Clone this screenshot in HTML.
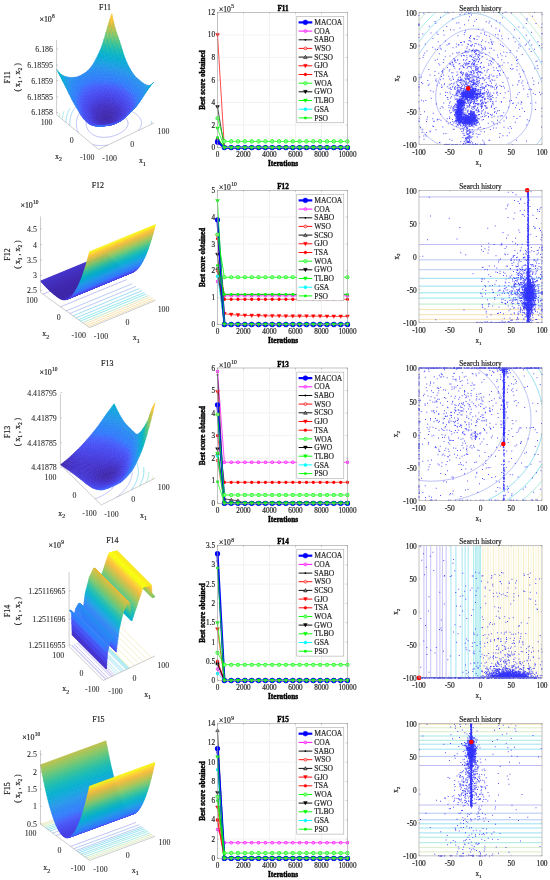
<!DOCTYPE html>
<html><head><meta charset="utf-8"><style>
html,body{margin:0;padding:0;background:#fff;width:550px;height:880px;overflow:hidden}
svg{display:block}
text{font-family:'Liberation Serif','Times New Roman',serif;fill:#1e1e1e;stroke:#1e1e1e;stroke-width:0.18px}
text[font-weight=bold]{stroke-width:0.4px;fill:#000;stroke:#000}
.t3{stroke-width:0.05px}
</style></head><body>
<svg width="550" height="880" viewBox="0 0 550 880" style="font-family:'Liberation Serif','Times New Roman',serif">
<rect width="550" height="880" fill="#fff"/>
<g id="s3d0">
<path d="M116.1,135L115.8,135.1L115.7,135.1L115.4,135.3L115,135.4L114.6,135.6L114.2,135.7L113.8,135.8L113.4,135.9L113.4,135.9L113,136L112.6,136.2L112.2,136.3L111.8,136.4L111.7,136.4L111.3,136.5L110.9,136.6L110.5,136.7L110.4,136.7L110,136.8L109.6,136.8L109.2,136.9L109.1,136.9L108.7,137L108.2,137.1L108.1,137.1L107.8,137.1L107.3,137.2L107.2,137.2L106.8,137.2L106.3,137.3L106.3,137.3L105.8,137.3L105.4,137.3L105.3,137.3L104.8,137.4L104.7,137.4L104.2,137.4L103.9,137.4L103.7,137.4L103.2,137.4L103.1,137.4L102.6,137.3L102.6,137.3L102,137.3L101.9,137.3L101.4,137.3L101.3,137.3L100.7,137.2L100.7,137.2L100.2,137.1L100.1,137.1L99.6,137L99.4,137L99.1,136.9L98.7,136.9L98.6,136.8L98.1,136.7L97.9,136.7L97.6,136.6L97.2,136.5L97.1,136.5L96.7,136.4L96.3,136.2L96.2,136.2L95.9,136.1L95.5,135.9L95.3,135.8L95.1,135.8L94.7,135.6L94.4,135.4L94.1,135.3L94,135.3L93.7,135.1L93.3,134.9L93,134.7L92.7,134.5L92.4,134.3L92.3,134.3L92.1,134.1L91.8,133.9L91.5,133.7L91.2,133.5L91,133.3L90.7,133.1L90.4,132.8L90.2,132.6L90,132.4L89.8,132.2L89.7,132.1L89.5,131.9L89.3,131.7L89.1,131.4L88.9,131.2L88.7,130.9L88.6,130.8L88.5,130.7L88.3,130.4L88.2,130.2L88,129.9L87.9,129.8L87.8,129.6L87.7,129.3L87.5,129.1L87.5,128.9L87.4,128.8L87.3,128.5L87.2,128.2L87.1,128.2L87,127.9L86.9,127.7L86.9,127.5L86.8,127.4L86.7,127.1L86.7,126.9L86.6,126.8L86.5,126.5L86.5,126.3L86.5,126.2L86.4,125.8L86.4,125.8L86.3,125.5L86.3,125.3L86.3,125.2L86.2,124.9L86.2,124.8L86.2,124.6L86.2,124.3L86.2,124.2L86.2,123.9L86.2,123.8L86.2,123.6L86.2,123.3L86.2,123.2L86.2,122.9L86.2,122.9L86.2,122.5L86.2,122.5L86.2,122.1L86.3,122.1L86.3,121.8L86.3,121.7L86.4,121.4L86.4,121.3L86.4,121L86.5,120.9L86.5,120.6L86.6,120.5L86.7,120.2L86.7,120.2L86.8,119.8L86.8,119.8L86.9,119.5L86.9,119.4L87.1,119.1L87.1,119L87.2,118.8L87.3,118.5L87.4,118.5L87.5,118.2L87.6,118.1L87.7,117.9L87.9,117.6L87.9,117.6L88.1,117.3L88.2,117.1L88.3,117L88.5,116.7L88.7,116.5L88.7,116.4L89,116.2L89.2,115.9L89.2,115.9L89.4,115.7L89.7,115.4L89.9,115.2L90,115.2L90.2,115L90.5,114.7L90.8,114.5L91.1,114.3L91.1,114.3L91.4,114.1L91.7,113.9L92,113.7L92.3,113.5L92.7,113.4L93,113.2L93.4,113L93.7,112.9L94.1,112.7L94.4,112.6L94.8,112.4L95.2,112.3L95.5,112.2L95.6,112.2L96,112.1L96.4,111.9L96.8,111.8L97.2,111.7L97.2,111.7L97.7,111.6L98.1,111.6L98.4,111.5L98.6,111.5L99,111.4L99.5,111.3L99.5,111.3L99.9,111.3L100.4,111.2L100.5,111.2L100.9,111.2L101.3,111.1L101.4,111.1L101.9,111.1L102.2,111.1L102.4,111.1L102.9,111L103,111L103.5,111L103.7,111L104,111L104.4,111L104.6,111L105.1,111.1L105.2,111.1L105.7,111.1L105.7,111.1L106.3,111.1L106.4,111.1L106.9,111.2L107,111.2L107.5,111.2L107.6,111.2L108.1,111.3L108.2,111.3L108.8,111.3L108.8,111.3L109.3,111.4L109.4,111.4L109.9,111.5L110.1,111.5L110.4,111.6L110.8,111.6L111,111.7L111.5,111.8L111.5,111.8L112,111.9L112.2,111.9L112.5,112L112.9,112.1L113,112.1L113.5,112.2L113.7,112.2L113.9,112.3L114.4,112.4L114.5,112.4L114.9,112.6L115.3,112.7L115.3,112.7L115.8,112.8L116.2,112.9L116.2,112.9L116.6,113.1L117,113.2L117.1,113.2L117.5,113.4L117.9,113.5L118,113.6L118.3,113.7L118.7,113.8L119,114L119.1,114L119.4,114.1L119.8,114.3L120.2,114.5L120.3,114.5L120.5,114.6L120.9,114.8L121.2,115L121.6,115.2L121.7,115.2L121.9,115.4L122.2,115.5L122.6,115.7L122.9,115.9L123.2,116.1L123.5,116.3L123.8,116.5L124,116.7L124.1,116.7L124.3,117L124.6,117.2L124.8,117.4L125.1,117.6L125.1,117.6L125.3,117.8L125.6,118.1L125.8,118.3L126,118.5L126.2,118.8L126.4,119L126.6,119.3L126.7,119.4L126.8,119.5L127,119.8L127.1,120.1L127.2,120.3L127.3,120.3L127.4,120.6L127.5,120.9L127.6,121L127.6,121.2L127.7,121.5L127.8,121.6L127.8,121.8L127.9,122.1L127.9,122.2L128,122.4L128,122.7L128,122.7L128,123.1L128,123.2L128,123.4L128,123.6L128,123.8L128,124.1L128,124.1L127.9,124.5L127.9,124.5L127.8,124.8L127.8,124.9L127.7,125.2L127.7,125.3L127.6,125.6L127.6,125.7L127.5,125.9L127.4,126.1L127.3,126.2L127.2,126.6L127.2,126.6L127,126.9L126.9,127L126.8,127.2L126.7,127.5L126.6,127.5L126.5,127.8L126.3,128L126.3,128.1L126,128.3L125.8,128.6L125.8,128.6L125.6,128.9L125.4,129.1L125.3,129.2L125.1,129.4L124.9,129.6L124.7,129.8L124.6,129.9L124.4,130.1L124.1,130.3L123.8,130.6L123.8,130.6L123.6,130.8L123.3,131L123,131.2L122.7,131.5L122.7,131.5L122.4,131.7L122.1,131.9L121.8,132.1L121.5,132.3L121.2,132.5L120.9,132.7L120.8,132.7L120.6,132.8L120.3,133L119.9,133.2L119.6,133.4L119.3,133.6L118.9,133.7L118.6,133.9L118.3,134.1L117.9,134.2L117.6,134.4L117.2,134.6L116.8,134.7L116.5,134.9L116.1,135" stroke="#8f8ff0" fill="none" stroke-width="0.6"/>
<path d="M108,145L107.6,145.1L107.1,145.2L107,145.2L106.6,145.2L106.1,145.3L106.1,145.3L105.7,145.3L105.2,145.4L105.2,145.4L104.7,145.4L104.3,145.4L104.2,145.4L103.7,145.5L103.5,145.5L103.1,145.5L102.7,145.5L102.6,145.5L102.1,145.5L102,145.5L101.6,145.5L101.2,145.5L101,145.5L100.5,145.5L100.5,145.5L99.9,145.5L99.8,145.5L99.3,145.5L99.2,145.5L98.7,145.5L98.6,145.4L98.1,145.4L97.9,145.4L97.5,145.4L97.3,145.3L96.9,145.3L96.8,145.3L96.2,145.2L96.2,145.2L95.7,145.1L95.6,145.1L95.1,145L94.9,145L94.6,144.9L94.1,144.8L94.1,144.8L93.6,144.7L93.4,144.7L93.1,144.6L92.7,144.5L92.6,144.5M78.4,132.7L78.3,132.5L78.2,132.2L78.1,132L78,131.9L77.9,131.6L77.8,131.3L77.8,131.3L77.7,131L77.6,130.7L77.6,130.7L77.5,130.4L77.4,130.1L77.4,130.1L77.3,129.8L77.2,129.5L77.2,129.5L77.2,129.2L77.1,128.9L77.1,128.9L77,128.6L77,128.4L76.9,128.3L76.9,128L76.8,127.8L76.8,127.7L76.8,127.4L76.7,127.3L76.7,127.1L76.7,126.8L76.7,126.7L76.6,126.4L76.6,126.3L76.6,126.1L76.5,125.8L76.5,125.8L76.5,125.4L76.5,125.3L76.5,125.1L76.5,124.8L76.5,124.8L76.4,124.4L76.4,124.3L76.4,124.1L76.4,123.9L76.4,123.8L76.4,123.4L76.4,123.4L76.4,123.1L76.4,123L76.4,122.7L76.4,122.5L76.5,122.4L76.5,122.1L76.5,122L76.5,121.7L76.5,121.7L76.5,121.3L76.5,121.3L76.6,120.9L76.6,120.8L76.6,120.6L76.6,120.4L76.7,120.2L76.7,120L76.8,119.8L76.8,119.6L76.8,119.4L76.9,119.3L76.9,119.1L76.9,118.9L77,118.7L77,118.5L77.1,118.3L77.1,118.1L77.2,117.9L77.2,117.8L77.3,117.5L77.4,117.4L77.5,117.1L77.5,117.1L77.6,116.7L77.6,116.7L77.7,116.4L77.8,116.2L77.9,116L78,115.8L78,115.7L78.2,115.4L78.2,115.4L78.3,115L78.4,114.9L78.5,114.7L78.6,114.5L78.6,114.4L78.8,114.1L78.9,114L79,113.8L79.2,113.5L79.2,113.5L79.4,113.2L79.5,113L79.6,112.9L79.8,112.6L79.9,112.5L80,112.4L80.2,112.1L80.4,111.9L80.4,111.8L80.7,111.6L80.9,111.3L80.9,111.3L81.1,111.1L81.4,110.8L81.5,110.7L81.6,110.6L81.9,110.3L82.1,110.1L82.4,109.9L82.4,109.9L82.7,109.6L83,109.4L83.3,109.2L83.6,109L83.6,109L83.9,108.8L84.2,108.6L84.5,108.4L84.8,108.2L85.1,108L85.4,107.8L85.8,107.7L86.1,107.5L86.5,107.3L86.8,107.2L87.2,107L87.5,106.9L87.9,106.7L88.3,106.6L88.7,106.4L89,106.3L89.4,106.2L89.4,106.2L89.8,106.1L90.2,106L90.7,105.8L91.1,105.7L91.1,105.7L91.5,105.6L91.9,105.5L92.4,105.4L92.4,105.4L92.8,105.4L93.2,105.3L93.6,105.2L93.7,105.2L94.2,105.1L94.6,105.1L94.6,105.1L95.1,105L95.6,104.9L95.6,104.9L96.1,104.9L96.5,104.8L96.5,104.8L97,104.8L97.4,104.8L97.5,104.8L98,104.7L98.2,104.7L98.6,104.7L99,104.7L99.1,104.7L99.6,104.7L99.8,104.7L100.1,104.6L100.5,104.6L100.7,104.6L101.2,104.6L101.3,104.6L101.8,104.6L102,104.6L102.3,104.6L102.7,104.7L102.9,104.7L103.3,104.7L103.4,104.7L104,104.7L104,104.7L104.6,104.7L104.7,104.7L105.2,104.8L105.3,104.8L105.8,104.8L105.9,104.8L106.4,104.8L106.5,104.9L107,104.9L107.1,104.9L107.6,105L107.7,105L108.2,105L108.3,105L108.8,105.1L108.9,105.1L109.5,105.2L109.5,105.2L110.1,105.2L110.1,105.2L110.6,105.3L110.8,105.3L111.2,105.4L111.4,105.4L111.7,105.5L112.1,105.5L112.3,105.5L112.8,105.6L112.8,105.6L113.3,105.7L113.5,105.7L113.9,105.8L114.2,105.9L114.4,105.9L114.9,106L114.9,106L115.4,106.1L115.6,106.1L115.9,106.2L116.3,106.3L116.4,106.3L116.9,106.4L117.1,106.5L117.4,106.5L117.8,106.6L117.9,106.6L118.4,106.7L118.6,106.8L118.8,106.9L119.3,107L119.3,107L119.8,107.1L120.1,107.2L120.2,107.2L120.7,107.3L120.9,107.4L121.2,107.5L121.6,107.6L121.8,107.6L122.1,107.7L122.5,107.9L122.6,107.9L122.9,108L123.4,108.1L123.5,108.1L123.8,108.3L124.2,108.4L124.4,108.4L124.7,108.5L125.1,108.7L125.3,108.7L125.5,108.8L125.9,109L126.2,109.1L126.3,109.1L126.7,109.3L127.1,109.4L127.2,109.5L127.5,109.6L127.9,109.7L128.3,109.9L128.3,109.9L128.7,110L129.1,110.2L129.4,110.4L129.5,110.4L129.8,110.5L130.2,110.7L130.6,110.9L130.6,110.9L130.9,111L131.3,111.2L131.6,111.4L132,111.6L132,111.6L132.3,111.7L132.6,111.9L133,112.1L133.3,112.3L133.6,112.5L133.7,112.5L134,112.7L134.3,112.9L134.6,113.1L134.9,113.3L135.2,113.5L135.5,113.7L135.8,113.9L136,114.1L136.3,114.3L136.6,114.5L136.9,114.7L137.1,114.9L137.4,115.2L137.6,115.4L137.9,115.6L138.1,115.8L138.3,116.1L138.6,116.3L138.8,116.5L139,116.8L139.2,117L139.3,117.2L139.4,117.3L139.6,117.5L139.8,117.8L139.9,118.1L140.1,118.3L140.1,118.3L140.3,118.6L140.4,118.9L140.5,119.1L140.6,119.1L140.7,119.4L140.8,119.7L140.9,119.8L140.9,120L141,120.3L141.1,120.5L141.1,120.6L141.2,120.9L141.2,121L141.3,121.2L141.3,121.5L141.4,121.6L141.4,121.8L141.4,122.1L141.4,122.2L141.5,122.5L141.5,122.6L141.5,122.8L141.5,123L141.5,123.2L141.4,123.4L141.4,123.5L141.4,123.9L141.4,123.9L141.3,124.3L141.3,124.3L141.3,124.6L141.3,124.7L141.2,125L141.2,125L141.1,125.4L141.1,125.4L141,125.8L141,125.8L140.8,126.1L140.8,126.2L140.7,126.5L140.6,126.7L140.6,126.8L140.4,127.1L140.4,127.1L140.3,127.4L140.2,127.6L140.1,127.7L139.9,128L139.9,128.1L139.7,128.4L139.6,128.5L139.5,128.7L139.4,128.9L139.3,129L139.2,129.2L138.9,129.5L138.9,129.5L138.7,129.8L138.5,130.1L138.5,130.1L138.3,130.3L138.1,130.6L138,130.6" stroke="#8f9cf0" fill="none" stroke-width="0.6"/>
<path d="M151.6,121L151.6,121L151.7,121.4L151.7,121.5L151.7,121.7L151.7,122L151.7,122L151.7,122.4L151.7,122.5L151.7,122.7L151.7,122.9L151.7,123.1L151.7,123.3L151.7,123.4L151.6,123.7L151.6,123.8L151.6,124.1L151.5,124.2M69.9,125.7L69.9,125.5L69.8,125.2L69.8,125.2L69.8,124.9L69.8,124.7L69.8,124.5L69.8,124.3L69.8,124.2L69.8,123.8L69.8,123.8L69.8,123.5L69.8,123.4L69.8,123.1L69.8,122.9L69.8,122.8L69.8,122.5L69.8,122.4L69.9,122.1L69.9,122L69.9,121.7L69.9,121.6L69.9,121.4L69.9,121.2L69.9,121L69.9,120.8L70,120.7L70,120.4L70,120.3L70,119.9L70,119.9L70.1,119.6L70.1,119.5L70.1,119.2L70.1,119.1L70.2,118.8L70.2,118.7L70.3,118.5L70.3,118.3L70.3,118.1L70.4,117.9L70.4,117.7L70.4,117.6L70.5,117.3L70.5,117.2L70.6,116.9L70.6,116.8L70.7,116.5L70.7,116.4L70.8,116.2L70.8,116.1L70.9,115.8L70.9,115.7L71,115.4L71,115.3L71.1,115L71.1,114.9L71.3,114.6L71.3,114.5L71.4,114.3L71.4,114.1L71.5,113.9L71.6,113.7L71.6,113.6L71.8,113.3L71.8,113.3L71.9,112.9L72,112.8L72.1,112.6L72.2,112.4L72.2,112.3L72.4,112L72.4,111.9L72.5,111.6L72.6,111.5L72.7,111.3L72.9,111L72.9,111L73.1,110.7L73.2,110.5L73.3,110.4L73.4,110.1L73.5,110L73.6,109.8L73.8,109.5L73.8,109.5L74,109.3L74.2,109L74.2,109L74.5,108.7L74.7,108.4L74.7,108.4L74.9,108.2L75.1,107.9L75.2,107.9L75.4,107.7L75.6,107.4L75.8,107.2L75.9,107.1L76.1,106.9L76.4,106.7L76.5,106.5L76.6,106.4L76.9,106.2L77.2,106L77.4,105.7L77.5,105.7L77.7,105.5L78,105.3L78.3,105.1L78.6,104.9L78.9,104.7L78.9,104.7L79.2,104.5L79.5,104.3L79.8,104.1L80.2,103.9L80.5,103.8L80.8,103.6L81.2,103.4L81.5,103.3L81.9,103.1L82.2,102.9L82.6,102.8L83,102.6L83.3,102.5L83.7,102.4L84,102.3L84.1,102.2L84.5,102.1L84.9,102L85.3,101.8L85.7,101.7L86,101.6L86.1,101.6L86.5,101.5L86.9,101.4L87.4,101.3L87.5,101.3L87.8,101.2L88.2,101.1L88.7,101L88.7,101L89.1,101L89.6,100.9L89.8,100.8L90,100.8L90.5,100.7L90.9,100.7L91,100.7L91.4,100.6L91.8,100.6L91.9,100.6L92.4,100.5L92.8,100.5L92.9,100.5L93.4,100.4L93.6,100.4L93.9,100.4L94.4,100.3L94.5,100.3L94.9,100.3L95.3,100.3L95.4,100.3L95.9,100.3L96.1,100.2L96.4,100.2L96.8,100.2L97,100.2L97.5,100.2L97.6,100.2L98,100.2L98.3,100.2L98.6,100.2L99,100.2L99.1,100.2L99.7,100.2L99.7,100.2L100.2,100.2L100.4,100.2L100.8,100.2L101.1,100.2L101.4,100.3L101.8,100.3L101.9,100.3L102.4,100.3L102.5,100.3L103.1,100.3L103.1,100.3L103.7,100.4L103.7,100.4L104.3,100.4L104.3,100.4L104.9,100.4L105,100.5L105.5,100.5L105.6,100.5L106.1,100.5L106.2,100.6L106.7,100.6L106.8,100.6L107.3,100.7L107.4,100.7L107.9,100.7L108,100.7L108.6,100.8L108.6,100.8L109.1,100.9L109.2,100.9L109.7,100.9L109.8,100.9L110.3,101L110.5,101L110.9,101.1L111.1,101.1L111.4,101.1L111.8,101.2L112,101.2L112.5,101.3L112.5,101.3L113.1,101.4L113.1,101.4L113.6,101.5L113.8,101.5L114.1,101.6L114.5,101.6L114.7,101.6L115.2,101.7L115.2,101.7L115.7,101.8L115.8,101.8L116.3,101.9L116.5,102L116.8,102L117.2,102.1L117.3,102.1L117.8,102.2L118,102.2L118.3,102.3L118.7,102.4L118.8,102.4L119.3,102.5L119.4,102.5L119.8,102.6L120.1,102.7L120.3,102.7L120.8,102.8L120.9,102.8L121.3,102.9L121.6,103L121.8,103L122.3,103.2L122.4,103.2L122.8,103.3L123.1,103.4L123.2,103.4L123.7,103.5L123.9,103.6L124.2,103.6L124.7,103.7L124.7,103.7L125.1,103.9L125.5,104L125.6,104L126,104.1L126.3,104.2L126.5,104.2L127,104.3L127.1,104.4L127.4,104.5L127.9,104.6L128,104.6L128.3,104.7L128.7,104.9L128.8,104.9L129.2,105L129.6,105.1L129.7,105.1L130.1,105.3L130.5,105.4L130.6,105.4L130.9,105.5L131.3,105.7L131.5,105.7L131.8,105.8L132.2,106L132.4,106L132.6,106.1L133,106.3L133.3,106.4L133.4,106.4L133.8,106.5L134.2,106.7L134.3,106.7" stroke="#6fb5ee" fill="none" stroke-width="0.6"/>
<path d="M66,122.4L66,122.2L66,122L66,121.9L66,121.6L66,121.5L66,121.2L66,121.2L66.1,120.8L66.1,120.7L66.1,120.5L66.1,120.3L66.1,120.1L66.2,119.9L66.2,119.7L66.2,119.5L66.2,119.4L66.3,119.1L66.3,119L66.3,118.7L66.3,118.6L66.4,118.3L66.4,118.3L66.4,117.9L66.4,117.9L66.5,117.5L66.5,117.5L66.6,117.1L66.6,117.1L66.6,116.8L66.6,116.7L66.7,116.4L66.7,116.3L66.8,116L66.8,115.9L66.9,115.6L66.9,115.5L67,115.2L67,115.2L67.1,114.8L67.1,114.8L67.2,114.4L67.2,114.4L67.3,114.1L67.3,114L67.4,113.7L67.4,113.6L67.5,113.4L67.6,113.2L67.6,113L67.7,112.8L67.8,112.7L67.9,112.4L67.9,112.3L68,112L68,112L68.2,111.6L68.2,111.5L68.3,111.3L68.4,111.1L68.5,111L68.6,110.7L68.6,110.6L68.8,110.3L68.8,110.2L68.9,110L69,109.8L69.1,109.7L69.3,109.4L69.3,109.3L69.4,109.1L69.6,108.8L69.6,108.8L69.8,108.4L69.8,108.4M92,97.7L92.3,97.7L92.8,97.7L92.8,97.7L93.3,97.7L93.6,97.6L93.8,97.6L94.4,97.6L94.4,97.6L94.9,97.6L95.2,97.6L95.4,97.6L95.9,97.6L96,97.6L96.5,97.6L96.6,97.6L97,97.6L97.3,97.6L97.6,97.6L98,97.6L98.1,97.6L98.7,97.6L98.7,97.6L99.3,97.6L99.4,97.6L99.8,97.6L100.1,97.6L100.4,97.7L100.7,97.7L101,97.7L101.4,97.7L101.6,97.7L102,97.7L102.2,97.7L102.7,97.8L102.7,97.8L103.3,97.8L103.3,97.8L103.9,97.9L103.9,97.9L104.5,97.9L104.5,97.9L105.1,98L105.2,98L105.8,98L105.8,98L106.4,98.1L106.4,98.1L107,98.1L107,98.1L107.5,98.2L107.6,98.2L108.1,98.3L108.2,98.3L108.7,98.3L108.9,98.3L109.3,98.4L109.5,98.4L109.9,98.5L110.2,98.5L110.4,98.5L110.8,98.6L111,98.6L111.5,98.7L111.6,98.7L112.1,98.7L112.1,98.8L112.7,98.8L112.8,98.8L113.2,98.9L113.4,98.9L113.8,99L114.1,99L114.3,99.1L114.8,99.1L114.8,99.2L115.4,99.2L115.4,99.3L115.9,99.3L116.1,99.4L116.4,99.4L116.8,99.5L117,99.5L117.5,99.6L117.5,99.6L118,99.7L118.2,99.7L118.5,99.8L118.9,99.9L119.1,99.9L119.6,100L119.6,100L120.1,100.1L120.3,100.1L120.6,100.2L121.1,100.3L121.1,100.3L121.6,100.4L121.8,100.4L122.1,100.5L122.5,100.6L122.6,100.6L123.1,100.7L123.3,100.7L123.6,100.8L124,100.9L124.1,100.9L124.6,101L124.7,101.1L125,101.1L125.5,101.3L125.5,101.3L126,101.4L126.3,101.4L126.5,101.5L127,101.6L127,101.6L127.4,101.7L127.8,101.8L127.9,101.8L128.4,102L128.6,102" stroke="#5fd0e8" fill="none" stroke-width="0.6"/>
<path d="M62.3,119.4L62.4,119.2L62.4,119L62.4,118.8L62.4,118.6L62.4,118.4L62.5,118.2L62.5,118.1L62.5,117.8L62.5,117.7L62.6,117.4L62.6,117.3L62.7,117L62.7,117L62.7,116.6L62.7,116.6L62.8,116.2L62.8,116.2L62.9,115.8L62.9,115.8L62.9,115.4L62.9,115.4L63,115.1L63,115L63.1,114.7L63.1,114.7L63.2,114.3L63.2,114.3L63.3,113.9L63.3,113.9L63.4,113.5L63.4,113.5L63.5,113.2L63.5,113.1L63.6,112.8L63.6,112.7L63.7,112.4L63.7,112.3L63.8,112.1L63.8,111.9L63.9,111.7L64,111.5L64,111.4L64.1,111.1M97.7,95L98.3,95L98.4,95L98.9,95L99.1,95L99.4,95.1L99.7,95.1L100,95.1L100.4,95.1L100.6,95.1L101,95.1L101.2,95.1L101.6,95.2L101.8,95.2L102.3,95.2L102.4,95.2L102.9,95.3L103,95.3L103.5,95.3L103.6,95.3L104.1,95.4L104.2,95.4L104.7,95.4L104.8,95.4L105.3,95.5L105.4,95.5L105.9,95.5L106,95.5L106.5,95.6L106.7,95.6L107.1,95.7L107.3,95.7L107.7,95.7L107.9,95.7L108.3,95.8L108.6,95.8L108.8,95.8L109.2,95.9L109.4,95.9L109.8,96L110,96L110.5,96L110.6,96.1L111.1,96.1L111.1,96.1L111.7,96.2L111.8,96.2L112.2,96.3L112.4,96.3L112.8,96.4L113.1,96.4L113.3,96.4L113.8,96.5L113.9,96.5L114.4,96.6L114.4,96.6L115,96.7L115.1,96.7L115.5,96.8L115.8,96.8L116.1,96.9L116.4,96.9L116.6,96.9L117.1,97L117.1,97L117.7,97.1L117.8,97.1L118.2,97.2L118.5,97.3L118.7,97.3L119.2,97.4L119.2,97.4L119.8,97.5L119.9,97.5L120.3,97.6L120.6,97.6L120.8,97.7L121.3,97.8L121.3,97.8L121.8,97.9L122,97.9L122.3,98L122.7,98L122.9,98.1L123.4,98.2L123.4,98.2L123.9,98.3L124.2,98.3" stroke="#6fdfe0" fill="none" stroke-width="0.6"/>
<path d="M59.2,116.9L59.3,116.5L59.3,116.5L59.3,116.1L59.3,116.1L59.4,115.8L59.4,115.7L59.4,115.4L59.5,115.3L59.5,115L59.5,114.9L59.6,114.6L59.6,114.5L59.6,114.3L59.7,114.1L59.7,113.9L59.8,113.7L59.8,113.5L59.8,113.3L59.9,113.1M102,93L102.4,93L102.6,93L103,93L103.2,93.1L103.6,93.1L103.8,93.1L104.2,93.2L104.4,93.2L104.9,93.2L105,93.2L105.5,93.3L105.6,93.3L106.1,93.3L106.2,93.3L106.7,93.4L106.8,93.4L107.3,93.5L107.4,93.5L107.9,93.5L108,93.5L108.5,93.6L108.6,93.6L109.1,93.7L109.3,93.7L109.6,93.7L109.9,93.8L110.2,93.8L110.6,93.9L110.8,93.9L111.2,93.9L111.3,94L111.9,94L111.9,94L112.5,94.1L112.5,94.1L113,94.2L113.2,94.2L113.6,94.3L113.8,94.3L114.1,94.4L114.5,94.4L114.7,94.4L115.2,94.5L115.2,94.5L115.8,94.6L115.8,94.6L116.3,94.7L116.5,94.7L116.8,94.8L117.2,94.8L117.4,94.9L117.9,94.9L117.9,94.9L118.4,95L118.5,95L119,95.1L119.2,95.2L119.5,95.2L119.9,95.3L120,95.3L120.6,95.4L120.6,95.4" stroke="#a0e0b0" fill="none" stroke-width="0.6"/>
<path d="M105.5,91.3L105.8,91.3L106.1,91.3L106.5,91.4L106.6,91.4L107.1,91.5L107.2,91.5L107.7,91.5L107.8,91.5L108.4,91.6L108.4,91.6L108.9,91.7L109,91.7L109.5,91.7L109.7,91.8L110.1,91.8L110.3,91.8L110.7,91.9L111,91.9L111.2,92L111.6,92L111.8,92L112.3,92.1L112.3,92.1L112.9,92.2L112.9,92.2L113.4,92.3L113.6,92.3L114,92.3L114.2,92.4L114.6,92.4L114.9,92.5L115.1,92.5L115.6,92.6L115.6,92.6L116.2,92.7L116.2,92.7L116.7,92.8L116.9,92.8L117.3,92.8L117.6,92.9" stroke="#e8d890" fill="none" stroke-width="0.6"/>
<g stroke-width="0.6" stroke-linejoin="round">
<path d="M111.4 26.3L113.4 21.1L111.9 13.7L109.9 19.2z" fill="#fac437" stroke="#fac437"/>
<path d="M109.5 32.4L111.4 26.3L109.9 19.2L108 25.6z" fill="#d3be44" stroke="#d3be44"/>
<path d="M112.9 32.2L114.9 27.2L113.4 21.1L111.4 26.3z" fill="#cebf46" stroke="#cebf46"/>
<path d="M107.5 38.9L109.5 32.4L108 25.6L106 32.4z" fill="#9cc55d" stroke="#9cc55d"/>
<path d="M111 38L112.9 32.2L111.4 26.3L109.5 32.4z" fill="#a0c45b" stroke="#a0c45b"/>
<path d="M114.4 36.9L116.4 32.1L114.9 27.2L112.9 32.2z" fill="#a4c459" stroke="#a4c459"/>
<path d="M105.5 45.5L107.5 38.9L106 32.4L104 39.3z" fill="#5dc680" stroke="#5dc680"/>
<path d="M109 44.3L111 38L109.5 32.4L107.5 38.9z" fill="#67c67a" stroke="#67c67a"/>
<path d="M112.5 42.5L114.4 36.9L112.9 32.2L111 38z" fill="#75c672" stroke="#75c672"/>
<path d="M115.9 41L117.9 36.4L116.4 32.1L114.4 36.9z" fill="#82c76b" stroke="#82c76b"/>
<path d="M103.5 51.5L105.5 45.5L104 39.3L102 45.6z" fill="#29bfa4" stroke="#29bfa4"/>
<path d="M107 50.7L109 44.3L107.5 38.9L105.5 45.5z" fill="#30c09f" stroke="#30c09f"/>
<path d="M110.5 48.6L112.5 42.5L111 38L109 44.3z" fill="#40c393" stroke="#40c393"/>
<path d="M114 46.5L115.9 41L114.4 36.9L112.5 42.5z" fill="#53c586" stroke="#53c586"/>
<path d="M101.6 56.2L103.5 51.5L102 45.6L100.1 50.5z" fill="#0fb6bf" stroke="#0fb6bf"/>
<path d="M117.4 45.1L119.4 40.7L117.9 36.4L115.9 41z" fill="#60c67e" stroke="#60c67e"/>
<path d="M105 56.5L107 50.7L105.5 45.5L103.5 51.5z" fill="#10b7be" stroke="#10b7be"/>
<path d="M108.5 54.8L110.5 48.6L109 44.3L107 50.7z" fill="#19bab4" stroke="#19bab4"/>
<path d="M112 52.4L114 46.5L112.5 42.5L110.5 48.6z" fill="#27bea6" stroke="#27bea6"/>
<path d="M99.6 60.2L101.6 56.2L100.1 50.5L98.1 54.7z" fill="#06afcf" stroke="#06afcf"/>
<path d="M115.5 50.4L117.4 45.1L115.9 41L114 46.5z" fill="#38c199" stroke="#38c199"/>
<path d="M103.1 61L105 56.5L103.5 51.5L101.6 56.2z" fill="#08aed1" stroke="#08aed1"/>
<path d="M118.9 49.7L120.9 45.4L119.4 40.7L117.4 45.1z" fill="#41c393" stroke="#41c393"/>
<path d="M106.5 60.4L108.5 54.8L107 50.7L105 56.5z" fill="#07b0cd" stroke="#07b0cd"/>
<path d="M110 58.4L112 52.4L110.5 48.6L108.5 54.8z" fill="#0db5c2" stroke="#0db5c2"/>
<path d="M97.6 64.1L99.6 60.2L98.1 54.7L96.1 58.7z" fill="#0fa8d9" stroke="#0fa8d9"/>
<path d="M113.5 56.2L115.5 50.4L114 46.5L112 52.4z" fill="#17b9b6" stroke="#17b9b6"/>
<path d="M101.1 64.9L103.1 61L101.6 56.2L99.6 60.2z" fill="#12a6dc" stroke="#12a6dc"/>
<path d="M117 54.8L118.9 49.7L117.4 45.1L115.5 50.4z" fill="#22bdac" stroke="#22bdac"/>
<path d="M104.6 64.8L106.5 60.4L105 56.5L103.1 61z" fill="#11a7dc" stroke="#11a7dc"/>
<path d="M120.4 54.5L122.4 50.3L120.9 45.4L118.9 49.7z" fill="#24bda9" stroke="#24bda9"/>
<path d="M108 63.9L110 58.4L108.5 54.8L106.5 60.4z" fill="#0caad6" stroke="#0caad6"/>
<path d="M95.6 67.6L97.6 64.1L96.1 58.7L94.1 62.5z" fill="#1aa0e3" stroke="#1aa0e3"/>
<path d="M111.5 61.9L113.5 56.2L112 52.4L110 58.4z" fill="#07b0cd" stroke="#07b0cd"/>
<path d="M99.1 68.6L101.1 64.9L99.6 60.2L97.6 64.1z" fill="#1e9de5" stroke="#1e9de5"/>
<path d="M115 60.3L117 54.8L115.5 50.4L113.5 56.2z" fill="#0cb4c4" stroke="#0cb4c4"/>
<path d="M102.6 68.6L104.6 64.8L103.1 61L101.1 64.9z" fill="#1f9de5" stroke="#1f9de5"/>
<path d="M118.5 59.4L120.4 54.5L118.9 49.7L117 54.8z" fill="#0fb6bf" stroke="#0fb6bf"/>
<path d="M106.1 68.2L108 63.9L106.5 60.4L104.6 64.8z" fill="#1b9fe3" stroke="#1b9fe3"/>
<path d="M93.7 70.6L95.6 67.6L94.1 62.5L92.2 65.6z" fill="#2598ea" stroke="#2598ea"/>
<path d="M122 59.1L123.9 55.1L122.4 50.3L120.4 54.5z" fill="#10b6be" stroke="#10b6be"/>
<path d="M109.5 67.3L111.5 61.9L110 58.4L108 63.9z" fill="#13a5de" stroke="#13a5de"/>
<path d="M97.1 72L99.1 68.6L97.6 64.1L95.6 67.6z" fill="#2894ed" stroke="#2894ed"/>
<path d="M113 65.9L115 60.3L113.5 56.2L111.5 61.9z" fill="#0daad7" stroke="#0daad7"/>
<path d="M100.6 72.2L102.6 68.6L101.1 64.9L99.1 68.6z" fill="#2893ed" stroke="#2893ed"/>
<path d="M116.5 64.7L118.5 59.4L117 54.8L115 60.3z" fill="#08aed1" stroke="#08aed1"/>
<path d="M104.1 71.9L106.1 68.2L104.6 64.8L102.6 68.6z" fill="#2895ec" stroke="#2895ec"/>
<path d="M91.7 72.8L93.7 70.6L92.2 65.6L90.2 68z" fill="#2992ee" stroke="#2992ee"/>
<path d="M120 63.8L122 59.1L120.4 54.5L118.5 59.4z" fill="#07b0ce" stroke="#07b0ce"/>
<path d="M107.6 71.5L109.5 67.3L108 63.9L106.1 68.2z" fill="#2598e9" stroke="#2598e9"/>
<path d="M95.2 74.8L97.1 72L95.6 67.6L93.7 70.6z" fill="#2a8cf1" stroke="#2a8cf1"/>
<path d="M123.5 63.1L125.4 59.3L123.9 55.1L122 59.1z" fill="#07b0cc" stroke="#07b0cc"/>
<path d="M111 71.1L113 65.9L111.5 61.9L109.5 67.3z" fill="#1e9de5" stroke="#1e9de5"/>
<path d="M98.6 75.5L100.6 72.2L99.1 68.6L97.1 72z" fill="#2b8af3" stroke="#2b8af3"/>
<path d="M114.5 70.1L116.5 64.7L115 60.3L113 65.9z" fill="#17a2e0" stroke="#17a2e0"/>
<path d="M102.1 75.4L104.1 71.9L102.6 68.6L100.6 72.2z" fill="#2a8bf2" stroke="#2a8bf2"/>
<path d="M89.7 74.8L91.7 72.8L90.2 68L88.2 70.2z" fill="#2a8df1" stroke="#2a8df1"/>
<path d="M118 69L120 63.8L118.5 59.4L116.5 64.7z" fill="#12a6dc" stroke="#12a6dc"/>
<path d="M105.6 75.1L107.6 71.5L106.1 68.2L104.1 71.9z" fill="#2a8df0" stroke="#2a8df0"/>
<path d="M93.2 76.9L95.2 74.8L93.7 70.6L91.7 72.8z" fill="#2c86f5" stroke="#2c86f5"/>
<path d="M121.5 67.7L123.5 63.1L122 59.1L120 63.8z" fill="#0ea9d9" stroke="#0ea9d9"/>
<path d="M109.1 75.2L111 71.1L109.5 67.3L107.6 71.5z" fill="#2990ef" stroke="#2990ef"/>
<path d="M96.7 78.2L98.6 75.5L97.1 72L95.2 74.8z" fill="#2e83f7" stroke="#2e83f7"/>
<path d="M125 66.4L126.9 62.7L125.4 59.3L123.5 63.1z" fill="#0cabd6" stroke="#0cabd6"/>
<path d="M112.5 75.1L114.5 70.1L113 65.9L111 71.1z" fill="#2894ed" stroke="#2894ed"/>
<path d="M100.1 78.6L102.1 75.4L100.6 72.2L98.6 75.5z" fill="#2e83f7" stroke="#2e83f7"/>
<path d="M87.7 76.5L89.7 74.8L88.2 70.2L86.2 72z" fill="#2b8af3" stroke="#2b8af3"/>
<path d="M116 74.2L118 69L116.5 64.7L114.5 70.1z" fill="#2499e9" stroke="#2499e9"/>
<path d="M103.6 78.6L105.6 75.1L104.1 71.9L102.1 75.4z" fill="#2d84f6" stroke="#2d84f6"/>
<path d="M91.2 78.8L93.2 76.9L91.7 72.8L89.7 74.8z" fill="#2e83f7" stroke="#2e83f7"/>
<path d="M119.5 72.6L121.5 67.7L120 63.8L118 69z" fill="#1e9de5" stroke="#1e9de5"/>
<path d="M107.1 78.7L109.1 75.2L107.6 71.5L105.6 75.1z" fill="#2c85f5" stroke="#2c85f5"/>
<path d="M94.7 80.2L96.7 78.2L95.2 74.8L93.2 76.9z" fill="#307ff9" stroke="#307ff9"/>
<path d="M123 70.8L125 66.4L123.5 63.1L121.5 67.7z" fill="#17a3e0" stroke="#17a3e0"/>
<path d="M110.6 79.1L112.5 75.1L111 71.1L109.1 75.2z" fill="#2c86f5" stroke="#2c86f5"/>
<path d="M98.2 81.2L100.1 78.6L98.6 75.5L96.7 78.2z" fill="#317efa" stroke="#317efa"/>
<path d="M85.8 77.7L87.7 76.5L86.2 72L84.2 73.3z" fill="#2b88f4" stroke="#2b88f4"/>
<path d="M126.5 69.4L128.4 65.8L126.9 62.7L125 66.4z" fill="#12a6dc" stroke="#12a6dc"/>
<path d="M114.1 79L116 74.2L114.5 70.1L112.5 75.1z" fill="#2b89f3" stroke="#2b89f3"/>
<path d="M101.6 81.7L103.6 78.6L102.1 75.4L100.1 78.6z" fill="#317efa" stroke="#317efa"/>
<path d="M89.2 80.3L91.2 78.8L89.7 74.8L87.7 76.5z" fill="#2f81f8" stroke="#2f81f8"/>
<path d="M117.5 77.7L119.5 72.6L118 69L116 74.2z" fill="#298fef" stroke="#298fef"/>
<path d="M105.1 82.1L107.1 78.7L105.6 75.1L103.6 78.6z" fill="#317ffa" stroke="#317ffa"/>
<path d="M92.7 82.1L94.7 80.2L93.2 76.9L91.2 78.8z" fill="#327cfb" stroke="#327cfb"/>
<path d="M121 75.6L123 70.8L121.5 67.7L119.5 72.6z" fill="#2796eb" stroke="#2796eb"/>
<path d="M108.6 82.5L110.6 79.1L109.1 75.2L107.1 78.7z" fill="#307ffa" stroke="#307ffa"/>
<path d="M96.2 83.2L98.2 81.2L96.7 78.2L94.7 80.2z" fill="#3479fd" stroke="#3479fd"/>
<path d="M83.8 78.8L85.8 77.7L84.2 73.3L82.3 74.5z" fill="#2c87f4" stroke="#2c87f4"/>
<path d="M124.5 73.6L126.5 69.4L125 66.4L123 70.8z" fill="#1f9de6" stroke="#1f9de6"/>
<path d="M112.1 82.8L114.1 79L112.5 75.1L110.6 79.1z" fill="#307ff9" stroke="#307ff9"/>
<path d="M99.7 84.3L101.6 81.7L100.1 78.6L98.2 81.2z" fill="#3775fc" stroke="#3775fc"/>
<path d="M87.3 81.5L89.2 80.3L87.7 76.5L85.8 77.7z" fill="#3080f9" stroke="#3080f9"/>
<path d="M128 72L129.9 68.5L128.4 65.8L126.5 69.4z" fill="#18a1e1" stroke="#18a1e1"/>
<path d="M115.6 82.4L117.5 77.7L116 74.2L114.1 79z" fill="#2f82f8" stroke="#2f82f8"/>
<path d="M103.1 85.1L105.1 82.1L103.6 78.6L101.6 81.7z" fill="#3775fc" stroke="#3775fc"/>
<path d="M90.7 83.6L92.7 82.1L91.2 78.8L89.2 80.3z" fill="#337afd" stroke="#337afd"/>
<path d="M119 80.5L121 75.6L119.5 72.6L117.5 77.7z" fill="#2b88f4" stroke="#2b88f4"/>
<path d="M106.6 85.8L108.6 82.5L107.1 78.7L105.1 82.1z" fill="#3874fc" stroke="#3874fc"/>
<path d="M94.2 85L96.2 83.2L94.7 80.2L92.7 82.1z" fill="#3a71fc" stroke="#3a71fc"/>
<path d="M81.8 79.7L83.8 78.8L82.3 74.5L80.3 75.6z" fill="#2c86f5" stroke="#2c86f5"/>
<path d="M122.5 78.3L124.5 73.6L123 70.8L121 75.6z" fill="#2990ef" stroke="#2990ef"/>
<path d="M110.1 86.2L112.1 82.8L110.6 79.1L108.6 82.5z" fill="#3873fc" stroke="#3873fc"/>
<path d="M97.7 86.2L99.7 84.3L98.2 81.2L96.2 83.2z" fill="#3e6bfc" stroke="#3e6bfc"/>
<path d="M85.3 82.5L87.3 81.5L85.8 77.7L83.8 78.8z" fill="#307ff9" stroke="#307ff9"/>
<path d="M126 76.1L128 72L126.5 69.4L124.5 73.6z" fill="#2598ea" stroke="#2598ea"/>
<path d="M113.6 86.1L115.6 82.4L114.1 79L112.1 82.8z" fill="#3676fc" stroke="#3676fc"/>
<path d="M101.2 87.6L103.1 85.1L101.6 81.7L99.7 84.3z" fill="#4166fc" stroke="#4166fc"/>
<path d="M88.8 84.7L90.7 83.6L89.2 80.3L87.3 81.5z" fill="#3577fc" stroke="#3577fc"/>
<path d="M129.5 74.3L131.4 71L129.9 68.5L128 72z" fill="#1e9de5" stroke="#1e9de5"/>
<path d="M117.1 85.1L119 80.5L117.5 77.7L115.6 82.4z" fill="#327dfb" stroke="#327dfb"/>
<path d="M104.6 88.7L106.6 85.8L105.1 82.1L103.1 85.1z" fill="#4463fc" stroke="#4463fc"/>
<path d="M92.2 86.5L94.2 85L92.7 82.1L90.7 83.6z" fill="#3d6cfc" stroke="#3d6cfc"/>
<path d="M79.8 80.5L81.8 79.7L80.3 75.6L78.3 76.5z" fill="#2c86f5" stroke="#2c86f5"/>
<path d="M120.5 83.1L122.5 78.3L121 75.6L119 80.5z" fill="#2e83f7" stroke="#2e83f7"/>
<path d="M108.1 89.4L110.1 86.2L108.6 82.5L106.6 85.8z" fill="#4561fb" stroke="#4561fb"/>
<path d="M95.7 88L97.7 86.2L96.2 83.2L94.2 85z" fill="#4364fc" stroke="#4364fc"/>
<path d="M83.3 83.3L85.3 82.5L83.8 78.8L81.8 79.7z" fill="#307ffa" stroke="#307ffa"/>
<path d="M124 80.7L126 76.1L124.5 73.6L122.5 78.3z" fill="#2a8bf2" stroke="#2a8bf2"/>
<path d="M111.6 89.4L113.6 86.1L112.1 82.8L110.1 86.2z" fill="#4462fc" stroke="#4462fc"/>
<path d="M99.2 89.5L101.2 87.6L99.7 84.3L97.7 86.2z" fill="#465efa" stroke="#465efa"/>
<path d="M86.8 85.6L88.8 84.7L87.3 81.5L85.3 82.5z" fill="#3677fc" stroke="#3677fc"/>
<path d="M127.5 78.3L129.5 74.3L128 72L126 76.1z" fill="#2894ed" stroke="#2894ed"/>
<path d="M115.1 88.8L117.1 85.1L115.6 82.4L113.6 86.1z" fill="#4068fc" stroke="#4068fc"/>
<path d="M102.7 91.1L104.6 88.7L103.1 85.1L101.2 87.6z" fill="#4759f7" stroke="#4759f7"/>
<path d="M90.3 87.6L92.2 86.5L90.7 83.6L88.8 84.7z" fill="#3f69fc" stroke="#3f69fc"/>
<path d="M131 76.6L132.9 73.4L131.4 71L129.5 74.3z" fill="#239ae8" stroke="#239ae8"/>
<path d="M77.9 80.9L79.8 80.5L78.3 76.5L76.3 77.1z" fill="#2c87f4" stroke="#2c87f4"/>
<path d="M118.6 87.5L120.5 83.1L119 80.5L117.1 85.1z" fill="#3676fc" stroke="#3676fc"/>
<path d="M106.2 92.2L108.1 89.4L106.6 85.8L104.6 88.7z" fill="#4756f6" stroke="#4756f6"/>
<path d="M93.7 89.4L95.7 88L94.2 85L92.2 86.5z" fill="#465ffb" stroke="#465ffb"/>
<path d="M81.3 84L83.3 83.3L81.8 79.7L79.8 80.5z" fill="#307ff9" stroke="#307ff9"/>
<path d="M122 85.3L124 80.7L122.5 78.3L120.5 83.1z" fill="#3080f9" stroke="#3080f9"/>
<path d="M109.6 92.5L111.6 89.4L110.1 86.2L108.1 89.4z" fill="#4755f5" stroke="#4755f5"/>
<path d="M97.2 91.2L99.2 89.5L97.7 86.2L95.7 88z" fill="#4759f8" stroke="#4759f8"/>
<path d="M84.8 86.4L86.8 85.6L85.3 82.5L83.3 83.3z" fill="#3677fc" stroke="#3677fc"/>
<path d="M125.5 82.8L127.5 78.3L126 76.1L124 80.7z" fill="#2c87f4" stroke="#2c87f4"/>
<path d="M113.1 92L115.1 88.8L113.6 86.1L111.6 89.4z" fill="#4758f7" stroke="#4758f7"/>
<path d="M100.7 92.9L102.7 91.1L101.2 87.6L99.2 89.5z" fill="#4753f4" stroke="#4753f4"/>
<path d="M88.3 88.5L90.3 87.6L88.8 84.7L86.8 85.6z" fill="#3f69fc" stroke="#3f69fc"/>
<path d="M129 80.5L131 76.6L129.5 74.3L127.5 78.3z" fill="#2990ef" stroke="#2990ef"/>
<path d="M75.9 81.1L77.9 80.9L76.3 77.1L74.4 77.3z" fill="#2b8af3" stroke="#2b8af3"/>
<path d="M116.6 91.2L118.6 87.5L117.1 85.1L115.1 88.8z" fill="#465ffb" stroke="#465ffb"/>
<path d="M104.2 94.5L106.2 92.2L104.6 88.7L102.7 91.1z" fill="#484df0" stroke="#484df0"/>
<path d="M91.8 90.5L93.7 89.4L92.2 86.5L90.3 87.6z" fill="#465dfa" stroke="#465dfa"/>
<path d="M132.5 78.7L134.5 75.5L132.9 73.4L131 76.6z" fill="#2796eb" stroke="#2796eb"/>
<path d="M79.4 84.4L81.3 84L79.8 80.5L77.9 80.9z" fill="#2f80f9" stroke="#2f80f9"/>
<path d="M120.1 89.7L122 85.3L120.5 83.1L118.6 87.5z" fill="#3c6efc" stroke="#3c6efc"/>
<path d="M107.7 95.3L109.6 92.5L108.1 89.4L106.2 92.2z" fill="#484cef" stroke="#484cef"/>
<path d="M95.2 92.6L97.2 91.2L95.7 88L93.7 89.4z" fill="#4756f6" stroke="#4756f6"/>
<path d="M82.8 87.1L84.8 86.4L83.3 83.3L81.3 84z" fill="#3578fd" stroke="#3578fd"/>
<path d="M123.5 87.2L125.5 82.8L124 80.7L122 85.3z" fill="#317dfb" stroke="#317dfb"/>
<path d="M111.1 95.1L113.1 92L111.6 89.4L109.6 92.5z" fill="#484df0" stroke="#484df0"/>
<path d="M98.7 94.6L100.7 92.9L99.2 89.5L97.2 91.2z" fill="#484ef1" stroke="#484ef1"/>
<path d="M86.3 89.3L88.3 88.5L86.8 85.6L84.8 86.4z" fill="#3f69fc" stroke="#3f69fc"/>
<path d="M127 84.8L129 80.5L127.5 78.3L125.5 82.8z" fill="#2d85f6" stroke="#2d85f6"/>
<path d="M73.9 81.1L75.9 81.1L74.4 77.3L72.4 77.5z" fill="#2a8cf1" stroke="#2a8cf1"/>
<path d="M114.6 94.3L116.6 91.2L115.1 88.8L113.1 92z" fill="#4752f3" stroke="#4752f3"/>
<path d="M102.2 96.3L104.2 94.5L102.7 91.1L100.7 92.9z" fill="#4749ed" stroke="#4749ed"/>
<path d="M89.8 91.4L91.8 90.5L90.3 87.6L88.3 88.5z" fill="#465dfa" stroke="#465dfa"/>
<path d="M130.5 82.5L132.5 78.7L131 76.6L129 80.5z" fill="#2a8df1" stroke="#2a8df1"/>
<path d="M77.4 84.4L79.4 84.4L77.9 80.9L75.9 81.1z" fill="#2e82f7" stroke="#2e82f7"/>
<path d="M118.1 93.2L120.1 89.7L118.6 87.5L116.6 91.2z" fill="#465af8" stroke="#465af8"/>
<path d="M105.7 97.5L107.7 95.3L106.2 92.2L104.2 94.5z" fill="#4746e9" stroke="#4746e9"/>
<path d="M93.3 93.7L95.2 92.6L93.7 89.4L91.8 90.5z" fill="#4754f5" stroke="#4754f5"/>
<path d="M134 80.3L136 77.3L134.5 75.5L132.5 78.7z" fill="#2894ed" stroke="#2894ed"/>
<path d="M80.9 87.4L82.8 87.1L81.3 84L79.4 84.4z" fill="#337bfc" stroke="#337bfc"/>
<path d="M121.6 91.5L123.5 87.2L122 85.3L120.1 89.7z" fill="#4068fc" stroke="#4068fc"/>
<path d="M109.2 97.8L111.1 95.1L109.6 92.5L107.7 95.3z" fill="#4746ea" stroke="#4746ea"/>
<path d="M96.7 95.9L98.7 94.6L97.2 91.2L95.2 92.6z" fill="#484cef" stroke="#484cef"/>
<path d="M84.3 90L86.3 89.3L84.8 86.4L82.8 87.1z" fill="#3e6bfc" stroke="#3e6bfc"/>
<path d="M125 89.2L127 84.8L125.5 82.8L123.5 87.2z" fill="#337bfc" stroke="#337bfc"/>
<path d="M71.9 81L73.9 81.1L72.4 77.5L70.4 77.5z" fill="#2990ef" stroke="#2990ef"/>
<path d="M112.6 97.4L114.6 94.3L113.1 92L111.1 95.1z" fill="#4749ec" stroke="#4749ec"/>
<path d="M100.2 97.9L102.2 96.3L100.7 92.9L98.7 94.6z" fill="#4746ea" stroke="#4746ea"/>
<path d="M87.8 92.2L89.8 91.4L88.3 88.5L86.3 89.3z" fill="#465efa" stroke="#465efa"/>
<path d="M128.5 86.7L130.5 82.5L129 80.5L127 84.8z" fill="#2e83f7" stroke="#2e83f7"/>
<path d="M75.4 84.4L77.4 84.4L75.9 81.1L73.9 81.1z" fill="#2d85f6" stroke="#2d85f6"/>
<path d="M116.1 96.4L118.1 93.2L116.6 91.2L114.6 94.3z" fill="#484df0" stroke="#484df0"/>
<path d="M103.7 99.2L105.7 97.5L104.2 94.5L102.2 96.3z" fill="#4742e6" stroke="#4742e6"/>
<path d="M91.3 94.6L93.3 93.7L91.8 90.5L89.8 91.4z" fill="#4754f4" stroke="#4754f4"/>
<path d="M132 84L134 80.3L132.5 78.7L130.5 82.5z" fill="#2b8bf2" stroke="#2b8bf2"/>
<path d="M78.9 87.4L80.9 87.4L79.4 84.4L77.4 84.4z" fill="#327dfb" stroke="#327dfb"/>
<path d="M119.6 95.1L121.6 91.5L120.1 89.7L118.1 93.2z" fill="#4756f6" stroke="#4756f6"/>
<path d="M107.2 100L109.2 97.8L107.7 95.3L105.7 97.5z" fill="#4740e4" stroke="#4740e4"/>
<path d="M94.8 97L96.7 95.9L95.2 92.6L93.3 93.7z" fill="#474bee" stroke="#474bee"/>
<path d="M135.5 81.5L137.5 78.6L136 77.3L134 80.3z" fill="#2893ed" stroke="#2893ed"/>
<path d="M82.4 90.2L84.3 90L82.8 87.1L80.9 87.4z" fill="#3b6ffc" stroke="#3b6ffc"/>
<path d="M123.1 93.4L125 89.2L123.5 87.2L121.6 91.5z" fill="#4463fc" stroke="#4463fc"/>
<path d="M70 80.6L71.9 81L70.4 77.5L68.4 77.2z" fill="#2894ec" stroke="#2894ec"/>
<path d="M110.7 100.1L112.6 97.4L111.1 95.1L109.2 97.8z" fill="#4742e6" stroke="#4742e6"/>
<path d="M98.3 99.2L100.2 97.9L98.7 94.6L96.7 95.9z" fill="#4744e8" stroke="#4744e8"/>
<path d="M85.8 92.8L87.8 92.2L86.3 89.3L84.3 90z" fill="#465ffb" stroke="#465ffb"/>
<path d="M126.6 90.9L128.5 86.7L127 84.8L125 89.2z" fill="#3578fc" stroke="#3578fc"/>
<path d="M73.4 84.2L75.4 84.4L73.9 81.1L71.9 81z" fill="#2b88f4" stroke="#2b88f4"/>
<path d="M114.1 99.4L116.1 96.4L114.6 94.3L112.6 97.4z" fill="#4745e9" stroke="#4745e9"/>
<path d="M101.7 100.8L103.7 99.2L102.2 96.3L100.2 97.9z" fill="#473fe2" stroke="#473fe2"/>
<path d="M89.3 95.3L91.3 94.6L89.8 91.4L87.8 92.2z" fill="#4755f5" stroke="#4755f5"/>
<path d="M130 88.1L132 84L130.5 82.5L128.5 86.7z" fill="#2f81f8" stroke="#2f81f8"/>
<path d="M76.9 87.3L78.9 87.4L77.4 84.4L75.4 84.4z" fill="#3080f9" stroke="#3080f9"/>
<path d="M117.6 98.2L119.6 95.1L118.1 93.2L116.1 96.4z" fill="#474bee" stroke="#474bee"/>
<path d="M105.2 101.7L107.2 100L105.7 97.5L103.7 99.2z" fill="#463cdc" stroke="#463cdc"/>
<path d="M92.8 97.8L94.8 97L93.3 93.7L91.3 94.6z" fill="#474bee" stroke="#474bee"/>
<path d="M133.5 85.1L135.5 81.5L134 80.3L132 84z" fill="#2b8af2" stroke="#2b8af2"/>
<path d="M80.4 90.2L82.4 90.2L80.9 87.4L78.9 87.4z" fill="#3775fc" stroke="#3775fc"/>
<path d="M121.1 96.8L123.1 93.4L121.6 91.5L119.6 95.1z" fill="#4753f4" stroke="#4753f4"/>
<path d="M68 80L70 80.6L68.4 77.2L66.5 76.8z" fill="#2499e9" stroke="#2499e9"/>
<path d="M108.7 102.2L110.7 100.1L109.2 97.8L107.2 100z" fill="#463bdb" stroke="#463bdb"/>
<path d="M96.3 100.2L98.3 99.2L96.7 95.9L94.8 97z" fill="#4743e7" stroke="#4743e7"/>
<path d="M137 82.7L139 79.8L137.5 78.6L135.5 81.5z" fill="#2893ed" stroke="#2893ed"/>
<path d="M83.9 93.1L85.8 92.8L84.3 90L82.4 90.2z" fill="#4462fc" stroke="#4462fc"/>
<path d="M124.6 95L126.6 90.9L125 89.2L123.1 93.4z" fill="#465ffb" stroke="#465ffb"/>
<path d="M71.5 83.7L73.4 84.2L71.9 81L70 80.6z" fill="#2a8df1" stroke="#2a8df1"/>
<path d="M112.2 102.1L114.1 99.4L112.6 97.4L110.7 100.1z" fill="#463ee0" stroke="#463ee0"/>
<path d="M99.8 102.1L101.7 100.8L100.2 97.9L98.3 99.2z" fill="#463dde" stroke="#463dde"/>
<path d="M87.3 95.9L89.3 95.3L87.8 92.2L85.8 92.8z" fill="#4756f6" stroke="#4756f6"/>
<path d="M128.1 92.3L130 88.1L128.5 86.7L126.6 90.9z" fill="#3775fc" stroke="#3775fc"/>
<path d="M74.9 87.1L76.9 87.3L75.4 84.4L73.4 84.2z" fill="#2e83f7" stroke="#2e83f7"/>
<path d="M115.6 101.2L117.6 98.2L116.1 96.4L114.1 99.4z" fill="#4743e7" stroke="#4743e7"/>
<path d="M103.2 103.2L105.2 101.7L103.7 99.2L101.7 100.8z" fill="#4539d6" stroke="#4539d6"/>
<path d="M90.8 98.5L92.8 97.8L91.3 94.6L89.3 95.3z" fill="#484bef" stroke="#484bef"/>
<path d="M131.5 89.1L133.5 85.1L132 84L130 88.1z" fill="#2f81f8" stroke="#2f81f8"/>
<path d="M78.4 90.1L80.4 90.2L78.9 87.4L76.9 87.3z" fill="#337bfc" stroke="#337bfc"/>
<path d="M119.1 99.9L121.1 96.8L119.6 95.1L117.6 98.2z" fill="#4749ec" stroke="#4749ec"/>
<path d="M66 79.3L68 80L66.5 76.8L64.5 76.2z" fill="#1d9ee4" stroke="#1d9ee4"/>
<path d="M106.7 103.9L108.7 102.2L107.2 100L105.2 101.7z" fill="#4537d3" stroke="#4537d3"/>
<path d="M94.3 101L96.3 100.2L94.8 97L92.8 97.8z" fill="#4744e7" stroke="#4744e7"/>
<path d="M135 86.2L137 82.7L135.5 81.5L133.5 85.1z" fill="#2b8bf2" stroke="#2b8bf2"/>
<path d="M81.9 93.1L83.9 93.1L82.4 90.2L80.4 90.2z" fill="#4069fc" stroke="#4069fc"/>
<path d="M122.6 98.5L124.6 95L123.1 93.4L121.1 96.8z" fill="#4750f2" stroke="#4750f2"/>
<path d="M69.5 83.1L71.5 83.7L70 80.6L68 80z" fill="#2992ee" stroke="#2992ee"/>
<path d="M110.2 104.2L112.2 102.1L110.7 100.1L108.7 102.2z" fill="#4538d4" stroke="#4538d4"/>
<path d="M97.8 103.1L99.8 102.1L98.3 99.2L96.3 100.2z" fill="#463cdc" stroke="#463cdc"/>
<path d="M138.5 83.8L140.5 81L139 79.8L137 82.7z" fill="#2893ed" stroke="#2893ed"/>
<path d="M85.4 96.1L87.3 95.9L85.8 92.8L83.9 93.1z" fill="#4759f7" stroke="#4759f7"/>
<path d="M126.1 96.3L128.1 92.3L126.6 90.9L124.6 95z" fill="#465efa" stroke="#465efa"/>
<path d="M73 86.6L74.9 87.1L73.4 84.2L71.5 83.7z" fill="#2c86f5" stroke="#2c86f5"/>
<path d="M113.7 103.8L115.6 101.2L114.1 99.4L112.2 102.1z" fill="#463bdb" stroke="#463bdb"/>
<path d="M101.3 104.6L103.2 103.2L101.7 100.8L99.8 102.1z" fill="#4537d3" stroke="#4537d3"/>
<path d="M88.8 99L90.8 98.5L89.3 95.3L87.3 95.9z" fill="#484df0" stroke="#484df0"/>
<path d="M129.6 93.2L131.5 89.1L130 88.1L128.1 92.3z" fill="#3776fc" stroke="#3776fc"/>
<path d="M76.4 89.9L78.4 90.1L76.9 87.3L74.9 87.1z" fill="#317efa" stroke="#317efa"/>
<path d="M117.1 102.9L119.1 99.9L117.6 98.2L115.6 101.2z" fill="#4741e5" stroke="#4741e5"/>
<path d="M64 78.3L66 79.3L64.5 76.2L62.5 75.3z" fill="#15a4df" stroke="#15a4df"/>
<path d="M104.7 105.4L106.7 103.9L105.2 101.7L103.2 103.2z" fill="#4434ce" stroke="#4434ce"/>
<path d="M92.3 101.7L94.3 101L92.8 97.8L90.8 98.5z" fill="#4744e8" stroke="#4744e8"/>
<path d="M133 90L135 86.2L133.5 85.1L131.5 89.1z" fill="#2f82f8" stroke="#2f82f8"/>
<path d="M79.9 93L81.9 93.1L80.4 90.2L78.4 90.1z" fill="#3a70fc" stroke="#3a70fc"/>
<path d="M120.6 101.5L122.6 98.5L121.1 96.8L119.1 99.9z" fill="#4747eb" stroke="#4747eb"/>
<path d="M67.5 82.3L69.5 83.1L68 80L66 79.3z" fill="#2598ea" stroke="#2598ea"/>
<path d="M108.2 105.9L110.2 104.2L108.7 102.2L106.7 103.9z" fill="#4434cd" stroke="#4434cd"/>
<path d="M95.8 103.9L97.8 103.1L96.3 100.2L94.3 101z" fill="#463cdc" stroke="#463cdc"/>
<path d="M136.5 87.2L138.5 83.8L137 82.7L135 86.2z" fill="#2a8bf2" stroke="#2a8bf2"/>
<path d="M83.4 96.1L85.4 96.1L83.9 93.1L81.9 93.1z" fill="#465dfa" stroke="#465dfa"/>
<path d="M124.1 99.7L126.1 96.3L124.6 95L122.6 98.5z" fill="#474ff2" stroke="#474ff2"/>
<path d="M71 85.9L73 86.6L71.5 83.7L69.5 83.1z" fill="#2a8cf2" stroke="#2a8cf2"/>
<path d="M111.7 105.9L113.7 103.8L112.2 102.1L110.2 104.2z" fill="#4435cf" stroke="#4435cf"/>
<path d="M99.3 105.6L101.3 104.6L99.8 102.1L97.8 103.1z" fill="#4436d1" stroke="#4436d1"/>
<path d="M140 84.9L142 82.3L140.5 81L138.5 83.8z" fill="#2893ed" stroke="#2893ed"/>
<path d="M86.9 99.2L88.8 99L87.3 95.9L85.4 96.1z" fill="#474ff2" stroke="#474ff2"/>
<path d="M127.6 97.2L129.6 93.2L128.1 92.3L126.1 96.3z" fill="#465efb" stroke="#465efb"/>
<path d="M74.5 89.4L76.4 89.9L74.9 87.1L73 86.6z" fill="#2f82f8" stroke="#2f82f8"/>
<path d="M115.2 105.5L117.1 102.9L115.6 101.2L113.7 103.8z" fill="#4539d7" stroke="#4539d7"/>
<path d="M62.1 77L64 78.3L62.5 75.3L60.6 74z" fill="#0ea9d8" stroke="#0ea9d8"/>
<path d="M102.8 106.8L104.7 105.4L103.2 103.2L101.3 104.6z" fill="#4332ca" stroke="#4332ca"/>
<path d="M90.4 102.2L92.3 101.7L90.8 98.5L88.8 99z" fill="#4746e9" stroke="#4746e9"/>
<path d="M131.1 94L133 90L131.5 89.1L129.6 93.2z" fill="#3578fd" stroke="#3578fd"/>
<path d="M77.9 92.7L79.9 93L78.4 90.1L76.4 89.9z" fill="#3479fd" stroke="#3479fd"/>
<path d="M118.7 104.5L120.6 101.5L119.1 99.9L117.1 102.9z" fill="#473fe2" stroke="#473fe2"/>
<path d="M65.5 81.2L67.5 82.3L66 79.3L64 78.3z" fill="#1d9ee5" stroke="#1d9ee5"/>
<path d="M106.2 107.4L108.2 105.9L106.7 103.9L104.7 105.4z" fill="#4331c7" stroke="#4331c7"/>
<path d="M93.8 104.6L95.8 103.9L94.3 101L92.3 101.7z" fill="#463dde" stroke="#463dde"/>
<path d="M134.5 91L136.5 87.2L135 86.2L133 90z" fill="#2e83f7" stroke="#2e83f7"/>
<path d="M81.4 95.9L83.4 96.1L81.9 93.1L79.9 93z" fill="#4364fc" stroke="#4364fc"/>
<path d="M122.1 102.8L124.1 99.7L122.6 98.5L120.6 101.5z" fill="#4746ea" stroke="#4746ea"/>
<path d="M69 85.1L71 85.9L69.5 83.1L67.5 82.3z" fill="#2992ee" stroke="#2992ee"/>
<path d="M109.7 107.6L111.7 105.9L110.2 104.2L108.2 105.9z" fill="#4331c8" stroke="#4331c8"/>
<path d="M97.3 106.4L99.3 105.6L97.8 103.1L95.8 103.9z" fill="#4436d1" stroke="#4436d1"/>
<path d="M138 88.2L140 84.9L138.5 83.8L136.5 87.2z" fill="#2a8cf1" stroke="#2a8cf1"/>
<path d="M84.9 99.2L86.9 99.2L85.4 96.1L83.4 96.1z" fill="#4754f4" stroke="#4754f4"/>
<path d="M125.6 100.5L127.6 97.2L126.1 96.3L124.1 99.7z" fill="#4750f2" stroke="#4750f2"/>
<path d="M72.5 88.7L74.5 89.4L73 86.6L71 85.9z" fill="#2c86f5" stroke="#2c86f5"/>
<path d="M113.2 107.6L115.2 105.5L113.7 103.8L111.7 105.9z" fill="#4433cc" stroke="#4433cc"/>
<path d="M60.1 75L62.1 77L60.6 74L58.6 72.1z" fill="#06afd0" stroke="#06afd0"/>
<path d="M100.8 107.9L102.8 106.8L101.3 104.6L99.3 105.6z" fill="#4331c8" stroke="#4331c8"/>
<path d="M141.5 86L143.5 83.4L142 82.3L140 84.9z" fill="#2894ed" stroke="#2894ed"/>
<path d="M88.4 102.3L90.4 102.2L88.8 99L86.9 99.2z" fill="#4748eb" stroke="#4748eb"/>
<path d="M129.1 97.9L131.1 94L129.6 93.2L127.6 97.2z" fill="#4561fb" stroke="#4561fb"/>
<path d="M76 92.2L77.9 92.7L76.4 89.9L74.5 89.4z" fill="#317efb" stroke="#317efb"/>
<path d="M116.7 107.1L118.7 104.5L117.1 102.9L115.2 105.5z" fill="#4537d4" stroke="#4537d4"/>
<path d="M63.6 79.9L65.5 81.2L64 78.3L62.1 77z" fill="#14a5de" stroke="#14a5de"/>
<path d="M104.3 108.8L106.2 107.4L104.7 105.4L102.8 106.8z" fill="#4230c2" stroke="#4230c2"/>
<path d="M91.9 105L93.8 104.6L92.3 101.7L90.4 102.2z" fill="#463fe1" stroke="#463fe1"/>
<path d="M132.6 94.8L134.5 91L133 90L131.1 94z" fill="#337bfc" stroke="#337bfc"/>
<path d="M79.4 95.6L81.4 95.9L79.9 93L77.9 92.7z" fill="#3d6cfc" stroke="#3d6cfc"/>
<path d="M120.2 105.8L122.1 102.8L120.6 101.5L118.7 104.5z" fill="#463ee0" stroke="#463ee0"/>
<path d="M67 84.1L69 85.1L67.5 82.3L65.5 81.2z" fill="#2598e9" stroke="#2598e9"/>
<path d="M107.7 109.1L109.7 107.6L108.2 105.9L106.2 107.4z" fill="#422fc1" stroke="#422fc1"/>
<path d="M95.3 107.1L97.3 106.4L95.8 103.9L93.8 104.6z" fill="#4537d3" stroke="#4537d3"/>
<path d="M136 91.9L138 88.2L136.5 87.2L134.5 91z" fill="#2e83f7" stroke="#2e83f7"/>
<path d="M82.9 99L84.9 99.2L83.4 96.1L81.4 95.9z" fill="#4759f8" stroke="#4759f8"/>
<path d="M123.6 103.6L125.6 100.5L124.1 99.7L122.1 102.8z" fill="#4747eb" stroke="#4747eb"/>
<path d="M70.5 87.9L72.5 88.7L71 85.9L69 85.1z" fill="#2a8cf1" stroke="#2a8cf1"/>
<path d="M111.2 109.3L113.2 107.6L111.7 105.9L109.7 107.6z" fill="#4230c3" stroke="#4230c3"/>
<path d="M58.1 72.1L60.1 75L58.6 72.1L56.6 69.3z" fill="#0eb5c0" stroke="#0eb5c0"/>
<path d="M98.8 108.7L100.8 107.9L99.3 105.6L97.3 106.4z" fill="#4331c8" stroke="#4331c8"/>
<path d="M139.5 89.1L141.5 86L140 84.9L138 88.2z" fill="#2a8cf1" stroke="#2a8cf1"/>
<path d="M86.4 102.2L88.4 102.3L86.9 99.2L84.9 99.2z" fill="#484bee" stroke="#484bee"/>
<path d="M127.1 101.2L129.1 97.9L127.6 97.2L125.6 100.5z" fill="#4753f4" stroke="#4753f4"/>
<path d="M74 91.5L76 92.2L74.5 89.4L72.5 88.7z" fill="#2f82f8" stroke="#2f82f8"/>
<path d="M114.7 109.2L116.7 107.1L115.2 105.5L113.2 107.6z" fill="#4332c8" stroke="#4332c8"/>
<path d="M61.6 77.8L63.6 79.9L62.1 77L60.1 75z" fill="#0babd5" stroke="#0babd5"/>
<path d="M102.3 109.9L104.3 108.8L102.8 106.8L100.8 107.9z" fill="#422fc0" stroke="#422fc0"/>
<path d="M143 86.7L145 84.3L143.5 83.4L141.5 86z" fill="#2895ec" stroke="#2895ec"/>
<path d="M89.9 105.2L91.9 105L90.4 102.2L88.4 102.3z" fill="#4741e5" stroke="#4741e5"/>
<path d="M130.6 98.6L132.6 94.8L131.1 94L129.1 97.9z" fill="#4265fc" stroke="#4265fc"/>
<path d="M77.5 95.1L79.4 95.6L77.9 92.7L76 92.2z" fill="#3677fc" stroke="#3677fc"/>
<path d="M118.2 108.4L120.2 105.8L118.7 104.5L116.7 107.1z" fill="#4437d2" stroke="#4437d2"/>
<path d="M65.1 82.7L67 84.1L65.5 81.2L63.6 79.9z" fill="#1ba0e3" stroke="#1ba0e3"/>
<path d="M105.8 110.6L107.7 109.1L106.2 107.4L104.3 108.8z" fill="#412dbd" stroke="#412dbd"/>
<path d="M93.4 107.6L95.3 107.1L93.8 104.6L91.9 105z" fill="#4539d6" stroke="#4539d6"/>
<path d="M134.1 95.6L136 91.9L134.5 91L132.6 94.8z" fill="#327cfc" stroke="#327cfc"/>
<path d="M81 98.6L82.9 99L81.4 95.9L79.4 95.6z" fill="#465ffb" stroke="#465ffb"/>
<path d="M121.7 106.6L123.6 103.6L122.1 102.8L120.2 105.8z" fill="#473fe2" stroke="#473fe2"/>
<path d="M68.5 86.9L70.5 87.9L69 85.1L67 84.1z" fill="#2893ed" stroke="#2893ed"/>
<path d="M109.3 110.8L111.2 109.3L109.7 107.6L107.7 109.1z" fill="#412ebd" stroke="#412ebd"/>
<path d="M96.8 109.3L98.8 108.7L97.3 106.4L95.3 107.1z" fill="#4332ca" stroke="#4332ca"/>
<path d="M137.5 92.6L139.5 89.1L138 88.2L136 91.9z" fill="#2d84f6" stroke="#2d84f6"/>
<path d="M84.4 102L86.4 102.2L84.9 99.2L82.9 99z" fill="#4750f2" stroke="#4750f2"/>
<path d="M125.1 104.3L127.1 101.2L125.6 100.5L123.6 103.6z" fill="#4749ec" stroke="#4749ec"/>
<path d="M72 90.7L74 91.5L72.5 88.7L70.5 87.9z" fill="#2c86f5" stroke="#2c86f5"/>
<path d="M112.7 110.9L114.7 109.2L113.2 107.6L111.2 109.3z" fill="#422ebf" stroke="#422ebf"/>
<path d="M59.6 74.9L61.6 77.8L60.1 75L58.1 72.1z" fill="#0ab2c8" stroke="#0ab2c8"/>
<path d="M100.3 110.7L102.3 109.9L100.8 107.9L98.8 108.7z" fill="#422ebf" stroke="#422ebf"/>
<path d="M141 89.7L143 86.7L141.5 86L139.5 89.1z" fill="#2a8ef0" stroke="#2a8ef0"/>
<path d="M87.9 105.1L89.9 105.2L88.4 102.3L86.4 102.2z" fill="#4745e8" stroke="#4745e8"/>
<path d="M128.6 101.9L130.6 98.6L129.1 97.9L127.1 101.2z" fill="#4755f5" stroke="#4755f5"/>
<path d="M75.5 94.4L77.5 95.1L76 92.2L74 91.5z" fill="#317dfb" stroke="#317dfb"/>
<path d="M116.2 110.5L118.2 108.4L116.7 107.1L114.7 109.2z" fill="#4331c7" stroke="#4331c7"/>
<path d="M63.1 80.7L65.1 82.7L63.6 79.9L61.6 77.8z" fill="#10a7db" stroke="#10a7db"/>
<path d="M103.8 111.7L105.8 110.6L104.3 108.8L102.3 109.9z" fill="#412cb9" stroke="#412cb9"/>
<path d="M144.5 87.2L146.5 84.9L145 84.3L143 86.7z" fill="#2797eb" stroke="#2797eb"/>
<path d="M91.4 107.7L93.4 107.6L91.9 105L89.9 105.2z" fill="#463bdb" stroke="#463bdb"/>
<path d="M132.1 99.3L134.1 95.6L132.6 94.8L130.6 98.6z" fill="#4069fc" stroke="#4069fc"/>
<path d="M79 98.1L81 98.6L79.4 95.6L77.5 95.1z" fill="#3f69fc" stroke="#3f69fc"/>
<path d="M119.7 109.2L121.7 106.6L120.2 105.8L118.2 108.4z" fill="#4537d4" stroke="#4537d4"/>
<path d="M66.6 85.5L68.5 86.9L67 84.1L65.1 82.7z" fill="#229ae8" stroke="#229ae8"/>
<path d="M107.3 112.3L109.3 110.8L107.7 109.1L105.8 110.6z" fill="#402cb8" stroke="#402cb8"/>
<path d="M94.9 109.8L96.8 109.3L95.3 107.1L93.4 107.6z" fill="#4434cd" stroke="#4434cd"/>
<path d="M135.6 96.2L137.5 92.6L136 91.9L134.1 95.6z" fill="#327dfb" stroke="#327dfb"/>
<path d="M82.5 101.7L84.4 102L82.9 99L81 98.6z" fill="#4756f6" stroke="#4756f6"/>
<path d="M123.2 107.2L125.1 104.3L123.6 103.6L121.7 106.6z" fill="#4741e5" stroke="#4741e5"/>
<path d="M70 89.7L72 90.7L70.5 87.9L68.5 86.9z" fill="#2a8df1" stroke="#2a8df1"/>
<path d="M110.8 112.5L112.7 110.9L111.2 109.3L109.3 110.8z" fill="#412cb9" stroke="#412cb9"/>
<path d="M98.3 111.4L100.3 110.7L98.8 108.7L96.8 109.3z" fill="#422fc1" stroke="#422fc1"/>
<path d="M139.1 93.1L141 89.7L139.5 89.1L137.5 92.6z" fill="#2c86f5" stroke="#2c86f5"/>
<path d="M85.9 104.9L87.9 105.1L86.4 102.2L84.4 102z" fill="#4749ec" stroke="#4749ec"/>
<path d="M126.6 104.9L128.6 101.9L127.1 101.2L125.1 104.3z" fill="#474bee" stroke="#474bee"/>
<path d="M73.5 93.6L75.5 94.4L74 91.5L72 90.7z" fill="#2f82f8" stroke="#2f82f8"/>
<path d="M114.2 112.2L116.2 110.5L114.7 109.2L112.7 110.9z" fill="#412ebe" stroke="#412ebe"/>
<path d="M61.1 77.8L63.1 80.7L61.6 77.8L59.6 74.9z" fill="#06afcf" stroke="#06afcf"/>
<path d="M101.8 112.6L103.8 111.7L102.3 109.9L100.3 110.7z" fill="#412cb9" stroke="#412cb9"/>
<path d="M142.5 90.1L144.5 87.2L143 86.7L141 89.7z" fill="#2991ef" stroke="#2991ef"/>
<path d="M89.4 107.6L91.4 107.7L89.9 105.2L87.9 105.1z" fill="#473fe2" stroke="#473fe2"/>
<path d="M130.1 102.5L132.1 99.3L130.6 98.6L128.6 101.9z" fill="#4758f7" stroke="#4758f7"/>
<path d="M77 97.4L79 98.1L77.5 95.1L75.5 94.4z" fill="#3775fc" stroke="#3775fc"/>
<path d="M117.7 111.3L119.7 109.2L118.2 108.4L116.2 110.5z" fill="#4332c8" stroke="#4332c8"/>
<path d="M64.6 83.6L66.6 85.5L65.1 82.7L63.1 80.7z" fill="#16a3e0" stroke="#16a3e0"/>
<path d="M105.3 113.5L107.3 112.3L105.8 110.6L103.8 111.7z" fill="#402bb4" stroke="#402bb4"/>
<path d="M146 87.6L148 85.4L146.5 84.9L144.5 87.2z" fill="#2399e8" stroke="#2399e8"/>
<path d="M92.9 110L94.9 109.8L93.4 107.6L91.4 107.7z" fill="#4436d2" stroke="#4436d2"/>
<path d="M133.6 99.8L135.6 96.2L134.1 95.6L132.1 99.3z" fill="#3d6dfc" stroke="#3d6dfc"/>
<path d="M80.5 101.1L82.5 101.7L81 98.6L79 98.1z" fill="#465dfa" stroke="#465dfa"/>
<path d="M121.2 109.8L123.2 107.2L121.7 106.6L119.7 109.2z" fill="#453ad8" stroke="#453ad8"/>
<path d="M68.1 88.4L70 89.7L68.5 86.9L66.6 85.5z" fill="#2895ec" stroke="#2895ec"/>
<path d="M108.8 114L110.8 112.5L109.3 110.8L107.3 112.3z" fill="#402ab4" stroke="#402ab4"/>
<path d="M96.4 111.9L98.3 111.4L96.8 109.3L94.9 109.8z" fill="#4330c5" stroke="#4330c5"/>
<path d="M137.1 96.6L139.1 93.1L137.5 92.6L135.6 96.2z" fill="#307ffa" stroke="#307ffa"/>
<path d="M84 104.5L85.9 104.9L84.4 102L82.5 101.7z" fill="#484df0" stroke="#484df0"/>
<path d="M124.7 107.9L126.6 104.9L125.1 104.3L123.2 107.2z" fill="#4743e7" stroke="#4743e7"/>
<path d="M71.5 92.6L73.5 93.6L72 90.7L70 89.7z" fill="#2c87f4" stroke="#2c87f4"/>
<path d="M112.3 113.8L114.2 112.2L112.7 110.9L110.8 112.5z" fill="#402bb7" stroke="#402bb7"/>
<path d="M99.8 113.3L101.8 112.6L100.3 110.7L98.3 111.4z" fill="#412dba" stroke="#412dba"/>
<path d="M140.6 93.4L142.5 90.1L141 89.7L139.1 93.1z" fill="#2b88f3" stroke="#2b88f3"/>
<path d="M87.4 107.4L89.4 107.6L87.9 105.1L85.9 104.9z" fill="#4743e7" stroke="#4743e7"/>
<path d="M128.1 105.6L130.1 102.5L128.6 101.9L126.6 104.9z" fill="#484df0" stroke="#484df0"/>
<path d="M75 96.6L77 97.4L75.5 94.4L73.5 93.6z" fill="#317dfb" stroke="#317dfb"/>
<path d="M115.7 113.1L117.7 111.3L116.2 110.5L114.2 112.2z" fill="#422ebf" stroke="#422ebf"/>
<path d="M62.6 80.8L64.6 83.6L63.1 80.7L61.1 77.8z" fill="#0babd5" stroke="#0babd5"/>
<path d="M103.3 114.4L105.3 113.5L103.8 111.7L101.8 112.6z" fill="#402ab3" stroke="#402ab3"/>
<path d="M144 90.3L146 87.6L144.5 87.2L142.5 90.1z" fill="#2894ed" stroke="#2894ed"/>
<path d="M90.9 110L92.9 110L91.4 107.7L89.4 107.6z" fill="#453ad9" stroke="#453ad9"/>
<path d="M131.6 103.1L133.6 99.8L132.1 99.3L130.1 102.5z" fill="#465cf9" stroke="#465cf9"/>
<path d="M78.5 100.4L80.5 101.1L79 98.1L77 97.4z" fill="#4068fc" stroke="#4068fc"/>
<path d="M119.2 112L121.2 109.8L119.7 109.2L117.7 111.3z" fill="#4434cd" stroke="#4434cd"/>
<path d="M66.1 86.5L68.1 88.4L66.6 85.5L64.6 83.6z" fill="#1e9ee5" stroke="#1e9ee5"/>
<path d="M106.8 115.2L108.8 114L107.3 112.3L105.3 113.5z" fill="#3f29b0" stroke="#3f29b0"/>
<path d="M147.5 87.5L149.5 85.5L148 85.4L146 87.6z" fill="#1f9de5" stroke="#1f9de5"/>
<path d="M94.4 112.2L96.4 111.9L94.9 109.8L92.9 110z" fill="#4332ca" stroke="#4332ca"/>
<path d="M135.1 100.1L137.1 96.6L135.6 96.2L133.6 99.8z" fill="#3873fc" stroke="#3873fc"/>
<path d="M82 103.9L84 104.5L82.5 101.7L80.5 101.1z" fill="#4754f5" stroke="#4754f5"/>
<path d="M122.7 110.5L124.7 107.9L123.2 107.2L121.2 109.8z" fill="#463cdc" stroke="#463cdc"/>
<path d="M69.6 91.3L71.5 92.6L70 89.7L68.1 88.4z" fill="#298ff0" stroke="#298ff0"/>
<path d="M110.3 115.3L112.3 113.8L110.8 112.5L108.8 114z" fill="#3f29b1" stroke="#3f29b1"/>
<path d="M97.9 113.9L99.8 113.3L98.3 111.4L96.4 111.9z" fill="#412ebe" stroke="#412ebe"/>
<path d="M138.6 96.7L140.6 93.4L139.1 93.1L137.1 96.6z" fill="#2f81f8" stroke="#2f81f8"/>
<path d="M85.5 107.1L87.4 107.4L85.9 104.9L84 104.5z" fill="#4748eb" stroke="#4748eb"/>
<path d="M126.2 108.5L128.1 105.6L126.6 104.9L124.7 107.9z" fill="#4746e9" stroke="#4746e9"/>
<path d="M73 95.6L75 96.6L73.5 93.6L71.5 92.6z" fill="#2e82f7" stroke="#2e82f7"/>
<path d="M113.8 114.7L115.7 113.1L114.2 112.2L112.3 113.8z" fill="#402cb8" stroke="#402cb8"/>
<path d="M101.4 115.2L103.3 114.4L101.8 112.6L99.8 113.3z" fill="#402bb5" stroke="#402bb5"/>
<path d="M142.1 93.5L144 90.3L142.5 90.1L140.6 93.4z" fill="#2a8cf1" stroke="#2a8cf1"/>
<path d="M88.9 109.8L90.9 110L89.4 107.6L87.4 107.4z" fill="#463fe1" stroke="#463fe1"/>
<path d="M129.7 106.1L131.6 103.1L130.1 102.5L128.1 105.6z" fill="#4750f2" stroke="#4750f2"/>
<path d="M76.5 99.6L78.5 100.4L77 97.4L75 96.6z" fill="#3775fc" stroke="#3775fc"/>
<path d="M117.2 113.7L119.2 112L117.7 111.3L115.7 113.1z" fill="#4230c4" stroke="#4230c4"/>
<path d="M64.1 83.8L66.1 86.5L64.6 83.6L62.6 80.8z" fill="#10a7db" stroke="#10a7db"/>
<path d="M104.8 116.2L106.8 115.2L105.3 113.5L103.3 114.4z" fill="#3f28ae" stroke="#3f28ae"/>
<path d="M145.5 90.2L147.5 87.5L146 87.6L144 90.3z" fill="#2598ea" stroke="#2598ea"/>
<path d="M92.4 112.1L94.4 112.2L92.9 110L90.9 110z" fill="#4436d1" stroke="#4436d1"/>
<path d="M133.1 103.3L135.1 100.1L133.6 99.8L131.6 103.1z" fill="#4560fb" stroke="#4560fb"/>
<path d="M80 103.3L82 103.9L80.5 101.1L78.5 100.4z" fill="#465dfa" stroke="#465dfa"/>
<path d="M120.7 112.6L122.7 110.5L121.2 109.8L119.2 112z" fill="#4436d1" stroke="#4436d1"/>
<path d="M67.6 89.4L69.6 91.3L68.1 88.4L66.1 86.5z" fill="#2598ea" stroke="#2598ea"/>
<path d="M108.3 116.7L110.3 115.3L108.8 114L106.8 115.2z" fill="#3e28ad" stroke="#3e28ad"/>
<path d="M149 86.8L151 84.8L149.5 85.5L147.5 87.5z" fill="#18a2e1" stroke="#18a2e1"/>
<path d="M95.9 114.1L97.9 113.9L96.4 111.9L94.4 112.2z" fill="#4230c3" stroke="#4230c3"/>
<path d="M136.6 100.1L138.6 96.7L137.1 96.6L135.1 100.1z" fill="#337bfc" stroke="#337bfc"/>
<path d="M83.5 106.5L85.5 107.1L84 104.5L82 103.9z" fill="#484df0" stroke="#484df0"/>
<path d="M124.2 111L126.2 108.5L124.7 107.9L122.7 110.5z" fill="#463fe1" stroke="#463fe1"/>
<path d="M71.1 94.2L73 95.6L71.5 92.6L69.6 91.3z" fill="#2b89f3" stroke="#2b89f3"/>
<path d="M111.8 116.3L113.8 114.7L112.3 113.8L110.3 115.3z" fill="#3f2ab2" stroke="#3f2ab2"/>
<path d="M99.4 115.7L101.4 115.2L99.8 113.3L97.9 113.9z" fill="#402cb8" stroke="#402cb8"/>
<path d="M140.1 96.6L142.1 93.5L140.6 93.4L138.6 96.7z" fill="#2d84f6" stroke="#2d84f6"/>
<path d="M87 109.5L88.9 109.8L87.4 107.4L85.5 107.1z" fill="#4743e7" stroke="#4743e7"/>
<path d="M127.7 109L129.7 106.1L128.1 105.6L126.2 108.5z" fill="#4748ec" stroke="#4748ec"/>
<path d="M74.6 98.5L76.5 99.6L75 96.6L73 95.6z" fill="#317efa" stroke="#317efa"/>
<path d="M115.3 115.4L117.2 113.7L115.7 113.1L113.8 114.7z" fill="#412ebd" stroke="#412ebd"/>
<path d="M102.9 117L104.8 116.2L103.3 114.4L101.4 115.2z" fill="#3f29af" stroke="#3f29af"/>
<path d="M143.6 93.2L145.5 90.2L144 90.3L142.1 93.5z" fill="#2991ee" stroke="#2991ee"/>
<path d="M90.4 112L92.4 112.1L90.9 110L88.9 109.8z" fill="#453ad9" stroke="#453ad9"/>
<path d="M131.2 106.3L133.1 103.3L131.6 103.1L129.7 106.1z" fill="#4755f5" stroke="#4755f5"/>
<path d="M78 102.4L80 103.3L78.5 100.4L76.5 99.6z" fill="#4068fc" stroke="#4068fc"/>
<path d="M118.7 114.3L120.7 112.6L119.2 112L117.2 113.7z" fill="#4332ca" stroke="#4332ca"/>
<path d="M65.6 86.8L67.6 89.4L66.1 86.5L64.1 83.8z" fill="#17a3e0" stroke="#17a3e0"/>
<path d="M106.3 117.7L108.3 116.7L106.8 115.2L104.8 116.2z" fill="#3e27ab" stroke="#3e27ab"/>
<path d="M147 89.4L149 86.8L147.5 87.5L145.5 90.2z" fill="#1e9de5" stroke="#1e9de5"/>
<path d="M93.9 114.1L95.9 114.1L94.4 112.2L92.4 112.1z" fill="#4333cb" stroke="#4333cb"/>
<path d="M134.6 103.2L136.6 100.1L135.1 100.1L133.1 103.3z" fill="#3f69fc" stroke="#3f69fc"/>
<path d="M81.5 105.9L83.5 106.5L82 103.9L80 103.3z" fill="#4755f5" stroke="#4755f5"/>
<path d="M122.2 113.1L124.2 111L122.7 110.5L120.7 112.6z" fill="#4539d6" stroke="#4539d6"/>
<path d="M69.1 92.4L71.1 94.2L69.6 91.3L67.6 89.4z" fill="#2992ee" stroke="#2992ee"/>
<path d="M109.8 117.7L111.8 116.3L110.3 115.3L108.3 116.7z" fill="#3f28ad" stroke="#3f28ad"/>
<path d="M150.5 85.5L152.5 83.6L151 84.8L149 86.8z" fill="#10a8da" stroke="#10a8da"/>
<path d="M97.4 116L99.4 115.7L97.9 113.9L95.9 114.1z" fill="#412dbc" stroke="#412dbc"/>
<path d="M138.1 100L140.1 96.6L138.6 96.7L136.6 100.1z" fill="#317efa" stroke="#317efa"/>
<path d="M85 109L87 109.5L85.5 107.1L83.5 106.5z" fill="#4748ec" stroke="#4748ec"/>
<path d="M125.7 111.5L127.7 109L126.2 108.5L124.2 111z" fill="#4742e6" stroke="#4742e6"/>
<path d="M72.6 97.2L74.6 98.5L73 95.6L71.1 94.2z" fill="#2e83f7" stroke="#2e83f7"/>
<path d="M113.3 117L115.3 115.4L113.8 114.7L111.8 116.3z" fill="#402bb6" stroke="#402bb6"/>
<path d="M100.9 117.6L102.9 117L101.4 115.2L99.4 115.7z" fill="#3f2ab2" stroke="#3f2ab2"/>
<path d="M141.6 96.3L143.6 93.2L142.1 93.5L140.1 96.6z" fill="#2b89f3" stroke="#2b89f3"/>
<path d="M88.5 111.7L90.4 112L88.9 109.8L87 109.5z" fill="#473fe2" stroke="#473fe2"/>
<path d="M129.2 109.1L131.2 106.3L129.7 106.1L127.7 109z" fill="#484cef" stroke="#484cef"/>
<path d="M76.1 101.4L78 102.4L76.5 99.6L74.6 98.5z" fill="#3676fc" stroke="#3676fc"/>
<path d="M116.8 116L118.7 114.3L117.2 113.7L115.3 115.4z" fill="#4230c2" stroke="#4230c2"/>
<path d="M104.4 118.5L106.3 117.7L104.8 116.2L102.9 117z" fill="#3e27ab" stroke="#3e27ab"/>
<path d="M145.1 92.3L147 89.4L145.5 90.2L143.6 93.2z" fill="#2697ea" stroke="#2697ea"/>
<path d="M91.9 114L93.9 114.1L92.4 112.1L90.4 112z" fill="#4437d2" stroke="#4437d2"/>
<path d="M132.7 106.2L134.6 103.2L133.1 103.3L131.2 106.3z" fill="#465bf9" stroke="#465bf9"/>
<path d="M79.5 105.1L81.5 105.9L80 103.3L78 102.4z" fill="#465efa" stroke="#465efa"/>
<path d="M120.2 114.9L122.2 113.1L120.7 112.6L118.7 114.3z" fill="#4435cf" stroke="#4435cf"/>
<path d="M67.1 89.8L69.1 92.4L67.6 89.4L65.6 86.8z" fill="#1e9de5" stroke="#1e9de5"/>
<path d="M107.8 118.8L109.8 117.7L108.3 116.7L106.3 117.7z" fill="#3e27aa" stroke="#3e27aa"/>
<path d="M148.5 88.1L150.5 85.5L149 86.8L147 89.4z" fill="#14a5de" stroke="#14a5de"/>
<path d="M95.4 116.1L97.4 116L95.9 114.1L93.9 114.1z" fill="#4230c4" stroke="#4230c4"/>
<path d="M136.1 103L138.1 100L136.6 100.1L134.6 103.2z" fill="#3873fc" stroke="#3873fc"/>
<path d="M83 108.3L85 109L83.5 106.5L81.5 105.9z" fill="#484ef1" stroke="#484ef1"/>
<path d="M123.7 113.6L125.7 111.5L124.2 111L122.2 113.1z" fill="#463cdc" stroke="#463cdc"/>
<path d="M70.6 95.4L72.6 97.2L71.1 94.2L69.1 92.4z" fill="#2a8cf2" stroke="#2a8cf2"/>
<path d="M111.3 118.5L113.3 117L111.8 116.3L109.8 117.7z" fill="#3f29b0" stroke="#3f29b0"/>
<path d="M152 83.9L154 82L152.5 83.6L150.5 85.5z" fill="#07aed1" stroke="#07aed1"/>
<path d="M98.9 117.9L100.9 117.6L99.4 115.7L97.4 116z" fill="#402bb6" stroke="#402bb6"/>
<path d="M139.6 99.5L141.6 96.3L140.1 96.6L138.1 100z" fill="#2e82f7" stroke="#2e82f7"/>
<path d="M86.5 111.2L88.5 111.7L87 109.5L85 109z" fill="#4745e8" stroke="#4745e8"/>
<path d="M127.2 111.6L129.2 109.1L127.7 109L125.7 111.5z" fill="#4745e9" stroke="#4745e9"/>
<path d="M74.1 100.2L76.1 101.4L74.6 98.5L72.6 97.2z" fill="#307ffa" stroke="#307ffa"/>
<path d="M114.8 117.7L116.8 116L115.3 115.4L113.3 117z" fill="#412dbb" stroke="#412dbb"/>
<path d="M102.4 119.2L104.4 118.5L102.9 117L100.9 117.6z" fill="#3f28ad" stroke="#3f28ad"/>
<path d="M143.1 95.3L145.1 92.3L143.6 93.2L141.6 96.3z" fill="#2990ef" stroke="#2990ef"/>
<path d="M90 113.8L91.9 114L90.4 112L88.5 111.7z" fill="#463cdb" stroke="#463cdb"/>
<path d="M130.7 109L132.7 106.2L131.2 106.3L129.2 109.1z" fill="#4751f3" stroke="#4751f3"/>
<path d="M77.6 104.1L79.5 105.1L78 102.4L76.1 101.4z" fill="#3e6bfc" stroke="#3e6bfc"/>
<path d="M118.3 116.6L120.2 114.9L118.7 114.3L116.8 116z" fill="#4332c9" stroke="#4332c9"/>
<path d="M105.9 119.7L107.8 118.8L106.3 117.7L104.4 118.5z" fill="#3e27aa" stroke="#3e27aa"/>
<path d="M146.6 90.9L148.5 88.1L147 89.4L145.1 92.3z" fill="#1c9fe3" stroke="#1c9fe3"/>
<path d="M93.5 116L95.4 116.1L93.9 114.1L91.9 114z" fill="#4434cc" stroke="#4434cc"/>
<path d="M134.2 105.9L136.1 103L134.6 103.2L132.7 106.2z" fill="#4363fc" stroke="#4363fc"/>
<path d="M81 107.6L83 108.3L81.5 105.9L79.5 105.1z" fill="#4757f6" stroke="#4757f6"/>
<path d="M121.8 115.3L123.7 113.6L122.2 113.1L120.2 114.9z" fill="#4538d5" stroke="#4538d5"/>
<path d="M68.6 92.9L70.6 95.4L69.1 92.4L67.1 89.8z" fill="#2697eb" stroke="#2697eb"/>
<path d="M109.3 119.7L111.3 118.5L109.8 117.7L107.8 118.8z" fill="#3f28ad" stroke="#3f28ad"/>
<path d="M150.1 86.4L152 83.9L150.5 85.5L148.5 88.1z" fill="#0babd5" stroke="#0babd5"/>
<path d="M96.9 118L98.9 117.9L97.4 116L95.4 116.1z" fill="#412ebd" stroke="#412ebd"/>
<path d="M137.6 102.5L139.6 99.5L138.1 100L136.1 103z" fill="#327cfb" stroke="#327cfb"/>
<path d="M84.5 110.6L86.5 111.2L85 109L83 108.3z" fill="#474aed" stroke="#474aed"/>
<path d="M125.2 113.7L127.2 111.6L125.7 111.5L123.7 113.6z" fill="#4740e4" stroke="#4740e4"/>
<path d="M72.1 98.4L74.1 100.2L72.6 97.2L70.6 95.4z" fill="#2c85f5" stroke="#2c85f5"/>
<path d="M112.8 119.2L114.8 117.7L113.3 117L111.3 118.5z" fill="#402bb5" stroke="#402bb5"/>
<path d="M100.4 119.6L102.4 119.2L100.9 117.6L98.9 117.9z" fill="#3f2ab1" stroke="#3f2ab1"/>
<path d="M141.1 98.4L143.1 95.3L141.6 96.3L139.6 99.5z" fill="#2b88f4" stroke="#2b88f4"/>
<path d="M88 113.4L90 113.8L88.5 111.7L86.5 111.2z" fill="#4741e5" stroke="#4741e5"/>
<path d="M128.7 111.5L130.7 109L129.2 109.1L127.2 111.6z" fill="#474aed" stroke="#474aed"/>
<path d="M75.6 102.9L77.6 104.1L76.1 101.4L74.1 100.2z" fill="#337afd" stroke="#337afd"/>
<path d="M116.3 118.3L118.3 116.6L116.8 116L114.8 117.7z" fill="#422fc1" stroke="#422fc1"/>
<path d="M103.9 120.4L105.9 119.7L104.4 118.5L102.4 119.2z" fill="#3e28ac" stroke="#3e28ac"/>
<path d="M144.6 93.8L146.6 90.9L145.1 92.3L143.1 95.3z" fill="#2499e9" stroke="#2499e9"/>
<path d="M91.5 115.8L93.5 116L91.9 114L90 113.8z" fill="#4538d5" stroke="#4538d5"/>
<path d="M132.2 108.7L134.2 105.9L132.7 106.2L130.7 109z" fill="#4758f7" stroke="#4758f7"/>
<path d="M79.1 106.7L81 107.6L79.5 105.1L77.6 104.1z" fill="#4560fb" stroke="#4560fb"/>
<path d="M119.8 117L121.8 115.3L120.2 114.9L118.3 116.6z" fill="#4435ce" stroke="#4435ce"/>
<path d="M107.4 120.6L109.3 119.7L107.8 118.8L105.9 119.7z" fill="#3e28ad" stroke="#3e28ad"/>
<path d="M148.1 89.1L150.1 86.4L148.5 88.1L146.6 90.9z" fill="#10a7db" stroke="#10a7db"/>
<path d="M95 118L96.9 118L95.4 116.1L93.5 116z" fill="#4331c6" stroke="#4331c6"/>
<path d="M135.7 105.4L137.6 102.5L136.1 103L134.2 105.9z" fill="#3b70fc" stroke="#3b70fc"/>
<path d="M82.5 110L84.5 110.6L83 108.3L81 107.6z" fill="#4751f3" stroke="#4751f3"/>
<path d="M123.3 115.4L125.2 113.7L123.7 113.6L121.8 115.3z" fill="#463cdc" stroke="#463cdc"/>
<path d="M70.1 96L72.1 98.4L70.6 95.4L68.6 92.9z" fill="#2990ef" stroke="#2990ef"/>
<path d="M110.8 120.4L112.8 119.2L111.3 118.5L109.3 119.7z" fill="#3f2ab2" stroke="#3f2ab2"/>
<path d="M98.4 119.8L100.4 119.6L98.9 117.9L96.9 118z" fill="#402cb8" stroke="#402cb8"/>
<path d="M139.1 101.4L141.1 98.4L139.6 99.5L137.6 102.5z" fill="#2f82f8" stroke="#2f82f8"/>
<path d="M86 112.8L88 113.4L86.5 111.2L84.5 110.6z" fill="#4746ea" stroke="#4746ea"/>
<path d="M126.7 113.5L128.7 111.5L127.2 111.6L125.2 113.7z" fill="#4745e9" stroke="#4745e9"/>
<path d="M73.6 101.2L75.6 102.9L74.1 100.2L72.1 98.4z" fill="#2f81f8" stroke="#2f81f8"/>
<path d="M114.3 119.9L116.3 118.3L114.8 117.7L112.8 119.2z" fill="#412dbb" stroke="#412dbb"/>
<path d="M101.9 120.9L103.9 120.4L102.4 119.2L100.4 119.6z" fill="#3f29af" stroke="#3f29af"/>
<path d="M142.6 96.9L144.6 93.8L143.1 95.3L141.1 98.4z" fill="#2991ee" stroke="#2991ee"/>
<path d="M89.5 115.5L91.5 115.8L90 113.8L88 113.4z" fill="#463edf" stroke="#463edf"/>
<path d="M130.2 111.2L132.2 108.7L130.7 109L128.7 111.5z" fill="#474ff2" stroke="#474ff2"/>
<path d="M77.1 105.5L79.1 106.7L77.6 104.1L75.6 102.9z" fill="#3b70fc" stroke="#3b70fc"/>
<path d="M117.8 118.8L119.8 117L118.3 116.6L116.3 118.3z" fill="#4331c8" stroke="#4331c8"/>
<path d="M105.4 121.3L107.4 120.6L105.9 119.7L103.9 120.4z" fill="#3f28ae" stroke="#3f28ae"/>
<path d="M146.1 92L148.1 89.1L146.6 90.9L144.6 93.8z" fill="#17a2e1" stroke="#17a2e1"/>
<path d="M93 117.9L95 118L93.5 116L91.5 115.8z" fill="#4435cf" stroke="#4435cf"/>
<path d="M133.7 108.2L135.7 105.4L134.2 105.9L132.2 108.7z" fill="#4561fb" stroke="#4561fb"/>
<path d="M80.6 109.1L82.5 110L81 107.6L79.1 106.7z" fill="#465af8" stroke="#465af8"/>
<path d="M121.3 117.2L123.3 115.4L121.8 115.3L119.8 117z" fill="#4539d6" stroke="#4539d6"/>
<path d="M108.9 121.4L110.8 120.4L109.3 119.7L107.4 120.6z" fill="#3f29b1" stroke="#3f29b1"/>
<path d="M96.5 119.9L98.4 119.8L96.9 118L95 118z" fill="#422fc0" stroke="#422fc0"/>
<path d="M137.2 104.3L139.1 101.4L137.6 102.5L135.7 105.4z" fill="#327cfb" stroke="#327cfb"/>
<path d="M84 112.2L86 112.8L84.5 110.6L82.5 110z" fill="#484cef" stroke="#484cef"/>
<path d="M124.8 115.3L126.7 113.5L125.2 113.7L123.3 115.4z" fill="#4741e5" stroke="#4741e5"/>
<path d="M71.6 98.9L73.6 101.2L72.1 98.4L70.1 96z" fill="#2b8af2" stroke="#2b8af2"/>
<path d="M112.3 121.1L114.3 119.9L112.8 119.2L110.8 120.4z" fill="#402bb7" stroke="#402bb7"/>
<path d="M99.9 121.2L101.9 120.9L100.4 119.6L98.4 119.8z" fill="#402bb5" stroke="#402bb5"/>
<path d="M140.6 99.9L142.6 96.9L141.1 98.4L139.1 101.4z" fill="#2b89f3" stroke="#2b89f3"/>
<path d="M87.5 115L89.5 115.5L88 113.4L86 112.8z" fill="#4743e7" stroke="#4743e7"/>
<path d="M128.2 113.2L130.2 111.2L128.7 111.5L126.7 113.5z" fill="#474aee" stroke="#474aee"/>
<path d="M75.1 103.9L77.1 105.5L75.6 102.9L73.6 101.2z" fill="#327dfb" stroke="#327dfb"/>
<path d="M115.8 120.4L117.8 118.8L116.3 118.3L114.3 119.9z" fill="#422fc1" stroke="#422fc1"/>
<path d="M103.4 121.9L105.4 121.3L103.9 120.4L101.9 120.9z" fill="#3f29b1" stroke="#3f29b1"/>
<path d="M144.1 95L146.1 92L144.6 93.8L142.6 96.9z" fill="#219be7" stroke="#219be7"/>
<path d="M91 117.6L93 117.9L91.5 115.8L89.5 115.5z" fill="#453ad8" stroke="#453ad8"/>
<path d="M131.7 110.6L133.7 108.2L132.2 108.7L130.2 111.2z" fill="#4758f7" stroke="#4758f7"/>
<path d="M78.6 108L80.6 109.1L79.1 106.7L77.1 105.5z" fill="#4266fc" stroke="#4266fc"/>
<path d="M119.3 119L121.3 117.2L119.8 117L117.8 118.8z" fill="#4435d0" stroke="#4435d0"/>
<path d="M106.9 122.2L108.9 121.4L107.4 120.6L105.4 121.3z" fill="#3f2ab2" stroke="#3f2ab2"/>
<path d="M94.5 119.8L96.5 119.9L95 118L93 117.9z" fill="#4332ca" stroke="#4332ca"/>
<path d="M135.2 107.1L137.2 104.3L135.7 105.4L133.7 108.2z" fill="#3a71fc" stroke="#3a71fc"/>
<path d="M82.1 111.4L84 112.2L82.5 110L80.6 109.1z" fill="#4754f5" stroke="#4754f5"/>
<path d="M122.8 117L124.8 115.3L123.3 115.4L121.3 117.2z" fill="#463ee0" stroke="#463ee0"/>
<path d="M110.4 122.1L112.3 121.1L110.8 120.4L108.9 121.4z" fill="#402bb5" stroke="#402bb5"/>
<path d="M98 121.3L99.9 121.2L98.4 119.8L96.5 119.9z" fill="#412ebd" stroke="#412ebd"/>
<path d="M138.7 102.8L140.6 99.9L139.1 101.4L137.2 104.3z" fill="#2e83f7" stroke="#2e83f7"/>
<path d="M85.6 114.4L87.5 115L86 112.8L84 112.2z" fill="#4749ec" stroke="#4749ec"/>
<path d="M126.3 114.9L128.2 113.2L126.7 113.5L124.8 115.3z" fill="#4747ea" stroke="#4747ea"/>
<path d="M73.1 101.7L75.1 103.9L73.6 101.2L71.6 98.9z" fill="#2d85f6" stroke="#2d85f6"/>
<path d="M113.8 121.7L115.8 120.4L114.3 119.9L112.3 121.1z" fill="#412dbd" stroke="#412dbd"/>
<path d="M101.4 122.2L103.4 121.9L101.9 120.9L99.9 121.2z" fill="#402bb6" stroke="#402bb6"/>
<path d="M142.2 98L144.1 95L142.6 96.9L140.6 99.9z" fill="#2894ec" stroke="#2894ec"/>
<path d="M89 117.1L91 117.6L89.5 115.5L87.5 115z" fill="#4740e3" stroke="#4740e3"/>
<path d="M129.7 112.6L131.7 110.6L130.2 111.2L128.2 113.2z" fill="#4751f3" stroke="#4751f3"/>
<path d="M76.6 106.5L78.6 108L77.1 105.5L75.1 103.9z" fill="#3577fc" stroke="#3577fc"/>
<path d="M117.3 120.6L119.3 119L117.8 118.8L115.8 120.4z" fill="#4332ca" stroke="#4332ca"/>
<path d="M104.9 122.7L106.9 122.2L105.4 121.3L103.4 121.9z" fill="#402bb4" stroke="#402bb4"/>
<path d="M92.5 119.5L94.5 119.8L93 117.9L91 117.6z" fill="#4537d3" stroke="#4537d3"/>
<path d="M133.2 109.6L135.2 107.1L133.7 108.2L131.7 110.6z" fill="#4364fc" stroke="#4364fc"/>
<path d="M80.1 110.4L82.1 111.4L80.6 109.1L78.6 108z" fill="#465efa" stroke="#465efa"/>
<path d="M120.8 118.8L122.8 117L121.3 117.2L119.3 119z" fill="#453bd9" stroke="#453bd9"/>
<path d="M108.4 122.9L110.4 122.1L108.9 121.4L106.9 122.2z" fill="#402bb6" stroke="#402bb6"/>
<path d="M96 121.2L98 121.3L96.5 119.9L94.5 119.8z" fill="#4331c6" stroke="#4331c6"/>
<path d="M136.7 105.6L138.7 102.8L137.2 104.3L135.2 107.1z" fill="#317efa" stroke="#317efa"/>
<path d="M83.6 113.7L85.6 114.4L84 112.2L82.1 111.4z" fill="#484ff1" stroke="#484ff1"/>
<path d="M124.3 116.7L126.3 114.9L124.8 115.3L122.8 117z" fill="#4744e8" stroke="#4744e8"/>
<path d="M111.9 122.7L113.8 121.7L112.3 121.1L110.4 122.1z" fill="#412dbb" stroke="#412dbb"/>
<path d="M99.5 122.3L101.4 122.2L99.9 121.2L98 121.3z" fill="#412ebd" stroke="#412ebd"/>
<path d="M140.2 101L142.2 98L140.6 99.9L138.7 102.8z" fill="#2a8df1" stroke="#2a8df1"/>
<path d="M87.1 116.7L89 117.1L87.5 115L85.6 114.4z" fill="#4745e9" stroke="#4745e9"/>
<path d="M127.8 114.4L129.7 112.6L128.2 113.2L126.3 114.9z" fill="#484df0" stroke="#484df0"/>
<path d="M74.6 104.5L76.6 106.5L75.1 103.9L73.1 101.7z" fill="#2f81f8" stroke="#2f81f8"/>
<path d="M115.4 121.9L117.3 120.6L115.8 120.4L113.8 121.7z" fill="#4330c5" stroke="#4330c5"/>
<path d="M102.9 123.1L104.9 122.7L103.4 121.9L101.4 122.2z" fill="#412cb9" stroke="#412cb9"/>
<path d="M90.5 119.2L92.5 119.5L91 117.6L89 117.1z" fill="#463cdc" stroke="#463cdc"/>
<path d="M131.2 111.6L133.2 109.6L131.7 110.6L129.7 112.6z" fill="#465cf9" stroke="#465cf9"/>
<path d="M78.1 109L80.1 110.4L78.6 108L76.6 106.5z" fill="#3c6efc" stroke="#3c6efc"/>
<path d="M118.8 120.5L120.8 118.8L119.3 119L117.3 120.6z" fill="#4537d3" stroke="#4537d3"/>
<path d="M106.4 123.5L108.4 122.9L106.9 122.2L104.9 122.7z" fill="#402cb8" stroke="#402cb8"/>
<path d="M94 121.1L96 121.2L94.5 119.8L92.5 119.5z" fill="#4435cf" stroke="#4435cf"/>
<path d="M134.7 108.1L136.7 105.6L135.2 107.1L133.2 109.6z" fill="#3577fc" stroke="#3577fc"/>
<path d="M81.6 112.8L83.6 113.7L82.1 111.4L80.1 110.4z" fill="#4758f7" stroke="#4758f7"/>
<path d="M122.3 118.5L124.3 116.7L122.8 117L120.8 118.8z" fill="#4741e5" stroke="#4741e5"/>
<path d="M109.9 123.6L111.9 122.7L110.4 122.1L108.4 122.9z" fill="#412dbb" stroke="#412dbb"/>
<path d="M97.5 122.4L99.5 122.3L98 121.3L96 121.2z" fill="#4331c5" stroke="#4331c5"/>
<path d="M138.2 103.8L140.2 101L138.7 102.8L136.7 105.6z" fill="#2c86f5" stroke="#2c86f5"/>
<path d="M85.1 116L87.1 116.7L85.6 114.4L83.6 113.7z" fill="#474bee" stroke="#474bee"/>
<path d="M125.8 116.1L127.8 114.4L126.3 114.9L124.3 116.7z" fill="#474aed" stroke="#474aed"/>
<path d="M113.4 123L115.4 121.9L113.8 121.7L111.9 122.7z" fill="#4230c3" stroke="#4230c3"/>
<path d="M101 123.3L102.9 123.1L101.4 122.2L99.5 122.3z" fill="#422fc0" stroke="#422fc0"/>
<path d="M88.6 118.8L90.5 119.2L89 117.1L87.1 116.7z" fill="#4742e6" stroke="#4742e6"/>
<path d="M129.3 113.3L131.2 111.6L129.7 112.6L127.8 114.4z" fill="#4757f6" stroke="#4757f6"/>
<path d="M76.1 107.1L78.1 109L76.6 106.5L74.6 104.5z" fill="#317dfb" stroke="#317dfb"/>
<path d="M116.9 121.9L118.8 120.5L117.3 120.6L115.4 121.9z" fill="#4435cf" stroke="#4435cf"/>
<path d="M104.4 123.9L106.4 123.5L104.9 122.7L102.9 123.1z" fill="#412dbd" stroke="#412dbd"/>
<path d="M92 120.8L94 121.1L92.5 119.5L90.5 119.2z" fill="#453ad8" stroke="#453ad8"/>
<path d="M132.7 110.1L134.7 108.1L133.2 109.6L131.2 111.6z" fill="#3c6efc" stroke="#3c6efc"/>
<path d="M79.6 111.5L81.6 112.8L80.1 110.4L78.1 109z" fill="#4265fc" stroke="#4265fc"/>
<path d="M120.3 120.3L122.3 118.5L120.8 118.8L118.8 120.5z" fill="#463dde" stroke="#463dde"/>
<path d="M107.9 124.2L109.9 123.6L108.4 122.9L106.4 123.5z" fill="#412ebd" stroke="#412ebd"/>
<path d="M95.5 122.2L97.5 122.4L96 121.2L94 121.1z" fill="#4435ce" stroke="#4435ce"/>
<path d="M136.2 106.3L138.2 103.8L136.7 105.6L134.7 108.1z" fill="#2f81f8" stroke="#2f81f8"/>
<path d="M83.1 115.2L85.1 116L83.6 113.7L81.6 112.8z" fill="#4753f4" stroke="#4753f4"/>
<path d="M123.8 118L125.8 116.1L124.3 116.7L122.3 118.5z" fill="#4747ea" stroke="#4747ea"/>
<path d="M111.4 123.9L113.4 123L111.9 122.7L109.9 123.6z" fill="#4230c3" stroke="#4230c3"/>
<path d="M99 123.4L101 123.3L99.5 122.3L97.5 122.4z" fill="#4331c7" stroke="#4331c7"/>
<path d="M86.6 118.2L88.6 118.8L87.1 116.7L85.1 116z" fill="#4747eb" stroke="#4747eb"/>
<path d="M127.3 115.1L129.3 113.3L127.8 114.4L125.8 116.1z" fill="#4753f4" stroke="#4753f4"/>
<path d="M114.9 122.9L116.9 121.9L115.4 121.9L113.4 123z" fill="#4434cd" stroke="#4434cd"/>
<path d="M102.5 124.2L104.4 123.9L102.9 123.1L101 123.3z" fill="#4230c3" stroke="#4230c3"/>
<path d="M90.1 120.5L92 120.8L90.5 119.2L88.6 118.8z" fill="#473fe2" stroke="#473fe2"/>
<path d="M130.8 111.9L132.7 110.1L131.2 111.6L129.3 113.3z" fill="#4166fc" stroke="#4166fc"/>
<path d="M77.7 109.7L79.6 111.5L78.1 109L76.1 107.1z" fill="#3578fd" stroke="#3578fd"/>
<path d="M118.4 121.6L120.3 120.3L118.8 120.5L116.9 121.9z" fill="#453bda" stroke="#453bda"/>
<path d="M105.9 124.7L107.9 124.2L106.4 123.5L104.4 123.9z" fill="#422fc1" stroke="#422fc1"/>
<path d="M93.5 122L95.5 122.2L94 121.1L92 120.8z" fill="#4539d7" stroke="#4539d7"/>
<path d="M134.2 108.4L136.2 106.3L134.7 108.1L132.7 110.1z" fill="#317efa" stroke="#317efa"/>
<path d="M81.1 114L83.1 115.2L81.6 112.8L79.6 111.5z" fill="#465dfa" stroke="#465dfa"/>
<path d="M121.8 119.8L123.8 118L122.3 118.5L120.3 120.3z" fill="#4744e7" stroke="#4744e7"/>
<path d="M109.4 124.6L111.4 123.9L109.9 123.6L107.9 124.2z" fill="#4230c4" stroke="#4230c4"/>
<path d="M97 123.3L99 123.4L97.5 122.4L95.5 122.2z" fill="#4435cf" stroke="#4435cf"/>
<path d="M84.6 117.5L86.6 118.2L85.1 116L83.1 115.2z" fill="#484df0" stroke="#484df0"/>
<path d="M125.3 117.1L127.3 115.1L125.8 116.1L123.8 118z" fill="#484ef1" stroke="#484ef1"/>
<path d="M112.9 123.8L114.9 122.9L113.4 123L111.4 123.9z" fill="#4434cd" stroke="#4434cd"/>
<path d="M100.5 124.3L102.5 124.2L101 123.3L99 123.4z" fill="#4332ca" stroke="#4332ca"/>
<path d="M88.1 120.1L90.1 120.5L88.6 118.8L86.6 118.2z" fill="#4745e8" stroke="#4745e8"/>
<path d="M128.8 113.8L130.8 111.9L129.3 113.3L127.3 115.1z" fill="#4660fb" stroke="#4660fb"/>
<path d="M116.4 122.7L118.4 121.6L116.9 121.9L114.9 122.9z" fill="#453ad8" stroke="#453ad8"/>
<path d="M104 124.9L105.9 124.7L104.4 123.9L102.5 124.2z" fill="#4331c7" stroke="#4331c7"/>
<path d="M91.6 121.8L93.5 122L92 120.8L90.1 120.5z" fill="#463ee0" stroke="#463ee0"/>
<path d="M132.3 110.3L134.2 108.4L132.7 110.1L130.8 111.9z" fill="#337bfc" stroke="#337bfc"/>
<path d="M79.2 112.3L81.1 114L79.6 111.5L77.7 109.7z" fill="#3c6efc" stroke="#3c6efc"/>
<path d="M119.9 121.2L121.8 119.8L120.3 120.3L118.4 121.6z" fill="#4741e5" stroke="#4741e5"/>
<path d="M107.5 125L109.4 124.6L107.9 124.2L105.9 124.7z" fill="#4331c8" stroke="#4331c8"/>
<path d="M95 123.2L97 123.3L95.5 122.2L93.5 122z" fill="#453ad8" stroke="#453ad8"/>
<path d="M82.6 116.4L84.6 117.5L83.1 115.2L81.1 114z" fill="#4757f6" stroke="#4757f6"/>
<path d="M123.3 119L125.3 117.1L123.8 118L121.8 119.8z" fill="#474bee" stroke="#474bee"/>
<path d="M110.9 124.5L112.9 123.8L111.4 123.9L109.4 124.6z" fill="#4434ce" stroke="#4434ce"/>
<path d="M98.5 124.3L100.5 124.3L99 123.4L97 123.3z" fill="#4436d1" stroke="#4436d1"/>
<path d="M86.1 119.4L88.1 120.1L86.6 118.2L84.6 117.5z" fill="#474aee" stroke="#474aee"/>
<path d="M126.8 115.8L128.8 113.8L127.3 115.1L125.3 117.1z" fill="#465bf8" stroke="#465bf8"/>
<path d="M114.4 123.6L116.4 122.7L114.9 122.9L112.9 123.8z" fill="#453ad7" stroke="#453ad7"/>
<path d="M102 125.1L104 124.9L102.5 124.2L100.5 124.3z" fill="#4434cd" stroke="#4434cd"/>
<path d="M89.6 121.4L91.6 121.8L90.1 120.5L88.1 120.1z" fill="#4743e7" stroke="#4743e7"/>
<path d="M130.3 112.2L132.3 110.3L130.8 111.9L128.8 113.8z" fill="#3775fc" stroke="#3775fc"/>
<path d="M117.9 122.3L119.9 121.2L118.4 121.6L116.4 122.7z" fill="#4740e4" stroke="#4740e4"/>
<path d="M105.5 125.4L107.5 125L105.9 124.7L104 124.9z" fill="#4434cd" stroke="#4434cd"/>
<path d="M93.1 123L95 123.2L93.5 122L91.6 121.8z" fill="#463fe1" stroke="#463fe1"/>
<path d="M80.7 114.9L82.6 116.4L81.1 114L79.2 112.3z" fill="#4364fc" stroke="#4364fc"/>
<path d="M121.4 120.4L123.3 119L121.8 119.8L119.9 121.2z" fill="#4748ec" stroke="#4748ec"/>
<path d="M109 125L110.9 124.5L109.4 124.6L107.5 125z" fill="#4436d1" stroke="#4436d1"/>
<path d="M96.5 124.2L98.5 124.3L97 123.3L95 123.2z" fill="#453ad9" stroke="#453ad9"/>
<path d="M84.1 118.5L86.1 119.4L84.6 117.5L82.6 116.4z" fill="#4752f3" stroke="#4752f3"/>
<path d="M124.8 117.8L126.8 115.8L125.3 117.1L123.3 119z" fill="#4755f5" stroke="#4755f5"/>
<path d="M112.4 124.4L114.4 123.6L112.9 123.8L110.9 124.5z" fill="#453ad8" stroke="#453ad8"/>
<path d="M100 125.1L102 125.1L100.5 124.3L98.5 124.3z" fill="#4538d4" stroke="#4538d4"/>
<path d="M87.6 120.9L89.6 121.4L88.1 120.1L86.1 119.4z" fill="#4749ec" stroke="#4749ec"/>
<path d="M128.3 114.3L130.3 112.2L128.8 113.8L126.8 115.8z" fill="#3d6dfc" stroke="#3d6dfc"/>
<path d="M115.9 123.3L117.9 122.3L116.4 122.7L114.4 123.6z" fill="#4740e3" stroke="#4740e3"/>
<path d="M103.5 125.5L105.5 125.4L104 124.9L102 125.1z" fill="#4437d2" stroke="#4437d2"/>
<path d="M91.1 122.7L93.1 123L91.6 121.8L89.6 121.4z" fill="#4743e7" stroke="#4743e7"/>
<path d="M119.4 121.6L121.4 120.4L119.9 121.2L117.9 122.3z" fill="#4747eb" stroke="#4747eb"/>
<path d="M107 125.4L109 125L107.5 125L105.5 125.4z" fill="#4538d5" stroke="#4538d5"/>
<path d="M94.6 124.1L96.5 124.2L95 123.2L93.1 123z" fill="#463fe2" stroke="#463fe2"/>
<path d="M82.2 117.1L84.1 118.5L82.6 116.4L80.7 114.9z" fill="#465dfa" stroke="#465dfa"/>
<path d="M122.9 119.3L124.8 117.8L123.3 119L121.4 120.4z" fill="#4751f3" stroke="#4751f3"/>
<path d="M110.5 124.9L112.4 124.4L110.9 124.5L109 125z" fill="#463bdb" stroke="#463bdb"/>
<path d="M98 125.1L100 125.1L98.5 124.3L96.5 124.2z" fill="#463cdb" stroke="#463cdb"/>
<path d="M85.6 120L87.6 120.9L86.1 119.4L84.1 118.5z" fill="#474ff2" stroke="#474ff2"/>
<path d="M126.3 116.4L128.3 114.3L126.8 115.8L124.8 117.8z" fill="#4364fc" stroke="#4364fc"/>
<path d="M113.9 124.1L115.9 123.3L114.4 123.6L112.4 124.4z" fill="#4740e4" stroke="#4740e4"/>
<path d="M101.5 125.6L103.5 125.5L102 125.1L100 125.1z" fill="#453ad9" stroke="#453ad9"/>
<path d="M89.1 122.2L91.1 122.7L89.6 121.4L87.6 120.9z" fill="#4748ec" stroke="#4748ec"/>
<path d="M117.4 122.6L119.4 121.6L117.9 122.3L115.9 123.3z" fill="#4747ea" stroke="#4747ea"/>
<path d="M105 125.6L107 125.4L105.5 125.4L103.5 125.5z" fill="#453bda" stroke="#453bda"/>
<path d="M92.6 123.9L94.6 124.1L93.1 123L91.1 122.7z" fill="#4743e7" stroke="#4743e7"/>
<path d="M120.9 120.6L122.9 119.3L121.4 120.4L119.4 121.6z" fill="#474ff2" stroke="#474ff2"/>
<path d="M108.5 125.3L110.5 124.9L109 125L107 125.4z" fill="#463edf" stroke="#463edf"/>
<path d="M96.1 125L98 125.1L96.5 124.2L94.6 124.1z" fill="#4740e3" stroke="#4740e3"/>
<path d="M83.7 118.9L85.6 120L84.1 118.5L82.2 117.1z" fill="#465af8" stroke="#465af8"/>
<path d="M124.4 118L126.3 116.4L124.8 117.8L122.9 119.3z" fill="#465efb" stroke="#465efb"/>
<path d="M112 124.7L113.9 124.1L112.4 124.4L110.5 124.9z" fill="#4741e5" stroke="#4741e5"/>
<path d="M99.6 125.7L101.5 125.6L100 125.1L98 125.1z" fill="#463ee0" stroke="#463ee0"/>
<path d="M87.1 121.5L89.1 122.2L87.6 120.9L85.6 120z" fill="#484ef1" stroke="#484ef1"/>
<path d="M115.4 123.5L117.4 122.6L115.9 123.3L113.9 124.1z" fill="#4747ea" stroke="#4747ea"/>
<path d="M103 125.7L105 125.6L103.5 125.5L101.5 125.6z" fill="#463ee0" stroke="#463ee0"/>
<path d="M90.6 123.5L92.6 123.9L91.1 122.7L89.1 122.2z" fill="#4748ec" stroke="#4748ec"/>
<path d="M118.9 121.7L120.9 120.6L119.4 121.6L117.4 122.6z" fill="#484ef1" stroke="#484ef1"/>
<path d="M106.5 125.5L108.5 125.3L107 125.4L105 125.6z" fill="#4740e4" stroke="#4740e4"/>
<path d="M94.1 124.9L96.1 125L94.6 124.1L92.6 123.9z" fill="#4744e8" stroke="#4744e8"/>
<path d="M122.4 119.3L124.4 118L122.9 119.3L120.9 120.6z" fill="#465cf9" stroke="#465cf9"/>
<path d="M110 125.1L112 124.7L110.5 124.9L108.5 125.3z" fill="#4743e7" stroke="#4743e7"/>
<path d="M97.6 125.6L99.6 125.7L98 125.1L96.1 125z" fill="#4742e6" stroke="#4742e6"/>
<path d="M85.2 120.5L87.1 121.5L85.6 120L83.7 118.9z" fill="#4758f7" stroke="#4758f7"/>
<path d="M113.5 124.1L115.4 123.5L113.9 124.1L112 124.7z" fill="#4747eb" stroke="#4747eb"/>
<path d="M101.1 125.8L103 125.7L101.5 125.6L99.6 125.7z" fill="#4742e6" stroke="#4742e6"/>
<path d="M88.6 122.9L90.6 123.5L89.1 122.2L87.1 121.5z" fill="#484ef1" stroke="#484ef1"/>
<path d="M116.9 122.6L118.9 121.7L117.4 122.6L115.4 123.5z" fill="#484ef1" stroke="#484ef1"/>
<path d="M104.5 125.7L106.5 125.5L105 125.6L103 125.7z" fill="#4743e7" stroke="#4743e7"/>
<path d="M92.1 124.6L94.1 124.9L92.6 123.9L90.6 123.5z" fill="#4749ec" stroke="#4749ec"/>
<path d="M120.4 120.5L122.4 119.3L120.9 120.6L118.9 121.7z" fill="#465af8" stroke="#465af8"/>
<path d="M108 125.4L110 125.1L108.5 125.3L106.5 125.5z" fill="#4745e9" stroke="#4745e9"/>
<path d="M95.6 125.6L97.6 125.6L96.1 125L94.1 124.9z" fill="#4746e9" stroke="#4746e9"/>
<path d="M111.5 124.6L113.5 124.1L112 124.7L110 125.1z" fill="#4749ec" stroke="#4749ec"/>
<path d="M99.1 125.9L101.1 125.8L99.6 125.7L97.6 125.6z" fill="#4745e9" stroke="#4745e9"/>
<path d="M86.7 122L88.6 122.9L87.1 121.5L85.2 120.5z" fill="#4757f6" stroke="#4757f6"/>
<path d="M115 123.4L116.9 122.6L115.4 123.5L113.5 124.1z" fill="#484ff2" stroke="#484ff2"/>
<path d="M102.6 125.8L104.5 125.7L103 125.7L101.1 125.8z" fill="#4746ea" stroke="#4746ea"/>
<path d="M90.1 124.1L92.1 124.6L90.6 123.5L88.6 122.9z" fill="#484ef1" stroke="#484ef1"/>
<path d="M118.5 121.6L120.4 120.5L118.9 121.7L116.9 122.6z" fill="#465af8" stroke="#465af8"/>
<path d="M106 125.6L108 125.4L106.5 125.5L104.5 125.7z" fill="#4748eb" stroke="#4748eb"/>
<path d="M93.6 125.3L95.6 125.6L94.1 124.9L92.1 124.6z" fill="#474aed" stroke="#474aed"/>
<path d="M109.5 125L111.5 124.6L110 125.1L108 125.4z" fill="#484bee" stroke="#484bee"/>
<path d="M97.1 125.8L99.1 125.9L97.6 125.6L95.6 125.6z" fill="#4749ec" stroke="#4749ec"/>
<path d="M113 123.9L115 123.4L113.5 124.1L111.5 124.6z" fill="#4751f3" stroke="#4751f3"/>
<path d="M100.6 125.9L102.6 125.8L101.1 125.8L99.1 125.9z" fill="#4749ed" stroke="#4749ed"/>
<path d="M88.2 123.3L90.1 124.1L88.6 122.9L86.7 122z" fill="#4756f6" stroke="#4756f6"/>
<path d="M116.5 122.4L118.5 121.6L116.9 122.6L115 123.4z" fill="#465af8" stroke="#465af8"/>
<path d="M104.1 125.8L106 125.6L104.5 125.7L102.6 125.8z" fill="#474bee" stroke="#474bee"/>
<path d="M91.7 124.9L93.6 125.3L92.1 124.6L90.1 124.1z" fill="#484ff2" stroke="#484ff2"/>
<path d="M107.5 125.3L109.5 125L108 125.4L106 125.6z" fill="#484df1" stroke="#484df1"/>
<path d="M95.1 125.7L97.1 125.8L95.6 125.6L93.6 125.3z" fill="#484df0" stroke="#484df0"/>
<path d="M111 124.4L113 123.9L111.5 124.6L109.5 125z" fill="#4753f4" stroke="#4753f4"/>
<path d="M98.6 125.9L100.6 125.9L99.1 125.9L97.1 125.8z" fill="#484df0" stroke="#484df0"/>
<path d="M114.5 123.1L116.5 122.4L115 123.4L113 123.9z" fill="#465bf9" stroke="#465bf9"/>
<path d="M102.1 125.9L104.1 125.8L102.6 125.8L100.6 125.9z" fill="#484ef1" stroke="#484ef1"/>
<path d="M89.7 124.3L91.7 124.9L90.1 124.1L88.2 123.3z" fill="#4757f6" stroke="#4757f6"/>
<path d="M105.6 125.5L107.5 125.3L106 125.6L104.1 125.8z" fill="#4751f3" stroke="#4751f3"/>
<path d="M93.2 125.4L95.1 125.7L93.6 125.3L91.7 124.9z" fill="#4752f4" stroke="#4752f4"/>
<path d="M109 124.8L111 124.4L109.5 125L107.5 125.3z" fill="#4756f6" stroke="#4756f6"/>
<path d="M96.6 125.9L98.6 125.9L97.1 125.8L95.1 125.7z" fill="#4751f3" stroke="#4751f3"/>
<path d="M112.5 123.6L114.5 123.1L113 123.9L111 124.4z" fill="#465dfa" stroke="#465dfa"/>
<path d="M100.1 126L102.1 125.9L100.6 125.9L98.6 125.9z" fill="#4752f3" stroke="#4752f3"/>
<path d="M103.6 125.8L105.6 125.5L104.1 125.8L102.1 125.9z" fill="#4755f5" stroke="#4755f5"/>
<path d="M91.2 124.8L93.2 125.4L91.7 124.9L89.7 124.3z" fill="#465af8" stroke="#465af8"/>
<path d="M107.1 125.1L109 124.8L107.5 125.3L105.6 125.5z" fill="#4659f8" stroke="#4659f8"/>
<path d="M94.7 125.6L96.6 125.9L95.1 125.7L93.2 125.4z" fill="#4757f6" stroke="#4757f6"/>
<path d="M110.5 124.1L112.5 123.6L111 124.4L109 124.8z" fill="#4660fb" stroke="#4660fb"/>
<path d="M98.1 126L100.1 126L98.6 125.9L96.6 125.9z" fill="#4757f6" stroke="#4757f6"/>
<path d="M101.6 126L103.6 125.8L102.1 125.9L100.1 126z" fill="#4759f7" stroke="#4759f7"/>
<path d="M105.1 125.5L107.1 125.1L105.6 125.5L103.6 125.8z" fill="#465dfa" stroke="#465dfa"/>
<path d="M92.7 125.2L94.7 125.6L93.2 125.4L91.2 124.8z" fill="#465efb" stroke="#465efb"/>
<path d="M108.6 124.6L110.5 124.1L109 124.8L107.1 125.1z" fill="#4364fc" stroke="#4364fc"/>
<path d="M96.2 125.9L98.1 126L96.6 125.9L94.7 125.6z" fill="#465dfa" stroke="#465dfa"/>
<path d="M99.6 126.1L101.6 126L100.1 126L98.1 126z" fill="#465dfa" stroke="#465dfa"/>
<path d="M103.1 125.8L105.1 125.5L103.6 125.8L101.6 126z" fill="#4560fb" stroke="#4560fb"/>
<path d="M106.6 125L108.6 124.6L107.1 125.1L105.1 125.5z" fill="#4068fc" stroke="#4068fc"/>
<path d="M94.2 125.6L96.2 125.9L94.7 125.6L92.7 125.2z" fill="#4364fc" stroke="#4364fc"/>
<path d="M97.7 126.1L99.6 126.1L98.1 126L96.2 125.9z" fill="#4363fc" stroke="#4363fc"/>
<path d="M101.1 126L103.1 125.8L101.6 126L99.6 126.1z" fill="#4266fc" stroke="#4266fc"/>
<path d="M104.6 125.5L106.6 125L105.1 125.5L103.1 125.8z" fill="#3d6cfc" stroke="#3d6cfc"/>
<path d="M95.7 126L97.7 126.1L96.2 125.9L94.2 125.6z" fill="#3e6bfc" stroke="#3e6bfc"/>
<path d="M99.2 126.2L101.1 126L99.6 126.1L97.7 126.1z" fill="#3d6cfc" stroke="#3d6cfc"/>
<path d="M102.7 125.8L104.6 125.5L103.1 125.8L101.1 126z" fill="#3a71fc" stroke="#3a71fc"/>
<path d="M97.2 126.2L99.2 126.2L97.7 126.1L95.7 126z" fill="#3873fc" stroke="#3873fc"/>
<path d="M100.7 126.1L102.7 125.8L101.1 126L99.2 126.2z" fill="#3676fc" stroke="#3676fc"/>
<path d="M98.7 126.4L100.7 126.1L99.2 126.2L97.2 126.2z" fill="#337bfc" stroke="#337bfc"/>
</g>
<path d="M56.6,40.2V114.7L98.7,149.5L154,123" fill="none" stroke="#9a9a9a" stroke-width="0.5"/>
<path d="M56.6,48.9h1.5" stroke="#9a9a9a" stroke-width="0.5"/>
<text x="53" y="51.8" font-size="7.9" text-anchor="end" class="t3">6.186</text>
<path d="M56.6,64.9h1.5" stroke="#9a9a9a" stroke-width="0.5"/>
<text x="53" y="67.8" font-size="7.9" text-anchor="end" class="t3">6.18595</text>
<path d="M56.6,80.6h1.5" stroke="#9a9a9a" stroke-width="0.5"/>
<text x="53" y="83.5" font-size="7.9" text-anchor="end" class="t3">6.1859</text>
<path d="M56.6,96.9h1.5" stroke="#9a9a9a" stroke-width="0.5"/>
<text x="53" y="99.8" font-size="7.9" text-anchor="end" class="t3">6.18585</text>
<path d="M56.6,112.5h1.5" stroke="#9a9a9a" stroke-width="0.5"/>
<text x="53" y="115.4" font-size="7.9" text-anchor="end" class="t3">6.1858</text>
<text x="105" y="10.3" font-size="7.9" text-anchor="middle">F11</text>
<text x="51.8" y="21.8" font-size="7.9" text-anchor="end">×10</text><text x="52.1" y="18.2" font-size="5.4">8</text>
<text x="46.6" y="125.1" font-size="7.9" text-anchor="middle" class="t3">100</text>
<text x="71.8" y="142.7" font-size="7.9" text-anchor="middle" class="t3">0</text>
<text x="87.2" y="160.1" font-size="7.9" text-anchor="middle" class="t3">-100</text>
<text x="109.6" y="161" font-size="7.9" text-anchor="middle" class="t3">-100</text>
<text x="132.2" y="147.1" font-size="7.9" text-anchor="middle" class="t3">0</text>
<text x="163.5" y="134" font-size="7.9" text-anchor="middle" class="t3">100</text>
<text x="58.4" y="158.5" font-size="7.9" text-anchor="middle">x<tspan font-size="5.8" dy="2.6">2</tspan></text>
<text x="142.4" y="163.3" font-size="7.9" text-anchor="middle">x<tspan font-size="5.8" dy="2.6">1</tspan></text>
<text x="9.8" y="77.4" font-size="7.9" text-anchor="middle" transform="rotate(-90 9.8 77.4)">F11</text>
<text x="19.8" y="77.4" font-size="7.9" text-anchor="middle" transform="rotate(-90 19.8 77.4)">( x<tspan font-size="5.4" dy="1.8">1</tspan><tspan dy="-1.8"> , x</tspan><tspan font-size="5.4" dy="1.8">2</tspan><tspan dy="-1.8"> )</tspan></text>
</g>
<g id="s3d1">
<path d="M43,294.2L109,267" stroke="#9898ee" stroke-width="0.6"/>
<path d="M60.6,306.8L126.6,279.6" stroke="#9898ee" stroke-width="0.6"/>
<path d="M66.2,310.9L132.2,283.7" stroke="#8fa8f0" stroke-width="0.6"/>
<path d="M69.9,313.5L135.9,286.3" stroke="#8fa8f0" stroke-width="0.6"/>
<path d="M73.1,315.8L139.1,288.6" stroke="#60c8ec" stroke-width="0.6"/>
<path d="M76,317.9L142,290.7" stroke="#60c8ec" stroke-width="0.6"/>
<path d="M78.5,319.7L144.5,292.5" stroke="#50d8e0" stroke-width="0.6"/>
<path d="M80.4,321.1L146.4,293.9" stroke="#50d8e0" stroke-width="0.6"/>
<path d="M82.6,322.7L148.6,295.5" stroke="#90dcb0" stroke-width="0.6"/>
<path d="M84.6,324.1L150.6,296.9" stroke="#f0d080" stroke-width="0.6"/>
<path d="M86.6,325.5L152.6,298.3" stroke="#f0d080" stroke-width="0.6"/>
<path d="M88.3,326.7L154.3,299.5" stroke="#f0d080" stroke-width="0.6"/>
<g stroke-width="0.6" stroke-linejoin="round">
<path d="M40.9 281.4L106.8 254.2L106.5 253.8L40.5 281z" fill="#4433cc" stroke="#4433cc"/>
<path d="M41.2 281.8L107.2 254.6L106.8 254.2L40.9 281.4z" fill="#4333cb" stroke="#4333cb"/>
<path d="M41.6 282.2L107.6 255L107.2 254.6L41.2 281.8z" fill="#4332c9" stroke="#4332c9"/>
<path d="M41.9 282.6L107.9 255.4L107.6 255L41.6 282.2z" fill="#4331c8" stroke="#4331c8"/>
<path d="M42.2 283L108.2 255.8L107.9 255.4L41.9 282.6z" fill="#4331c7" stroke="#4331c7"/>
<path d="M42.6 283.4L108.6 256.2L108.2 255.8L42.2 283z" fill="#4331c5" stroke="#4331c5"/>
<path d="M43 283.8L109 256.6L108.6 256.2L42.6 283.4z" fill="#4230c4" stroke="#4230c4"/>
<path d="M43.3 284.2L109.3 257L109 256.6L43 283.8z" fill="#4230c3" stroke="#4230c3"/>
<path d="M43.6 284.5L109.7 257.3L109.3 257L43.3 284.2z" fill="#422fc1" stroke="#422fc1"/>
<path d="M44 284.9L110 257.7L109.7 257.3L43.6 284.5z" fill="#422fc0" stroke="#422fc0"/>
<path d="M44.4 285.3L110.3 258.1L110 257.7L44 284.9z" fill="#422ebf" stroke="#422ebf"/>
<path d="M44.7 285.7L110.7 258.5L110.3 258.1L44.4 285.3z" fill="#412ebe" stroke="#412ebe"/>
<path d="M45 286L111 258.8L110.7 258.5L44.7 285.7z" fill="#412ebd" stroke="#412ebd"/>
<path d="M45.4 286.4L111.4 259.2L111 258.8L45 286z" fill="#412dbc" stroke="#412dbc"/>
<path d="M45.8 286.8L111.8 259.6L111.4 259.2L45.4 286.4z" fill="#412dbb" stroke="#412dbb"/>
<path d="M46.1 287.1L112.1 259.9L111.8 259.6L45.8 286.8z" fill="#412cba" stroke="#412cba"/>
<path d="M46.5 287.5L112.5 260.3L112.1 259.9L46.1 287.1z" fill="#402cb9" stroke="#402cb9"/>
<path d="M46.8 287.8L112.8 260.6L112.5 260.3L46.5 287.5z" fill="#402cb8" stroke="#402cb8"/>
<path d="M47.2 288.2L113.2 261L112.8 260.6L46.8 287.8z" fill="#402bb7" stroke="#402bb7"/>
<path d="M47.5 288.5L113.5 261.3L113.2 261L47.2 288.2z" fill="#402bb6" stroke="#402bb6"/>
<path d="M47.9 288.9L113.8 261.7L113.5 261.3L47.5 288.5z" fill="#402bb5" stroke="#402bb5"/>
<path d="M48.2 289.2L114.2 262L113.8 261.7L47.9 288.9z" fill="#402ab4" stroke="#402ab4"/>
<path d="M48.5 289.5L114.5 262.3L114.2 262L48.2 289.2z" fill="#402ab3" stroke="#402ab3"/>
<path d="M48.9 289.9L114.9 262.7L114.5 262.3L48.5 289.5z" fill="#3f2ab2" stroke="#3f2ab2"/>
<path d="M49.2 290.2L115.2 263L114.9 262.7L48.9 289.9z" fill="#3f2ab2" stroke="#3f2ab2"/>
<path d="M49.6 290.5L115.6 263.3L115.2 263L49.2 290.2z" fill="#3f29b1" stroke="#3f29b1"/>
<path d="M49.9 290.8L115.9 263.6L115.6 263.3L49.6 290.5z" fill="#3f29b0" stroke="#3f29b0"/>
<path d="M50.3 291.2L116.3 264L115.9 263.6L49.9 290.8z" fill="#3f29af" stroke="#3f29af"/>
<path d="M50.6 291.5L116.7 264.3L116.3 264L50.3 291.2z" fill="#3f29af" stroke="#3f29af"/>
<path d="M51 291.8L117 264.6L116.7 264.3L50.6 291.5z" fill="#3f28ae" stroke="#3f28ae"/>
<path d="M51.4 292.1L117.3 264.9L117 264.6L51 291.8z" fill="#3f28ae" stroke="#3f28ae"/>
<path d="M51.7 292.4L117.7 265.2L117.3 264.9L51.4 292.1z" fill="#3f28ad" stroke="#3f28ad"/>
<path d="M52.1 292.7L118.1 265.5L117.7 265.2L51.7 292.4z" fill="#3e28ad" stroke="#3e28ad"/>
<path d="M52.4 293L118.4 265.8L118.1 265.5L52.1 292.7z" fill="#3e28ac" stroke="#3e28ac"/>
<path d="M52.8 293.3L118.8 266.1L118.4 265.8L52.4 293z" fill="#3e27ac" stroke="#3e27ac"/>
<path d="M53.1 293.6L119.1 266.4L118.8 266.1L52.8 293.3z" fill="#3e27ab" stroke="#3e27ab"/>
<path d="M53.5 293.9L119.5 266.7L119.1 266.4L53.1 293.6z" fill="#3e27ab" stroke="#3e27ab"/>
<path d="M53.8 294.2L119.8 267L119.5 266.7L53.5 293.9z" fill="#3e27aa" stroke="#3e27aa"/>
<path d="M54.1 294.5L120.2 267.3L119.8 267L53.8 294.2z" fill="#3e27aa" stroke="#3e27aa"/>
<path d="M54.5 294.7L120.5 267.5L120.2 267.3L54.1 294.5z" fill="#3e27aa" stroke="#3e27aa"/>
<path d="M54.9 295L120.8 267.8L120.5 267.5L54.5 294.7z" fill="#3e27a9" stroke="#3e27a9"/>
<path d="M55.2 295.3L121.2 268.1L120.8 267.8L54.9 295z" fill="#3e27a9" stroke="#3e27a9"/>
<path d="M55.6 295.6L121.6 268.4L121.2 268.1L55.2 295.3z" fill="#3e27a9" stroke="#3e27a9"/>
<path d="M55.9 295.8L121.9 268.6L121.6 268.4L55.6 295.6z" fill="#3e27a9" stroke="#3e27a9"/>
<path d="M56.2 296.1L122.2 268.9L121.9 268.6L55.9 295.8z" fill="#3e26a9" stroke="#3e26a9"/>
<path d="M56.6 296.4L122.6 269.2L122.2 268.9L56.2 296.1z" fill="#3e26a9" stroke="#3e26a9"/>
<path d="M57 296.6L123 269.4L122.6 269.2L56.6 296.4z" fill="#3e26a8" stroke="#3e26a8"/>
<path d="M57.3 296.9L123.3 269.7L123 269.4L57 296.6z" fill="#3e26a8" stroke="#3e26a8"/>
<path d="M57.6 297.1L123.7 269.9L123.3 269.7L57.3 296.9z" fill="#3e26a8" stroke="#3e26a8"/>
<path d="M58 297.4L124 270.2L123.7 269.9L57.6 297.1z" fill="#3e26a8" stroke="#3e26a8"/>
<path d="M58.4 297.6L124.3 270.4L124 270.2L58 297.4z" fill="#3e26a8" stroke="#3e26a8"/>
<path d="M58.7 297.8L124.7 270.6L124.3 270.4L58.4 297.6z" fill="#3e26a9" stroke="#3e26a9"/>
<path d="M59 298.1L125 270.9L124.7 270.6L58.7 297.8z" fill="#3e27a9" stroke="#3e27a9"/>
<path d="M59.4 298.3L125.4 271.1L125 270.9L59 298.1z" fill="#3e27a9" stroke="#3e27a9"/>
<path d="M59.8 298.5L125.8 271.3L125.4 271.1L59.4 298.3z" fill="#3e27aa" stroke="#3e27aa"/>
<path d="M60.1 298.6L126.1 271.4L125.8 271.3L59.8 298.5z" fill="#3e27aa" stroke="#3e27aa"/>
<path d="M60.5 298.8L126.5 271.6L126.1 271.4L60.1 298.6z" fill="#3e27ab" stroke="#3e27ab"/>
<path d="M60.8 299L126.8 271.8L126.5 271.6L60.5 298.8z" fill="#3e28ac" stroke="#3e28ac"/>
<path d="M61.2 299.1L127.2 271.9L126.8 271.8L60.8 299z" fill="#3f28ad" stroke="#3f28ad"/>
<path d="M61.5 299.2L127.5 272L127.2 271.9L61.2 299.1z" fill="#3f28ae" stroke="#3f28ae"/>
<path d="M61.9 299.4L127.8 272.2L127.5 272L61.5 299.2z" fill="#3f29af" stroke="#3f29af"/>
<path d="M62.2 299.5L128.2 272.3L127.8 272.2L61.9 299.4z" fill="#3f29b1" stroke="#3f29b1"/>
<path d="M62.6 299.5L128.6 272.3L128.2 272.3L62.2 299.5z" fill="#3f2ab2" stroke="#3f2ab2"/>
<path d="M62.9 299.6L128.9 272.4L128.6 272.3L62.6 299.5z" fill="#402ab4" stroke="#402ab4"/>
<path d="M63.2 299.7L129.2 272.5L128.9 272.4L62.9 299.6z" fill="#402bb6" stroke="#402bb6"/>
<path d="M63.6 299.7L129.6 272.5L129.2 272.5L63.2 299.7z" fill="#402cb8" stroke="#402cb8"/>
<path d="M64 299.7L129.9 272.5L129.6 272.5L63.6 299.7z" fill="#412dba" stroke="#412dba"/>
<path d="M64.3 299.7L130.3 272.5L129.9 272.5L64 299.7z" fill="#412dbc" stroke="#412dbc"/>
<path d="M64.7 299.7L130.7 272.5L130.3 272.5L64.3 299.7z" fill="#422ebf" stroke="#422ebf"/>
<path d="M65 299.7L131 272.5L130.7 272.5L64.7 299.7z" fill="#422fc1" stroke="#422fc1"/>
<path d="M65.3 299.7L131.3 272.5L131 272.5L65 299.7z" fill="#4230c4" stroke="#4230c4"/>
<path d="M65.7 299.6L131.7 272.4L131.3 272.5L65.3 299.7z" fill="#4331c7" stroke="#4331c7"/>
<path d="M66 299.5L132.1 272.3L131.7 272.4L65.7 299.6z" fill="#4332ca" stroke="#4332ca"/>
<path d="M66.4 299.4L132.4 272.2L132.1 272.3L66 299.5z" fill="#4434cd" stroke="#4434cd"/>
<path d="M66.8 299.3L132.8 272.1L132.4 272.2L66.4 299.4z" fill="#4435cf" stroke="#4435cf"/>
<path d="M67.1 299.2L133.1 272L132.8 272.1L66.8 299.3z" fill="#4437d2" stroke="#4437d2"/>
<path d="M67.5 299.1L133.4 271.9L133.1 272L67.1 299.2z" fill="#4538d5" stroke="#4538d5"/>
<path d="M67.8 298.9L133.8 271.7L133.4 271.9L67.5 299.1z" fill="#453ad9" stroke="#453ad9"/>
<path d="M68.2 298.7L134.2 271.5L133.8 271.7L67.8 298.9z" fill="#463cdc" stroke="#463cdc"/>
<path d="M68.5 298.5L134.5 271.3L134.2 271.5L68.2 298.7z" fill="#463edf" stroke="#463edf"/>
<path d="M68.8 298.3L134.8 271.1L134.5 271.3L68.5 298.5z" fill="#4740e3" stroke="#4740e3"/>
<path d="M69.2 298.1L135.2 270.9L134.8 271.1L68.8 298.3z" fill="#4742e6" stroke="#4742e6"/>
<path d="M69.5 297.8L135.6 270.6L135.2 270.9L69.2 298.1z" fill="#4744e7" stroke="#4744e7"/>
<path d="M69.9 297.6L135.9 270.4L135.6 270.6L69.5 297.8z" fill="#4745e9" stroke="#4745e9"/>
<path d="M70.2 297.3L136.2 270.1L135.9 270.4L69.9 297.6z" fill="#4747eb" stroke="#4747eb"/>
<path d="M70.6 297L136.6 269.8L136.2 270.1L70.2 297.3z" fill="#4749ed" stroke="#4749ed"/>
<path d="M71 296.7L136.9 269.5L136.6 269.8L70.6 297z" fill="#484cef" stroke="#484cef"/>
<path d="M71.3 296.3L137.3 269.1L136.9 269.5L71 296.7z" fill="#484ef1" stroke="#484ef1"/>
<path d="M71.7 296L137.7 268.8L137.3 269.1L71.3 296.3z" fill="#4751f3" stroke="#4751f3"/>
<path d="M72 295.6L138 268.4L137.7 268.8L71.7 296z" fill="#4754f5" stroke="#4754f5"/>
<path d="M72.3 295.2L138.3 268L138 268.4L72 295.6z" fill="#4758f7" stroke="#4758f7"/>
<path d="M72.7 294.8L138.7 267.6L138.3 268L72.3 295.2z" fill="#465bf9" stroke="#465bf9"/>
<path d="M73 294.4L139.1 267.2L138.7 267.6L72.7 294.8z" fill="#465ffb" stroke="#465ffb"/>
<path d="M73.4 293.9L139.4 266.7L139.1 267.2L73 294.4z" fill="#4364fc" stroke="#4364fc"/>
<path d="M73.8 293.5L139.8 266.3L139.4 266.7L73.4 293.9z" fill="#3f69fc" stroke="#3f69fc"/>
<path d="M74.1 293L140.1 265.8L139.8 266.3L73.8 293.5z" fill="#3b6ffc" stroke="#3b6ffc"/>
<path d="M74.5 292.5L140.4 265.3L140.1 265.8L74.1 293z" fill="#3775fc" stroke="#3775fc"/>
<path d="M74.8 292L140.8 264.8L140.4 265.3L74.5 292.5z" fill="#337bfd" stroke="#337bfd"/>
<path d="M75.2 291.4L141.2 264.2L140.8 264.8L74.8 292z" fill="#327dfb" stroke="#327dfb"/>
<path d="M75.5 290.8L141.5 263.6L141.2 264.2L75.2 291.4z" fill="#307ffa" stroke="#307ffa"/>
<path d="M75.8 290.3L141.8 263.1L141.5 263.6L75.5 290.8z" fill="#2f81f8" stroke="#2f81f8"/>
<path d="M76.2 289.7L142.2 262.5L141.8 263.1L75.8 290.3z" fill="#2d84f7" stroke="#2d84f7"/>
<path d="M76.5 289L142.6 261.8L142.2 262.5L76.2 289.7z" fill="#2c86f5" stroke="#2c86f5"/>
<path d="M76.9 288.4L142.9 261.2L142.6 261.8L76.5 289z" fill="#2b89f3" stroke="#2b89f3"/>
<path d="M77.2 287.7L143.2 260.5L142.9 261.2L76.9 288.4z" fill="#2a8df1" stroke="#2a8df1"/>
<path d="M77.6 287.1L143.6 259.9L143.2 260.5L77.2 287.7z" fill="#2990ef" stroke="#2990ef"/>
<path d="M78 286.4L143.9 259.2L143.6 259.9L77.6 287.1z" fill="#2894ed" stroke="#2894ed"/>
<path d="M78.3 285.6L144.3 258.4L143.9 259.2L78 286.4z" fill="#2697ea" stroke="#2697ea"/>
<path d="M78.7 284.9L144.7 257.7L144.3 258.4L78.3 285.6z" fill="#229be7" stroke="#229be7"/>
<path d="M79 284.1L145 256.9L144.7 257.7L78.7 284.9z" fill="#1d9ee4" stroke="#1d9ee4"/>
<path d="M79.3 283.4L145.3 256.2L145 256.9L79 284.1z" fill="#18a1e1" stroke="#18a1e1"/>
<path d="M79.7 282.6L145.7 255.4L145.3 256.2L79.3 283.4z" fill="#14a5de" stroke="#14a5de"/>
<path d="M80 281.7L146.1 254.5L145.7 255.4L79.7 282.6z" fill="#10a7da" stroke="#10a7da"/>
<path d="M80.4 280.9L146.4 253.7L146.1 254.5L80 281.7z" fill="#0daad7" stroke="#0daad7"/>
<path d="M80.8 280L146.8 252.8L146.4 253.7L80.4 280.9z" fill="#09add3" stroke="#09add3"/>
<path d="M81.1 279.1L147.1 251.9L146.8 252.8L80.8 280z" fill="#06afcf" stroke="#06afcf"/>
<path d="M81.5 278.2L147.4 251L147.1 251.9L81.1 279.1z" fill="#09b2c9" stroke="#09b2c9"/>
<path d="M81.8 277.3L147.8 250.1L147.4 251L81.5 278.2z" fill="#0cb4c4" stroke="#0cb4c4"/>
<path d="M82.2 276.4L148.2 249.2L147.8 250.1L81.8 277.3z" fill="#10b6be" stroke="#10b6be"/>
<path d="M82.5 275.4L148.5 248.2L148.2 249.2L82.2 276.4z" fill="#15b9b8" stroke="#15b9b8"/>
<path d="M82.8 274.4L148.8 247.2L148.5 248.2L82.5 275.4z" fill="#1dbbb0" stroke="#1dbbb0"/>
<path d="M83.2 273.4L149.2 246.2L148.8 247.2L82.8 274.4z" fill="#25bea9" stroke="#25bea9"/>
<path d="M83.5 272.4L149.6 245.2L149.2 246.2L83.2 273.4z" fill="#2dc0a1" stroke="#2dc0a1"/>
<path d="M83.9 271.3L149.9 244.1L149.6 245.2L83.5 272.4z" fill="#3ac298" stroke="#3ac298"/>
<path d="M84.2 270.3L150.2 243.1L149.9 244.1L83.9 271.3z" fill="#46c38f" stroke="#46c38f"/>
<path d="M84.6 269.2L150.6 242L150.2 243.1L84.2 270.3z" fill="#54c585" stroke="#54c585"/>
<path d="M85 268.1L150.9 240.9L150.6 242L84.6 269.2z" fill="#63c67c" stroke="#63c67c"/>
<path d="M85.3 266.9L151.3 239.7L150.9 240.9L85 268.1z" fill="#72c673" stroke="#72c673"/>
<path d="M85.7 265.8L151.7 238.6L151.3 239.7L85.3 266.9z" fill="#82c76a" stroke="#82c76a"/>
<path d="M86 264.6L152 237.4L151.7 238.6L85.7 265.8z" fill="#92c662" stroke="#92c662"/>
<path d="M86.3 263.4L152.3 236.2L152 237.4L86 264.6z" fill="#a2c45a" stroke="#a2c45a"/>
<path d="M86.7 262.2L152.7 235L152.3 236.2L86.3 263.4z" fill="#b1c352" stroke="#b1c352"/>
<path d="M87 261L153.1 233.8L152.7 235L86.7 262.2z" fill="#c0c14b" stroke="#c0c14b"/>
<path d="M87.4 259.7L153.4 232.5L153.1 233.8L87 261z" fill="#cfbf46" stroke="#cfbf46"/>
<path d="M87.8 258.4L153.8 231.2L153.4 232.5L87.4 259.7z" fill="#ddbc40" stroke="#ddbc40"/>
<path d="M88.1 257.1L154.1 229.9L153.8 231.2L87.8 258.4z" fill="#ecbd3c" stroke="#ecbd3c"/>
<path d="M88.5 255.8L154.4 228.6L154.1 229.9L88.1 257.1z" fill="#f7c138" stroke="#f7c138"/>
<path d="M88.8 254.5L154.8 227.3L154.4 228.6L88.5 255.8z" fill="#fdcc32" stroke="#fdcc32"/>
<path d="M89.2 253.1L155.2 225.9L154.8 227.3L88.8 254.5z" fill="#f9dd28" stroke="#f9dd28"/>
<path d="M89.5 251.7L155.5 224.5L155.2 225.9L89.2 253.1z" fill="#f9f11b" stroke="#f9f11b"/>
</g>
<path d="M40.5,216.5V292.4L89.5,327.6L155.5,300.4" fill="none" stroke="#9a9a9a" stroke-width="0.5"/>
<path d="M40.5,228.9h1.5" stroke="#9a9a9a" stroke-width="0.5"/>
<text x="36.9" y="231.8" font-size="7.9" text-anchor="end" class="t3">4.5</text>
<path d="M40.5,244.6h1.5" stroke="#9a9a9a" stroke-width="0.5"/>
<text x="36.9" y="247.5" font-size="7.9" text-anchor="end" class="t3">4</text>
<path d="M40.5,259.9h1.5" stroke="#9a9a9a" stroke-width="0.5"/>
<text x="36.9" y="262.8" font-size="7.9" text-anchor="end" class="t3">3.5</text>
<path d="M40.5,275.5h1.5" stroke="#9a9a9a" stroke-width="0.5"/>
<text x="36.9" y="278.4" font-size="7.9" text-anchor="end" class="t3">3</text>
<path d="M40.5,290.5h1.5" stroke="#9a9a9a" stroke-width="0.5"/>
<text x="36.9" y="293.4" font-size="7.9" text-anchor="end" class="t3">2.5</text>
<text x="97.8" y="188.1" font-size="7.9" text-anchor="middle">F12</text>
<text x="32.8" y="207.5" font-size="7.9" text-anchor="end">×10</text><text x="33.1" y="203.9" font-size="5.4">10</text>
<text x="31.8" y="302.5" font-size="7.9" text-anchor="middle" class="t3">100</text>
<text x="58.7" y="320.4" font-size="7.9" text-anchor="middle" class="t3">0</text>
<text x="78.7" y="337.7" font-size="7.9" text-anchor="middle" class="t3">-100</text>
<text x="100.9" y="338.6" font-size="7.9" text-anchor="middle" class="t3">-100</text>
<text x="127.6" y="324.8" font-size="7.9" text-anchor="middle" class="t3">0</text>
<text x="163.6" y="311.7" font-size="7.9" text-anchor="middle" class="t3">100</text>
<text x="45.7" y="335.9" font-size="7.9" text-anchor="middle">x<tspan font-size="5.8" dy="2.6">2</tspan></text>
<text x="136.3" y="340.3" font-size="7.9" text-anchor="middle">x<tspan font-size="5.8" dy="2.6">1</tspan></text>
<text x="9.8" y="254.5" font-size="7.9" text-anchor="middle" transform="rotate(-90 9.8 254.5)">F12</text>
<text x="19.8" y="254.5" font-size="7.9" text-anchor="middle" transform="rotate(-90 19.8 254.5)">( x<tspan font-size="5.4" dy="1.8">1</tspan><tspan dy="-1.8"> , x</tspan><tspan font-size="5.4" dy="1.8">2</tspan><tspan dy="-1.8"> )</tspan></text>
</g>
<g id="s3d2">
<path d="M85.4,452.4L85.6,452.4L86.1,452.3L86.2,452.3L86.6,452.3L87,452.3L87.1,452.3L87.7,452.3L87.7,452.3L88.2,452.4L88.5,452.4L88.7,452.4L89.2,452.4L89.2,452.4L89.7,452.4L89.9,452.4L90.3,452.4L90.6,452.4L90.8,452.5L91.2,452.5L91.4,452.5L91.9,452.5L91.9,452.5L92.5,452.6L92.5,452.6L93,452.7L93.1,452.7L93.6,452.7L93.8,452.7L94.2,452.8L94.4,452.8L94.8,452.9L95,452.9L95.4,453L95.5,453L96,453.1L96.1,453.1L96.6,453.2L96.7,453.2L97.2,453.3L97.2,453.3L97.8,453.4L97.9,453.4L98.3,453.5L98.5,453.6L98.8,453.6L99.2,453.7L99.3,453.8L99.8,453.9L99.9,453.9L100.3,454L100.6,454.1L100.8,454.2L101.3,454.3L101.3,454.3L101.8,454.4L102,454.5L102.2,454.6L102.7,454.7L102.8,454.8L103.1,454.9L103.6,455L103.6,455L104,455.2L104.4,455.4L104.4,455.4L104.8,455.5L105.3,455.7L105.3,455.7L105.7,455.9L106.1,456.1L106.2,456.1L106.5,456.2L106.9,456.4L107.2,456.6L107.2,456.6L107.6,456.8L108,457L108.2,457.1L108.3,457.2L108.7,457.4L109.1,457.6L109.4,457.8L109.5,457.9L109.7,458L110.1,458.2L110.4,458.5L110.7,458.7L111,458.9L111,458.9L111.3,459.1L111.6,459.3L111.9,459.6L112.2,459.8L112.5,460L112.8,460.3L113.1,460.5L113.4,460.8L113.6,461L113.9,461.2L114.1,461.5L114.4,461.8L114.6,462L114.9,462.3L115.1,462.5L115.3,462.8L115.5,463.1L115.8,463.3L116,463.6L116.2,463.9L116.3,464L116.4,464.2L116.6,464.5L116.7,464.7L116.9,465L117.1,465.3L117.1,465.4L117.3,465.6L117.4,465.9L117.6,466.2L117.7,466.4L117.7,466.5L117.9,466.8L118,467.1L118.1,467.3L118.1,467.4L118.3,467.8L118.4,468.1L118.4,468.1L118.5,468.4L118.6,468.7L118.6,468.8L118.7,469.1L118.8,469.4L118.8,469.5L118.9,469.7L118.9,470.1L119,470.1L119,470.4L119.1,470.7L119.1,470.8L119.1,471.1L119.2,471.3L119.2,471.5L119.2,471.8L119.2,471.9L119.2,472.2L119.3,472.4L119.3,472.5L119.3,472.9L119.3,472.9L119.3,473.3L119.3,473.4L119.3,473.7L119.3,473.9L119.3,474.1L119.2,474.4L119.2,474.4L119.2,474.8L119.2,474.8L119.2,475.2L119.2,475.3L119.1,475.6L119.1,475.7L119,476.1L119,476.2L119,476.5L118.9,476.6L118.9,476.9L118.9,477L118.8,477.3L118.8,477.4L118.7,477.8L118.7,477.8L118.6,478.2L118.5,478.2L118.4,478.6L118.4,478.6L118.3,478.9L118.2,479.1L118.2,479.3L118.1,479.6L118,479.7L117.9,480L117.9,480L117.8,480.4L117.7,480.5L117.6,480.7L117.5,481L117.4,481L117.3,481.4L117.2,481.5L117.1,481.7L117,482L116.9,482L116.8,482.4L116.7,482.5L116.6,482.7L116.4,483L116.4,483.1L116.2,483.3L116,483.6L116,483.6L115.8,483.9L115.6,484.2L115.6,484.2L115.4,484.5L115.2,484.7L115.2,484.8L115,485.1L114.8,485.3L114.8,485.4L114.6,485.7L114.3,485.9L114.3,486L114.1,486.2L113.9,486.5L113.8,486.6L113.7,486.8L113.4,487L113.2,487.3L113.2,487.3L113,487.6L112.7,487.8L112.6,488L112.5,488.1L112.2,488.3L112,488.6L111.8,488.7L111.7,488.8L111.5,489.1L111.2,489.3L111,489.5L110.9,489.6L110.7,489.8L110.4,490L110.1,490.3L110,490.4L109.9,490.5L109.6,490.7L109.3,491L109.1,491.2L108.9,491.3L108.8,491.4L108.5,491.6L108.2,491.8L107.9,492.1L107.6,492.3L107.4,492.4L107.3,492.5L107.1,492.7L106.8,492.9L106.5,493.1L106.2,493.3L105.9,493.5L105.6,493.7L105.4,493.8L105.2,493.9L104.9,494.1L104.6,494.3L104.3,494.5L104,494.7L103.7,494.8L103.4,495L103.1,495.2L102.7,495.4L102.4,495.6L102.1,495.7L101.7,495.9L101.4,496.1L101.1,496.3L100.8,496.4L100.4,496.6L100.1,496.8L99.7,496.9L99.4,497.1L99,497.2L98.7,497.4L98.4,497.5L98,497.7L97.7,497.9L97.3,498L96.9,498.1L96.6,498.3L96.2,498.4L95.9,498.6L95.6,498.7L95.5,498.7L95.1,498.8" stroke="#9090ee" fill="none" stroke-width="0.6"/>
<path d="M100.5,444.9L100.8,444.9L101.1,445L101.4,445L101.6,445.1L102,445.1L102.2,445.2L102.7,445.2L102.7,445.3L103.3,445.4L103.3,445.4L103.8,445.5L104,445.5L104.3,445.6L104.6,445.7L104.9,445.7L105.3,445.8L105.4,445.8L105.9,446L106,446L106.4,446.1L106.6,446.2L106.9,446.2L107.3,446.4L107.4,446.4L107.8,446.5L108.1,446.6L108.3,446.6L108.8,446.8L108.8,446.8L109.3,446.9L109.5,447L109.7,447.1L110.2,447.2L110.3,447.3L110.6,447.4L111.1,447.5L111.1,447.6L111.5,447.7L111.9,447.9L111.9,447.9L112.4,448L112.8,448.2L112.8,448.2L113.2,448.4L113.6,448.5L113.6,448.6L114,448.7L114.4,448.9L114.6,449L114.8,449.1L115.2,449.3L115.5,449.4L115.6,449.4L116,449.6L116.3,449.8L116.6,449.9L116.7,450L117.1,450.2L117.5,450.4L117.7,450.5L117.8,450.6L118.2,450.8L118.5,451L118.9,451.2L118.9,451.2L119.2,451.4L119.5,451.6L119.9,451.8L120.2,452.1L120.3,452.2L120.5,452.3L120.8,452.5L121.2,452.7L121.5,452.9L121.8,453.2L122.1,453.4L122.2,453.5L122.4,453.6L122.7,453.9L123,454.1L123.2,454.3L123.5,454.6L123.8,454.8L124.1,455L124.3,455.3L124.6,455.5L124.9,455.8L125.1,456L125.4,456.3L125.6,456.5L125.9,456.8L126.1,457.1L126.3,457.3L126.6,457.6L126.8,457.8L127,458.1L127.2,458.4L127.4,458.5L127.5,458.7L127.7,458.9L127.9,459.2L128.1,459.5L128.3,459.8L128.5,460L128.6,460.2L128.6,460.3L128.8,460.6L129,460.9L129.2,461.2L129.3,461.5L129.3,461.5L129.5,461.8L129.7,462.1L129.8,462.4L129.9,462.5L130,462.7L130.1,463L130.3,463.3L130.3,463.4L130.4,463.6L130.5,463.9L130.7,464.2L130.7,464.3L130.8,464.6L130.9,464.9L131,465.1L131,465.2L131.1,465.5L131.2,465.8L131.2,465.8L131.3,466.2L131.4,466.5L131.4,466.5L131.5,466.8L131.6,467.2L131.6,467.2L131.7,467.5L131.7,467.8L131.7,467.9L131.8,468.2L131.8,468.4L131.9,468.5L131.9,468.9L131.9,469L132,469.3L132,469.5L132,469.6L132.1,470L132.1,470.1L132.1,470.3L132.1,470.6L132.1,470.7L132.1,471.1L132.1,471.1L132.1,471.4L132.1,471.7L132.1,471.8L132.1,472.2L132.1,472.2L132.1,472.6L132.1,472.6L132.1,473L132.1,473.1L132.1,473.3L132.1,473.6L132.1,473.7L132,474L132,474.1L132,474.5L132,474.5L131.9,474.9L131.9,474.9L131.9,475.3L131.9,475.4L131.8,475.8L131.8,475.8L131.7,476.2L131.7,476.2L131.6,476.6L131.6,476.6L131.5,477L131.5,477L131.4,477.4L131.4,477.5L131.3,477.8L131.3,477.9L131.2,478.2L131.2,478.3L131.1,478.6L131.1,478.8L131,479L130.9,479.2L130.9,479.3L130.8,479.7L130.7,479.7L130.6,480.1L130.6,480.1L130.5,480.4L130.4,480.6L130.3,480.8L130.2,481.1L130.2,481.1L130,481.5L130,481.6L129.9,481.8L129.8,482.1L129.7,482.2L129.6,482.5L129.5,482.5L129.4,482.8L129.3,483.1L129.2,483.2L129.1,483.5L129,483.6L128.9,483.8L128.7,484.1L128.7,484.2L128.5,484.5L128.4,484.6L128.3,484.8L128.1,485.1L128.1,485.1L128,485.4L127.8,485.7L127.8,485.7L127.6,486L127.4,486.3L127.4,486.3L127.2,486.6L127,486.8L127,486.9L126.7,487.2L126.6,487.4L126.5,487.5L126.3,487.8L126.1,488L126.1,488.1L125.9,488.3L125.7,488.6L125.7,488.6L125.5,488.9L125.2,489.2L125.2,489.3L125,489.5L124.8,489.7L124.6,489.9L124.5,490L124.3,490.3L124.1,490.5L124,490.6L123.8,490.8L123.6,491L123.4,491.3L123.3,491.3L123.1,491.6L122.9,491.8L122.7,492L122.6,492.1L122.4,492.3L122.1,492.6L121.9,492.8L121.9,492.8L121.6,493.1L121.3,493.3L121.1,493.5L121,493.6L120.8,493.8L120.6,494L120.3,494.3L120.1,494.4L120,494.5L119.7,494.7L119.5,495L119.2,495.2L119,495.3L118.9,495.4L118.7,495.6L118.4,495.9L118.1,496.1L117.8,496.3L117.8,496.3L117.5,496.5L117.2,496.7L117,496.9L116.7,497.2L116.4,497.4L116.2,497.5" stroke="#8f9ff0" fill="none" stroke-width="0.6"/>
<path d="M134.2,457.8L134.3,457.9L134.5,458.2L134.7,458.5L134.8,458.8L135,459.1L135.1,459.1L135.2,459.3L135.3,459.6L135.5,459.9L135.7,460.2L135.7,460.2L135.8,460.5L136,460.8L136.1,461.1L136.2,461.2L136.3,461.4L136.4,461.8L136.5,462.1L136.6,462.1L136.7,462.4L136.8,462.7L136.9,462.9L136.9,463L137,463.3L137.2,463.7L137.2,463.7L137.3,464L137.4,464.3L137.4,464.4L137.5,464.6L137.6,465L137.6,465.1L137.7,465.3L137.7,465.6L137.8,465.8L137.8,466L137.9,466.3L137.9,466.4L138,466.6L138,467L138,467L138.1,467.3L138.1,467.6L138.2,467.7L138.2,468L138.2,468.2L138.3,468.4L138.3,468.8L138.3,468.8L138.3,469.1L138.3,469.3L138.4,469.5L138.4,469.8L138.4,469.8L138.4,470.2L138.4,470.4L138.4,470.6L138.4,470.9L138.4,471L138.4,471.3L138.4,471.4L138.4,471.7L138.4,471.9L138.4,472.1L138.4,472.3L138.4,472.5L138.4,472.8L138.4,472.9L138.3,473.3L138.3,473.3L138.3,473.7L138.3,473.7L138.3,474.1L138.2,474.2L138.2,474.5L138.2,474.6L138.2,474.9L138.1,475L138.1,475.3L138.1,475.5L138,475.7L138,475.9L137.9,476.1L137.9,476.3L137.8,476.5L137.8,476.7L137.8,477L137.7,477.1L137.6,477.4L137.6,477.5L137.5,477.8L137.5,477.9L137.4,478.3L137.4,478.3L137.3,478.7L137.3,478.7L137.2,479.1L137.1,479.1L137,479.4L137,479.6L136.9,479.8L136.8,480.1L136.8,480.2L136.7,480.5L136.6,480.5L136.5,480.9L136.5,481L136.4,481.3L136.3,481.5L136.2,481.6L136.1,481.9L136.1,482L135.9,482.3L135.9,482.4L135.8,482.6L135.6,482.9L135.6,483L135.4,483.3L135.4,483.4L135.3,483.7L135.1,483.9L135.1,484L134.9,484.3L134.9,484.4L134.8,484.6L134.6,485L134.6,485L134.4,485.3L134.3,485.5L134.2,485.6L134,485.9L133.9,486L133.8,486.2L133.6,486.5L133.6,486.6L133.4,486.8L133.2,487.1L133.2,487.1L133,487.4L132.9,487.7L132.8,487.7L132.6,488L132.5,488.3L132.4,488.3L132.2,488.6L132,488.9L132,488.9L131.8,489.2L131.6,489.5L131.6,489.5L131.4,489.7L131.1,490L131.1,490.1M107,441.6L107.1,441.7L107.5,441.8L107.8,441.8L108,441.9L108.5,442L108.5,442L109,442.1L109.1,442.2L109.5,442.3L109.8,442.3L110,442.4L110.5,442.5L110.5,442.5L111,442.7L111.3,442.7L111.5,442.8L111.9,443L112,443L112.4,443.1L112.7,443.2L112.9,443.2L113.3,443.4L113.5,443.4L113.8,443.5L114.2,443.7L114.3,443.7L114.7,443.9L115.1,444L115.1,444L115.5,444.2L115.9,444.3L116,444.3L116.4,444.5L116.7,444.6L116.8,444.7L117.2,444.9L117.6,445L117.6,445L118.1,445.2L118.5,445.4L118.5,445.4L118.9,445.6L119.2,445.7L119.5,445.9L119.6,445.9L120,446.1L120.4,446.3L120.5,446.3L120.8,446.5L121.1,446.7L121.5,446.9L121.6,446.9L121.9,447.1L122.2,447.3L122.6,447.5L122.7,447.5L122.9,447.7L123.3,447.9L123.6,448.1L124,448.3L124,448.3L124.3,448.5L124.7,448.7L125,448.9L125.3,449.1L125.5,449.3" stroke="#50c8e8" fill="none" stroke-width="0.6"/>
<path d="M143.7,467.1L143.7,467.2L143.7,467.6L143.7,467.7L143.8,467.9L143.8,468.2L143.8,468.3L143.8,468.6L143.8,468.8L143.9,469L143.9,469.3L143.9,469.4L143.9,469.7L143.9,469.8L143.9,470.1L143.9,470.3L143.9,470.5L143.9,470.8L143.9,470.9L143.9,471.3L143.9,471.3L143.9,471.6L143.9,471.8L143.9,472L143.9,472.2L143.9,472.4L143.8,472.7L143.8,472.8L143.8,473.2L143.8,473.2L143.7,473.6L143.7,473.6L143.7,474L143.7,474.1L143.6,474.4L143.6,474.5L143.6,474.8L143.6,474.9L143.5,475.2L143.5,475.4L143.4,475.6L143.4,475.8L143.4,476.1L143.3,476.2L143.3,476.5L143.2,476.6L143.2,476.9L143.2,477L143.1,477.3L143.1,477.4L143,477.8L143,477.8L142.8,478.2L142.8,478.2L142.7,478.6L142.7,478.6L142.6,479L142.6,479.1L142.5,479.3L142.4,479.5L142.4,479.7L142.3,480L142.2,480.1L142.1,480.4L142.1,480.5L142,480.8L141.9,480.9L141.8,481.2L141.8,481.4L141.7,481.5L141.6,481.9L141.6,481.9L141.4,482.2L141.4,482.3L141.3,482.6L141.1,482.8L141.1,482.9L140.9,483.3L140.9,483.3L140.8,483.6L140.7,483.8L140.6,483.9L140.4,484.3L140.4,484.3L140.3,484.6L140.2,484.8L140.1,484.9L139.9,485.2L139.9,485.3L139.8,485.6L139.6,485.9M112.4,439L112.5,439L112.9,439.1L113.2,439.2L113.4,439.2L113.8,439.4L113.9,439.4L114.3,439.5L114.6,439.6L114.8,439.6L115.3,439.8L115.3,439.8L115.7,439.9L116.1,440" stroke="#40d0e0" fill="none" stroke-width="0.6"/>
<path d="M148.9,472.2L148.9,472.6L148.8,472.7L148.8,473L148.8,473.1L148.8,473.4L148.8,473.6L148.7,473.8L148.7,474L148.7,474.2L148.6,474.4L148.6,474.6L148.6,474.9L148.5,475L148.5,475.3L148.5,475.4L148.4,475.7L148.4,475.8L148.3,476.1L148.3,476.2L148.2,476.5L148.2,476.7L148.1,476.9L148.1,477.1L148.1,477.3L148,477.5L147.9,477.7L147.9,478L147.8,478.1L147.8,478.4L147.7,478.5L147.6,478.8L147.6,478.9L147.5,479.3L147.5,479.3L147.4,479.7L147.4,479.7L147.3,480L147.2,480.2L147.1,480.4L147,480.6L147,480.8L146.9,481.1L146.9,481.1L146.7,481.5L146.7,481.6L146.6,481.8L146.5,482.1L146.4,482.2L146.3,482.5" stroke="#70dcc0" fill="none" stroke-width="0.6"/>
<path d="M153,476.2L153,476.2L152.9,476.6L152.9,476.6L152.8,477L152.8,477L152.7,477.4L152.7,477.5L152.6,477.8L152.5,477.9L152.5,478.2L152.4,478.4L152.4,478.6L152.3,478.8L152.2,479L152.2,479.2L152.1,479.3L152,479.7" stroke="#e8dc90" fill="none" stroke-width="0.6"/>
<g stroke-width="0.6" stroke-linejoin="round">
<path d="M113.6 409.4L115.6 406.7L114.1 403.7L112.2 406.3z" fill="#0cabd6" stroke="#0cabd6"/>
<path d="M111.7 412L113.6 409.4L112.2 406.3L110.3 408.9z" fill="#11a7db" stroke="#11a7db"/>
<path d="M115.1 412.4L117 409.7L115.6 406.7L113.6 409.4z" fill="#10a7db" stroke="#10a7db"/>
<path d="M109.8 414.6L111.7 412L110.3 408.9L108.3 411.5z" fill="#16a3e0" stroke="#16a3e0"/>
<path d="M113.2 415.1L115.1 412.4L113.6 409.4L111.7 412z" fill="#16a3e0" stroke="#16a3e0"/>
<path d="M116.6 415.3L118.5 412.6L117 409.7L115.1 412.4z" fill="#15a4df" stroke="#15a4df"/>
<path d="M107.9 417.3L109.8 414.6L108.3 411.5L106.4 414.1z" fill="#1d9ee4" stroke="#1d9ee4"/>
<path d="M111.3 417.7L113.2 415.1L111.7 412L109.8 414.6z" fill="#1d9ee4" stroke="#1d9ee4"/>
<path d="M114.6 418L116.6 415.3L115.1 412.4L113.2 415.1z" fill="#1c9ee4" stroke="#1c9ee4"/>
<path d="M118 418.1L119.9 415.3L118.5 412.6L116.6 415.3z" fill="#1ba0e3" stroke="#1ba0e3"/>
<path d="M106 420L107.9 417.3L106.4 414.1L104.5 416.8z" fill="#2499e9" stroke="#2499e9"/>
<path d="M109.3 420.4L111.3 417.7L109.8 414.6L107.9 417.3z" fill="#2499e9" stroke="#2499e9"/>
<path d="M112.7 420.7L114.6 418L113.2 415.1L111.3 417.7z" fill="#2499e9" stroke="#2499e9"/>
<path d="M116.1 420.9L118 418.1L116.6 415.3L114.6 418z" fill="#229ae8" stroke="#229ae8"/>
<path d="M104.1 422.7L106 420L104.5 416.8L102.6 419.6z" fill="#2893ed" stroke="#2893ed"/>
<path d="M119.5 420.7L121.4 417.8L119.9 415.3L118 418.1z" fill="#209ce6" stroke="#209ce6"/>
<path d="M107.4 423.1L109.3 420.4L107.9 417.3L106 420z" fill="#2893ed" stroke="#2893ed"/>
<path d="M110.8 423.4L112.7 420.7L111.3 417.7L109.3 420.4z" fill="#2894ed" stroke="#2894ed"/>
<path d="M114.2 423.6L116.1 420.9L114.6 418L112.7 420.7z" fill="#2894ec" stroke="#2894ec"/>
<path d="M102.1 425.4L104.1 422.7L102.6 419.6L100.7 422.3z" fill="#2a8df1" stroke="#2a8df1"/>
<path d="M117.6 423.5L119.5 420.7L118 418.1L116.1 420.9z" fill="#2796eb" stroke="#2796eb"/>
<path d="M105.5 425.8L107.4 423.1L106 420L104.1 422.7z" fill="#2a8df1" stroke="#2a8df1"/>
<path d="M120.9 423.1L122.9 420.1L121.4 417.8L119.5 420.7z" fill="#2499e9" stroke="#2499e9"/>
<path d="M108.9 426.1L110.8 423.4L109.3 420.4L107.4 423.1z" fill="#2a8ef0" stroke="#2a8ef0"/>
<path d="M112.3 426.3L114.2 423.6L112.7 420.7L110.8 423.4z" fill="#2a8ef0" stroke="#2a8ef0"/>
<path d="M100.2 428L102.1 425.4L100.7 422.3L98.8 425.1z" fill="#2c87f5" stroke="#2c87f5"/>
<path d="M115.7 426.3L117.6 423.5L116.1 420.9L114.2 423.6z" fill="#2990ef" stroke="#2990ef"/>
<path d="M103.6 428.4L105.5 425.8L104.1 422.7L102.1 425.4z" fill="#2c87f4" stroke="#2c87f4"/>
<path d="M119 426L120.9 423.1L119.5 420.7L117.6 423.5z" fill="#2892ee" stroke="#2892ee"/>
<path d="M107 428.8L108.9 426.1L107.4 423.1L105.5 425.8z" fill="#2b88f4" stroke="#2b88f4"/>
<path d="M122.4 425.3L124.3 422.2L122.9 420.1L120.9 423.1z" fill="#2796eb" stroke="#2796eb"/>
<path d="M110.4 429L112.3 426.3L110.8 423.4L108.9 426.1z" fill="#2b88f3" stroke="#2b88f3"/>
<path d="M98.3 430.6L100.2 428L98.8 425.1L96.8 427.7z" fill="#2e82f7" stroke="#2e82f7"/>
<path d="M113.7 429L115.7 426.3L114.2 423.6L112.3 426.3z" fill="#2b8af3" stroke="#2b8af3"/>
<path d="M101.7 431L103.6 428.4L102.1 425.4L100.2 428z" fill="#2e82f7" stroke="#2e82f7"/>
<path d="M117.1 428.8L119 426L117.6 423.5L115.7 426.3z" fill="#2a8cf1" stroke="#2a8cf1"/>
<path d="M105.1 431.4L107 428.8L105.5 425.8L103.6 428.4z" fill="#2e83f7" stroke="#2e83f7"/>
<path d="M120.5 428.3L122.4 425.3L120.9 423.1L119 426z" fill="#298fef" stroke="#298fef"/>
<path d="M108.4 431.7L110.4 429L108.9 426.1L107 428.8z" fill="#2e83f7" stroke="#2e83f7"/>
<path d="M96.4 433L98.3 430.6L96.8 427.7L94.9 430.1z" fill="#317efa" stroke="#317efa"/>
<path d="M123.9 427.2L125.8 423.9L124.3 422.2L122.4 425.3z" fill="#2894ec" stroke="#2894ec"/>
<path d="M111.8 431.7L113.7 429L112.3 426.3L110.4 429z" fill="#2d84f6" stroke="#2d84f6"/>
<path d="M99.8 433.5L101.7 431L100.2 428L98.3 430.6z" fill="#317efa" stroke="#317efa"/>
<path d="M115.2 431.6L117.1 428.8L115.7 426.3L113.7 429z" fill="#2c86f5" stroke="#2c86f5"/>
<path d="M103.1 433.9L105.1 431.4L103.6 428.4L101.7 431z" fill="#317efa" stroke="#317efa"/>
<path d="M118.6 431.2L120.5 428.3L119 426L117.1 428.8z" fill="#2b88f4" stroke="#2b88f4"/>
<path d="M106.5 434.3L108.4 431.7L107 428.8L105.1 431.4z" fill="#307ffa" stroke="#307ffa"/>
<path d="M94.5 435.3L96.4 433L94.9 430.1L93 432.5z" fill="#337afd" stroke="#337afd"/>
<path d="M122 430.3L123.9 427.2L122.4 425.3L120.5 428.3z" fill="#2a8df1" stroke="#2a8df1"/>
<path d="M109.9 434.4L111.8 431.7L110.4 429L108.4 431.7z" fill="#3080f9" stroke="#3080f9"/>
<path d="M97.8 435.8L99.8 433.5L98.3 430.6L96.4 433z" fill="#337afd" stroke="#337afd"/>
<path d="M125.3 428.8L127.2 425.5L125.8 423.9L123.9 427.2z" fill="#2893ed" stroke="#2893ed"/>
<path d="M113.3 434.3L115.2 431.6L113.7 429L111.8 431.7z" fill="#2f81f8" stroke="#2f81f8"/>
<path d="M101.2 436.3L103.1 433.9L101.7 431L99.8 433.5z" fill="#337afd" stroke="#337afd"/>
<path d="M116.7 434L118.6 431.2L117.1 428.8L115.2 431.6z" fill="#2e83f7" stroke="#2e83f7"/>
<path d="M104.6 436.7L106.5 434.3L105.1 431.4L103.1 433.9z" fill="#337bfc" stroke="#337bfc"/>
<path d="M92.5 437.5L94.5 435.3L93 432.5L91.1 434.8z" fill="#3a70fc" stroke="#3a70fc"/>
<path d="M120 433.2L122 430.3L120.5 428.3L118.6 431.2z" fill="#2c86f5" stroke="#2c86f5"/>
<path d="M108 437L109.9 434.4L108.4 431.7L106.5 434.3z" fill="#337bfc" stroke="#337bfc"/>
<path d="M95.9 438L97.8 435.8L96.4 433L94.5 435.3z" fill="#3a70fc" stroke="#3a70fc"/>
<path d="M123.4 432L125.3 428.8L123.9 427.2L122 430.3z" fill="#2a8bf2" stroke="#2a8bf2"/>
<path d="M111.4 437.1L113.3 434.3L111.8 431.7L109.9 434.4z" fill="#327cfb" stroke="#327cfb"/>
<path d="M99.3 438.6L101.2 436.3L99.8 433.5L97.8 435.8z" fill="#3b70fc" stroke="#3b70fc"/>
<path d="M126.8 430.4L128.7 427L127.2 425.5L125.3 428.8z" fill="#2893ed" stroke="#2893ed"/>
<path d="M114.7 436.8L116.7 434L115.2 431.6L113.3 434.3z" fill="#317efa" stroke="#317efa"/>
<path d="M102.7 439.1L104.6 436.7L103.1 433.9L101.2 436.3z" fill="#3b70fc" stroke="#3b70fc"/>
<path d="M90.6 439.6L92.5 437.5L91.1 434.8L89.2 437.1z" fill="#4167fc" stroke="#4167fc"/>
<path d="M118.1 436.1L120 433.2L118.6 431.2L116.7 434z" fill="#2f81f8" stroke="#2f81f8"/>
<path d="M106.1 439.5L108 437L106.5 434.3L104.6 436.7z" fill="#3a71fc" stroke="#3a71fc"/>
<path d="M94 440.2L95.9 438L94.5 435.3L92.5 437.5z" fill="#4167fc" stroke="#4167fc"/>
<path d="M121.5 435.1L123.4 432L122 430.3L120 433.2z" fill="#2d85f6" stroke="#2d85f6"/>
<path d="M109.4 439.6L111.4 437.1L109.9 434.4L108 437z" fill="#3873fc" stroke="#3873fc"/>
<path d="M97.4 440.7L99.3 438.6L97.8 435.8L95.9 438z" fill="#4266fc" stroke="#4266fc"/>
<path d="M124.9 433.8L126.8 430.4L125.3 428.8L123.4 432z" fill="#2b8bf2" stroke="#2b8bf2"/>
<path d="M112.8 439.5L114.7 436.8L113.3 434.3L111.4 437.1z" fill="#3578fc" stroke="#3578fc"/>
<path d="M100.8 441.3L102.7 439.1L101.2 436.3L99.3 438.6z" fill="#4265fc" stroke="#4265fc"/>
<path d="M88.7 441.8L90.6 439.6L89.2 437.1L87.2 439.3z" fill="#465efa" stroke="#465efa"/>
<path d="M128.2 432.1L130.2 428.4L128.7 427L126.8 430.4z" fill="#2892ed" stroke="#2892ed"/>
<path d="M116.2 439L118.1 436.1L116.7 434L114.7 436.8z" fill="#327cfc" stroke="#327cfc"/>
<path d="M104.1 441.8L106.1 439.5L104.6 436.7L102.7 439.1z" fill="#4266fc" stroke="#4266fc"/>
<path d="M92.1 442.2L94 440.2L92.5 437.5L90.6 439.6z" fill="#465efb" stroke="#465efb"/>
<path d="M119.6 438.1L121.5 435.1L120 433.2L118.1 436.1z" fill="#307ff9" stroke="#307ff9"/>
<path d="M107.5 442L109.4 439.6L108 437L106.1 439.5z" fill="#4167fc" stroke="#4167fc"/>
<path d="M95.5 442.8L97.4 440.7L95.9 438L94 440.2z" fill="#465efa" stroke="#465efa"/>
<path d="M123 437L124.9 433.8L123.4 432L121.5 435.1z" fill="#2d84f7" stroke="#2d84f7"/>
<path d="M110.9 442.1L112.8 439.5L111.4 437.1L109.4 439.6z" fill="#3e6bfc" stroke="#3e6bfc"/>
<path d="M98.8 443.4L100.8 441.3L99.3 438.6L97.4 440.7z" fill="#465dfa" stroke="#465dfa"/>
<path d="M86.8 443.8L88.7 441.8L87.2 439.3L85.3 441.5z" fill="#4758f7" stroke="#4758f7"/>
<path d="M126.3 435.5L128.2 432.1L126.8 430.4L124.9 433.8z" fill="#2b8af3" stroke="#2b8af3"/>
<path d="M114.3 441.8L116.2 439L114.7 436.8L112.8 439.5z" fill="#3a71fc" stroke="#3a71fc"/>
<path d="M102.2 444L104.1 441.8L102.7 439.1L100.8 441.3z" fill="#465dfa" stroke="#465dfa"/>
<path d="M90.2 444.2L92.1 442.2L90.6 439.6L88.7 441.8z" fill="#4758f7" stroke="#4758f7"/>
<path d="M129.7 433.7L131.6 429.9L130.2 428.4L128.2 432.1z" fill="#2992ee" stroke="#2992ee"/>
<path d="M117.7 441L119.6 438.1L118.1 436.1L116.2 439z" fill="#347afd" stroke="#347afd"/>
<path d="M105.6 444.3L107.5 442L106.1 439.5L104.1 441.8z" fill="#465dfa" stroke="#465dfa"/>
<path d="M93.6 444.7L95.5 442.8L94 440.2L92.1 442.2z" fill="#4758f7" stroke="#4758f7"/>
<path d="M121 440L123 437L121.5 435.1L119.6 438.1z" fill="#317efa" stroke="#317efa"/>
<path d="M109 444.5L110.9 442.1L109.4 439.6L107.5 442z" fill="#465ffb" stroke="#465ffb"/>
<path d="M96.9 445.4L98.8 443.4L97.4 440.7L95.5 442.8z" fill="#4757f7" stroke="#4757f7"/>
<path d="M84.9 445.9L86.8 443.8L85.3 441.5L83.4 443.6z" fill="#4752f3" stroke="#4752f3"/>
<path d="M124.4 438.8L126.3 435.5L124.9 433.8L123 437z" fill="#2e83f7" stroke="#2e83f7"/>
<path d="M112.4 444.4L114.3 441.8L112.8 439.5L110.9 442.1z" fill="#4364fc" stroke="#4364fc"/>
<path d="M100.3 446L102.2 444L100.8 441.3L98.8 443.4z" fill="#4757f6" stroke="#4757f6"/>
<path d="M88.3 446.2L90.2 444.2L88.7 441.8L86.8 443.8z" fill="#4752f4" stroke="#4752f4"/>
<path d="M127.8 437.3L129.7 433.7L128.2 432.1L126.3 435.5z" fill="#2b89f3" stroke="#2b89f3"/>
<path d="M115.7 443.8L117.7 441L116.2 439L114.3 441.8z" fill="#3e6bfc" stroke="#3e6bfc"/>
<path d="M103.7 446.5L105.6 444.3L104.1 441.8L102.2 444z" fill="#4757f6" stroke="#4757f6"/>
<path d="M91.6 446.7L93.6 444.7L92.1 442.2L90.2 444.2z" fill="#4753f4" stroke="#4753f4"/>
<path d="M131.2 435.3L133.1 431.4L131.6 429.9L129.7 433.7z" fill="#2992ee" stroke="#2992ee"/>
<path d="M119.1 443L121 440L119.6 438.1L117.7 441z" fill="#3775fc" stroke="#3775fc"/>
<path d="M107.1 446.8L109 444.5L107.5 442L105.6 444.3z" fill="#4758f7" stroke="#4758f7"/>
<path d="M95 447.2L96.9 445.4L95.5 442.8L93.6 444.7z" fill="#4752f3" stroke="#4752f3"/>
<path d="M83 447.8L84.9 445.9L83.4 443.6L81.5 445.7z" fill="#484cf0" stroke="#484cf0"/>
<path d="M122.5 442L124.4 438.8L123 437L121 440z" fill="#327dfb" stroke="#327dfb"/>
<path d="M110.4 446.8L112.4 444.4L110.9 442.1L109 444.5z" fill="#465af8" stroke="#465af8"/>
<path d="M98.4 447.9L100.3 446L98.8 443.4L96.9 445.4z" fill="#4751f3" stroke="#4751f3"/>
<path d="M86.3 448.1L88.3 446.2L86.8 443.8L84.9 445.9z" fill="#484df0" stroke="#484df0"/>
<path d="M125.9 440.7L127.8 437.3L126.3 435.5L124.4 438.8z" fill="#2f82f8" stroke="#2f82f8"/>
<path d="M113.8 446.5L115.7 443.8L114.3 441.8L112.4 444.4z" fill="#465efb" stroke="#465efb"/>
<path d="M101.8 448.5L103.7 446.5L102.2 444L100.3 446z" fill="#4751f3" stroke="#4751f3"/>
<path d="M89.7 448.5L91.6 446.7L90.2 444.2L88.3 446.2z" fill="#484df1" stroke="#484df1"/>
<path d="M129.3 439L131.2 435.3L129.7 433.7L127.8 437.3z" fill="#2b88f4" stroke="#2b88f4"/>
<path d="M117.2 445.9L119.1 443L117.7 441L115.7 443.8z" fill="#4167fc" stroke="#4167fc"/>
<path d="M105.1 448.9L107.1 446.8L105.6 444.3L103.7 446.5z" fill="#4751f3" stroke="#4751f3"/>
<path d="M93.1 449.1L95 447.2L93.6 444.7L91.6 446.7z" fill="#484df0" stroke="#484df0"/>
<path d="M132.6 436.9L134.6 432.8L133.1 431.4L131.2 435.3z" fill="#2991ee" stroke="#2991ee"/>
<path d="M81 449.7L83 447.8L81.5 445.7L79.6 447.7z" fill="#4748ec" stroke="#4748ec"/>
<path d="M120.6 445L122.5 442L121 440L119.1 443z" fill="#3a71fc" stroke="#3a71fc"/>
<path d="M108.5 449L110.4 446.8L109 444.5L107.1 446.8z" fill="#4753f4" stroke="#4753f4"/>
<path d="M96.5 449.7L98.4 447.9L96.9 445.4L95 447.2z" fill="#484df0" stroke="#484df0"/>
<path d="M84.4 450L86.3 448.1L84.9 445.9L83 447.8z" fill="#4749ed" stroke="#4749ed"/>
<path d="M124 443.9L125.9 440.7L124.4 438.8L122.5 442z" fill="#327cfc" stroke="#327cfc"/>
<path d="M111.9 448.9L113.8 446.5L112.4 444.4L110.4 446.8z" fill="#4756f6" stroke="#4756f6"/>
<path d="M99.9 450.3L101.8 448.5L100.3 446L98.4 447.9z" fill="#484cef" stroke="#484cef"/>
<path d="M87.8 450.3L89.7 448.5L88.3 446.2L86.3 448.1z" fill="#474aed" stroke="#474aed"/>
<path d="M127.3 442.6L129.3 439L127.8 437.3L125.9 440.7z" fill="#2f81f8" stroke="#2f81f8"/>
<path d="M115.3 448.6L117.2 445.9L115.7 443.8L113.8 446.5z" fill="#465bf9" stroke="#465bf9"/>
<path d="M103.2 450.8L105.1 448.9L103.7 446.5L101.8 448.5z" fill="#484cef" stroke="#484cef"/>
<path d="M91.2 450.8L93.1 449.1L91.6 446.7L89.7 448.5z" fill="#474aed" stroke="#474aed"/>
<path d="M130.7 440.8L132.6 436.9L131.2 435.3L129.3 439z" fill="#2c87f4" stroke="#2c87f4"/>
<path d="M79.1 451.6L81 449.7L79.6 447.7L77.7 449.6z" fill="#4745e8" stroke="#4745e8"/>
<path d="M118.7 448L120.6 445L119.1 443L117.2 445.9z" fill="#4462fc" stroke="#4462fc"/>
<path d="M106.6 451.1L108.5 449L107.1 446.8L105.1 448.9z" fill="#484df0" stroke="#484df0"/>
<path d="M94.6 451.4L96.5 449.7L95 447.2L93.1 449.1z" fill="#474aed" stroke="#474aed"/>
<path d="M134.1 438.2L136 434L134.6 432.8L132.6 436.9z" fill="#2992ee" stroke="#2992ee"/>
<path d="M82.5 451.8L84.4 450L83 447.8L81 449.7z" fill="#4746e9" stroke="#4746e9"/>
<path d="M122 447.1L124 443.9L122.5 442L120.6 445z" fill="#3c6dfc" stroke="#3c6dfc"/>
<path d="M110 451.1L111.9 448.9L110.4 446.8L108.5 449z" fill="#484ff2" stroke="#484ff2"/>
<path d="M97.9 452L99.9 450.3L98.4 447.9L96.5 449.7z" fill="#4749ec" stroke="#4749ec"/>
<path d="M85.9 452.1L87.8 450.3L86.3 448.1L84.4 450z" fill="#4746ea" stroke="#4746ea"/>
<path d="M125.4 445.9L127.3 442.6L125.9 440.7L124 443.9z" fill="#347afd" stroke="#347afd"/>
<path d="M113.4 451L115.3 448.6L113.8 446.5L111.9 448.9z" fill="#4753f4" stroke="#4753f4"/>
<path d="M101.3 452.6L103.2 450.8L101.8 448.5L99.9 450.3z" fill="#4749ec" stroke="#4749ec"/>
<path d="M89.3 452.6L91.2 450.8L89.7 448.5L87.8 450.3z" fill="#4747ea" stroke="#4747ea"/>
<path d="M128.8 444.4L130.7 440.8L129.3 439L127.3 442.6z" fill="#3080f9" stroke="#3080f9"/>
<path d="M77.2 453.3L79.1 451.6L77.7 449.6L75.7 451.5z" fill="#4741e5" stroke="#4741e5"/>
<path d="M116.7 450.7L118.7 448L117.2 445.9L115.3 448.6z" fill="#4758f7" stroke="#4758f7"/>
<path d="M104.7 453L106.6 451.1L105.1 448.9L103.2 450.8z" fill="#4749ec" stroke="#4749ec"/>
<path d="M92.6 453.1L94.6 451.4L93.1 449.1L91.2 450.8z" fill="#4746ea" stroke="#4746ea"/>
<path d="M132.2 442.3L134.1 438.2L132.6 436.9L130.7 440.8z" fill="#2c87f4" stroke="#2c87f4"/>
<path d="M80.6 453.5L82.5 451.8L81 449.7L79.1 451.6z" fill="#4742e6" stroke="#4742e6"/>
<path d="M120.1 450.1L122 447.1L120.6 445L118.7 448z" fill="#465efa" stroke="#465efa"/>
<path d="M108.1 453.2L110 451.1L108.5 449L106.6 451.1z" fill="#474aed" stroke="#474aed"/>
<path d="M96 453.7L97.9 452L96.5 449.7L94.6 451.4z" fill="#4746ea" stroke="#4746ea"/>
<path d="M135.6 438.6L137.5 434.2L136 434L134.1 438.2z" fill="#2894ed" stroke="#2894ed"/>
<path d="M84 453.8L85.9 452.1L84.4 450L82.5 451.8z" fill="#4743e7" stroke="#4743e7"/>
<path d="M123.5 449.1L125.4 445.9L124 443.9L122 447.1z" fill="#4069fc" stroke="#4069fc"/>
<path d="M111.4 453.3L113.4 451L111.9 448.9L110 451.1z" fill="#484cef" stroke="#484cef"/>
<path d="M99.4 454.2L101.3 452.6L99.9 450.3L97.9 452z" fill="#4745e9" stroke="#4745e9"/>
<path d="M87.3 454.2L89.3 452.6L87.8 450.3L85.9 452.1z" fill="#4744e7" stroke="#4744e7"/>
<path d="M126.9 447.9L128.8 444.4L127.3 442.6L125.4 445.9z" fill="#3676fc" stroke="#3676fc"/>
<path d="M75.3 455L77.2 453.3L75.7 451.5L73.8 453.3z" fill="#463dde" stroke="#463dde"/>
<path d="M114.8 453.1L116.7 450.7L115.3 448.6L113.4 451z" fill="#474ff2" stroke="#474ff2"/>
<path d="M102.8 454.8L104.7 453L103.2 450.8L101.3 452.6z" fill="#4745e9" stroke="#4745e9"/>
<path d="M90.7 454.7L92.6 453.1L91.2 450.8L89.3 452.6z" fill="#4744e7" stroke="#4744e7"/>
<path d="M130.3 446.1L132.2 442.3L130.7 440.8L128.8 444.4z" fill="#307ffa" stroke="#307ffa"/>
<path d="M78.7 455.1L80.6 453.5L79.1 451.6L77.2 453.3z" fill="#473fe2" stroke="#473fe2"/>
<path d="M118.2 452.9L120.1 450.1L118.7 448L116.7 450.7z" fill="#4754f5" stroke="#4754f5"/>
<path d="M106.1 455.1L108.1 453.2L106.6 451.1L104.7 453z" fill="#4746ea" stroke="#4746ea"/>
<path d="M94.1 455.3L96 453.7L94.6 451.4L92.6 453.1z" fill="#4743e7" stroke="#4743e7"/>
<path d="M133.6 442.9L135.6 438.6L134.1 438.2L132.2 442.3z" fill="#2b88f4" stroke="#2b88f4"/>
<path d="M82 455.4L84 453.8L82.5 451.8L80.6 453.5z" fill="#4740e4" stroke="#4740e4"/>
<path d="M121.6 452.2L123.5 449.1L122 447.1L120.1 450.1z" fill="#465bf8" stroke="#465bf8"/>
<path d="M109.5 455.4L111.4 453.3L110 451.1L108.1 453.2z" fill="#4747eb" stroke="#4747eb"/>
<path d="M97.5 455.8L99.4 454.2L97.9 452L96 453.7z" fill="#4743e7" stroke="#4743e7"/>
<path d="M137 438.3L138.9 433.5L137.5 434.2L135.6 438.6z" fill="#2499e9" stroke="#2499e9"/>
<path d="M85.4 455.8L87.3 454.2L85.9 452.1L84 453.8z" fill="#4741e5" stroke="#4741e5"/>
<path d="M125 451.2L126.9 447.9L125.4 445.9L123.5 449.1z" fill="#4364fc" stroke="#4364fc"/>
<path d="M73.4 456.7L75.3 455L73.8 453.3L71.9 455.1z" fill="#453ad7" stroke="#453ad7"/>
<path d="M112.9 455.4L114.8 453.1L113.4 451L111.4 453.3z" fill="#4749ed" stroke="#4749ed"/>
<path d="M100.9 456.4L102.8 454.8L101.3 452.6L99.4 454.2z" fill="#4742e6" stroke="#4742e6"/>
<path d="M88.8 456.3L90.7 454.7L89.3 452.6L87.3 454.2z" fill="#4741e5" stroke="#4741e5"/>
<path d="M128.3 449.6L130.3 446.1L128.8 444.4L126.9 447.9z" fill="#3874fc" stroke="#3874fc"/>
<path d="M76.7 456.7L78.7 455.1L77.2 453.3L75.3 455z" fill="#463cdc" stroke="#463cdc"/>
<path d="M116.3 455.3L118.2 452.9L116.7 450.7L114.8 453.1z" fill="#484cef" stroke="#484cef"/>
<path d="M104.2 456.9L106.1 455.1L104.7 453L102.8 454.8z" fill="#4743e6" stroke="#4743e6"/>
<path d="M92.2 456.8L94.1 455.3L92.6 453.1L90.7 454.7z" fill="#4741e4" stroke="#4741e4"/>
<path d="M131.7 446.8L133.6 442.9L132.2 442.3L130.3 446.1z" fill="#3080f9" stroke="#3080f9"/>
<path d="M80.1 456.9L82 455.4L80.6 453.5L78.7 455.1z" fill="#463dde" stroke="#463dde"/>
<path d="M119.7 455L121.6 452.2L120.1 450.1L118.2 452.9z" fill="#4750f2" stroke="#4750f2"/>
<path d="M107.6 457.3L109.5 455.4L108.1 453.2L106.1 455.1z" fill="#4743e7" stroke="#4743e7"/>
<path d="M95.6 457.4L97.5 455.8L96 453.7L94.1 455.3z" fill="#4740e4" stroke="#4740e4"/>
<path d="M135.1 442.7L137 438.3L135.6 438.6L133.6 442.9z" fill="#2a8df1" stroke="#2a8df1"/>
<path d="M83.5 457.3L85.4 455.8L84 453.8L82 455.4z" fill="#463ee0" stroke="#463ee0"/>
<path d="M123 454.4L125 451.2L123.5 449.1L121.6 452.2z" fill="#4757f6" stroke="#4757f6"/>
<path d="M71.4 458.3L73.4 456.7L71.9 455.1L70 456.9z" fill="#4436d1" stroke="#4436d1"/>
<path d="M111 457.5L112.9 455.4L111.4 453.3L109.5 455.4z" fill="#4745e8" stroke="#4745e8"/>
<path d="M98.9 457.9L100.9 456.4L99.4 454.2L97.5 455.8z" fill="#4740e3" stroke="#4740e3"/>
<path d="M138.5 437.2L140.4 432.2L138.9 433.5L137 438.3z" fill="#1ba0e3" stroke="#1ba0e3"/>
<path d="M86.9 457.7L88.8 456.3L87.3 454.2L85.4 455.8z" fill="#463ee0" stroke="#463ee0"/>
<path d="M126.4 453L128.3 449.6L126.9 447.9L125 451.2z" fill="#4561fb" stroke="#4561fb"/>
<path d="M74.8 458.3L76.7 456.7L75.3 455L73.4 456.7z" fill="#4539d6" stroke="#4539d6"/>
<path d="M114.4 457.6L116.3 455.3L114.8 453.1L112.9 455.4z" fill="#4747ea" stroke="#4747ea"/>
<path d="M102.3 458.4L104.2 456.9L102.8 454.8L100.9 456.4z" fill="#4740e3" stroke="#4740e3"/>
<path d="M90.3 458.3L92.2 456.8L90.7 454.7L88.8 456.3z" fill="#463edf" stroke="#463edf"/>
<path d="M129.8 450.6L131.7 446.8L130.3 446.1L128.3 449.6z" fill="#3775fc" stroke="#3775fc"/>
<path d="M78.2 458.4L80.1 456.9L78.7 455.1L76.7 456.7z" fill="#453ad9" stroke="#453ad9"/>
<path d="M117.7 457.5L119.7 455L118.2 452.9L116.3 455.3z" fill="#4749ed" stroke="#4749ed"/>
<path d="M105.7 459L107.6 457.3L106.1 455.1L104.2 456.9z" fill="#4740e3" stroke="#4740e3"/>
<path d="M93.6 458.8L95.6 457.4L94.1 455.3L92.2 456.8z" fill="#463edf" stroke="#463edf"/>
<path d="M133.2 446.9L135.1 442.7L133.6 442.9L131.7 446.8z" fill="#2e83f7" stroke="#2e83f7"/>
<path d="M81.6 458.7L83.5 457.3L82 455.4L80.1 456.9z" fill="#463bdb" stroke="#463bdb"/>
<path d="M121.1 457.2L123 454.4L121.6 452.2L119.7 455z" fill="#484df0" stroke="#484df0"/>
<path d="M69.5 459.9L71.4 458.3L70 456.9L68.1 458.5z" fill="#4333cb" stroke="#4333cb"/>
<path d="M109.1 459.4L111 457.5L109.5 455.4L107.6 457.3z" fill="#4741e4" stroke="#4741e4"/>
<path d="M97 459.4L98.9 457.9L97.5 455.8L95.6 457.4z" fill="#463dde" stroke="#463dde"/>
<path d="M136.6 441.9L138.5 437.2L137 438.3L135.1 442.7z" fill="#2894ed" stroke="#2894ed"/>
<path d="M85 459.1L86.9 457.7L85.4 455.8L83.5 457.3z" fill="#463cdb" stroke="#463cdb"/>
<path d="M124.5 456.3L126.4 453L125 451.2L123 454.4z" fill="#4754f5" stroke="#4754f5"/>
<path d="M72.9 459.8L74.8 458.3L73.4 456.7L71.4 458.3z" fill="#4436d0" stroke="#4436d0"/>
<path d="M112.4 459.7L114.4 457.6L112.9 455.4L111 457.5z" fill="#4742e6" stroke="#4742e6"/>
<path d="M100.4 459.9L102.3 458.4L100.9 456.4L98.9 457.9z" fill="#463dde" stroke="#463dde"/>
<path d="M139.9 435.7L141.9 430.4L140.4 432.2L138.5 437.2z" fill="#10a7db" stroke="#10a7db"/>
<path d="M88.3 459.7L90.3 458.3L88.8 456.3L86.9 457.7z" fill="#463bdb" stroke="#463bdb"/>
<path d="M127.9 454.1L129.8 450.6L128.3 449.6L126.4 453z" fill="#4561fb" stroke="#4561fb"/>
<path d="M76.3 459.8L78.2 458.4L76.7 456.7L74.8 458.3z" fill="#4538d4" stroke="#4538d4"/>
<path d="M115.8 459.8L117.7 457.5L116.3 455.3L114.4 457.6z" fill="#4744e8" stroke="#4744e8"/>
<path d="M103.8 460.4L105.7 459L104.2 456.9L102.3 458.4z" fill="#463ddd" stroke="#463ddd"/>
<path d="M91.7 460.2L93.6 458.8L92.2 456.8L90.3 458.3z" fill="#463bda" stroke="#463bda"/>
<path d="M131.3 450.8L133.2 446.9L131.7 446.8L129.8 450.6z" fill="#337bfc" stroke="#337bfc"/>
<path d="M79.7 460.1L81.6 458.7L80.1 456.9L78.2 458.4z" fill="#4539d6" stroke="#4539d6"/>
<path d="M119.2 459.7L121.1 457.2L119.7 455L117.7 457.5z" fill="#4746ea" stroke="#4746ea"/>
<path d="M67.6 461.4L69.5 459.9L68.1 458.5L66.2 460.2z" fill="#4230c3" stroke="#4230c3"/>
<path d="M107.2 461.1L109.1 459.4L107.6 457.3L105.7 459z" fill="#463ddd" stroke="#463ddd"/>
<path d="M95.1 460.8L97 459.4L95.6 457.4L93.6 458.8z" fill="#453bda" stroke="#453bda"/>
<path d="M134.6 446.4L136.6 441.9L135.1 442.7L133.2 446.9z" fill="#2b88f4" stroke="#2b88f4"/>
<path d="M83 460.4L85 459.1L83.5 457.3L81.6 458.7z" fill="#453ad7" stroke="#453ad7"/>
<path d="M122.6 459.2L124.5 456.3L123 454.4L121.1 457.2z" fill="#474aee" stroke="#474aee"/>
<path d="M71 461.3L72.9 459.8L71.4 458.3L69.5 459.9z" fill="#4333cb" stroke="#4333cb"/>
<path d="M110.5 461.6L112.4 459.7L111 457.5L109.1 459.4z" fill="#463dde" stroke="#463dde"/>
<path d="M98.5 461.3L100.4 459.9L98.9 457.9L97 459.4z" fill="#453bd9" stroke="#453bd9"/>
<path d="M138 440.7L139.9 435.7L138.5 437.2L136.6 441.9z" fill="#209ce6" stroke="#209ce6"/>
<path d="M86.4 460.9L88.3 459.7L86.9 457.7L85 459.1z" fill="#4539d7" stroke="#4539d7"/>
<path d="M126 457.5L127.9 454.1L126.4 453L124.5 456.3z" fill="#4754f4" stroke="#4754f4"/>
<path d="M74.4 461.3L76.3 459.8L74.8 458.3L72.9 459.8z" fill="#4435cf" stroke="#4435cf"/>
<path d="M113.9 461.9L115.8 459.8L114.4 457.6L112.4 459.7z" fill="#463ee0" stroke="#463ee0"/>
<path d="M101.9 461.9L103.8 460.4L102.3 458.4L100.4 459.9z" fill="#453ad9" stroke="#453ad9"/>
<path d="M141.4 433.9L143.3 428.3L141.9 430.4L139.9 435.7z" fill="#07aed0" stroke="#07aed0"/>
<path d="M89.8 461.5L91.7 460.2L90.3 458.3L88.3 459.7z" fill="#4539d7" stroke="#4539d7"/>
<path d="M129.3 454.5L131.3 450.8L129.8 450.6L127.9 454.1z" fill="#4167fc" stroke="#4167fc"/>
<path d="M77.8 461.4L79.7 460.1L78.2 458.4L76.3 459.8z" fill="#4437d2" stroke="#4437d2"/>
<path d="M117.3 462L119.2 459.7L117.7 457.5L115.8 459.8z" fill="#4741e5" stroke="#4741e5"/>
<path d="M65.7 462.9L67.6 461.4L66.2 460.2L64.2 461.8z" fill="#412dbc" stroke="#412dbc"/>
<path d="M105.2 462.5L107.2 461.1L105.7 459L103.8 460.4z" fill="#453ad8" stroke="#453ad8"/>
<path d="M93.2 462.1L95.1 460.8L93.6 458.8L91.7 460.2z" fill="#4539d6" stroke="#4539d6"/>
<path d="M132.7 450.5L134.6 446.4L133.2 446.9L131.3 450.8z" fill="#307ffa" stroke="#307ffa"/>
<path d="M81.1 461.7L83 460.4L81.6 458.7L79.7 460.1z" fill="#4538d4" stroke="#4538d4"/>
<path d="M120.7 461.7L122.6 459.2L121.1 457.2L119.2 459.7z" fill="#4744e8" stroke="#4744e8"/>
<path d="M69.1 462.7L71 461.3L69.5 459.9L67.6 461.4z" fill="#4330c5" stroke="#4330c5"/>
<path d="M108.6 463.2L110.5 461.6L109.1 459.4L107.2 461.1z" fill="#4539d7" stroke="#4539d7"/>
<path d="M96.6 462.6L98.5 461.3L97 459.4L95.1 460.8z" fill="#4538d5" stroke="#4538d5"/>
<path d="M136.1 445.4L138 440.7L136.6 441.9L134.6 446.4z" fill="#2990ef" stroke="#2990ef"/>
<path d="M84.5 462.2L86.4 460.9L85 459.1L83 460.4z" fill="#4538d4" stroke="#4538d4"/>
<path d="M124 460.5L126 457.5L124.5 456.3L122.6 459.2z" fill="#474aed" stroke="#474aed"/>
<path d="M72.5 462.6L74.4 461.3L72.9 459.8L71 461.3z" fill="#4433cb" stroke="#4433cb"/>
<path d="M112 463.8L113.9 461.9L112.4 459.7L110.5 461.6z" fill="#453ad7" stroke="#453ad7"/>
<path d="M99.9 463.2L101.9 461.9L100.4 459.9L98.5 461.3z" fill="#4538d5" stroke="#4538d5"/>
<path d="M139.5 439.1L141.4 433.9L139.9 435.7L138 440.7z" fill="#13a5de" stroke="#13a5de"/>
<path d="M87.9 462.7L89.8 461.5L88.3 459.7L86.4 460.9z" fill="#4538d4" stroke="#4538d4"/>
<path d="M127.4 458.1L129.3 454.5L127.9 454.1L126 457.5z" fill="#4757f6" stroke="#4757f6"/>
<path d="M75.8 462.7L77.8 461.4L76.3 459.8L74.4 461.3z" fill="#4435cf" stroke="#4435cf"/>
<path d="M115.4 464.1L117.3 462L115.8 459.8L113.9 461.9z" fill="#453bda" stroke="#453bda"/>
<path d="M63.8 464.4L65.7 462.9L64.2 461.8L62.3 463.3z" fill="#402bb6" stroke="#402bb6"/>
<path d="M103.3 463.9L105.2 462.5L103.8 460.4L101.9 461.9z" fill="#4538d4" stroke="#4538d4"/>
<path d="M142.9 431.8L144.8 425.9L143.3 428.3L141.4 433.9z" fill="#0db5c2" stroke="#0db5c2"/>
<path d="M91.3 463.3L93.2 462.1L91.7 460.2L89.8 461.5z" fill="#4537d3" stroke="#4537d3"/>
<path d="M130.8 454.4L132.7 450.5L131.3 450.8L129.3 454.5z" fill="#3a71fc" stroke="#3a71fc"/>
<path d="M79.2 463L81.1 461.7L79.7 460.1L77.8 461.4z" fill="#4436d1" stroke="#4436d1"/>
<path d="M118.7 464.1L120.7 461.7L119.2 459.7L117.3 462z" fill="#463ddf" stroke="#463ddf"/>
<path d="M67.2 464.1L69.1 462.7L67.6 461.4L65.7 462.9z" fill="#422ebf" stroke="#422ebf"/>
<path d="M106.7 464.6L108.6 463.2L107.2 461.1L105.2 462.5z" fill="#4437d2" stroke="#4437d2"/>
<path d="M94.6 463.9L96.6 462.6L95.1 460.8L93.2 462.1z" fill="#4437d2" stroke="#4437d2"/>
<path d="M134.2 449.7L136.1 445.4L134.6 446.4L132.7 450.5z" fill="#2d84f6" stroke="#2d84f6"/>
<path d="M82.6 463.3L84.5 462.2L83 460.4L81.1 461.7z" fill="#4436d2" stroke="#4436d2"/>
<path d="M122.1 463.1L124 460.5L122.6 459.2L120.7 461.7z" fill="#4743e7" stroke="#4743e7"/>
<path d="M70.5 464L72.5 462.6L71 461.3L69.1 462.7z" fill="#4331c6" stroke="#4331c6"/>
<path d="M110.1 465.4L112 463.8L110.5 461.6L108.6 463.2z" fill="#4436d0" stroke="#4436d0"/>
<path d="M98 464.5L99.9 463.2L98.5 461.3L96.6 462.6z" fill="#4436d1" stroke="#4436d1"/>
<path d="M137.6 444.1L139.5 439.1L138 440.7L136.1 445.4z" fill="#2499e9" stroke="#2499e9"/>
<path d="M86 463.8L87.9 462.7L86.4 460.9L84.5 462.2z" fill="#4436d1" stroke="#4436d1"/>
<path d="M125.5 461.2L127.4 458.1L126 457.5L124 460.5z" fill="#484cef" stroke="#484cef"/>
<path d="M73.9 464L75.8 462.7L74.4 461.3L72.5 462.6z" fill="#4433cb" stroke="#4433cb"/>
<path d="M113.5 466L115.4 464.1L113.9 461.9L112 463.8z" fill="#4436d0" stroke="#4436d0"/>
<path d="M61.9 465.8L63.8 464.4L62.3 463.3L60.4 464.8z" fill="#3f29af" stroke="#3f29af"/>
<path d="M101.4 465.2L103.3 463.9L101.9 461.9L99.9 463.2z" fill="#4436d0" stroke="#4436d0"/>
<path d="M140.9 437.4L142.9 431.8L141.4 433.9L139.5 439.1z" fill="#0aacd4" stroke="#0aacd4"/>
<path d="M89.3 464.4L91.3 463.3L89.8 461.5L87.9 462.7z" fill="#4436d0" stroke="#4436d0"/>
<path d="M128.9 458.1L130.8 454.4L129.3 454.5L127.4 458.1z" fill="#465dfa" stroke="#465dfa"/>
<path d="M77.3 464.2L79.2 463L77.8 461.4L75.8 462.7z" fill="#4434ce" stroke="#4434ce"/>
<path d="M116.8 466.2L118.7 464.1L117.3 462L115.4 464.1z" fill="#4537d3" stroke="#4537d3"/>
<path d="M65.2 465.5L67.2 464.1L65.7 462.9L63.8 464.4z" fill="#412cb9" stroke="#412cb9"/>
<path d="M104.8 465.9L106.7 464.6L105.2 462.5L103.3 463.9z" fill="#4434ce" stroke="#4434ce"/>
<path d="M144.3 429.8L146.2 423.5L144.8 425.9L142.9 431.8z" fill="#1cbbb1" stroke="#1cbbb1"/>
<path d="M92.7 465.1L94.6 463.9L93.2 462.1L91.3 463.3z" fill="#4435cf" stroke="#4435cf"/>
<path d="M132.3 453.9L134.2 449.7L132.7 450.5L130.8 454.4z" fill="#327cfb" stroke="#327cfb"/>
<path d="M80.7 464.5L82.6 463.3L81.1 461.7L79.2 463z" fill="#4435cf" stroke="#4435cf"/>
<path d="M120.2 465.5L122.1 463.1L120.7 461.7L118.7 464.1z" fill="#463cdc" stroke="#463cdc"/>
<path d="M68.6 465.3L70.5 464L69.1 462.7L67.2 464.1z" fill="#422fc1" stroke="#422fc1"/>
<path d="M108.2 466.8L110.1 465.4L108.6 463.2L106.7 464.6z" fill="#4433cb" stroke="#4433cb"/>
<path d="M96.1 465.7L98 464.5L96.6 462.6L94.6 463.9z" fill="#4435ce" stroke="#4435ce"/>
<path d="M135.6 448.7L137.6 444.1L136.1 445.4L134.2 449.7z" fill="#2a8cf1" stroke="#2a8cf1"/>
<path d="M84 464.9L86 463.8L84.5 462.2L82.6 463.3z" fill="#4435d0" stroke="#4435d0"/>
<path d="M123.6 463.9L125.5 461.2L124 460.5L122.1 463.1z" fill="#4744e8" stroke="#4744e8"/>
<path d="M72 465.3L73.9 464L72.5 462.6L70.5 464z" fill="#4331c7" stroke="#4331c7"/>
<path d="M111.5 467.6L113.5 466L112 463.8L110.1 465.4z" fill="#4332c9" stroke="#4332c9"/>
<path d="M99.5 466.5L101.4 465.2L99.9 463.2L98 464.5z" fill="#4434cd" stroke="#4434cd"/>
<path d="M139 442.6L140.9 437.4L139.5 439.1L137.6 444.1z" fill="#18a2e1" stroke="#18a2e1"/>
<path d="M87.4 465.5L89.3 464.4L87.9 462.7L86 463.8z" fill="#4435cf" stroke="#4435cf"/>
<path d="M127 461.4L128.9 458.1L127.4 458.1L125.5 461.2z" fill="#4750f2" stroke="#4750f2"/>
<path d="M75.4 465.4L77.3 464.2L75.8 462.7L73.9 464z" fill="#4433cb" stroke="#4433cb"/>
<path d="M114.9 468.1L116.8 466.2L115.4 464.1L113.5 466z" fill="#4332ca" stroke="#4332ca"/>
<path d="M63.3 466.7L65.2 465.5L63.8 464.4L61.9 465.8z" fill="#402bb5" stroke="#402bb5"/>
<path d="M102.9 467.2L104.8 465.9L103.3 463.9L101.4 465.2z" fill="#4333cb" stroke="#4333cb"/>
<path d="M142.4 435.6L144.3 429.8L142.9 431.8L140.9 437.4z" fill="#0ab2c8" stroke="#0ab2c8"/>
<path d="M90.8 466.1L92.7 465.1L91.3 463.3L89.3 464.4z" fill="#4434ce" stroke="#4434ce"/>
<path d="M130.3 457.8L132.3 453.9L130.8 454.4L128.9 458.1z" fill="#3f69fc" stroke="#3f69fc"/>
<path d="M78.8 465.6L80.7 464.5L79.2 463L77.3 464.2z" fill="#4434cd" stroke="#4434cd"/>
<path d="M118.3 467.7L120.2 465.5L118.7 464.1L116.8 466.2z" fill="#4436d1" stroke="#4436d1"/>
<path d="M66.7 466.5L68.6 465.3L67.2 464.1L65.2 465.5z" fill="#412ebd" stroke="#412ebd"/>
<path d="M106.2 468.1L108.2 466.8L106.7 464.6L104.8 465.9z" fill="#4331c8" stroke="#4331c8"/>
<path d="M145.8 427.5L147.7 420.9L146.2 423.5L144.3 429.8z" fill="#33c19c" stroke="#33c19c"/>
<path d="M94.2 466.8L96.1 465.7L94.6 463.9L92.7 465.1z" fill="#4433cc" stroke="#4433cc"/>
<path d="M133.7 453L135.6 448.7L134.2 449.7L132.3 453.9z" fill="#2e82f8" stroke="#2e82f8"/>
<path d="M82.1 466L84 464.9L82.6 463.3L80.7 464.5z" fill="#4435ce" stroke="#4435ce"/>
<path d="M121.7 466.4L123.6 463.9L122.1 463.1L120.2 465.5z" fill="#463edf" stroke="#463edf"/>
<path d="M70.1 466.5L72 465.3L70.5 464L68.6 465.3z" fill="#4230c4" stroke="#4230c4"/>
<path d="M109.6 468.9L111.5 467.6L110.1 465.4L108.2 466.8z" fill="#4230c3" stroke="#4230c3"/>
<path d="M97.6 467.6L99.5 466.5L98 464.5L96.1 465.7z" fill="#4332ca" stroke="#4332ca"/>
<path d="M137.1 447.5L139 442.6L137.6 444.1L135.6 448.7z" fill="#2796ec" stroke="#2796ec"/>
<path d="M85.5 466.5L87.4 465.5L86 463.8L84 464.9z" fill="#4434ce" stroke="#4434ce"/>
<path d="M125 464.2L127 461.4L125.5 461.2L123.6 463.9z" fill="#4748eb" stroke="#4748eb"/>
<path d="M73.5 466.5L75.4 465.4L73.9 464L72 465.3z" fill="#4332c9" stroke="#4332c9"/>
<path d="M113 469.7L114.9 468.1L113.5 466L111.5 467.6z" fill="#422fc1" stroke="#422fc1"/>
<path d="M100.9 468.4L102.9 467.2L101.4 465.2L99.5 466.5z" fill="#4331c7" stroke="#4331c7"/>
<path d="M140.5 441.1L142.4 435.6L140.9 437.4L139 442.6z" fill="#0ea9d8" stroke="#0ea9d8"/>
<path d="M88.9 467.1L90.8 466.1L89.3 464.4L87.4 465.5z" fill="#4434cd" stroke="#4434cd"/>
<path d="M128.4 461.2L130.3 457.8L128.9 458.1L127 461.4z" fill="#4758f7" stroke="#4758f7"/>
<path d="M76.8 466.7L78.8 465.6L77.3 464.2L75.4 465.4z" fill="#4433cb" stroke="#4433cb"/>
<path d="M116.4 469.7L118.3 467.7L116.8 466.2L114.9 468.1z" fill="#4331c6" stroke="#4331c6"/>
<path d="M64.8 467.7L66.7 466.5L65.2 465.5L63.3 466.7z" fill="#412cb9" stroke="#412cb9"/>
<path d="M104.3 469.3L106.2 468.1L104.8 465.9L102.9 467.2z" fill="#4230c4" stroke="#4230c4"/>
<path d="M143.9 433.6L145.8 427.5L144.3 429.8L142.4 435.6z" fill="#14b8b9" stroke="#14b8b9"/>
<path d="M92.3 467.8L94.2 466.8L92.7 465.1L90.8 466.1z" fill="#4433cb" stroke="#4433cb"/>
<path d="M131.8 457.2L133.7 453L132.3 453.9L130.3 457.8z" fill="#3578fd" stroke="#3578fd"/>
<path d="M80.2 467.1L82.1 466L80.7 464.5L78.8 465.6z" fill="#4434cd" stroke="#4434cd"/>
<path d="M119.8 468.7L121.7 466.4L120.2 465.5L118.3 467.7z" fill="#4537d3" stroke="#4537d3"/>
<path d="M68.2 467.6L70.1 466.5L68.6 465.3L66.7 466.5z" fill="#422fc1" stroke="#422fc1"/>
<path d="M107.7 470.2L109.6 468.9L108.2 466.8L106.2 468.1z" fill="#422ec0" stroke="#422ec0"/>
<path d="M147.2 424.1L149.2 417.2L147.7 420.9L145.8 427.5z" fill="#59c682" stroke="#59c682"/>
<path d="M95.6 468.6L97.6 467.6L96.1 465.7L94.2 466.8z" fill="#4332c9" stroke="#4332c9"/>
<path d="M135.2 452.1L137.1 447.5L135.6 448.7L133.7 453z" fill="#2b89f3" stroke="#2b89f3"/>
<path d="M83.6 467.5L85.5 466.5L84 464.9L82.1 466z" fill="#4434cd" stroke="#4434cd"/>
<path d="M123.1 466.8L125 464.2L123.6 463.9L121.7 466.4z" fill="#4741e5" stroke="#4741e5"/>
<path d="M71.5 467.6L73.5 466.5L72 465.3L70.1 466.5z" fill="#4331c6" stroke="#4331c6"/>
<path d="M111.1 471L113 469.7L111.5 467.6L109.6 468.9z" fill="#412dbb" stroke="#412dbb"/>
<path d="M99 469.5L100.9 468.4L99.5 466.5L97.6 467.6z" fill="#4330c5" stroke="#4330c5"/>
<path d="M138.6 446.2L140.5 441.1L139 442.6L137.1 447.5z" fill="#1d9ee4" stroke="#1d9ee4"/>
<path d="M87 468L88.9 467.1L87.4 465.5L85.5 466.5z" fill="#4434cd" stroke="#4434cd"/>
<path d="M126.5 464.2L128.4 461.2L127 461.4L125 464.2z" fill="#484df0" stroke="#484df0"/>
<path d="M74.9 467.8L76.8 466.7L75.4 465.4L73.5 466.5z" fill="#4332ca" stroke="#4332ca"/>
<path d="M114.5 471.3L116.4 469.7L114.9 468.1L113 469.7z" fill="#412dbd" stroke="#412dbd"/>
<path d="M102.4 470.4L104.3 469.3L102.9 467.2L100.9 468.4z" fill="#422fc1" stroke="#422fc1"/>
<path d="M141.9 439.4L143.9 433.6L142.4 435.6L140.5 441.1z" fill="#07b0cd" stroke="#07b0cd"/>
<path d="M90.3 468.7L92.3 467.8L90.8 466.1L88.9 467.1z" fill="#4433cb" stroke="#4433cb"/>
<path d="M129.9 460.8L131.8 457.2L130.3 457.8L128.4 461.2z" fill="#4463fc" stroke="#4463fc"/>
<path d="M78.3 468.1L80.2 467.1L78.8 465.6L76.8 466.7z" fill="#4433cc" stroke="#4433cc"/>
<path d="M117.8 470.7L119.8 468.7L118.3 467.7L116.4 469.7z" fill="#4331c8" stroke="#4331c8"/>
<path d="M66.2 468.7L68.2 467.6L66.7 466.5L64.8 467.7z" fill="#412ebe" stroke="#412ebe"/>
<path d="M105.8 471.4L107.7 470.2L106.2 468.1L104.3 469.3z" fill="#412dbc" stroke="#412dbc"/>
<path d="M145.3 430.6L147.2 424.1L145.8 427.5L143.9 433.6z" fill="#2bbfa3" stroke="#2bbfa3"/>
<path d="M93.7 469.5L95.6 468.6L94.2 466.8L92.3 467.8z" fill="#4332c8" stroke="#4332c8"/>
<path d="M133.3 456.4L135.2 452.1L133.7 453L131.8 457.2z" fill="#307ff9" stroke="#307ff9"/>
<path d="M81.7 468.5L83.6 467.5L82.1 466L80.2 467.1z" fill="#4434cd" stroke="#4434cd"/>
<path d="M121.2 469.3L123.1 466.8L121.7 466.4L119.8 468.7z" fill="#453ad9" stroke="#453ad9"/>
<path d="M69.6 468.7L71.5 467.6L70.1 466.5L68.2 467.6z" fill="#4230c4" stroke="#4230c4"/>
<path d="M109.2 472.2L111.1 471L109.6 468.9L107.7 470.2z" fill="#402cb8" stroke="#402cb8"/>
<path d="M148.7 420.1L150.6 412.8L149.2 417.2L147.2 424.1z" fill="#8cc665" stroke="#8cc665"/>
<path d="M97.1 470.5L99 469.5L97.6 467.6L95.6 468.6z" fill="#4230c4" stroke="#4230c4"/>
<path d="M136.6 451.1L138.6 446.2L137.1 447.5L135.2 452.1z" fill="#2992ee" stroke="#2992ee"/>
<path d="M85.1 468.9L87 468L85.5 466.5L83.6 467.5z" fill="#4434cd" stroke="#4434cd"/>
<path d="M124.6 467L126.5 464.2L125 464.2L123.1 466.8z" fill="#4746ea" stroke="#4746ea"/>
<path d="M73 468.8L74.9 467.8L73.5 466.5L71.5 467.6z" fill="#4332c8" stroke="#4332c8"/>
<path d="M112.5 472.6L114.5 471.3L113 469.7L111.1 471z" fill="#402bb7" stroke="#402bb7"/>
<path d="M100.5 471.5L102.4 470.4L100.9 468.4L99 469.5z" fill="#422ebf" stroke="#422ebf"/>
<path d="M140 444.8L141.9 439.4L140.5 441.1L138.6 446.2z" fill="#12a6dc" stroke="#12a6dc"/>
<path d="M88.4 469.6L90.3 468.7L88.9 467.1L87 468z" fill="#4433cc" stroke="#4433cc"/>
<path d="M128 463.9L129.9 460.8L128.4 461.2L126.5 464.2z" fill="#4756f5" stroke="#4756f5"/>
<path d="M76.4 469.1L78.3 468.1L76.8 466.7L74.9 467.8z" fill="#4333cb" stroke="#4333cb"/>
<path d="M115.9 472.4L117.8 470.7L116.4 469.7L114.5 471.3z" fill="#412ebe" stroke="#412ebe"/>
<path d="M103.9 472.5L105.8 471.4L104.3 469.3L102.4 470.4z" fill="#412cba" stroke="#412cba"/>
<path d="M143.4 436.7L145.3 430.6L143.9 433.6L141.9 439.4z" fill="#10b7be" stroke="#10b7be"/>
<path d="M91.8 470.3L93.7 469.5L92.3 467.8L90.3 468.7z" fill="#4332c9" stroke="#4332c9"/>
<path d="M131.3 460.2L133.3 456.4L131.8 457.2L129.9 460.8z" fill="#3972fc" stroke="#3972fc"/>
<path d="M79.8 469.4L81.7 468.5L80.2 467.1L78.3 468.1z" fill="#4433cc" stroke="#4433cc"/>
<path d="M119.3 471.4L121.2 469.3L119.8 468.7L117.8 470.7z" fill="#4434ce" stroke="#4434ce"/>
<path d="M67.7 469.7L69.6 468.7L68.2 467.6L66.2 468.7z" fill="#4230c3" stroke="#4230c3"/>
<path d="M107.2 473.4L109.2 472.2L107.7 470.2L105.8 471.4z" fill="#402bb5" stroke="#402bb5"/>
<path d="M146.8 427L148.7 420.1L147.2 424.1L145.3 430.6z" fill="#53c585" stroke="#53c585"/>
<path d="M95.2 471.3L97.1 470.5L95.6 468.6L93.7 469.5z" fill="#4230c4" stroke="#4230c4"/>
<path d="M134.7 455.6L136.6 451.1L135.2 452.1L133.3 456.4z" fill="#2c85f5" stroke="#2c85f5"/>
<path d="M83.1 469.8L85.1 468.9L83.6 467.5L81.7 468.5z" fill="#4434cd" stroke="#4434cd"/>
<path d="M122.7 469.5L124.6 467L123.1 466.8L121.2 469.3z" fill="#473fe2" stroke="#473fe2"/>
<path d="M71.1 469.8L73 468.8L71.5 467.6L69.6 468.7z" fill="#4331c7" stroke="#4331c7"/>
<path d="M110.6 473.8L112.5 472.6L111.1 471L109.2 472.2z" fill="#402ab3" stroke="#402ab3"/>
<path d="M150.2 416.3L152.1 408.7L150.6 412.8L148.7 420.1z" fill="#bdc14d" stroke="#bdc14d"/>
<path d="M98.6 472.4L100.5 471.5L99 469.5L97.1 470.5z" fill="#412ebe" stroke="#412ebe"/>
<path d="M138.1 449.9L140 444.8L138.6 446.2L136.6 451.1z" fill="#229be7" stroke="#229be7"/>
<path d="M86.5 470.4L88.4 469.6L87 468L85.1 468.9z" fill="#4433cc" stroke="#4433cc"/>
<path d="M126.1 466.8L128 463.9L126.5 464.2L124.6 467z" fill="#484cef" stroke="#484cef"/>
<path d="M74.5 470L76.4 469.1L74.9 467.8L73 468.8z" fill="#4332ca" stroke="#4332ca"/>
<path d="M114 473.7L115.9 472.4L114.5 471.3L112.5 472.6z" fill="#402cb8" stroke="#402cb8"/>
<path d="M101.9 473.5L103.9 472.5L102.4 470.4L100.5 471.5z" fill="#402cb8" stroke="#402cb8"/>
<path d="M141.5 442.3L143.4 436.7L141.9 439.4L140 444.8z" fill="#07aed1" stroke="#07aed1"/>
<path d="M89.9 471.1L91.8 470.3L90.3 468.7L88.4 469.6z" fill="#4332ca" stroke="#4332ca"/>
<path d="M129.4 463.5L131.3 460.2L129.9 460.8L128 463.9z" fill="#465ffb" stroke="#465ffb"/>
<path d="M77.8 470.3L79.8 469.4L78.3 468.1L76.4 469.1z" fill="#4433cc" stroke="#4433cc"/>
<path d="M117.4 473.1L119.3 471.4L117.8 470.7L115.9 472.4z" fill="#4230c4" stroke="#4230c4"/>
<path d="M105.3 474.4L107.2 473.4L105.8 471.4L103.9 472.5z" fill="#3f2ab3" stroke="#3f2ab3"/>
<path d="M144.9 433.4L146.8 427L145.3 430.6L143.4 436.7z" fill="#27bea6" stroke="#27bea6"/>
<path d="M93.3 472L95.2 471.3L93.7 469.5L91.8 470.3z" fill="#4331c6" stroke="#4331c6"/>
<path d="M132.8 459.6L134.7 455.6L133.3 456.4L131.3 460.2z" fill="#327dfb" stroke="#327dfb"/>
<path d="M81.2 470.7L83.1 469.8L81.7 468.5L79.8 469.4z" fill="#4434cd" stroke="#4434cd"/>
<path d="M120.8 471.7L122.7 469.5L121.2 469.3L119.3 471.4z" fill="#4539d6" stroke="#4539d6"/>
<path d="M69.2 470.7L71.1 469.8L69.6 468.7L67.7 469.7z" fill="#4331c7" stroke="#4331c7"/>
<path d="M108.7 475L110.6 473.8L109.2 472.2L107.2 473.4z" fill="#3f29b0" stroke="#3f29b0"/>
<path d="M148.2 423.5L150.2 416.3L148.7 420.1L146.8 427z" fill="#85c769" stroke="#85c769"/>
<path d="M96.7 473.1L98.6 472.4L97.1 470.5L95.2 471.3z" fill="#422fc0" stroke="#422fc0"/>
<path d="M136.2 454.6L138.1 449.9L136.6 451.1L134.7 455.6z" fill="#2a8ef0" stroke="#2a8ef0"/>
<path d="M84.6 471.2L86.5 470.4L85.1 468.9L83.1 469.8z" fill="#4434cd" stroke="#4434cd"/>
<path d="M124.1 469.5L126.1 466.8L124.6 467L122.7 469.5z" fill="#4745e9" stroke="#4745e9"/>
<path d="M72.5 470.9L74.5 470L73 468.8L71.1 469.8z" fill="#4332ca" stroke="#4332ca"/>
<path d="M112.1 475L114 473.7L112.5 472.6L110.6 473.8z" fill="#402ab4" stroke="#402ab4"/>
<path d="M151.6 413.4L153.5 405.5L152.1 408.7L150.2 416.3z" fill="#e5bc3e" stroke="#e5bc3e"/>
<path d="M100 474.3L101.9 473.5L100.5 471.5L98.6 472.4z" fill="#402cb8" stroke="#402cb8"/>
<path d="M139.6 447.7L141.5 442.3L140 444.8L138.1 449.9z" fill="#14a4df" stroke="#14a4df"/>
<path d="M88 471.9L89.9 471.1L88.4 469.6L86.5 470.4z" fill="#4433cb" stroke="#4433cb"/>
<path d="M127.5 466.6L129.4 463.5L128 463.9L126.1 466.8z" fill="#4754f5" stroke="#4754f5"/>
<path d="M75.9 471.2L77.8 470.3L76.4 469.1L74.5 470z" fill="#4433cc" stroke="#4433cc"/>
<path d="M115.5 474.5L117.4 473.1L115.9 472.4L114 473.7z" fill="#412ebd" stroke="#412ebd"/>
<path d="M103.4 475.4L105.3 474.4L103.9 472.5L101.9 473.5z" fill="#3f2ab2" stroke="#3f2ab2"/>
<path d="M142.9 439.4L144.9 433.4L143.4 436.7L141.5 442.3z" fill="#0fb6c0" stroke="#0fb6c0"/>
<path d="M91.4 472.8L93.3 472L91.8 470.3L89.9 471.1z" fill="#4331c8" stroke="#4331c8"/>
<path d="M130.9 463.1L132.8 459.6L131.3 460.2L129.4 463.5z" fill="#3c6efc" stroke="#3c6efc"/>
<path d="M79.3 471.6L81.2 470.7L79.8 469.4L77.8 470.3z" fill="#4434cd" stroke="#4434cd"/>
<path d="M118.8 473.6L120.8 471.7L119.3 471.4L117.4 473.1z" fill="#4434cd" stroke="#4434cd"/>
<path d="M106.8 476L108.7 475L107.2 473.4L105.3 474.4z" fill="#3f28ae" stroke="#3f28ae"/>
<path d="M146.3 430.3L148.2 423.5L146.8 427L144.9 433.4z" fill="#4dc48a" stroke="#4dc48a"/>
<path d="M94.7 473.8L96.7 473.1L95.2 471.3L93.3 472z" fill="#422fc2" stroke="#422fc2"/>
<path d="M134.3 458.8L136.2 454.6L134.7 455.6L132.8 459.6z" fill="#2e83f7" stroke="#2e83f7"/>
<path d="M82.7 472.1L84.6 471.2L83.1 469.8L81.2 470.7z" fill="#4434cd" stroke="#4434cd"/>
<path d="M122.2 471.9L124.1 469.5L122.7 469.5L120.8 471.7z" fill="#463fe1" stroke="#463fe1"/>
<path d="M70.6 471.8L72.5 470.9L71.1 469.8L69.2 470.7z" fill="#4333cb" stroke="#4333cb"/>
<path d="M110.2 476.2L112.1 475L110.6 473.8L108.7 475z" fill="#3f29b1" stroke="#3f29b1"/>
<path d="M149.7 421L151.6 413.4L150.2 416.3L148.2 423.5z" fill="#aec353" stroke="#aec353"/>
<path d="M98.1 475L100 474.3L98.6 472.4L96.7 473.1z" fill="#412dba" stroke="#412dba"/>
<path d="M137.6 452.7L139.6 447.7L138.1 449.9L136.2 454.6z" fill="#2598ea" stroke="#2598ea"/>
<path d="M86.1 472.7L88 471.9L86.5 470.4L84.6 471.2z" fill="#4434cc" stroke="#4434cc"/>
<path d="M125.6 469.4L127.5 466.6L126.1 466.8L124.1 469.5z" fill="#474bee" stroke="#474bee"/>
<path d="M74 472L75.9 471.2L74.5 470L72.5 470.9z" fill="#4434cd" stroke="#4434cd"/>
<path d="M113.5 475.8L115.5 474.5L114 473.7L112.1 475z" fill="#412cb9" stroke="#412cb9"/>
<path d="M153.1 411.3L155 402.9L153.5 405.5L151.6 413.4z" fill="#fcc835" stroke="#fcc835"/>
<path d="M101.5 476.2L103.4 475.4L101.9 473.5L100 474.3z" fill="#3f2ab2" stroke="#3f2ab2"/>
<path d="M141 445L142.9 439.4L141.5 442.3L139.6 447.7z" fill="#09add2" stroke="#09add2"/>
<path d="M89.4 473.5L91.4 472.8L89.9 471.1L88 471.9z" fill="#4332ca" stroke="#4332ca"/>
<path d="M129 466.3L130.9 463.1L129.4 463.5L127.5 466.6z" fill="#465dfa" stroke="#465dfa"/>
<path d="M77.4 472.4L79.3 471.6L77.8 470.3L75.9 471.2z" fill="#4435ce" stroke="#4435ce"/>
<path d="M116.9 475.1L118.8 473.6L117.4 473.1L115.5 474.5z" fill="#4331c6" stroke="#4331c6"/>
<path d="M104.9 476.9L106.8 476L105.3 474.4L103.4 475.4z" fill="#3f28ad" stroke="#3f28ad"/>
<path d="M144.4 436.6L146.3 430.3L144.9 433.4L142.9 439.4z" fill="#24bda9" stroke="#24bda9"/>
<path d="M92.8 474.4L94.7 473.8L93.3 472L91.4 472.8z" fill="#4330c5" stroke="#4330c5"/>
<path d="M132.4 462.4L134.3 458.8L132.8 459.6L130.9 463.1z" fill="#337bfc" stroke="#337bfc"/>
<path d="M80.8 472.8L82.7 472.1L81.2 470.7L79.3 471.6z" fill="#4435cf" stroke="#4435cf"/>
<path d="M120.3 473.9L122.2 471.9L120.8 471.7L118.8 473.6z" fill="#4539d7" stroke="#4539d7"/>
<path d="M108.2 477.2L110.2 476.2L108.7 475L106.8 476z" fill="#3f29af" stroke="#3f29af"/>
<path d="M147.8 428.1L149.7 421L148.2 423.5L146.3 430.3z" fill="#75c672" stroke="#75c672"/>
<path d="M96.2 475.6L98.1 475L96.7 473.1L94.7 473.8z" fill="#412ebe" stroke="#412ebe"/>
<path d="M135.7 457.2L137.6 452.7L136.2 454.6L134.3 458.8z" fill="#2a8bf2" stroke="#2a8bf2"/>
<path d="M84.1 473.4L86.1 472.7L84.6 471.2L82.7 472.1z" fill="#4434ce" stroke="#4434ce"/>
<path d="M123.7 471.9L125.6 469.4L124.1 469.5L122.2 471.9z" fill="#4744e8" stroke="#4744e8"/>
<path d="M72.1 472.8L74 472L72.5 470.9L70.6 471.8z" fill="#4434ce" stroke="#4434ce"/>
<path d="M111.6 477.1L113.5 475.8L112.1 475L110.2 476.2z" fill="#402bb6" stroke="#402bb6"/>
<path d="M151.2 419.1L153.1 411.3L151.6 413.4L149.7 421z" fill="#cebf46" stroke="#cebf46"/>
<path d="M99.6 476.8L101.5 476.2L100 474.3L98.1 475z" fill="#402bb5" stroke="#402bb5"/>
<path d="M139.1 450.3L141 445L139.6 447.7L137.6 452.7z" fill="#16a3e0" stroke="#16a3e0"/>
<path d="M87.5 474.2L89.4 473.5L88 471.9L86.1 472.7z" fill="#4433cc" stroke="#4433cc"/>
<path d="M127.1 469.3L129 466.3L127.5 466.6L125.6 469.4z" fill="#4752f4" stroke="#4752f4"/>
<path d="M75.5 473.1L77.4 472.4L75.9 471.2L74 472z" fill="#4435cf" stroke="#4435cf"/>
<path d="M115 476.4L116.9 475.1L115.5 474.5L113.5 475.8z" fill="#422fc2" stroke="#422fc2"/>
<path d="M103 477.7L104.9 476.9L103.4 475.4L101.5 476.2z" fill="#3f29af" stroke="#3f29af"/>
<path d="M142.5 442.5L144.4 436.6L142.9 439.4L141 445z" fill="#0db5c2" stroke="#0db5c2"/>
<path d="M90.9 475.1L92.8 474.4L91.4 472.8L89.4 473.5z" fill="#4331c8" stroke="#4331c8"/>
<path d="M130.4 465.8L132.4 462.4L130.9 463.1L129 466.3z" fill="#3e6bfc" stroke="#3e6bfc"/>
<path d="M78.8 473.6L80.8 472.8L79.3 471.6L77.4 472.4z" fill="#4436d0" stroke="#4436d0"/>
<path d="M118.4 475.4L120.3 473.9L118.8 473.6L116.9 475.1z" fill="#4436d0" stroke="#4436d0"/>
<path d="M106.3 478.2L108.2 477.2L106.8 476L104.9 476.9z" fill="#3f28ae" stroke="#3f28ae"/>
<path d="M145.9 434.6L147.8 428.1L146.3 430.3L144.4 436.6z" fill="#41c393" stroke="#41c393"/>
<path d="M94.3 476.1L96.2 475.6L94.7 473.8L92.8 474.4z" fill="#422fc2" stroke="#422fc2"/>
<path d="M133.8 461L135.7 457.2L134.3 458.8L132.4 462.4z" fill="#2e82f7" stroke="#2e82f7"/>
<path d="M82.2 474.1L84.1 473.4L82.7 472.1L80.8 472.8z" fill="#4435d0" stroke="#4435d0"/>
<path d="M121.8 474L123.7 471.9L122.2 471.9L120.3 473.9z" fill="#473fe2" stroke="#473fe2"/>
<path d="M109.7 478.2L111.6 477.1L110.2 476.2L108.2 477.2z" fill="#402ab3" stroke="#402ab3"/>
<path d="M149.2 426.4L151.2 419.1L149.7 421L147.8 428.1z" fill="#96c560" stroke="#96c560"/>
<path d="M97.7 477.3L99.6 476.8L98.1 475L96.2 475.6z" fill="#412cba" stroke="#412cba"/>
<path d="M137.2 455L139.1 450.3L137.6 452.7L135.7 457.2z" fill="#2697ea" stroke="#2697ea"/>
<path d="M85.6 474.9L87.5 474.2L86.1 472.7L84.1 473.4z" fill="#4434ce" stroke="#4434ce"/>
<path d="M125.1 471.9L127.1 469.3L125.6 469.4L123.7 471.9z" fill="#474aee" stroke="#474aee"/>
<path d="M73.5 473.8L75.5 473.1L74 472L72.1 472.8z" fill="#4436d1" stroke="#4436d1"/>
<path d="M113.1 477.7L115 476.4L113.5 475.8L111.6 477.1z" fill="#412ebe" stroke="#412ebe"/>
<path d="M101 478.3L103 477.7L101.5 476.2L99.6 476.8z" fill="#3f2ab2" stroke="#3f2ab2"/>
<path d="M140.6 448.1L142.5 442.5L141 445L139.1 450.3z" fill="#0aacd4" stroke="#0aacd4"/>
<path d="M89 475.7L90.9 475.1L89.4 473.5L87.5 474.2z" fill="#4333cb" stroke="#4333cb"/>
<path d="M128.5 469L130.4 465.8L129 466.3L127.1 469.3z" fill="#465bf9" stroke="#465bf9"/>
<path d="M76.9 474.3L78.8 473.6L77.4 472.4L75.5 473.1z" fill="#4437d2" stroke="#4437d2"/>
<path d="M116.5 476.9L118.4 475.4L116.9 475.1L115 476.4z" fill="#4433cc" stroke="#4433cc"/>
<path d="M104.4 479L106.3 478.2L104.9 476.9L103 477.7z" fill="#3f29af" stroke="#3f29af"/>
<path d="M143.9 440.8L145.9 434.6L144.4 436.6L142.5 442.5z" fill="#1cbbb1" stroke="#1cbbb1"/>
<path d="M92.4 476.7L94.3 476.1L92.8 474.4L90.9 475.1z" fill="#4331c6" stroke="#4331c6"/>
<path d="M131.9 464.6L133.8 461L132.4 462.4L130.4 465.8z" fill="#337bfc" stroke="#337bfc"/>
<path d="M80.3 474.8L82.2 474.1L80.8 472.8L78.8 473.6z" fill="#4436d2" stroke="#4436d2"/>
<path d="M119.8 475.7L121.8 474L120.3 473.9L118.4 475.4z" fill="#463bda" stroke="#463bda"/>
<path d="M107.8 479.2L109.7 478.2L108.2 477.2L106.3 478.2z" fill="#3f2ab2" stroke="#3f2ab2"/>
<path d="M147.3 433.3L149.2 426.4L147.8 428.1L145.9 434.6z" fill="#5dc680" stroke="#5dc680"/>
<path d="M95.7 477.8L97.7 477.3L96.2 475.6L94.3 476.1z" fill="#412ebe" stroke="#412ebe"/>
<path d="M135.3 459.1L137.2 455L135.7 457.2L133.8 461z" fill="#2a8cf1" stroke="#2a8cf1"/>
<path d="M83.7 475.5L85.6 474.9L84.1 473.4L82.2 474.1z" fill="#4436d0" stroke="#4436d0"/>
<path d="M123.2 474.1L125.1 471.9L123.7 471.9L121.8 474z" fill="#4745e8" stroke="#4745e8"/>
<path d="M111.2 478.9L113.1 477.7L111.6 477.1L109.7 478.2z" fill="#412dbb" stroke="#412dbb"/>
<path d="M99.1 478.8L101 478.3L99.6 476.8L97.7 477.3z" fill="#402cb8" stroke="#402cb8"/>
<path d="M138.7 453.1L140.6 448.1L139.1 450.3L137.2 455z" fill="#17a2e1" stroke="#17a2e1"/>
<path d="M87.1 476.3L89 475.7L87.5 474.2L85.6 474.9z" fill="#4434ce" stroke="#4434ce"/>
<path d="M126.6 471.8L128.5 469L127.1 469.3L125.1 471.9z" fill="#4751f3" stroke="#4751f3"/>
<path d="M75 474.9L76.9 474.3L75.5 473.1L73.5 473.8z" fill="#4538d4" stroke="#4538d4"/>
<path d="M114.5 478.3L116.5 476.9L115 476.4L113.1 477.7z" fill="#4331c7" stroke="#4331c7"/>
<path d="M102.5 479.5L104.4 479L103 477.7L101 478.3z" fill="#402ab3" stroke="#402ab3"/>
<path d="M142 446.6L143.9 440.8L142.5 442.5L140.6 448.1z" fill="#0ab2c7" stroke="#0ab2c7"/>
<path d="M90.4 477.3L92.4 476.7L90.9 475.1L89 475.7z" fill="#4332c9" stroke="#4332c9"/>
<path d="M130 467.9L131.9 464.6L130.4 465.8L128.5 469z" fill="#3e6afc" stroke="#3e6afc"/>
<path d="M78.4 475.4L80.3 474.8L78.8 473.6L76.9 474.3z" fill="#4538d4" stroke="#4538d4"/>
<path d="M117.9 477.2L119.8 475.7L118.4 475.4L116.5 476.9z" fill="#4538d5" stroke="#4538d5"/>
<path d="M105.9 480L107.8 479.2L106.3 478.2L104.4 479z" fill="#402ab3" stroke="#402ab3"/>
<path d="M145.4 439.7L147.3 433.3L145.9 434.6L143.9 440.8z" fill="#2dc0a1" stroke="#2dc0a1"/>
<path d="M93.8 478.3L95.7 477.8L94.3 476.1L92.4 476.7z" fill="#4230c3" stroke="#4230c3"/>
<path d="M133.4 462.9L135.3 459.1L133.8 461L131.9 464.6z" fill="#2e83f7" stroke="#2e83f7"/>
<path d="M81.8 476.1L83.7 475.5L82.2 474.1L80.3 474.8z" fill="#4537d3" stroke="#4537d3"/>
<path d="M121.3 475.9L123.2 474.1L121.8 474L119.8 475.7z" fill="#4741e5" stroke="#4741e5"/>
<path d="M109.2 480L111.2 478.9L109.7 478.2L107.8 479.2z" fill="#412cb9" stroke="#412cb9"/>
<path d="M97.2 479.2L99.1 478.8L97.7 477.3L95.7 477.8z" fill="#412ebd" stroke="#412ebd"/>
<path d="M136.7 457.3L138.7 453.1L137.2 455L135.3 459.1z" fill="#2698ea" stroke="#2698ea"/>
<path d="M85.1 476.9L87.1 476.3L85.6 474.9L83.7 475.5z" fill="#4436d1" stroke="#4436d1"/>
<path d="M124.7 474.1L126.6 471.8L125.1 471.9L123.2 474.1z" fill="#474aee" stroke="#474aee"/>
<path d="M112.6 479.5L114.5 478.3L113.1 477.7L111.2 478.9z" fill="#4230c4" stroke="#4230c4"/>
<path d="M100.6 480L102.5 479.5L101 478.3L99.1 478.8z" fill="#402cb8" stroke="#402cb8"/>
<path d="M140.1 451.8L142 446.6L140.6 448.1L138.7 453.1z" fill="#0daad7" stroke="#0daad7"/>
<path d="M88.5 477.8L90.4 477.3L89 475.7L87.1 476.3z" fill="#4434cd" stroke="#4434cd"/>
<path d="M128.1 470.8L130 467.9L128.5 469L126.6 471.8z" fill="#465cf9" stroke="#465cf9"/>
<path d="M76.5 476L78.4 475.4L76.9 474.3L75 474.9z" fill="#4539d7" stroke="#4539d7"/>
<path d="M116 478.7L117.9 477.2L116.5 476.9L114.5 478.3z" fill="#4436d1" stroke="#4436d1"/>
<path d="M104 480.5L105.9 480L104.4 479L102.5 479.5z" fill="#402bb7" stroke="#402bb7"/>
<path d="M143.5 445.7L145.4 439.7L143.9 440.8L142 446.6z" fill="#11b7bc" stroke="#11b7bc"/>
<path d="M91.9 478.8L93.8 478.3L92.4 476.7L90.4 477.3z" fill="#4331c8" stroke="#4331c8"/>
<path d="M131.4 466.4L133.4 462.9L131.9 464.6L130 467.9z" fill="#327cfb" stroke="#327cfb"/>
<path d="M79.8 476.6L81.8 476.1L80.3 474.8L78.4 475.4z" fill="#4539d6" stroke="#4539d6"/>
<path d="M119.4 477.5L121.3 475.9L119.8 475.7L117.9 477.2z" fill="#463edf" stroke="#463edf"/>
<path d="M107.3 480.8L109.2 480L107.8 479.2L105.9 480z" fill="#412cba" stroke="#412cba"/>
<path d="M95.3 479.7L97.2 479.2L95.7 477.8L93.8 478.3z" fill="#422fc2" stroke="#422fc2"/>
<path d="M134.8 461.3L136.7 457.3L135.3 459.1L133.4 462.9z" fill="#2a8df1" stroke="#2a8df1"/>
<path d="M83.2 477.4L85.1 476.9L83.7 475.5L81.8 476.1z" fill="#4538d4" stroke="#4538d4"/>
<path d="M122.8 475.9L124.7 474.1L123.2 474.1L121.3 475.9z" fill="#4746ea" stroke="#4746ea"/>
<path d="M110.7 480.6L112.6 479.5L111.2 478.9L109.2 480z" fill="#422fc2" stroke="#422fc2"/>
<path d="M98.7 480.5L100.6 480L99.1 478.8L97.2 479.2z" fill="#412ebe" stroke="#412ebe"/>
<path d="M138.2 456.2L140.1 451.8L138.7 453.1L136.7 457.3z" fill="#1aa1e2" stroke="#1aa1e2"/>
<path d="M86.6 478.3L88.5 477.8L87.1 476.3L85.1 476.9z" fill="#4436d1" stroke="#4436d1"/>
<path d="M126.1 473.3L128.1 470.8L126.6 471.8L124.7 474.1z" fill="#4753f4" stroke="#4753f4"/>
<path d="M114.1 480L116 478.7L114.5 478.3L112.6 479.5z" fill="#4434cd" stroke="#4434cd"/>
<path d="M102 481L104 480.5L102.5 479.5L100.6 480z" fill="#412dbc" stroke="#412dbc"/>
<path d="M141.6 451.1L143.5 445.7L142 446.6L140.1 451.8z" fill="#06afcf" stroke="#06afcf"/>
<path d="M90 479.2L91.9 478.8L90.4 477.3L88.5 477.8z" fill="#4433cc" stroke="#4433cc"/>
<path d="M129.5 469.6L131.4 466.4L130 467.9L128.1 470.8z" fill="#3c6efc" stroke="#3c6efc"/>
<path d="M77.9 477.1L79.8 476.6L78.4 475.4L76.5 476z" fill="#453bda" stroke="#453bda"/>
<path d="M117.5 479L119.4 477.5L117.9 477.2L116 478.7z" fill="#463bda" stroke="#463bda"/>
<path d="M105.4 481.4L107.3 480.8L105.9 480L104 480.5z" fill="#412dbc" stroke="#412dbc"/>
<path d="M93.4 480.2L95.3 479.7L93.8 478.3L91.9 478.8z" fill="#4331c7" stroke="#4331c7"/>
<path d="M132.9 465.1L134.8 461.3L133.4 462.9L131.4 466.4z" fill="#2d84f6" stroke="#2d84f6"/>
<path d="M81.3 477.9L83.2 477.4L81.8 476.1L79.8 476.6z" fill="#453ad8" stroke="#453ad8"/>
<path d="M120.8 477.6L122.8 475.9L121.3 475.9L119.4 477.5z" fill="#4743e7" stroke="#4743e7"/>
<path d="M108.8 481.5L110.7 480.6L109.2 480L107.3 480.8z" fill="#422fc1" stroke="#422fc1"/>
<path d="M96.7 480.9L98.7 480.5L97.2 479.2L95.3 479.7z" fill="#4230c3" stroke="#4230c3"/>
<path d="M136.3 460.4L138.2 456.2L136.7 457.3L134.8 461.3z" fill="#2797eb" stroke="#2797eb"/>
<path d="M84.7 478.7L86.6 478.3L85.1 476.9L83.2 477.4z" fill="#4538d5" stroke="#4538d5"/>
<path d="M124.2 475.3L126.1 473.3L124.7 474.1L122.8 475.9z" fill="#484df0" stroke="#484df0"/>
<path d="M112.2 481.2L114.1 480L112.6 479.5L110.7 480.6z" fill="#4433cb" stroke="#4433cb"/>
<path d="M100.1 481.5L102 481L100.6 480L98.7 480.5z" fill="#422fc1" stroke="#422fc1"/>
<path d="M139.7 455.6L141.6 451.1L140.1 451.8L138.2 456.2z" fill="#11a7db" stroke="#11a7db"/>
<path d="M88.1 479.7L90 479.2L88.5 477.8L86.6 478.3z" fill="#4436d1" stroke="#4436d1"/>
<path d="M127.6 472.2L129.5 469.6L128.1 470.8L126.1 473.3z" fill="#4560fb" stroke="#4560fb"/>
<path d="M115.5 480.5L117.5 479L116 478.7L114.1 480z" fill="#4539d6" stroke="#4539d6"/>
<path d="M103.5 481.9L105.4 481.4L104 480.5L102 481z" fill="#422fc1" stroke="#422fc1"/>
<path d="M91.4 480.6L93.4 480.2L91.9 478.8L90 479.2z" fill="#4434cc" stroke="#4434cc"/>
<path d="M131 468.4L132.9 465.1L131.4 466.4L129.5 469.6z" fill="#317dfb" stroke="#317dfb"/>
<path d="M79.4 478.2L81.3 477.9L79.8 476.6L77.9 477.1z" fill="#463cdc" stroke="#463cdc"/>
<path d="M118.9 479.2L120.8 477.6L119.4 477.5L117.5 479z" fill="#4741e5" stroke="#4741e5"/>
<path d="M106.9 482.2L108.8 481.5L107.3 480.8L105.4 481.4z" fill="#4230c4" stroke="#4230c4"/>
<path d="M94.8 481.4L96.7 480.9L95.3 479.7L93.4 480.2z" fill="#4332c9" stroke="#4332c9"/>
<path d="M134.4 464.3L136.3 460.4L134.8 461.3L132.9 465.1z" fill="#2a8cf1" stroke="#2a8cf1"/>
<path d="M82.8 479.1L84.7 478.7L83.2 477.4L81.3 477.9z" fill="#453ad9" stroke="#453ad9"/>
<path d="M122.3 477.1L124.2 475.3L122.8 475.9L120.8 477.6z" fill="#474aed" stroke="#474aed"/>
<path d="M110.3 482.1L112.2 481.2L110.7 480.6L108.8 481.5z" fill="#4332ca" stroke="#4332ca"/>
<path d="M98.2 482L100.1 481.5L98.7 480.5L96.7 480.9z" fill="#4331c6" stroke="#4331c6"/>
<path d="M137.7 460L139.7 455.6L138.2 456.2L136.3 460.4z" fill="#1e9de5" stroke="#1e9de5"/>
<path d="M86.1 480L88.1 479.7L86.6 478.3L84.7 478.7z" fill="#4538d5" stroke="#4538d5"/>
<path d="M125.7 474.3L127.6 472.2L126.1 473.3L124.2 475.3z" fill="#4759f8" stroke="#4759f8"/>
<path d="M113.6 481.7L115.5 480.5L114.1 480L112.2 481.2z" fill="#4537d3" stroke="#4537d3"/>
<path d="M101.6 482.5L103.5 481.9L102 481L100.1 481.5z" fill="#4331c6" stroke="#4331c6"/>
<path d="M89.5 481L91.4 480.6L90 479.2L88.1 479.7z" fill="#4436d1" stroke="#4436d1"/>
<path d="M129.1 471.2L131 468.4L129.5 469.6L127.6 472.2z" fill="#3874fc" stroke="#3874fc"/>
<path d="M117 480.7L118.9 479.2L117.5 479L115.5 480.5z" fill="#463ee0" stroke="#463ee0"/>
<path d="M105 482.7L106.9 482.2L105.4 481.4L103.5 481.9z" fill="#4331c8" stroke="#4331c8"/>
<path d="M92.9 481.8L94.8 481.4L93.4 480.2L91.4 480.6z" fill="#4434ce" stroke="#4434ce"/>
<path d="M132.4 467.8L134.4 464.3L132.9 465.1L131 468.4z" fill="#2d84f6" stroke="#2d84f6"/>
<path d="M80.8 479.4L82.8 479.1L81.3 477.9L79.4 478.2z" fill="#463dde" stroke="#463dde"/>
<path d="M120.4 478.8L122.3 477.1L120.8 477.6L118.9 479.2z" fill="#4747ea" stroke="#4747ea"/>
<path d="M108.3 482.8L110.3 482.1L108.8 481.5L106.9 482.2z" fill="#4433cc" stroke="#4433cc"/>
<path d="M96.3 482.5L98.2 482L96.7 480.9L94.8 481.4z" fill="#4433cb" stroke="#4433cb"/>
<path d="M135.8 464L137.7 460L136.3 460.4L134.4 464.3z" fill="#2893ed" stroke="#2893ed"/>
<path d="M84.2 480.3L86.1 480L84.7 478.7L82.8 479.1z" fill="#463bda" stroke="#463bda"/>
<path d="M123.8 476.2L125.7 474.3L124.2 475.3L122.3 477.1z" fill="#4754f4" stroke="#4754f4"/>
<path d="M111.7 482.7L113.6 481.7L112.2 481.2L110.3 482.1z" fill="#4437d2" stroke="#4437d2"/>
<path d="M99.7 483L101.6 482.5L100.1 481.5L98.2 482z" fill="#4433cb" stroke="#4433cb"/>
<path d="M87.6 481.3L89.5 481L88.1 479.7L86.1 480z" fill="#4539d6" stroke="#4539d6"/>
<path d="M127.1 473.4L129.1 471.2L127.6 472.2L125.7 474.3z" fill="#4069fc" stroke="#4069fc"/>
<path d="M115.1 482L117 480.7L115.5 480.5L113.6 481.7z" fill="#463cdc" stroke="#463cdc"/>
<path d="M103 483.3L105 482.7L103.5 481.9L101.6 482.5z" fill="#4433cc" stroke="#4433cc"/>
<path d="M91 482.2L92.9 481.8L91.4 480.6L89.5 481z" fill="#4537d3" stroke="#4537d3"/>
<path d="M130.5 470.7L132.4 467.8L131 468.4L129.1 471.2z" fill="#317efa" stroke="#317efa"/>
<path d="M118.5 480.4L120.4 478.8L118.9 479.2L117 480.7z" fill="#4744e8" stroke="#4744e8"/>
<path d="M106.4 483.4L108.3 482.8L106.9 482.2L105 482.7z" fill="#4435cf" stroke="#4435cf"/>
<path d="M94.4 482.9L96.3 482.5L94.8 481.4L92.9 481.8z" fill="#4436d0" stroke="#4436d0"/>
<path d="M133.9 467.6L135.8 464L134.4 464.3L132.4 467.8z" fill="#2b8af3" stroke="#2b8af3"/>
<path d="M82.3 480.6L84.2 480.3L82.8 479.1L80.8 479.4z" fill="#463ee0" stroke="#463ee0"/>
<path d="M121.9 478.1L123.8 476.2L122.3 477.1L120.4 478.8z" fill="#474ff2" stroke="#474ff2"/>
<path d="M109.8 483.4L111.7 482.7L110.3 482.1L108.3 482.8z" fill="#4537d3" stroke="#4537d3"/>
<path d="M97.7 483.4L99.7 483L98.2 482L96.3 482.5z" fill="#4435cf" stroke="#4435cf"/>
<path d="M85.7 481.6L87.6 481.3L86.1 480L84.2 480.3z" fill="#463cdc" stroke="#463cdc"/>
<path d="M125.2 475.5L127.1 473.4L125.7 474.3L123.8 476.2z" fill="#4660fb" stroke="#4660fb"/>
<path d="M113.2 483.1L115.1 482L113.6 481.7L111.7 482.7z" fill="#463bdb" stroke="#463bdb"/>
<path d="M101.1 483.8L103 483.3L101.6 482.5L99.7 483z" fill="#4435d0" stroke="#4435d0"/>
<path d="M89.1 482.5L91 482.2L89.5 481L87.6 481.3z" fill="#453ad8" stroke="#453ad8"/>
<path d="M128.6 473L130.5 470.7L129.1 471.2L127.1 473.4z" fill="#3479fd" stroke="#3479fd"/>
<path d="M116.6 481.8L118.5 480.4L117 480.7L115.1 482z" fill="#4742e6" stroke="#4742e6"/>
<path d="M104.5 484L106.4 483.4L105 482.7L103 483.3z" fill="#4437d2" stroke="#4437d2"/>
<path d="M92.4 483.3L94.4 482.9L92.9 481.8L91 482.2z" fill="#4538d5" stroke="#4538d5"/>
<path d="M132 470.6L133.9 467.6L132.4 467.8L130.5 470.7z" fill="#2e83f7" stroke="#2e83f7"/>
<path d="M119.9 479.8L121.9 478.1L120.4 478.8L118.5 480.4z" fill="#484cef" stroke="#484cef"/>
<path d="M107.9 484.1L109.8 483.4L108.3 482.8L106.4 483.4z" fill="#4539d6" stroke="#4539d6"/>
<path d="M95.8 483.9L97.7 483.4L96.3 482.5L94.4 482.9z" fill="#4537d4" stroke="#4537d4"/>
<path d="M83.8 481.8L85.7 481.6L84.2 480.3L82.3 480.6z" fill="#463fe2" stroke="#463fe2"/>
<path d="M123.3 477.5L125.2 475.5L123.8 476.2L121.9 478.1z" fill="#465bf8" stroke="#465bf8"/>
<path d="M111.3 483.8L113.2 483.1L111.7 482.7L109.8 483.4z" fill="#463cdb" stroke="#463cdb"/>
<path d="M99.2 484.3L101.1 483.8L99.7 483L97.7 483.4z" fill="#4537d4" stroke="#4537d4"/>
<path d="M87.2 482.7L89.1 482.5L87.6 481.3L85.7 481.6z" fill="#463dde" stroke="#463dde"/>
<path d="M126.7 475.2L128.6 473L127.1 473.4L125.2 475.5z" fill="#3b6ffc" stroke="#3b6ffc"/>
<path d="M114.6 483L116.6 481.8L115.1 482L113.2 483.1z" fill="#4741e5" stroke="#4741e5"/>
<path d="M102.6 484.6L104.5 484L103 483.3L101.1 483.8z" fill="#4538d5" stroke="#4538d5"/>
<path d="M90.5 483.6L92.4 483.3L91 482.2L89.1 482.5z" fill="#463bda" stroke="#463bda"/>
<path d="M130.1 473L132 470.6L130.5 470.7L128.6 473z" fill="#317efa" stroke="#317efa"/>
<path d="M118 481.3L119.9 479.8L118.5 480.4L116.6 481.8z" fill="#4749ed" stroke="#4749ed"/>
<path d="M106 484.7L107.9 484.1L106.4 483.4L104.5 484z" fill="#453ad8" stroke="#453ad8"/>
<path d="M93.9 484.3L95.8 483.9L94.4 482.9L92.4 483.3z" fill="#453ad8" stroke="#453ad8"/>
<path d="M121.4 479.3L123.3 477.5L121.9 478.1L119.9 479.8z" fill="#4756f6" stroke="#4756f6"/>
<path d="M109.3 484.5L111.3 483.8L109.8 483.4L107.9 484.1z" fill="#463ddd" stroke="#463ddd"/>
<path d="M97.3 484.8L99.2 484.3L97.7 483.4L95.8 483.9z" fill="#453ad8" stroke="#453ad8"/>
<path d="M85.2 482.9L87.2 482.7L85.7 481.6L83.8 481.8z" fill="#4740e4" stroke="#4740e4"/>
<path d="M124.8 477.3L126.7 475.2L125.2 475.5L123.3 477.5z" fill="#4167fc" stroke="#4167fc"/>
<path d="M112.7 483.8L114.6 483L113.2 483.1L111.3 483.8z" fill="#4741e5" stroke="#4741e5"/>
<path d="M100.7 485.2L102.6 484.6L101.1 483.8L99.2 484.3z" fill="#453ad9" stroke="#453ad9"/>
<path d="M88.6 483.8L90.5 483.6L89.1 482.5L87.2 482.7z" fill="#463ee0" stroke="#463ee0"/>
<path d="M128.2 475.2L130.1 473L128.6 473L126.7 475.2z" fill="#337bfc" stroke="#337bfc"/>
<path d="M116.1 482.6L118 481.3L116.6 481.8L114.6 483z" fill="#4748ec" stroke="#4748ec"/>
<path d="M104 485.3L106 484.7L104.5 484L102.6 484.6z" fill="#463cdb" stroke="#463cdb"/>
<path d="M92 484.6L93.9 484.3L92.4 483.3L90.5 483.6z" fill="#463ddd" stroke="#463ddd"/>
<path d="M119.5 480.9L121.4 479.3L119.9 479.8L118 481.3z" fill="#4752f3" stroke="#4752f3"/>
<path d="M107.4 485.2L109.3 484.5L107.9 484.1L106 484.7z" fill="#463ee0" stroke="#463ee0"/>
<path d="M95.4 485.3L97.3 484.8L95.8 483.9L93.9 484.3z" fill="#463cdc" stroke="#463cdc"/>
<path d="M122.9 479.2L124.8 477.3L123.3 477.5L121.4 479.3z" fill="#465ffb" stroke="#465ffb"/>
<path d="M110.8 484.5L112.7 483.8L111.3 483.8L109.3 484.5z" fill="#4742e6" stroke="#4742e6"/>
<path d="M98.7 485.7L100.7 485.2L99.2 484.3L97.3 484.8z" fill="#463cdd" stroke="#463cdd"/>
<path d="M86.7 484L88.6 483.8L87.2 482.7L85.2 482.9z" fill="#4742e5" stroke="#4742e5"/>
<path d="M126.2 477.4L128.2 475.2L126.7 475.2L124.8 477.3z" fill="#3972fc" stroke="#3972fc"/>
<path d="M114.2 483.5L116.1 482.6L114.6 483L112.7 483.8z" fill="#4748eb" stroke="#4748eb"/>
<path d="M102.1 485.9L104 485.3L102.6 484.6L100.7 485.2z" fill="#463ddf" stroke="#463ddf"/>
<path d="M90.1 484.9L92 484.6L90.5 483.6L88.6 483.8z" fill="#4740e3" stroke="#4740e3"/>
<path d="M117.6 482.3L119.5 480.9L118 481.3L116.1 482.6z" fill="#4750f2" stroke="#4750f2"/>
<path d="M105.5 485.8L107.4 485.2L106 484.7L104 485.3z" fill="#4740e3" stroke="#4740e3"/>
<path d="M93.5 485.6L95.4 485.3L93.9 484.3L92 484.6z" fill="#463fe1" stroke="#463fe1"/>
<path d="M120.9 480.8L122.9 479.2L121.4 479.3L119.5 480.9z" fill="#465bf9" stroke="#465bf9"/>
<path d="M108.9 485.3L110.8 484.5L109.3 484.5L107.4 485.2z" fill="#4743e7" stroke="#4743e7"/>
<path d="M96.8 486.1L98.7 485.7L97.3 484.8L95.4 485.3z" fill="#463fe1" stroke="#463fe1"/>
<path d="M124.3 479.3L126.2 477.4L124.8 477.3L122.9 479.2z" fill="#3e6afc" stroke="#3e6afc"/>
<path d="M112.3 484.4L114.2 483.5L112.7 483.8L110.8 484.5z" fill="#4748ec" stroke="#4748ec"/>
<path d="M100.2 486.4L102.1 485.9L100.7 485.2L98.7 485.7z" fill="#473fe2" stroke="#473fe2"/>
<path d="M88.2 485.1L90.1 484.9L88.6 483.8L86.7 484z" fill="#4743e7" stroke="#4743e7"/>
<path d="M115.6 483.3L117.6 482.3L116.1 482.6L114.2 483.5z" fill="#484ff1" stroke="#484ff1"/>
<path d="M103.6 486.4L105.5 485.8L104 485.3L102.1 485.9z" fill="#4741e5" stroke="#4741e5"/>
<path d="M91.5 485.9L93.5 485.6L92 484.6L90.1 484.9z" fill="#4742e5" stroke="#4742e5"/>
<path d="M119 482.2L120.9 480.8L119.5 480.9L117.6 482.3z" fill="#4758f7" stroke="#4758f7"/>
<path d="M107 486L108.9 485.3L107.4 485.2L105.5 485.8z" fill="#4744e8" stroke="#4744e8"/>
<path d="M94.9 486.5L96.8 486.1L95.4 485.3L93.5 485.6z" fill="#4741e5" stroke="#4741e5"/>
<path d="M122.4 481.1L124.3 479.3L122.9 479.2L120.9 480.8z" fill="#4364fc" stroke="#4364fc"/>
<path d="M110.3 485.2L112.3 484.4L110.8 484.5L108.9 485.3z" fill="#4749ec" stroke="#4749ec"/>
<path d="M98.3 486.9L100.2 486.4L98.7 485.7L96.8 486.1z" fill="#4741e5" stroke="#4741e5"/>
<path d="M113.7 484.2L115.6 483.3L114.2 483.5L112.3 484.4z" fill="#484ff1" stroke="#484ff1"/>
<path d="M101.7 487L103.6 486.4L102.1 485.9L100.2 486.4z" fill="#4743e6" stroke="#4743e6"/>
<path d="M89.6 486.1L91.5 485.9L90.1 484.9L88.2 485.1z" fill="#4744e8" stroke="#4744e8"/>
<path d="M117.1 483.3L119 482.2L117.6 482.3L115.6 483.3z" fill="#4757f6" stroke="#4757f6"/>
<path d="M105 486.7L107 486L105.5 485.8L103.6 486.4z" fill="#4745e9" stroke="#4745e9"/>
<path d="M93 486.8L94.9 486.5L93.5 485.6L91.5 485.9z" fill="#4743e7" stroke="#4743e7"/>
<path d="M120.5 482.5L122.4 481.1L120.9 480.8L119 482.2z" fill="#465ffb" stroke="#465ffb"/>
<path d="M108.4 486L110.3 485.2L108.9 485.3L107 486z" fill="#474aed" stroke="#474aed"/>
<path d="M96.4 487.3L98.3 486.9L96.8 486.1L94.9 486.5z" fill="#4743e7" stroke="#4743e7"/>
<path d="M111.8 485.1L113.7 484.2L112.3 484.4L110.3 485.2z" fill="#474ff2" stroke="#474ff2"/>
<path d="M99.8 487.5L101.7 487L100.2 486.4L98.3 486.9z" fill="#4744e8" stroke="#4744e8"/>
<path d="M115.2 484.2L117.1 483.3L115.6 483.3L113.7 484.2z" fill="#4757f6" stroke="#4757f6"/>
<path d="M103.1 487.3L105 486.7L103.6 486.4L101.7 487z" fill="#4747ea" stroke="#4747ea"/>
<path d="M91.1 487.1L93 486.8L91.5 485.9L89.6 486.1z" fill="#4746ea" stroke="#4746ea"/>
<path d="M118.6 483.5L120.5 482.5L119 482.2L117.1 483.3z" fill="#465efa" stroke="#465efa"/>
<path d="M106.5 486.7L108.4 486L107 486L105 486.7z" fill="#474aee" stroke="#474aee"/>
<path d="M94.5 487.7L96.4 487.3L94.9 486.5L93 486.8z" fill="#4746e9" stroke="#4746e9"/>
<path d="M109.9 485.9L111.8 485.1L110.3 485.2L108.4 486z" fill="#4750f2" stroke="#4750f2"/>
<path d="M97.8 487.9L99.8 487.5L98.3 486.9L96.4 487.3z" fill="#4746ea" stroke="#4746ea"/>
<path d="M113.3 485.2L115.2 484.2L113.7 484.2L111.8 485.1z" fill="#4757f6" stroke="#4757f6"/>
<path d="M101.2 487.9L103.1 487.3L101.7 487L99.8 487.5z" fill="#4748ec" stroke="#4748ec"/>
<path d="M116.6 484.5L118.6 483.5L117.1 483.3L115.2 484.2z" fill="#465efa" stroke="#465efa"/>
<path d="M104.6 487.4L106.5 486.7L105 486.7L103.1 487.3z" fill="#484bef" stroke="#484bef"/>
<path d="M92.5 487.9L94.5 487.7L93 486.8L91.1 487.1z" fill="#4748ec" stroke="#4748ec"/>
<path d="M108 486.7L109.9 485.9L108.4 486L106.5 486.7z" fill="#4751f3" stroke="#4751f3"/>
<path d="M95.9 488.3L97.8 487.9L96.4 487.3L94.5 487.7z" fill="#4748ec" stroke="#4748ec"/>
<path d="M111.3 486L113.3 485.2L111.8 485.1L109.9 485.9z" fill="#4757f7" stroke="#4757f7"/>
<path d="M99.3 488.3L101.2 487.9L99.8 487.5L97.8 487.9z" fill="#474aed" stroke="#474aed"/>
<path d="M114.7 485.4L116.6 484.5L115.2 484.2L113.3 485.2z" fill="#465efa" stroke="#465efa"/>
<path d="M102.7 488L104.6 487.4L103.1 487.3L101.2 487.9z" fill="#484df0" stroke="#484df0"/>
<path d="M106 487.5L108 486.7L106.5 486.7L104.6 487.4z" fill="#4752f3" stroke="#4752f3"/>
<path d="M94 488.5L95.9 488.3L94.5 487.7L92.5 487.9z" fill="#474bee" stroke="#474bee"/>
<path d="M109.4 486.9L111.3 486L109.9 485.9L108 486.7z" fill="#4758f7" stroke="#4758f7"/>
<path d="M97.4 488.7L99.3 488.3L97.8 487.9L95.9 488.3z" fill="#484cef" stroke="#484cef"/>
<path d="M112.8 486.3L114.7 485.4L113.3 485.2L111.3 486z" fill="#465efa" stroke="#465efa"/>
<path d="M100.8 488.6L102.7 488L101.2 487.9L99.3 488.3z" fill="#484ef1" stroke="#484ef1"/>
<path d="M104.1 488.2L106 487.5L104.6 487.4L102.7 488z" fill="#4753f4" stroke="#4753f4"/>
<path d="M107.5 487.7L109.4 486.9L108 486.7L106 487.5z" fill="#4759f7" stroke="#4759f7"/>
<path d="M95.5 489L97.4 488.7L95.9 488.3L94 488.5z" fill="#484ff1" stroke="#484ff1"/>
<path d="M110.9 487.1L112.8 486.3L111.3 486L109.4 486.9z" fill="#465efb" stroke="#465efb"/>
<path d="M98.8 489L100.8 488.6L99.3 488.3L97.4 488.7z" fill="#4751f3" stroke="#4751f3"/>
<path d="M102.2 488.8L104.1 488.2L102.7 488L100.8 488.6z" fill="#4755f5" stroke="#4755f5"/>
<path d="M105.6 488.4L107.5 487.7L106 487.5L104.1 488.2z" fill="#465af8" stroke="#465af8"/>
<path d="M109 487.9L110.9 487.1L109.4 486.9L107.5 487.7z" fill="#465ffb" stroke="#465ffb"/>
<path d="M96.9 489.4L98.8 489L97.4 488.7L95.5 489z" fill="#4754f5" stroke="#4754f5"/>
<path d="M100.3 489.3L102.2 488.8L100.8 488.6L98.8 489z" fill="#4757f6" stroke="#4757f6"/>
<path d="M103.7 489L105.6 488.4L104.1 488.2L102.2 488.8z" fill="#465bf9" stroke="#465bf9"/>
<path d="M107.1 488.6L109 487.9L107.5 487.7L105.6 488.4z" fill="#4561fb" stroke="#4561fb"/>
<path d="M98.4 489.6L100.3 489.3L98.8 489L96.9 489.4z" fill="#465af8" stroke="#465af8"/>
<path d="M101.8 489.5L103.7 489L102.2 488.8L100.3 489.3z" fill="#465efa" stroke="#465efa"/>
<path d="M105.1 489.2L107.1 488.6L105.6 488.4L103.7 489z" fill="#4463fc" stroke="#4463fc"/>
<path d="M99.8 489.8L101.8 489.5L100.3 489.3L98.4 489.6z" fill="#4561fb" stroke="#4561fb"/>
<path d="M103.2 489.7L105.1 489.2L103.7 489L101.8 489.5z" fill="#4166fc" stroke="#4166fc"/>
<path d="M101.3 490L103.2 489.7L101.8 489.5L99.8 489.8z" fill="#3e6afc" stroke="#3e6afc"/>
</g>
<path d="M60.4,393.8V464.8L101.3,504.9L155,478.2" fill="none" stroke="#9a9a9a" stroke-width="0.5"/>
<path d="M60.4,392.6h1.5" stroke="#9a9a9a" stroke-width="0.5"/>
<text x="56.8" y="395.5" font-size="7.9" text-anchor="end" class="t3">4.418795</text>
<path d="M60.4,417.8h1.5" stroke="#9a9a9a" stroke-width="0.5"/>
<text x="56.8" y="420.7" font-size="7.9" text-anchor="end" class="t3">4.41879</text>
<path d="M60.4,442.8h1.5" stroke="#9a9a9a" stroke-width="0.5"/>
<text x="56.8" y="445.7" font-size="7.9" text-anchor="end" class="t3">4.418785</text>
<path d="M60.4,467.3h1.5" stroke="#9a9a9a" stroke-width="0.5"/>
<text x="56.8" y="470.2" font-size="7.9" text-anchor="end" class="t3">4.41878</text>
<text x="107.2" y="366" font-size="7.9" text-anchor="middle">F13</text>
<text x="51.8" y="374.5" font-size="7.9" text-anchor="end">×10</text><text x="52.1" y="370.9" font-size="5.4">10</text>
<text x="50.5" y="480.3" font-size="7.9" text-anchor="middle" class="t3">100</text>
<text x="74.5" y="498" font-size="7.9" text-anchor="middle" class="t3">0</text>
<text x="89.5" y="515.8" font-size="7.9" text-anchor="middle" class="t3">-100</text>
<text x="111.4" y="516.5" font-size="7.9" text-anchor="middle" class="t3">-100</text>
<text x="133.2" y="502.1" font-size="7.9" text-anchor="middle" class="t3">0</text>
<text x="163.7" y="489.9" font-size="7.9" text-anchor="middle" class="t3">100</text>
<text x="61.7" y="515.8" font-size="7.9" text-anchor="middle">x<tspan font-size="5.8" dy="2.6">2</tspan></text>
<text x="143.5" y="517.7" font-size="7.9" text-anchor="middle">x<tspan font-size="5.8" dy="2.6">1</tspan></text>
<text x="9.8" y="432" font-size="7.9" text-anchor="middle" transform="rotate(-90 9.8 432)">F13</text>
<text x="19.8" y="432" font-size="7.9" text-anchor="middle" transform="rotate(-90 19.8 432)">( x<tspan font-size="5.4" dy="1.8">1</tspan><tspan dy="-1.8"> , x</tspan><tspan font-size="5.4" dy="1.8">2</tspan><tspan dy="-1.8"> )</tspan></text>
</g>
<g id="s3d3">
<path d="M105.3,679.5L71.2,645.4" stroke="#a8a0f0" stroke-width="0.6"/>
<path d="M106.3,679L72.2,644.9" stroke="#a8a0f0" stroke-width="0.6"/>
<path d="M108.1,678.2L74,644.1" stroke="#a8a0f0" stroke-width="0.6"/>
<path d="M110.7,676.9L76.6,642.8" stroke="#a8a0f0" stroke-width="0.6"/>
<path d="M112,676.3L77.9,642.2" stroke="#a8a0f0" stroke-width="0.6"/>
<path d="M113,675.8L78.9,641.7" stroke="#a8a0f0" stroke-width="0.6"/>
<path d="M114.6,675.1L80.5,641" stroke="#a8a0f0" stroke-width="0.6"/>
<path d="M116.7,674.1L82.6,640" stroke="#70d4ec" stroke-width="0.6"/>
<path d="M118.7,673.1L84.6,639" stroke="#70d4ec" stroke-width="0.6"/>
<path d="M121.3,671.9L87.2,637.8" stroke="#70d4ec" stroke-width="0.6"/>
<path d="M122.6,671.3L88.5,637.2" stroke="#70d4ec" stroke-width="0.6"/>
<path d="M123.9,670.7L89.8,636.6" stroke="#70d4ec" stroke-width="0.6"/>
<path d="M126.3,669.6L92.2,635.5" stroke="#70d4ec" stroke-width="0.6"/>
<path d="M127,669.2L92.9,635.1" stroke="#80e0e8" stroke-width="0.6"/>
<path d="M127.5,668.9L93.4,634.8" stroke="#80e0e8" stroke-width="0.6"/>
<path d="M128.1,668.7L94,634.6" stroke="#80e0e8" stroke-width="0.6"/>
<path d="M128.6,668.4L94.5,634.3" stroke="#80e0e8" stroke-width="0.6"/>
<path d="M129.1,668.2L95,634.1" stroke="#80e0e8" stroke-width="0.6"/>
<path d="M130.1,667.7L96,633.6" stroke="#f2e4a0" stroke-width="0.6"/>
<path d="M134.5,665.6L100.4,631.5" stroke="#f2e4a0" stroke-width="0.6"/>
<path d="M138.9,663.5L104.8,629.4" stroke="#f2e4a0" stroke-width="0.6"/>
<path d="M143.1,661.6L109,627.5" stroke="#f2e4a0" stroke-width="0.6"/>
<path d="M147.2,659.6L113.1,625.5" stroke="#f2e4a0" stroke-width="0.6"/>
<path d="M151.4,657.6L117.3,623.5" stroke="#f2e4a0" stroke-width="0.6"/>
<g stroke-width="0.6" stroke-linejoin="round">
<path d="M154.8 596.7L155 596.5L120.9 562.4L120.7 562.6z" fill="#80c76c" stroke="#80c76c"/>
<path d="M154.5 596.8L154.8 596.7L120.7 562.6L120.4 562.7z" fill="#80c76c" stroke="#80c76c"/>
<path d="M154.3 596.9L154.5 596.8L120.4 562.7L120.2 562.8z" fill="#80c76c" stroke="#80c76c"/>
<path d="M154.1 597L154.3 596.9L120.2 562.8L120 562.9z" fill="#80c76c" stroke="#80c76c"/>
<path d="M153.8 597.1L154.1 597L120 562.9L119.7 563z" fill="#80c76c" stroke="#80c76c"/>
<path d="M153.6 597.2L153.8 597.1L119.7 563L119.5 563.1z" fill="#80c76c" stroke="#80c76c"/>
<path d="M153.4 597.3L153.6 597.2L119.5 563.1L119.3 563.2z" fill="#80c76c" stroke="#80c76c"/>
<path d="M153.1 597.4L153.4 597.3L119.3 563.2L119 563.3z" fill="#80c76c" stroke="#80c76c"/>
<path d="M152.9 597.5L153.1 597.4L119 563.3L118.8 563.4z" fill="#80c76c" stroke="#80c76c"/>
<path d="M152.6 597.7L152.9 597.5L118.8 563.4L118.5 563.6z" fill="#80c76c" stroke="#80c76c"/>
<path d="M152.4 597.8L152.6 597.7L118.5 563.6L118.3 563.7z" fill="#80c76c" stroke="#80c76c"/>
<path d="M152.2 594.8L152.4 597.8L118.3 563.7L118.1 560.7z" fill="#96c560" stroke="#96c560"/>
<path d="M151.9 591.9L152.2 594.8L118.1 560.7L117.8 557.8z" fill="#bfc14c" stroke="#bfc14c"/>
<path d="M151.7 589L151.9 591.9L117.8 557.8L117.6 554.9z" fill="#e5bc3e" stroke="#e5bc3e"/>
<path d="M151.5 586.1L151.7 589L117.6 554.9L117.4 552z" fill="#fcc735" stroke="#fcc735"/>
<path d="M151.2 584.9L151.5 586.1L117.4 552L117.1 550.8z" fill="#f8de27" stroke="#f8de27"/>
<path d="M151 585L151.2 584.9L117.1 550.8L116.9 550.9z" fill="#f8e722" stroke="#f8e722"/>
<path d="M150.8 585.1L151 585L116.9 550.9L116.7 551z" fill="#f8e821" stroke="#f8e821"/>
<path d="M150.5 585.1L150.8 585.1L116.7 551L116.4 551z" fill="#f8e821" stroke="#f8e821"/>
<path d="M150.3 585.2L150.5 585.1L116.4 551L116.2 551.1z" fill="#f8e920" stroke="#f8e920"/>
<path d="M150.1 585.2L150.3 585.2L116.2 551.1L116 551.1z" fill="#f8ea20" stroke="#f8ea20"/>
<path d="M149.8 585.3L150.1 585.2L116 551.1L115.7 551.2z" fill="#f8eb1f" stroke="#f8eb1f"/>
<path d="M149.6 585.4L149.8 585.3L115.7 551.2L115.5 551.3z" fill="#f8eb1f" stroke="#f8eb1f"/>
<path d="M149.3 585.4L149.6 585.4L115.5 551.3L115.2 551.3z" fill="#f8ec1e" stroke="#f8ec1e"/>
<path d="M149.1 585.5L149.3 585.4L115.2 551.3L115 551.4z" fill="#f8ed1e" stroke="#f8ed1e"/>
<path d="M148.9 585.5L149.1 585.5L115 551.4L114.8 551.4z" fill="#f8ed1d" stroke="#f8ed1d"/>
<path d="M148.6 585.6L148.9 585.5L114.8 551.4L114.5 551.5z" fill="#f8ee1d" stroke="#f8ee1d"/>
<path d="M148.4 585.7L148.6 585.6L114.5 551.5L114.3 551.6z" fill="#f8ef1c" stroke="#f8ef1c"/>
<path d="M148.2 585.7L148.4 585.7L114.3 551.6L114.1 551.6z" fill="#f8f01c" stroke="#f8f01c"/>
<path d="M147.9 585.8L148.2 585.7L114.1 551.6L113.8 551.7z" fill="#f9f01c" stroke="#f9f01c"/>
<path d="M147.7 585.8L147.9 585.8L113.8 551.7L113.6 551.7z" fill="#f9f11b" stroke="#f9f11b"/>
<path d="M147.5 585.9L147.7 585.8L113.6 551.7L113.4 551.8z" fill="#f9f21b" stroke="#f9f21b"/>
<path d="M147.2 586L147.5 585.9L113.4 551.8L113.1 551.9z" fill="#f9f31a" stroke="#f9f31a"/>
<path d="M147 586L147.2 586L113.1 551.9L112.9 551.9z" fill="#f9f31a" stroke="#f9f31a"/>
<path d="M146.8 586.1L147 586L112.9 551.9L112.7 552z" fill="#f9f419" stroke="#f9f419"/>
<path d="M146.5 586.1L146.8 586.1L112.7 552L112.4 552z" fill="#f9f519" stroke="#f9f519"/>
<path d="M146.3 586.2L146.5 586.1L112.4 552L112.2 552.1z" fill="#f9f518" stroke="#f9f518"/>
<path d="M146.1 586.3L146.3 586.2L112.2 552.1L112 552.2z" fill="#f9f618" stroke="#f9f618"/>
<path d="M145.8 586.3L146.1 586.3L112 552.2L111.7 552.2z" fill="#f9f717" stroke="#f9f717"/>
<path d="M145.6 586.4L145.8 586.3L111.7 552.2L111.5 552.3z" fill="#f9f817" stroke="#f9f817"/>
<path d="M145.3 586.4L145.6 586.4L111.5 552.3L111.2 552.3z" fill="#f9f816" stroke="#f9f816"/>
<path d="M145.1 586.5L145.3 586.4L111.2 552.3L111 552.4z" fill="#f9f916" stroke="#f9f916"/>
<path d="M144.9 586.6L145.1 586.5L111 552.4L110.8 552.5z" fill="#f9fa15" stroke="#f9fa15"/>
<path d="M144.6 586.6L144.9 586.6L110.8 552.5L110.5 552.5z" fill="#f9fb15" stroke="#f9fb15"/>
<path d="M144.4 586.7L144.6 586.6L110.5 552.5L110.3 552.6z" fill="#f9fb15" stroke="#f9fb15"/>
<path d="M144.2 586.8L144.4 586.7L110.3 552.6L110.1 552.7z" fill="#f9fb15" stroke="#f9fb15"/>
<path d="M143.9 587L144.2 586.8L110.1 552.7L109.8 552.9z" fill="#f9fb15" stroke="#f9fb15"/>
<path d="M143.7 587.1L143.9 587L109.8 552.9L109.6 553z" fill="#f9fb15" stroke="#f9fb15"/>
<path d="M143.5 587.2L143.7 587.1L109.6 553L109.4 553.1z" fill="#f9fb15" stroke="#f9fb15"/>
<path d="M143.2 587.3L143.5 587.2L109.4 553.1L109.1 553.2z" fill="#f9fb15" stroke="#f9fb15"/>
<path d="M143 587.4L143.2 587.3L109.1 553.2L108.9 553.3z" fill="#f9fb15" stroke="#f9fb15"/>
<path d="M142.8 588.1L143 587.4L108.9 553.3L108.7 554z" fill="#f9f618" stroke="#f9f618"/>
<path d="M142.5 588.8L142.8 588.1L108.7 554L108.4 554.7z" fill="#f8ee1d" stroke="#f8ee1d"/>
<path d="M142.3 589.5L142.5 588.8L108.4 554.7L108.2 555.4z" fill="#f8e623" stroke="#f8e623"/>
<path d="M142.1 590.2L142.3 589.5L108.2 555.4L108 556.1z" fill="#f8de28" stroke="#f8de28"/>
<path d="M141.8 590.9L142.1 590.2L108 556.1L107.7 556.8z" fill="#fad72c" stroke="#fad72c"/>
<path d="M141.6 591.6L141.8 590.9L107.7 556.8L107.5 557.5z" fill="#fcd030" stroke="#fcd030"/>
<path d="M141.3 592.3L141.6 591.6L107.5 557.5L107.2 558.2z" fill="#feca34" stroke="#feca34"/>
<path d="M141.1 593L141.3 592.3L107.2 558.2L107 558.9z" fill="#fbc636" stroke="#fbc636"/>
<path d="M140.9 593.7L141.1 593L107 558.9L106.8 559.6z" fill="#f8c238" stroke="#f8c238"/>
<path d="M140.6 594.4L140.9 593.7L106.8 559.6L106.5 560.3z" fill="#f5be3a" stroke="#f5be3a"/>
<path d="M140.4 595.1L140.6 594.4L106.5 560.3L106.3 561z" fill="#f0bd3c" stroke="#f0bd3c"/>
<path d="M140.2 595.8L140.4 595.1L106.3 561L106.1 561.7z" fill="#eabd3d" stroke="#eabd3d"/>
<path d="M139.9 596.5L140.2 595.8L106.1 561.7L105.8 562.4z" fill="#e3bc3e" stroke="#e3bc3e"/>
<path d="M139.7 597.2L139.9 596.5L105.8 562.4L105.6 563.1z" fill="#dcbd40" stroke="#dcbd40"/>
<path d="M139.5 597.9L139.7 597.2L105.6 563.1L105.4 563.8z" fill="#d5be43" stroke="#d5be43"/>
<path d="M139.2 598.6L139.5 597.9L105.4 563.8L105.1 564.5z" fill="#cdbf46" stroke="#cdbf46"/>
<path d="M139 599.3L139.2 598.6L105.1 564.5L104.9 565.2z" fill="#c6c049" stroke="#c6c049"/>
<path d="M138.8 600L139 599.3L104.9 565.2L104.7 565.9z" fill="#bfc14c" stroke="#bfc14c"/>
<path d="M138.5 600.7L138.8 600L104.7 565.9L104.4 566.6z" fill="#b7c24f" stroke="#b7c24f"/>
<path d="M138.3 601.4L138.5 600.7L104.4 566.6L104.2 567.3z" fill="#afc353" stroke="#afc353"/>
<path d="M138 602.1L138.3 601.4L104.2 567.3L103.9 568z" fill="#a7c457" stroke="#a7c457"/>
<path d="M137.8 602.8L138 602.1L103.9 568L103.7 568.7z" fill="#9fc55b" stroke="#9fc55b"/>
<path d="M137.6 603.5L137.8 602.8L103.7 568.7L103.5 569.4z" fill="#97c55f" stroke="#97c55f"/>
<path d="M137.3 604.2L137.6 603.5L103.5 569.4L103.2 570.1z" fill="#8fc664" stroke="#8fc664"/>
<path d="M137.1 604.9L137.3 604.2L103.2 570.1L103 570.8z" fill="#87c768" stroke="#87c768"/>
<path d="M136.9 605.6L137.1 604.9L103 570.8L102.8 571.5z" fill="#7ec76d" stroke="#7ec76d"/>
<path d="M136.6 606.3L136.9 605.6L102.8 571.5L102.5 572.2z" fill="#75c672" stroke="#75c672"/>
<path d="M136.4 607L136.6 606.3L102.5 572.2L102.3 572.9z" fill="#6cc677" stroke="#6cc677"/>
<path d="M136.2 607.7L136.4 607L102.3 572.9L102.1 573.6z" fill="#64c67c" stroke="#64c67c"/>
<path d="M135.9 608.4L136.2 607.7L102.1 573.6L101.8 574.3z" fill="#5bc681" stroke="#5bc681"/>
<path d="M135.7 609.1L135.9 608.4L101.8 574.3L101.6 575z" fill="#53c586" stroke="#53c586"/>
<path d="M135.5 609.8L135.7 609.1L101.6 575L101.4 575.7z" fill="#4bc48b" stroke="#4bc48b"/>
<path d="M135.2 610.5L135.5 609.8L101.4 575.7L101.1 576.4z" fill="#44c390" stroke="#44c390"/>
<path d="M135 611.2L135.2 610.5L101.1 576.4L100.9 577.1z" fill="#3dc296" stroke="#3dc296"/>
<path d="M134.8 611.9L135 611.2L100.9 577.1L100.7 577.8z" fill="#35c19b" stroke="#35c19b"/>
<path d="M134.5 612.6L134.8 611.9L100.7 577.8L100.4 578.5z" fill="#2ec0a0" stroke="#2ec0a0"/>
<path d="M134.3 613.3L134.5 612.6L100.4 578.5L100.2 579.2z" fill="#28bfa5" stroke="#28bfa5"/>
<path d="M134 614L134.3 613.3L100.2 579.2L99.9 579.9z" fill="#24bdaa" stroke="#24bdaa"/>
<path d="M133.8 614.7L134 614L99.9 579.9L99.7 580.6z" fill="#1fbcae" stroke="#1fbcae"/>
<path d="M133.6 615.4L133.8 614.7L99.7 580.6L99.5 581.3z" fill="#1abab3" stroke="#1abab3"/>
<path d="M133.3 616.1L133.6 615.4L99.5 581.3L99.2 582z" fill="#15b9b8" stroke="#15b9b8"/>
<path d="M133.1 616.8L133.3 616.1L99.2 582L99 582.7z" fill="#11b7bc" stroke="#11b7bc"/>
<path d="M132.9 617.5L133.1 616.8L99 582.7L98.8 583.4z" fill="#0fb6c0" stroke="#0fb6c0"/>
<path d="M132.6 618.2L132.9 617.5L98.8 583.4L98.5 584.1z" fill="#0db4c3" stroke="#0db4c3"/>
<path d="M132.4 618.9L132.6 618.2L98.5 584.1L98.3 584.8z" fill="#0bb3c7" stroke="#0bb3c7"/>
<path d="M132.2 619.6L132.4 618.9L98.3 584.8L98.1 585.5z" fill="#09b1ca" stroke="#09b1ca"/>
<path d="M131.9 620.3L132.2 619.6L98.1 585.5L97.8 586.2z" fill="#07b0ce" stroke="#07b0ce"/>
<path d="M131.7 621L131.9 620.3L97.8 586.2L97.6 586.9z" fill="#07aed1" stroke="#07aed1"/>
<path d="M131.5 618.9L131.7 621L97.6 586.9L97.4 584.8z" fill="#08b0cc" stroke="#08b0cc"/>
<path d="M131.2 616.8L131.5 618.9L97.4 584.8L97.1 582.7z" fill="#0fb6bf" stroke="#0fb6bf"/>
<path d="M131 614.7L131.2 616.8L97.1 582.7L96.9 580.6z" fill="#1ebcaf" stroke="#1ebcaf"/>
<path d="M130.7 612.6L131 614.7L96.9 580.6L96.6 578.5z" fill="#32c19d" stroke="#32c19d"/>
<path d="M130.5 610.6L130.7 612.6L96.6 578.5L96.4 576.5z" fill="#4ec489" stroke="#4ec489"/>
<path d="M130.3 608.5L130.5 610.6L96.4 576.5L96.2 574.4z" fill="#6dc677" stroke="#6dc677"/>
<path d="M130 606.4L130.3 608.5L96.2 574.4L95.9 572.3z" fill="#8dc665" stroke="#8dc665"/>
<path d="M129.8 604.3L130 606.4L95.9 572.3L95.7 570.2z" fill="#acc355" stroke="#acc355"/>
<path d="M129.6 602.6L129.8 604.3L95.7 570.2L95.5 568.5z" fill="#c6c049" stroke="#c6c049"/>
<path d="M129.3 602.5L129.6 602.6L95.5 568.5L95.2 568.4z" fill="#d2be44" stroke="#d2be44"/>
<path d="M129.1 602.4L129.3 602.5L95.2 568.4L95 568.3z" fill="#d5be43" stroke="#d5be43"/>
<path d="M128.9 602.3L129.1 602.4L95 568.3L94.8 568.2z" fill="#d8bd42" stroke="#d8bd42"/>
<path d="M128.6 602.2L128.9 602.3L94.8 568.2L94.5 568.1z" fill="#dbbd41" stroke="#dbbd41"/>
<path d="M128.4 602.1L128.6 602.2L94.5 568.1L94.3 568z" fill="#ddbc40" stroke="#ddbc40"/>
<path d="M128.2 602L128.4 602.1L94.3 568L94.1 567.9z" fill="#e0bc3f" stroke="#e0bc3f"/>
<path d="M127.9 602.2L128.2 602L94.1 567.9L93.8 568.1z" fill="#e1bc3f" stroke="#e1bc3f"/>
<path d="M127.7 602.7L127.9 602.2L93.8 568.1L93.6 568.6z" fill="#debc40" stroke="#debc40"/>
<path d="M127.5 603.2L127.7 602.7L93.6 568.6L93.4 569.1z" fill="#d9bd42" stroke="#d9bd42"/>
<path d="M127.2 603.7L127.5 603.2L93.4 569.1L93.1 569.6z" fill="#d4be43" stroke="#d4be43"/>
<path d="M127 604.2L127.2 603.7L93.1 569.6L92.9 570.1z" fill="#d0bf45" stroke="#d0bf45"/>
<path d="M126.7 604.6L127 604.2L92.9 570.1L92.6 570.5z" fill="#cbbf47" stroke="#cbbf47"/>
<path d="M126.5 605.1L126.7 604.6L92.6 570.5L92.4 571z" fill="#c6c049" stroke="#c6c049"/>
<path d="M126.3 605.6L126.5 605.1L92.4 571L92.2 571.5z" fill="#c2c14b" stroke="#c2c14b"/>
<path d="M126 606.1L126.3 605.6L92.2 571.5L91.9 572z" fill="#bdc14d" stroke="#bdc14d"/>
<path d="M125.8 606.6L126 606.1L91.9 572L91.7 572.5z" fill="#b8c24f" stroke="#b8c24f"/>
<path d="M125.6 607.1L125.8 606.6L91.7 572.5L91.5 573z" fill="#b3c351" stroke="#b3c351"/>
<path d="M125.3 607.6L125.6 607.1L91.5 573L91.2 573.5z" fill="#aec354" stroke="#aec354"/>
<path d="M125.1 608L125.3 607.6L91.2 573.5L91 573.9z" fill="#a9c456" stroke="#a9c456"/>
<path d="M124.9 608.5L125.1 608L91 573.9L90.8 574.4z" fill="#a4c459" stroke="#a4c459"/>
<path d="M124.6 609L124.9 608.5L90.8 574.4L90.5 574.9z" fill="#9ec55c" stroke="#9ec55c"/>
<path d="M124.4 609.5L124.6 609L90.5 574.9L90.3 575.4z" fill="#99c55e" stroke="#99c55e"/>
<path d="M124.2 610L124.4 609.5L90.3 575.4L90.1 575.9z" fill="#94c661" stroke="#94c661"/>
<path d="M123.9 610.5L124.2 610L90.1 575.9L89.8 576.4z" fill="#8fc664" stroke="#8fc664"/>
<path d="M123.7 611L123.9 610.5L89.8 576.4L89.6 576.9z" fill="#8ac766" stroke="#8ac766"/>
<path d="M123.4 611.4L123.7 611L89.6 576.9L89.3 577.3z" fill="#84c769" stroke="#84c769"/>
<path d="M123.2 612.3L123.4 611.4L89.3 577.3L89.1 578.2z" fill="#7cc76e" stroke="#7cc76e"/>
<path d="M123 613.3L123.2 612.3L89.1 578.2L88.9 579.2z" fill="#70c675" stroke="#70c675"/>
<path d="M122.7 614.2L123 613.3L88.9 579.2L88.6 580.1z" fill="#63c67c" stroke="#63c67c"/>
<path d="M122.5 615.2L122.7 614.2L88.6 580.1L88.4 581.1z" fill="#57c583" stroke="#57c583"/>
<path d="M122.3 616.1L122.5 615.2L88.4 581.1L88.2 582z" fill="#4cc48b" stroke="#4cc48b"/>
<path d="M122 617.1L122.3 616.1L88.2 582L87.9 583z" fill="#41c392" stroke="#41c392"/>
<path d="M121.8 618L122 617.1L87.9 583L87.7 583.9z" fill="#37c19a" stroke="#37c19a"/>
<path d="M121.6 619L121.8 618L87.7 583.9L87.5 584.9z" fill="#2cc0a1" stroke="#2cc0a1"/>
<path d="M121.3 620L121.6 619L87.5 584.9L87.2 585.8z" fill="#25bea8" stroke="#25bea8"/>
<path d="M121.1 620.9L121.3 620L87.2 585.8L87 586.8z" fill="#1ebcaf" stroke="#1ebcaf"/>
<path d="M120.9 621.9L121.1 620.9L87 586.8L86.8 587.8z" fill="#17bab5" stroke="#17bab5"/>
<path d="M120.6 622.8L120.9 621.9L86.8 587.8L86.5 588.7z" fill="#11b7bc" stroke="#11b7bc"/>
<path d="M120.4 623.8L120.6 622.8L86.5 588.7L86.3 589.7z" fill="#0eb5c1" stroke="#0eb5c1"/>
<path d="M120.2 624.7L120.4 623.8L86.3 589.7L86.1 590.6z" fill="#0bb3c6" stroke="#0bb3c6"/>
<path d="M119.9 625.7L120.2 624.7L86.1 590.6L85.8 591.6z" fill="#08b1cb" stroke="#08b1cb"/>
<path d="M119.7 626.6L119.9 625.7L85.8 591.6L85.6 592.5z" fill="#07afd0" stroke="#07afd0"/>
<path d="M119.4 627.6L119.7 626.6L85.6 592.5L85.3 593.5z" fill="#0aacd4" stroke="#0aacd4"/>
<path d="M119.2 628.7L119.4 627.6L85.3 593.5L85.1 594.6z" fill="#0ea9d8" stroke="#0ea9d8"/>
<path d="M119 630.5L119.2 628.7L85.1 594.6L84.9 596.4z" fill="#14a5de" stroke="#14a5de"/>
<path d="M118.7 632.3L119 630.5L84.9 596.4L84.6 598.2z" fill="#1e9ee5" stroke="#1e9ee5"/>
<path d="M118.5 634.1L118.7 632.3L84.6 598.2L84.4 600z" fill="#2796eb" stroke="#2796eb"/>
<path d="M118.3 635.9L118.5 634.1L84.4 600L84.2 601.8z" fill="#2a8ef0" stroke="#2a8ef0"/>
<path d="M118 637.7L118.3 635.9L84.2 601.8L83.9 603.6z" fill="#2c87f4" stroke="#2c87f4"/>
<path d="M117.8 639.5L118 637.7L83.9 603.6L83.7 605.4z" fill="#2e83f7" stroke="#2e83f7"/>
<path d="M117.6 641.3L117.8 639.5L83.7 605.4L83.5 607.2z" fill="#307ff9" stroke="#307ff9"/>
<path d="M117.3 643.1L117.6 641.3L83.5 607.2L83.2 609z" fill="#327cfc" stroke="#327cfc"/>
<path d="M117.1 644.9L117.3 643.1L83.2 609L83 610.8z" fill="#3873fc" stroke="#3873fc"/>
<path d="M116.9 646.7L117.1 644.9L83 610.8L82.8 612.6z" fill="#3f69fc" stroke="#3f69fc"/>
<path d="M116.6 648.5L116.9 646.7L82.8 612.6L82.5 614.4z" fill="#465ffb" stroke="#465ffb"/>
<path d="M116.4 650.3L116.6 648.5L82.5 614.4L82.3 616.2z" fill="#4758f7" stroke="#4758f7"/>
<path d="M116.2 652.1L116.4 650.3L82.3 616.2L82 618z" fill="#4751f3" stroke="#4751f3"/>
<path d="M115.9 650L116.2 652.1L82 618L81.8 615.9z" fill="#4752f3" stroke="#4752f3"/>
<path d="M115.7 647.8L115.9 650L81.8 615.9L81.6 613.7z" fill="#465cf9" stroke="#465cf9"/>
<path d="M115.4 645.7L115.7 647.8L81.6 613.7L81.3 611.6z" fill="#4067fc" stroke="#4067fc"/>
<path d="M115.2 643.5L115.4 645.7L81.3 611.6L81.1 609.4z" fill="#3775fc" stroke="#3775fc"/>
<path d="M115 641.4L115.2 643.5L81.1 609.4L80.9 607.3z" fill="#317dfb" stroke="#317dfb"/>
<path d="M114.7 639.3L115 641.4L80.9 607.3L80.6 605.2z" fill="#2e82f7" stroke="#2e82f7"/>
<path d="M114.5 637.9L114.7 639.3L80.6 605.2L80.4 603.8z" fill="#2c86f5" stroke="#2c86f5"/>
<path d="M114.3 637.8L114.5 637.9L80.4 603.8L80.2 603.7z" fill="#2b89f3" stroke="#2b89f3"/>
<path d="M114 637.7L114.3 637.8L80.2 603.7L79.9 603.6z" fill="#2b8af2" stroke="#2b8af2"/>
<path d="M113.8 637.6L114 637.7L79.9 603.6L79.7 603.5z" fill="#2a8bf2" stroke="#2a8bf2"/>
<path d="M113.6 637.5L113.8 637.6L79.7 603.5L79.5 603.4z" fill="#2a8df1" stroke="#2a8df1"/>
<path d="M113.3 637.4L113.6 637.5L79.5 603.4L79.2 603.3z" fill="#2a8ef0" stroke="#2a8ef0"/>
<path d="M113.1 637.3L113.3 637.4L79.2 603.3L79 603.2z" fill="#298ff0" stroke="#298ff0"/>
<path d="M112.9 637.6L113.1 637.3L79 603.2L78.8 603.5z" fill="#298ff0" stroke="#298ff0"/>
<path d="M112.6 637.9L112.9 637.6L78.8 603.5L78.5 603.8z" fill="#2a8ef0" stroke="#2a8ef0"/>
<path d="M112.4 638.3L112.6 637.9L78.5 603.8L78.3 604.2z" fill="#2a8cf1" stroke="#2a8cf1"/>
<path d="M112.1 638.7L112.4 638.3L78.3 604.2L78 604.6z" fill="#2a8bf2" stroke="#2a8bf2"/>
<path d="M111.9 639.1L112.1 638.7L78 604.6L77.8 605z" fill="#2b8af3" stroke="#2b8af3"/>
<path d="M111.7 639.5L111.9 639.1L77.8 605L77.6 605.4z" fill="#2b88f4" stroke="#2b88f4"/>
<path d="M111.4 639.9L111.7 639.5L77.6 605.4L77.3 605.8z" fill="#2b87f4" stroke="#2b87f4"/>
<path d="M111.2 640.3L111.4 639.9L77.3 605.8L77.1 606.2z" fill="#2c87f5" stroke="#2c87f5"/>
<path d="M111 640.7L111.2 640.3L77.1 606.2L76.9 606.6z" fill="#2c86f5" stroke="#2c86f5"/>
<path d="M110.7 641.1L111 640.7L76.9 606.6L76.6 607z" fill="#2c85f5" stroke="#2c85f5"/>
<path d="M110.5 641.5L110.7 641.1L76.6 607L76.4 607.4z" fill="#2d85f6" stroke="#2d85f6"/>
<path d="M110.3 641.9L110.5 641.5L76.4 607.4L76.2 607.8z" fill="#2d84f6" stroke="#2d84f6"/>
<path d="M110 642.3L110.3 641.9L76.2 607.8L75.9 608.2z" fill="#2e83f7" stroke="#2e83f7"/>
<path d="M109.8 643L110 642.3L75.9 608.2L75.7 608.9z" fill="#2e82f7" stroke="#2e82f7"/>
<path d="M109.6 643.9L109.8 643L75.7 608.9L75.5 609.8z" fill="#2f81f8" stroke="#2f81f8"/>
<path d="M109.3 644.9L109.6 643.9L75.5 609.8L75.2 610.8z" fill="#307ff9" stroke="#307ff9"/>
<path d="M109.1 645.8L109.3 644.9L75.2 610.8L75 611.7z" fill="#317dfb" stroke="#317dfb"/>
<path d="M108.9 646.7L109.1 645.8L75 611.7L74.8 612.6z" fill="#327cfc" stroke="#327cfc"/>
<path d="M108.6 647.7L108.9 646.7L74.8 612.6L74.5 613.6z" fill="#3579fd" stroke="#3579fd"/>
<path d="M108.4 648.6L108.6 647.7L74.5 613.6L74.3 614.5z" fill="#3873fc" stroke="#3873fc"/>
<path d="M108.1 649.5L108.4 648.6L74.3 614.5L74 615.4z" fill="#3c6efc" stroke="#3c6efc"/>
<path d="M107.9 650.5L108.1 649.5L74 615.4L73.8 616.4z" fill="#3f69fc" stroke="#3f69fc"/>
<path d="M107.7 651.4L107.9 650.5L73.8 616.4L73.6 617.3z" fill="#4364fc" stroke="#4364fc"/>
<path d="M107.4 654L107.7 651.4L73.6 617.3L73.3 619.9z" fill="#465cf9" stroke="#465cf9"/>
<path d="M107.2 657.4L107.4 654L73.3 619.9L73.1 623.3z" fill="#4750f2" stroke="#4750f2"/>
<path d="M107 660.7L107.2 657.4L73.1 623.3L72.9 626.6z" fill="#4747ea" stroke="#4747ea"/>
<path d="M106.7 664.1L107 660.7L72.9 626.6L72.6 630z" fill="#463edf" stroke="#463edf"/>
<path d="M106.5 667.4L106.7 664.1L72.6 630L72.4 633.3z" fill="#4434ce" stroke="#4434ce"/>
<path d="M106.3 669L106.5 667.4L72.4 633.3L72.2 634.9z" fill="#422ebf" stroke="#422ebf"/>
<path d="M106 663.2L106.3 669L72.2 634.9L71.9 629.1z" fill="#4434cd" stroke="#4434cd"/>
<path d="M105.8 657.4L106 663.2L71.9 629.1L71.7 623.3z" fill="#4745e9" stroke="#4745e9"/>
<path d="M105.6 651.6L105.8 657.4L71.7 623.3L71.5 617.5z" fill="#4758f7" stroke="#4758f7"/>
<path d="M105.3 645.8L105.6 651.6L71.5 617.5L71.2 611.7z" fill="#3479fd" stroke="#3479fd"/>
<path d="M105.1 644.6L105.3 645.8L71.2 611.7L71 610.5z" fill="#2f82f8" stroke="#2f82f8"/>
<path d="M104.8 644.5L105.1 644.6L71 610.5L70.7 610.4z" fill="#2e83f7" stroke="#2e83f7"/>
<path d="M104.6 644.5L104.8 644.5L70.7 610.4L70.5 610.4z" fill="#2d84f6" stroke="#2d84f6"/>
<path d="M104.4 644.4L104.6 644.5L70.5 610.4L70.3 610.3z" fill="#2d84f6" stroke="#2d84f6"/>
<path d="M104.1 644.4L104.4 644.4L70.3 610.3L70 610.3z" fill="#2d84f6" stroke="#2d84f6"/>
<path d="M103.9 644.3L104.1 644.4L70 610.3L69.8 610.2z" fill="#2d85f6" stroke="#2d85f6"/>
<path d="M103.7 644.3L103.9 644.3L69.8 610.2L69.6 610.2z" fill="#2c85f5" stroke="#2c85f5"/>
<path d="M103.4 644.2L103.7 644.3L69.6 610.2L69.3 610.1z" fill="#2c86f5" stroke="#2c86f5"/>
<path d="M103.2 644.1L103.4 644.2L69.3 610.1L69.1 610z" fill="#2c86f5" stroke="#2c86f5"/>
</g>
<path d="M69.1,572.2V646.4L103.2,680.5L155,655.9" fill="none" stroke="#9a9a9a" stroke-width="0.5"/>
<path d="M69.1,591h1.5" stroke="#9a9a9a" stroke-width="0.5"/>
<text x="65.5" y="593.9" font-size="7.9" text-anchor="end" class="t3">1.25116965</text>
<path d="M69.1,619.1h1.5" stroke="#9a9a9a" stroke-width="0.5"/>
<text x="65.5" y="622" font-size="7.9" text-anchor="end" class="t3">1.2511696</text>
<path d="M69.1,645h1.5" stroke="#9a9a9a" stroke-width="0.5"/>
<text x="65.5" y="647.9" font-size="7.9" text-anchor="end" class="t3">1.25116955</text>
<text x="112.3" y="543.1" font-size="7.9" text-anchor="middle">F14</text>
<text x="60.9" y="547.8" font-size="7.9" text-anchor="end">×10</text><text x="61.2" y="544.2" font-size="5.4">9</text>
<text x="58.2" y="658" font-size="7.9" text-anchor="middle" class="t3">100</text>
<text x="81.4" y="675.8" font-size="7.9" text-anchor="middle" class="t3">0</text>
<text x="92.3" y="692.1" font-size="7.9" text-anchor="middle" class="t3">-100</text>
<text x="115.5" y="693.5" font-size="7.9" text-anchor="middle" class="t3">-100</text>
<text x="134.5" y="681.2" font-size="7.9" text-anchor="middle" class="t3">0</text>
<text x="163.2" y="668.1" font-size="7.9" text-anchor="middle" class="t3">100</text>
<text x="65.8" y="691.3" font-size="7.9" text-anchor="middle">x<tspan font-size="5.8" dy="2.6">2</tspan></text>
<text x="147.6" y="696.8" font-size="7.9" text-anchor="middle">x<tspan font-size="5.8" dy="2.6">1</tspan></text>
<text x="9.8" y="611" font-size="7.9" text-anchor="middle" transform="rotate(-90 9.8 611)">F14</text>
<text x="19.8" y="611" font-size="7.9" text-anchor="middle" transform="rotate(-90 19.8 611)">( x<tspan font-size="5.4" dy="1.8">1</tspan><tspan dy="-1.8"> , x</tspan><tspan font-size="5.4" dy="1.8">2</tspan><tspan dy="-1.8"> )</tspan></text>
</g>
<g id="s3d4">
<path d="M56,835.6L121.5,811.6" stroke="#9898ee" stroke-width="0.6"/>
<path d="M70.6,846.4L136.1,822.4" stroke="#9898ee" stroke-width="0.6"/>
<path d="M52.7,833.1L118.2,809.1" stroke="#88a8f0" stroke-width="0.6"/>
<path d="M73.7,848.7L139.2,824.7" stroke="#88a8f0" stroke-width="0.6"/>
<path d="M76.1,850.5L141.6,826.5" stroke="#88a8f0" stroke-width="0.6"/>
<path d="M50,831.1L115.5,807.1" stroke="#60d0ea" stroke-width="0.6"/>
<path d="M48.1,829.8L113.6,805.8" stroke="#60d0ea" stroke-width="0.6"/>
<path d="M77.6,851.6L143.1,827.6" stroke="#60d0ea" stroke-width="0.6"/>
<path d="M79.2,852.7L144.7,828.7" stroke="#60d0ea" stroke-width="0.6"/>
<path d="M81,854.1L146.5,830.1" stroke="#60d0ea" stroke-width="0.6"/>
<path d="M46.7,828.7L112.2,804.7" stroke="#70dcd0" stroke-width="0.6"/>
<path d="M45.1,827.5L110.6,803.5" stroke="#70dcd0" stroke-width="0.6"/>
<path d="M82.6,855.3L148.1,831.3" stroke="#70dcd0" stroke-width="0.6"/>
<path d="M84.6,856.8L150.1,832.8" stroke="#70dcd0" stroke-width="0.6"/>
<path d="M43.5,826.3L109,802.3" stroke="#c8e0a0" stroke-width="0.6"/>
<path d="M42.1,825.3L107.6,801.3" stroke="#c8e0a0" stroke-width="0.6"/>
<path d="M86.4,858.1L151.9,834.1" stroke="#c8e0a0" stroke-width="0.6"/>
<path d="M88,859.3L153.5,835.3" stroke="#c8e0a0" stroke-width="0.6"/>
<path d="M40.7,824.3L106.2,800.3" stroke="#f0d890" stroke-width="0.6"/>
<g stroke-width="0.6" stroke-linejoin="round">
<path d="M40.9 766.8L106.3 742.8L106 740.8L40.5 764.8z" fill="#b9c24e" stroke="#b9c24e"/>
<path d="M41.2 768.6L106.7 744.6L106.3 742.8L40.9 766.8z" fill="#abc355" stroke="#abc355"/>
<path d="M41.6 770.5L107.1 746.5L106.7 744.6L41.2 768.6z" fill="#9dc55c" stroke="#9dc55c"/>
<path d="M41.9 772.3L107.4 748.3L107.1 746.5L41.6 770.5z" fill="#8fc664" stroke="#8fc664"/>
<path d="M42.2 774.1L107.8 750.1L107.4 748.3L41.9 772.3z" fill="#81c76b" stroke="#81c76b"/>
<path d="M42.6 775.9L108.1 751.9L107.8 750.1L42.2 774.1z" fill="#72c674" stroke="#72c674"/>
<path d="M43 777.6L108.5 753.6L108.1 751.9L42.6 775.9z" fill="#64c67c" stroke="#64c67c"/>
<path d="M43.3 779.4L108.8 755.4L108.5 753.6L43 777.6z" fill="#56c584" stroke="#56c584"/>
<path d="M43.6 781.1L109.2 757.1L108.8 755.4L43.3 779.4z" fill="#4ac48c" stroke="#4ac48c"/>
<path d="M44 782.8L109.5 758.8L109.2 757.1L43.6 781.1z" fill="#3ec295" stroke="#3ec295"/>
<path d="M44.4 784.4L109.8 760.4L109.5 758.8L44 782.8z" fill="#32c19d" stroke="#32c19d"/>
<path d="M44.7 786L110.2 762L109.8 760.4L44.4 784.4z" fill="#29bfa5" stroke="#29bfa5"/>
<path d="M45 787.6L110.5 763.6L110.2 762L44.7 786z" fill="#21bcac" stroke="#21bcac"/>
<path d="M45.4 789.2L110.9 765.2L110.5 763.6L45 787.6z" fill="#1abab3" stroke="#1abab3"/>
<path d="M45.8 790.8L111.2 766.8L110.9 765.2L45.4 789.2z" fill="#13b8ba" stroke="#13b8ba"/>
<path d="M46.1 792.3L111.6 768.3L111.2 766.8L45.8 790.8z" fill="#0fb6c0" stroke="#0fb6c0"/>
<path d="M46.5 793.8L112 769.8L111.6 768.3L46.1 792.3z" fill="#0cb4c5" stroke="#0cb4c5"/>
<path d="M46.8 795.3L112.3 771.3L112 769.8L46.5 793.8z" fill="#09b1ca" stroke="#09b1ca"/>
<path d="M47.2 796.7L112.7 772.7L112.3 771.3L46.8 795.3z" fill="#06afcf" stroke="#06afcf"/>
<path d="M47.5 798.1L113 774.1L112.7 772.7L47.2 796.7z" fill="#09add2" stroke="#09add2"/>
<path d="M47.9 799.5L113.3 775.5L113 774.1L47.5 798.1z" fill="#0caad6" stroke="#0caad6"/>
<path d="M48.2 800.9L113.7 776.9L113.3 775.5L47.9 799.5z" fill="#0fa8da" stroke="#0fa8da"/>
<path d="M48.5 802.3L114 778.3L113.7 776.9L48.2 800.9z" fill="#13a6dd" stroke="#13a6dd"/>
<path d="M48.9 803.6L114.4 779.6L114 778.3L48.5 802.3z" fill="#17a3e0" stroke="#17a3e0"/>
<path d="M49.2 804.9L114.8 780.9L114.4 779.6L48.9 803.6z" fill="#1b9fe3" stroke="#1b9fe3"/>
<path d="M49.6 806.2L115.1 782.2L114.8 780.9L49.2 804.9z" fill="#209ce6" stroke="#209ce6"/>
<path d="M49.9 807.4L115.4 783.4L115.1 782.2L49.6 806.2z" fill="#2499e9" stroke="#2499e9"/>
<path d="M50.3 808.6L115.8 784.6L115.4 783.4L49.9 807.4z" fill="#2796eb" stroke="#2796eb"/>
<path d="M50.6 809.8L116.2 785.8L115.8 784.6L50.3 808.6z" fill="#2893ed" stroke="#2893ed"/>
<path d="M51 811L116.5 787L116.2 785.8L50.6 809.8z" fill="#298fef" stroke="#298fef"/>
<path d="M51.4 812.1L116.8 788.1L116.5 787L51 811z" fill="#2a8cf1" stroke="#2a8cf1"/>
<path d="M51.7 813.3L117.2 789.3L116.8 788.1L51.4 812.1z" fill="#2b89f3" stroke="#2b89f3"/>
<path d="M52.1 814.4L117.6 790.4L117.2 789.3L51.7 813.3z" fill="#2c86f5" stroke="#2c86f5"/>
<path d="M52.4 815.4L117.9 791.4L117.6 790.4L52.1 814.4z" fill="#2d84f6" stroke="#2d84f6"/>
<path d="M52.8 816.5L118.2 792.5L117.9 791.4L52.4 815.4z" fill="#2f81f8" stroke="#2f81f8"/>
<path d="M53.1 817.5L118.6 793.5L118.2 792.5L52.8 816.5z" fill="#307ff9" stroke="#307ff9"/>
<path d="M53.5 818.5L119 794.5L118.6 793.5L53.1 817.5z" fill="#317dfb" stroke="#317dfb"/>
<path d="M53.8 819.5L119.3 795.5L119 794.5L53.5 818.5z" fill="#337bfc" stroke="#337bfc"/>
<path d="M54.1 820.4L119.7 796.4L119.3 795.5L53.8 819.5z" fill="#3578fc" stroke="#3578fc"/>
<path d="M54.5 821.3L120 797.3L119.7 796.4L54.1 820.4z" fill="#3972fc" stroke="#3972fc"/>
<path d="M54.9 822.2L120.3 798.2L120 797.3L54.5 821.3z" fill="#3d6dfc" stroke="#3d6dfc"/>
<path d="M55.2 823.1L120.7 799.1L120.3 798.2L54.9 822.2z" fill="#4068fc" stroke="#4068fc"/>
<path d="M55.6 824L121.1 800L120.7 799.1L55.2 823.1z" fill="#4363fc" stroke="#4363fc"/>
<path d="M55.9 824.8L121.4 800.8L121.1 800L55.6 824z" fill="#465ffb" stroke="#465ffb"/>
<path d="M56.2 825.6L121.8 801.6L121.4 800.8L55.9 824.8z" fill="#465cf9" stroke="#465cf9"/>
<path d="M56.6 826.3L122.1 802.3L121.8 801.6L56.2 825.6z" fill="#4759f7" stroke="#4759f7"/>
<path d="M57 827.1L122.5 803.1L122.1 802.3L56.6 826.3z" fill="#4756f6" stroke="#4756f6"/>
<path d="M57.3 827.8L122.8 803.8L122.5 803.1L57 827.1z" fill="#4753f4" stroke="#4753f4"/>
<path d="M57.6 828.5L123.2 804.5L122.8 803.8L57.3 827.8z" fill="#4751f3" stroke="#4751f3"/>
<path d="M58 829.2L123.5 805.2L123.2 804.5L57.6 828.5z" fill="#484ef1" stroke="#484ef1"/>
<path d="M58.4 829.8L123.8 805.8L123.5 805.2L58 829.2z" fill="#484cf0" stroke="#484cf0"/>
<path d="M58.7 830.4L124.2 806.4L123.8 805.8L58.4 829.8z" fill="#474bee" stroke="#474bee"/>
<path d="M59 831L124.5 807L124.2 806.4L58.7 830.4z" fill="#4749ed" stroke="#4749ed"/>
<path d="M59.4 831.6L124.9 807.6L124.5 807L59 831z" fill="#4748ec" stroke="#4748ec"/>
<path d="M59.8 832.1L125.2 808.1L124.9 807.6L59.4 831.6z" fill="#4747ea" stroke="#4747ea"/>
<path d="M60.1 832.7L125.6 808.7L125.2 808.1L59.8 832.1z" fill="#4746e9" stroke="#4746e9"/>
<path d="M60.5 833.2L126 809.2L125.6 808.7L60.1 832.7z" fill="#4745e8" stroke="#4745e8"/>
<path d="M60.8 833.6L126.3 809.6L126 809.2L60.5 833.2z" fill="#4744e8" stroke="#4744e8"/>
<path d="M61.2 834.1L126.7 810.1L126.3 809.6L60.8 833.6z" fill="#4743e7" stroke="#4743e7"/>
<path d="M61.5 834.5L127 810.5L126.7 810.1L61.2 834.1z" fill="#4742e6" stroke="#4742e6"/>
<path d="M61.9 834.9L127.3 810.9L127 810.5L61.5 834.5z" fill="#4741e5" stroke="#4741e5"/>
<path d="M62.2 835.3L127.7 811.3L127.3 810.9L61.9 834.9z" fill="#4741e5" stroke="#4741e5"/>
<path d="M62.6 835.6L128.1 811.6L127.7 811.3L62.2 835.3z" fill="#4740e4" stroke="#4740e4"/>
<path d="M62.9 835.9L128.4 811.9L128.1 811.6L62.6 835.6z" fill="#4740e4" stroke="#4740e4"/>
<path d="M63.2 836.2L128.8 812.2L128.4 811.9L62.9 835.9z" fill="#4740e3" stroke="#4740e3"/>
<path d="M63.6 836.5L129.1 812.5L128.8 812.2L63.2 836.2z" fill="#4740e3" stroke="#4740e3"/>
<path d="M64 836.7L129.4 812.7L129.1 812.5L63.6 836.5z" fill="#4740e3" stroke="#4740e3"/>
<path d="M64.3 836.9L129.8 812.9L129.4 812.7L64 836.7z" fill="#4740e3" stroke="#4740e3"/>
<path d="M64.7 837.1L130.2 813.1L129.8 812.9L64.3 836.9z" fill="#4740e4" stroke="#4740e4"/>
<path d="M65 837.3L130.5 813.3L130.2 813.1L64.7 837.1z" fill="#4741e5" stroke="#4741e5"/>
<path d="M65.3 837.4L130.8 813.4L130.5 813.3L65 837.3z" fill="#4741e5" stroke="#4741e5"/>
<path d="M65.7 837.5L131.2 813.5L130.8 813.4L65.3 837.4z" fill="#4742e6" stroke="#4742e6"/>
<path d="M66 837.6L131.6 813.6L131.2 813.5L65.7 837.5z" fill="#4742e6" stroke="#4742e6"/>
<path d="M66.4 837.7L131.9 813.7L131.6 813.6L66 837.6z" fill="#4743e7" stroke="#4743e7"/>
<path d="M66.8 837.7L132.2 813.7L131.9 813.7L66.4 837.7z" fill="#4744e8" stroke="#4744e8"/>
<path d="M67.1 837.8L132.6 813.8L132.2 813.7L66.8 837.7z" fill="#4745e9" stroke="#4745e9"/>
<path d="M67.5 837.7L132.9 813.7L132.6 813.8L67.1 837.8z" fill="#4746ea" stroke="#4746ea"/>
<path d="M67.8 837.7L133.3 813.7L132.9 813.7L67.5 837.7z" fill="#4747eb" stroke="#4747eb"/>
<path d="M68.2 837.6L133.7 813.6L133.3 813.7L67.8 837.7z" fill="#4749ec" stroke="#4749ec"/>
<path d="M68.5 837.6L134 813.6L133.7 813.6L68.2 837.6z" fill="#474aed" stroke="#474aed"/>
<path d="M68.8 837.5L134.3 813.5L134 813.6L68.5 837.6z" fill="#484cef" stroke="#484cef"/>
<path d="M69.2 837.3L134.7 813.3L134.3 813.5L68.8 837.5z" fill="#484df0" stroke="#484df0"/>
<path d="M69.5 837.2L135.1 813.2L134.7 813.3L69.2 837.3z" fill="#474ff2" stroke="#474ff2"/>
<path d="M69.9 837L135.4 813L135.1 813.2L69.5 837.2z" fill="#4752f3" stroke="#4752f3"/>
<path d="M70.2 836.8L135.8 812.8L135.4 813L69.9 837z" fill="#4754f5" stroke="#4754f5"/>
<path d="M70.6 836.5L136.1 812.5L135.8 812.8L70.2 836.8z" fill="#4757f6" stroke="#4757f6"/>
<path d="M71 836.3L136.4 812.3L136.1 812.5L70.6 836.5z" fill="#465af8" stroke="#465af8"/>
<path d="M71.3 836L136.8 812L136.4 812.3L71 836.3z" fill="#465dfa" stroke="#465dfa"/>
<path d="M71.7 835.7L137.2 811.7L136.8 812L71.3 836z" fill="#4560fb" stroke="#4560fb"/>
<path d="M72 835.3L137.5 811.3L137.2 811.7L71.7 835.7z" fill="#4265fc" stroke="#4265fc"/>
<path d="M72.3 835L137.8 811L137.5 811.3L72 835.3z" fill="#3f6afc" stroke="#3f6afc"/>
<path d="M72.7 834.6L138.2 810.6L137.8 811L72.3 835z" fill="#3b6ffc" stroke="#3b6ffc"/>
<path d="M73 834.2L138.6 810.2L138.2 810.6L72.7 834.6z" fill="#3774fc" stroke="#3774fc"/>
<path d="M73.4 833.7L138.9 809.7L138.6 810.2L73 834.2z" fill="#347afd" stroke="#347afd"/>
<path d="M73.8 833.3L139.2 809.3L138.9 809.7L73.4 833.7z" fill="#327cfb" stroke="#327cfb"/>
<path d="M74.1 832.8L139.6 808.8L139.2 809.3L73.8 833.3z" fill="#317efa" stroke="#317efa"/>
<path d="M74.5 832.3L139.9 808.3L139.6 808.8L74.1 832.8z" fill="#3080f9" stroke="#3080f9"/>
<path d="M74.8 831.7L140.3 807.7L139.9 808.3L74.5 832.3z" fill="#2e82f7" stroke="#2e82f7"/>
<path d="M75.2 831.2L140.7 807.2L140.3 807.7L74.8 831.7z" fill="#2d85f6" stroke="#2d85f6"/>
<path d="M75.5 830.6L141 806.6L140.7 807.2L75.2 831.2z" fill="#2c87f4" stroke="#2c87f4"/>
<path d="M75.8 829.9L141.3 805.9L141 806.6L75.5 830.6z" fill="#2b8af2" stroke="#2b8af2"/>
<path d="M76.2 829.3L141.7 805.3L141.3 805.9L75.8 829.9z" fill="#2a8df1" stroke="#2a8df1"/>
<path d="M76.5 828.6L142.1 804.6L141.7 805.3L76.2 829.3z" fill="#2991ef" stroke="#2991ef"/>
<path d="M76.9 828L142.4 804L142.1 804.6L76.5 828.6z" fill="#2894ed" stroke="#2894ed"/>
<path d="M77.2 827.2L142.8 803.2L142.4 804L76.9 828z" fill="#2697ea" stroke="#2697ea"/>
<path d="M77.6 826.5L143.1 802.5L142.8 803.2L77.2 827.2z" fill="#229ae8" stroke="#229ae8"/>
<path d="M78 825.7L143.4 801.7L143.1 802.5L77.6 826.5z" fill="#1e9de5" stroke="#1e9de5"/>
<path d="M78.3 824.9L143.8 800.9L143.4 801.7L78 825.7z" fill="#19a1e2" stroke="#19a1e2"/>
<path d="M78.7 824.1L144.2 800.1L143.8 800.9L78.3 824.9z" fill="#15a4df" stroke="#15a4df"/>
<path d="M79 823.3L144.5 799.3L144.2 800.1L78.7 824.1z" fill="#11a7dc" stroke="#11a7dc"/>
<path d="M79.3 822.4L144.8 798.4L144.5 799.3L79 823.3z" fill="#0ea9d8" stroke="#0ea9d8"/>
<path d="M79.7 821.5L145.2 797.5L144.8 798.4L79.3 822.4z" fill="#0babd5" stroke="#0babd5"/>
<path d="M80 820.6L145.6 796.6L145.2 797.5L79.7 821.5z" fill="#08aed1" stroke="#08aed1"/>
<path d="M80.4 819.7L145.9 795.7L145.6 796.6L80 820.6z" fill="#07b0cd" stroke="#07b0cd"/>
<path d="M80.8 818.7L146.2 794.7L145.9 795.7L80.4 819.7z" fill="#0ab2c8" stroke="#0ab2c8"/>
<path d="M81.1 817.7L146.6 793.7L146.2 794.7L80.8 818.7z" fill="#0db5c3" stroke="#0db5c3"/>
<path d="M81.5 816.7L146.9 792.7L146.6 793.7L81.1 817.7z" fill="#10b7bd" stroke="#10b7bd"/>
<path d="M81.8 815.6L147.3 791.6L146.9 792.7L81.5 816.7z" fill="#15b9b7" stroke="#15b9b7"/>
<path d="M82.2 814.6L147.7 790.6L147.3 791.6L81.8 815.6z" fill="#1dbbb0" stroke="#1dbbb0"/>
<path d="M82.5 813.5L148 789.5L147.7 790.6L82.2 814.6z" fill="#24bda9" stroke="#24bda9"/>
<path d="M82.8 812.4L148.3 788.4L148 789.5L82.5 813.5z" fill="#2cc0a2" stroke="#2cc0a2"/>
<path d="M83.2 811.2L148.7 787.2L148.3 788.4L82.8 812.4z" fill="#37c19a" stroke="#37c19a"/>
<path d="M83.5 810.1L149.1 786.1L148.7 787.2L83.2 811.2z" fill="#42c391" stroke="#42c391"/>
<path d="M83.9 808.9L149.4 784.9L149.1 786.1L83.5 810.1z" fill="#4ec489" stroke="#4ec489"/>
<path d="M84.2 807.6L149.8 783.6L149.4 784.9L83.9 808.9z" fill="#5bc681" stroke="#5bc681"/>
<path d="M84.6 806.4L150.1 782.4L149.8 783.6L84.2 807.6z" fill="#69c678" stroke="#69c678"/>
<path d="M85 805.1L150.4 781.1L150.1 782.4L84.6 806.4z" fill="#78c670" stroke="#78c670"/>
<path d="M85.3 803.8L150.8 779.8L150.4 781.1L85 805.1z" fill="#87c768" stroke="#87c768"/>
<path d="M85.7 802.5L151.2 778.5L150.8 779.8L85.3 803.8z" fill="#95c661" stroke="#95c661"/>
<path d="M86 801.2L151.5 777.2L151.2 778.5L85.7 802.5z" fill="#a3c459" stroke="#a3c459"/>
<path d="M86.3 799.8L151.8 775.8L151.5 777.2L86 801.2z" fill="#b1c352" stroke="#b1c352"/>
<path d="M86.7 798.4L152.2 774.4L151.8 775.8L86.3 799.8z" fill="#bec14c" stroke="#bec14c"/>
<path d="M87 797L152.6 773L152.2 774.4L86.7 798.4z" fill="#cbbf47" stroke="#cbbf47"/>
<path d="M87.4 795.5L152.9 771.5L152.6 773L87 797z" fill="#d9bd42" stroke="#d9bd42"/>
<path d="M87.8 794.1L153.2 770.1L152.9 771.5L87.4 795.5z" fill="#e6bc3e" stroke="#e6bc3e"/>
<path d="M88.1 792.6L153.6 768.6L153.2 770.1L87.8 794.1z" fill="#f3bd3b" stroke="#f3bd3b"/>
<path d="M88.5 791.1L153.9 767.1L153.6 768.6L88.1 792.6z" fill="#fac536" stroke="#fac536"/>
<path d="M88.8 789.5L154.3 765.5L153.9 767.1L88.5 791.1z" fill="#fcd030" stroke="#fcd030"/>
<path d="M89.2 787.9L154.7 763.9L154.3 765.5L88.8 789.5z" fill="#f8df27" stroke="#f8df27"/>
<path d="M89.5 786.3L155 762.3L154.7 763.9L89.2 787.9z" fill="#f9f11b" stroke="#f9f11b"/>
</g>
<path d="M40.5,750V824.1L89.5,860.4L155,836.4" fill="none" stroke="#9a9a9a" stroke-width="0.5"/>
<path d="M40.5,754.5h1.5" stroke="#9a9a9a" stroke-width="0.5"/>
<text x="36.9" y="757.4" font-size="7.9" text-anchor="end" class="t3">2.5</text>
<path d="M40.5,771.8h1.5" stroke="#9a9a9a" stroke-width="0.5"/>
<text x="36.9" y="774.7" font-size="7.9" text-anchor="end" class="t3">2</text>
<path d="M40.5,789.1h1.5" stroke="#9a9a9a" stroke-width="0.5"/>
<text x="36.9" y="792" font-size="7.9" text-anchor="end" class="t3">1.5</text>
<path d="M40.5,806.4h1.5" stroke="#9a9a9a" stroke-width="0.5"/>
<text x="36.9" y="809.3" font-size="7.9" text-anchor="end" class="t3">1</text>
<path d="M40.5,824.1h1.5" stroke="#9a9a9a" stroke-width="0.5"/>
<text x="36.9" y="827" font-size="7.9" text-anchor="end" class="t3">0.5</text>
<text x="98.4" y="721.5" font-size="7.9" text-anchor="middle">F15</text>
<text x="34.5" y="739.7" font-size="7.9" text-anchor="end">×10</text><text x="34.8" y="736.1" font-size="5.4">10</text>
<text x="30.6" y="835.7" font-size="7.9" text-anchor="middle" class="t3">100</text>
<text x="59.5" y="853" font-size="7.9" text-anchor="middle" class="t3">0</text>
<text x="78" y="871.2" font-size="7.9" text-anchor="middle" class="t3">-100</text>
<text x="100.4" y="872" font-size="7.9" text-anchor="middle" class="t3">-100</text>
<text x="127.7" y="858.4" font-size="7.9" text-anchor="middle" class="t3">0</text>
<text x="164.5" y="844.8" font-size="7.9" text-anchor="middle" class="t3">100</text>
<text x="46.7" y="870.4" font-size="7.9" text-anchor="middle">x<tspan font-size="5.8" dy="2.6">2</tspan></text>
<text x="135.3" y="872.6" font-size="7.9" text-anchor="middle">x<tspan font-size="5.8" dy="2.6">1</tspan></text>
<text x="9.8" y="788.5" font-size="7.9" text-anchor="middle" transform="rotate(-90 9.8 788.5)">F15</text>
<text x="19.8" y="788.5" font-size="7.9" text-anchor="middle" transform="rotate(-90 19.8 788.5)">( x<tspan font-size="5.4" dy="1.8">1</tspan><tspan dy="-1.8"> , x</tspan><tspan font-size="5.4" dy="1.8">2</tspan><tspan dy="-1.8"> )</tspan></text>
</g>
<path d="M243.5,12.3V147.6M269.5,12.3V147.6M295.5,12.3V147.6M321.5,12.3V147.6M217.5,125.1H347.5M217.5,102.5H347.5M217.5,80H347.5M217.5,57.4H347.5M217.5,34.9H347.5" stroke="#ebebeb" stroke-width="0.6" fill="none"/>
<polyline points="217.5,143.1 224.4,147.6 231.2,147.6 238,147.6 244.9,147.6 251.7,147.6 258.6,147.6 265.4,147.6 272.2,147.6 279.1,147.6 285.9,147.6 292.8,147.6 299.6,147.6 306.5,147.6 313.3,147.6 320.1,147.6 327,147.6 333.8,147.6 340.7,147.6 347.5,147.6" fill="none" stroke="#ff00ff" stroke-width="0.7"/>
<path transform="scale(0.1)" d="M2175 1431h0m69 45h0m68 0h0m68 0h0m69 0h0m68 0h0m69 0h0m68 0h0m68 0h0m69 0h0m68 0h0m69 0h0m68 0h0m69 0h0m68 0h0m68 0h0m69 0h0m68 0h0m69 0h0m68 0h0" stroke="#ff00ff" stroke-width="35.0" stroke-linecap="round"/><path transform="scale(0.1)" d="M2175 1431h0m69 45h0m68 0h0m68 0h0m69 0h0m68 0h0m69 0h0m68 0h0m68 0h0m69 0h0m68 0h0m69 0h0m68 0h0m69 0h0m68 0h0m68 0h0m69 0h0m68 0h0m69 0h0m68 0h0" stroke="#ff80ff" stroke-width="25.0" stroke-linecap="round"/>
<polyline points="217.5,142 224.4,147.6 231.2,147.6 238,147.6 244.9,147.6 251.7,147.6 258.6,147.6 265.4,147.6 272.2,147.6 279.1,147.6 285.9,147.6 292.8,147.6 299.6,147.6 306.5,147.6 313.3,147.6 320.1,147.6 327,147.6 333.8,147.6 340.7,147.6 347.5,147.6" fill="none" stroke="#000000" stroke-width="0.7"/>
<path transform="scale(0.1)" d="M2175 1420h0m69 56h0m68 0h0m68 0h0m69 0h0m68 0h0m69 0h0m68 0h0m68 0h0m69 0h0m68 0h0m69 0h0m68 0h0m69 0h0m68 0h0m68 0h0m69 0h0m68 0h0m69 0h0m68 0h0" stroke="#000000" stroke-width="18.0" stroke-linecap="round"/>
<polyline points="217.5,139.7 224.4,147.6 231.2,147.6 238,147.6 244.9,147.6 251.7,147.6 258.6,147.6 265.4,147.6 272.2,147.6 279.1,147.6 285.9,147.6 292.8,147.6 299.6,147.6 306.5,147.6 313.3,147.6 320.1,147.6 327,147.6 333.8,147.6 340.7,147.6 347.5,147.6" fill="none" stroke="#ff0000" stroke-width="0.7"/>
<path transform="scale(0.1)" d="M2175 1397h0m69 79h0m68 0h0m68 0h0m69 0h0m68 0h0m69 0h0m68 0h0m68 0h0m69 0h0m68 0h0m69 0h0m68 0h0m69 0h0m68 0h0m68 0h0m69 0h0m68 0h0m69 0h0m68 0h0" stroke="#ff0000" stroke-width="35.0" stroke-linecap="round"/><path transform="scale(0.1)" d="M2175 1397h0m69 79h0m68 0h0m68 0h0m69 0h0m68 0h0m69 0h0m68 0h0m68 0h0m69 0h0m68 0h0m69 0h0m68 0h0m69 0h0m68 0h0m68 0h0m69 0h0m68 0h0m69 0h0m68 0h0" stroke="#ffb0b0" stroke-width="25.0" stroke-linecap="round"/>
<polyline points="217.5,138.6 224.4,147.6 231.2,147.6 238,147.6 244.9,147.6 251.7,147.6 258.6,147.6 265.4,147.6 272.2,147.6 279.1,147.6 285.9,147.6 292.8,147.6 299.6,147.6 306.5,147.6 313.3,147.6 320.1,147.6 327,147.6 333.8,147.6 340.7,147.6 347.5,147.6" fill="none" stroke="#000000" stroke-width="0.7"/>
<path d="M217.5 136.8l1.8 3.2h-3.6zM224.4 145.8l1.8 3.2h-3.6zM231.2 145.8l1.8 3.2h-3.6zM238 145.8l1.8 3.2h-3.6zM244.9 145.8l1.8 3.2h-3.6zM251.7 145.8l1.8 3.2h-3.6zM258.6 145.8l1.8 3.2h-3.6zM265.4 145.8l1.8 3.2h-3.6zM272.2 145.8l1.8 3.2h-3.6zM279.1 145.8l1.8 3.2h-3.6zM285.9 145.8l1.8 3.2h-3.6zM292.8 145.8l1.8 3.2h-3.6zM299.6 145.8l1.8 3.2h-3.6zM306.5 145.8l1.8 3.2h-3.6zM313.3 145.8l1.8 3.2h-3.6zM320.1 145.8l1.8 3.2h-3.6zM327 145.8l1.8 3.2h-3.6zM333.8 145.8l1.8 3.2h-3.6zM340.7 145.8l1.8 3.2h-3.6zM347.5 145.8l1.8 3.2h-3.6z" fill="#808080" stroke="#000000" stroke-width="0.4"/>
<polyline points="217.5,34.9 224.4,147.6 231.2,147.6 238,147.6 244.9,147.6 251.7,147.6 258.6,147.6 265.4,147.6 272.2,147.6 279.1,147.6 285.9,147.6 292.8,147.6 299.6,147.6 306.5,147.6 313.3,147.6 320.1,147.6 327,147.6 333.8,147.6 340.7,147.6 347.5,147.6" fill="none" stroke="#ff0000" stroke-width="0.7"/>
<path d="M217.5 36.8l1.9 -3.4h-3.8zM224.4 149.5l1.9 -3.4h-3.8zM231.2 149.5l1.9 -3.4h-3.8zM238 149.5l1.9 -3.4h-3.8zM244.9 149.5l1.9 -3.4h-3.8zM251.7 149.5l1.9 -3.4h-3.8zM258.6 149.5l1.9 -3.4h-3.8zM265.4 149.5l1.9 -3.4h-3.8zM272.2 149.5l1.9 -3.4h-3.8zM279.1 149.5l1.9 -3.4h-3.8zM285.9 149.5l1.9 -3.4h-3.8zM292.8 149.5l1.9 -3.4h-3.8zM299.6 149.5l1.9 -3.4h-3.8zM306.5 149.5l1.9 -3.4h-3.8zM313.3 149.5l1.9 -3.4h-3.8zM320.1 149.5l1.9 -3.4h-3.8zM327 149.5l1.9 -3.4h-3.8zM333.8 149.5l1.9 -3.4h-3.8zM340.7 149.5l1.9 -3.4h-3.8zM347.5 149.5l1.9 -3.4h-3.8z" fill="#ff0000" stroke="#ff0000" stroke-width="0.4"/>
<polyline points="217.5,140.8 224.4,147.6 231.2,147.6 238,147.6 244.9,147.6 251.7,147.6 258.6,147.6 265.4,147.6 272.2,147.6 279.1,147.6 285.9,147.6 292.8,147.6 299.6,147.6 306.5,147.6 313.3,147.6 320.1,147.6 327,147.6 333.8,147.6 340.7,147.6 347.5,147.6" fill="none" stroke="#ff0000" stroke-width="0.7"/>
<path transform="scale(0.1)" d="M2175 1408h0m69 68h0m68 0h0m68 0h0m69 0h0m68 0h0m69 0h0m68 0h0m68 0h0m69 0h0m68 0h0m69 0h0m68 0h0m69 0h0m68 0h0m68 0h0m69 0h0m68 0h0m69 0h0m68 0h0" stroke="#ff0000" stroke-width="33.0" stroke-linecap="round"/>
<polyline points="217.5,107 224.4,147.6 231.2,147.6 238,147.6 244.9,147.6 251.7,147.6 258.6,147.6 265.4,147.6 272.2,147.6 279.1,147.6 285.9,147.6 292.8,147.6 299.6,147.6 306.5,147.6 313.3,147.6 320.1,147.6 327,147.6 333.8,147.6 340.7,147.6 347.5,147.6" fill="none" stroke="#000000" stroke-width="0.7"/>
<path d="M217.5 108.9l1.9 -3.4h-3.8zM224.4 149.5l1.9 -3.4h-3.8zM231.2 149.5l1.9 -3.4h-3.8zM238 149.5l1.9 -3.4h-3.8zM244.9 149.5l1.9 -3.4h-3.8zM251.7 149.5l1.9 -3.4h-3.8zM258.6 149.5l1.9 -3.4h-3.8zM265.4 149.5l1.9 -3.4h-3.8zM272.2 149.5l1.9 -3.4h-3.8zM279.1 149.5l1.9 -3.4h-3.8zM285.9 149.5l1.9 -3.4h-3.8zM292.8 149.5l1.9 -3.4h-3.8zM299.6 149.5l1.9 -3.4h-3.8zM306.5 149.5l1.9 -3.4h-3.8zM313.3 149.5l1.9 -3.4h-3.8zM320.1 149.5l1.9 -3.4h-3.8zM327 149.5l1.9 -3.4h-3.8zM333.8 149.5l1.9 -3.4h-3.8zM340.7 149.5l1.9 -3.4h-3.8zM347.5 149.5l1.9 -3.4h-3.8z" fill="#000000" stroke="#000000" stroke-width="0.4"/>
<polyline points="217.5,142.5 224.4,147.6 231.2,147.6 238,147.6 244.9,147.6 251.7,147.6 258.6,147.6 265.4,147.6 272.2,147.6 279.1,147.6 285.9,147.6 292.8,147.6 299.6,147.6 306.5,147.6 313.3,147.6 320.1,147.6 327,147.6 333.8,147.6 340.7,147.6 347.5,147.6" fill="none" stroke="#00ffff" stroke-width="0.7"/>
<path transform="scale(0.1)" d="M2175 1425h0m69 51h0m68 0h0m68 0h0m69 0h0m68 0h0m69 0h0m68 0h0m68 0h0m69 0h0m68 0h0m69 0h0m68 0h0m69 0h0m68 0h0m68 0h0m69 0h0m68 0h0m69 0h0m68 0h0" stroke="#00ffff" stroke-width="35.0" stroke-linecap="round"/>
<polyline points="217.5,142 224.4,147.6 231.2,147.6 238,147.6 244.9,147.6 251.7,147.6 258.6,147.6 265.4,147.6 272.2,147.6 279.1,147.6 285.9,147.6 292.8,147.6 299.6,147.6 306.5,147.6 313.3,147.6 320.1,147.6 327,147.6 333.8,147.6 340.7,147.6 347.5,147.6" fill="none" stroke="#0000ff" stroke-width="2.2"/>
<path transform="scale(0.1)" d="M2175 1420h0m69 56h0m68 0h0m68 0h0m69 0h0m68 0h0m69 0h0m68 0h0m68 0h0m69 0h0m68 0h0m69 0h0m68 0h0m69 0h0m68 0h0m68 0h0m69 0h0m68 0h0m69 0h0m68 0h0" stroke="#0000ff" stroke-width="53.0" stroke-linecap="round"/>
<polyline points="217.5,118.3 224.4,141.4 231.2,141.4 238,141.4 244.9,141.4 251.7,141.4 258.6,141.4 265.4,141.4 272.2,141.4 279.1,141.4 285.9,141.4 292.8,141.4 299.6,141.4 306.5,141.4 313.3,141.4 320.1,141.4 327,141.4 333.8,141.4 340.7,141.4 347.5,141.4" fill="none" stroke="#00ff00" stroke-width="0.8"/>
<path transform="scale(0.1)" d="M2175 1183h0m1300 231h0m-68 0h0m-69 0h0m-68 0h0m-69 0h0m-68 0h0m-68 0h0m-69 0h0m-68 0h0m-69 0h0m-68 0h0m-69 0h0m-68 0h0m-68 0h0m-69 0h0m-68 0h0m-69 0h0m-68 0h0m-68 0h0" stroke="#00ff00" stroke-width="41.0" stroke-linecap="round"/><path transform="scale(0.1)" d="M2175 1183h0m1300 231h0m-68 0h0m-69 0h0m-68 0h0m-69 0h0m-68 0h0m-68 0h0m-69 0h0m-68 0h0m-69 0h0m-68 0h0m-69 0h0m-68 0h0m-68 0h0m-69 0h0m-68 0h0m-69 0h0m-68 0h0m-68 0h0" stroke="#80ff80" stroke-width="31.0" stroke-linecap="round"/>
<polyline points="217.5,128.4 224.4,147.6 231.2,147.6 238,147.6 244.9,147.6 251.7,147.6 258.6,147.6 265.4,147.6 272.2,147.6 279.1,147.6 285.9,147.6 292.8,147.6 299.6,147.6 306.5,147.6 313.3,147.6 320.1,147.6 327,147.6 333.8,147.6 340.7,147.6 347.5,147.6" fill="none" stroke="#00ff00" stroke-width="0.7"/>
<path d="M217.5 130.3l1.9 -3.4h-3.8zM224.4 149.5l1.9 -3.4h-3.8zM231.2 149.5l1.9 -3.4h-3.8zM238 149.5l1.9 -3.4h-3.8zM244.9 149.5l1.9 -3.4h-3.8zM251.7 149.5l1.9 -3.4h-3.8zM258.6 149.5l1.9 -3.4h-3.8zM265.4 149.5l1.9 -3.4h-3.8zM272.2 149.5l1.9 -3.4h-3.8zM279.1 149.5l1.9 -3.4h-3.8zM285.9 149.5l1.9 -3.4h-3.8zM292.8 149.5l1.9 -3.4h-3.8zM299.6 149.5l1.9 -3.4h-3.8zM306.5 149.5l1.9 -3.4h-3.8zM313.3 149.5l1.9 -3.4h-3.8zM320.1 149.5l1.9 -3.4h-3.8zM327 149.5l1.9 -3.4h-3.8zM333.8 149.5l1.9 -3.4h-3.8zM340.7 149.5l1.9 -3.4h-3.8zM347.5 149.5l1.9 -3.4h-3.8z" fill="#00ff00" stroke="#00ff00" stroke-width="0.4"/>
<polyline points="217.5,137.5 224.4,147.6 231.2,147.6 238,147.6 244.9,147.6 251.7,147.6 258.6,147.6 265.4,147.6 272.2,147.6 279.1,147.6 285.9,147.6 292.8,147.6 299.6,147.6 306.5,147.6 313.3,147.6 320.1,147.6 327,147.6 333.8,147.6 340.7,147.6 347.5,147.6" fill="none" stroke="#00ff00" stroke-width="0.7"/>
<path transform="scale(0.1)" d="M2175 1375h0m69 101h0m68 0h0m68 0h0m69 0h0m68 0h0m69 0h0m68 0h0m68 0h0m69 0h0m68 0h0m69 0h0m68 0h0m69 0h0m68 0h0m68 0h0m69 0h0m68 0h0m69 0h0m68 0h0" stroke="#00ff00" stroke-width="29.0" stroke-linecap="round"/>
<rect x="217.5" y="12.3" width="130.0" height="135.3" fill="none" stroke="#9a9a9a" stroke-width="0.6"/>
<path d="M217.5,147.6v-1.3M217.5,12.3v1.3M243.5,147.6v-1.3M243.5,12.3v1.3M269.5,147.6v-1.3M269.5,12.3v1.3M295.5,147.6v-1.3M295.5,12.3v1.3M321.5,147.6v-1.3M321.5,12.3v1.3M347.5,147.6v-1.3M347.5,12.3v1.3M217.5,147.6h1.3M347.5,147.6h-1.3M217.5,125.1h1.3M347.5,125.1h-1.3M217.5,102.5h1.3M347.5,102.5h-1.3M217.5,80h1.3M347.5,80h-1.3M217.5,57.4h1.3M347.5,57.4h-1.3M217.5,34.9h1.3M347.5,34.9h-1.3M217.5,12.3h1.3M347.5,12.3h-1.3" stroke="#9a9a9a" stroke-width="0.5"/>
<text x="217.5" y="156.9" font-size="7.2" text-anchor="middle">0</text>
<text x="243.5" y="156.9" font-size="7.2" text-anchor="middle">2000</text>
<text x="269.5" y="156.9" font-size="7.2" text-anchor="middle">4000</text>
<text x="295.5" y="156.9" font-size="7.2" text-anchor="middle">6000</text>
<text x="321.5" y="156.9" font-size="7.2" text-anchor="middle">8000</text>
<text x="347.5" y="156.9" font-size="7.2" text-anchor="middle">10000</text>
<text x="215" y="150.1" font-size="7.2" text-anchor="end">0</text>
<text x="215" y="127.6" font-size="7.2" text-anchor="end">2</text>
<text x="215" y="105" font-size="7.2" text-anchor="end">4</text>
<text x="215" y="82.5" font-size="7.2" text-anchor="end">6</text>
<text x="215" y="59.9" font-size="7.2" text-anchor="end">8</text>
<text x="215" y="37.4" font-size="7.2" text-anchor="end">10</text>
<text x="215" y="14.8" font-size="7.2" text-anchor="end">12</text>
<text x="219" y="11.8" font-size="7.6">×10</text><text x="231.3" y="8.4" font-size="5.6">5</text>
<text x="283" y="10.8" font-size="7.2" text-anchor="middle" font-weight="bold">F11</text>
<text x="283" y="165.9" font-size="7.2" text-anchor="middle" font-weight="bold">Iterations</text>
<text x="204.8" y="80" font-size="7.2" text-anchor="middle" font-weight="bold" transform="rotate(-90 204.8 80)">Best score obtained</text>
<rect x="296.8" y="16.4" width="47" height="106.4" fill="#ffffff" stroke="#9a9a9a" stroke-width="0.5"/>
<path d="M298.6,22.4H312.3" stroke="#0000ff" stroke-width="2.2"/>
<circle cx="305.4" cy="22.4" r="2.4" fill="#0000ff" stroke="#0000ff" stroke-width="0.5"/>
<text x="314.2" y="25" font-size="7.55">MACOA</text>
<path d="M298.6,31.1H312.3" stroke="#ff00ff" stroke-width="0.95"/>
<circle cx="305.4" cy="31.1" r="1.5" fill="#ff80ff" stroke="#ff00ff" stroke-width="0.5"/>
<text x="314.2" y="33.7" font-size="7.55">COA</text>
<path d="M298.6,39.8H312.3" stroke="#000000" stroke-width="0.95"/>
<circle cx="305.4" cy="39.8" r="0.9" fill="#000000"/>
<text x="314.2" y="42.4" font-size="7.55">SABO</text>
<path d="M298.6,48.4H312.3" stroke="#ff0000" stroke-width="0.95"/>
<circle cx="305.4" cy="48.4" r="1.5" fill="#ffb0b0" stroke="#ff0000" stroke-width="0.5"/>
<text x="314.2" y="51" font-size="7.55">WSO</text>
<path d="M298.6,57.1H312.3" stroke="#000000" stroke-width="0.95"/>
<path d="M305.4,55.3L307.2,58.6L303.6,58.6Z" fill="#808080" stroke="#000000" stroke-width="0.5"/>
<text x="314.2" y="59.7" font-size="7.55">SCSO</text>
<path d="M298.6,65.8H312.3" stroke="#ff0000" stroke-width="0.95"/>
<path d="M305.4,67.7L307.3,64.3L303.5,64.3Z" fill="#ff0000" stroke="#ff0000" stroke-width="0.4"/>
<text x="314.2" y="68.4" font-size="7.55">GJO</text>
<path d="M298.6,74.5H312.3" stroke="#ff0000" stroke-width="0.95"/>
<circle cx="305.4" cy="74.5" r="1.4" fill="#ff0000" stroke="#ff0000" stroke-width="0.4"/>
<text x="314.2" y="77.1" font-size="7.55">TSA</text>
<path d="M298.6,83.2H312.3" stroke="#00ff00" stroke-width="0.95"/>
<circle cx="305.4" cy="83.2" r="1.8" fill="#80ff80" stroke="#00ff00" stroke-width="0.5"/>
<text x="314.2" y="85.8" font-size="7.55">WOA</text>
<path d="M298.6,91.8H312.3" stroke="#000000" stroke-width="0.95"/>
<path d="M305.4,93.7L307.3,90.3L303.5,90.3Z" fill="#000000" stroke="#000000" stroke-width="0.4"/>
<text x="314.2" y="94.4" font-size="7.55">GWO</text>
<path d="M298.6,100.5H312.3" stroke="#00ff00" stroke-width="0.95"/>
<path d="M305.4,102.4L307.3,99L303.5,99Z" fill="#00ff00" stroke="#00ff00" stroke-width="0.4"/>
<text x="314.2" y="103.1" font-size="7.55">TLBO</text>
<path d="M298.6,109.2H312.3" stroke="#00ffff" stroke-width="0.95"/>
<circle cx="305.4" cy="109.2" r="1.5" fill="#00ffff" stroke="#00ffff" stroke-width="0.5"/>
<text x="314.2" y="111.8" font-size="7.55">GSA</text>
<path d="M298.6,117.9H312.3" stroke="#00ff00" stroke-width="0.95"/>
<circle cx="305.4" cy="117.9" r="1.2" fill="#00ff00" stroke="#00ff00" stroke-width="0.4"/>
<text x="314.2" y="120.5" font-size="7.55">PSO</text>
<path d="M243.5,190.3V324.5M269.5,190.3V324.5M295.5,190.3V324.5M321.5,190.3V324.5M217.5,297.7H347.5M217.5,270.8H347.5M217.5,244H347.5M217.5,217.1H347.5" stroke="#ebebeb" stroke-width="0.6" fill="none"/>
<polyline points="217.5,281.6 224.4,295.8 231.2,295.8 238,295.8 244.9,295.8 251.7,295.8 258.6,295.8 265.4,295.8 272.2,295.8 279.1,295.8 285.9,295.8 292.8,295.8 299.6,295.8 306.5,295.8 313.3,295.8 320.1,295.8 327,295.8 333.8,295.8 340.7,295.8 347.5,295.8" fill="none" stroke="#ff00ff" stroke-width="0.7"/>
<path transform="scale(0.1)" d="M2175 2816h0m1300 142h0m-68 0h0m-69 0h0m-68 0h0m-69 0h0m-68 0h0m-68 0h0m-69 0h0m-68 0h0m-69 0h0m-68 0h0m-69 0h0m-68 0h0m-68 0h0m-69 0h0m-68 0h0m-69 0h0m-68 0h0m-68 0h0" stroke="#ff00ff" stroke-width="35.0" stroke-linecap="round"/><path transform="scale(0.1)" d="M2175 2816h0m1300 142h0m-68 0h0m-69 0h0m-68 0h0m-69 0h0m-68 0h0m-68 0h0m-69 0h0m-68 0h0m-69 0h0m-68 0h0m-69 0h0m-68 0h0m-68 0h0m-69 0h0m-68 0h0m-69 0h0m-68 0h0m-68 0h0" stroke="#ff80ff" stroke-width="25.0" stroke-linecap="round"/>
<polyline points="217.5,265.5 224.4,294.4 231.2,294.4 238,294.4 244.9,294.4 251.7,294.4 258.6,294.4 265.4,294.4 272.2,294.4 279.1,294.4 285.9,294.4 292.8,294.4 299.6,294.4 306.5,294.4 313.3,294.4 320.1,294.4 327,294.4 333.8,294.4 340.7,294.4 347.5,294.4" fill="none" stroke="#000000" stroke-width="0.7"/>
<path transform="scale(0.1)" d="M2175 2655h0m1300 289h0m-68 0h0m-69 0h0m-68 0h0m-69 0h0m-68 0h0m-68 0h0m-69 0h0m-68 0h0m-69 0h0m-68 0h0m-69 0h0m-68 0h0m-68 0h0m-69 0h0m-68 0h0m-69 0h0m-68 0h0m-68 0h0" stroke="#000000" stroke-width="18.0" stroke-linecap="round"/>
<polyline points="217.5,270.8 224.4,324.5 231.2,324.5 238,324.5 244.9,324.5 251.7,324.5 258.6,324.5 265.4,324.5 272.2,324.5 279.1,324.5 285.9,324.5 292.8,324.5 299.6,324.5 306.5,324.5 313.3,324.5 320.1,324.5 327,324.5 333.8,324.5 340.7,324.5 347.5,324.5" fill="none" stroke="#ff0000" stroke-width="0.7"/>
<path transform="scale(0.1)" d="M2175 2708h0m69 537h0m68 0h0m68 0h0m69 0h0m68 0h0m69 0h0m68 0h0m68 0h0m69 0h0m68 0h0m69 0h0m68 0h0m69 0h0m68 0h0m68 0h0m69 0h0m68 0h0m69 0h0m68 0h0" stroke="#ff0000" stroke-width="35.0" stroke-linecap="round"/><path transform="scale(0.1)" d="M2175 2708h0m69 537h0m68 0h0m68 0h0m69 0h0m68 0h0m69 0h0m68 0h0m68 0h0m69 0h0m68 0h0m69 0h0m68 0h0m69 0h0m68 0h0m68 0h0m69 0h0m68 0h0m69 0h0m68 0h0" stroke="#ffb0b0" stroke-width="25.0" stroke-linecap="round"/>
<polyline points="217.5,268.1 224.4,324.5 231.2,324.5 238,324.5 244.9,324.5 251.7,324.5 258.6,324.5 265.4,324.5 272.2,324.5 279.1,324.5 285.9,324.5 292.8,324.5 299.6,324.5 306.5,324.5 313.3,324.5 320.1,324.5 327,324.5 333.8,324.5 340.7,324.5 347.5,324.5" fill="none" stroke="#000000" stroke-width="0.7"/>
<path d="M217.5 266.3l1.8 3.2h-3.6zM224.4 322.7l1.8 3.2h-3.6zM231.2 322.7l1.8 3.2h-3.6zM238 322.7l1.8 3.2h-3.6zM244.9 322.7l1.8 3.2h-3.6zM251.7 322.7l1.8 3.2h-3.6zM258.6 322.7l1.8 3.2h-3.6zM265.4 322.7l1.8 3.2h-3.6zM272.2 322.7l1.8 3.2h-3.6zM279.1 322.7l1.8 3.2h-3.6zM285.9 322.7l1.8 3.2h-3.6zM292.8 322.7l1.8 3.2h-3.6zM299.6 322.7l1.8 3.2h-3.6zM306.5 322.7l1.8 3.2h-3.6zM313.3 322.7l1.8 3.2h-3.6zM320.1 322.7l1.8 3.2h-3.6zM327 322.7l1.8 3.2h-3.6zM333.8 322.7l1.8 3.2h-3.6zM340.7 322.7l1.8 3.2h-3.6zM347.5 322.7l1.8 3.2h-3.6z" fill="#808080" stroke="#000000" stroke-width="0.4"/>
<polyline points="217.5,235.9 224.4,313.8 231.2,314.6 238,315.1 244.9,315.4 251.7,315.6 258.6,315.6 265.4,315.9 272.2,315.9 279.1,315.9 285.9,316.2 292.8,316.2 299.6,316.2 306.5,316.2 313.3,316.2 320.1,316.2 327,316.4 333.8,316.4 340.7,316.4 347.5,316.4" fill="none" stroke="#ff0000" stroke-width="0.7"/>
<path d="M217.5 237.8l1.9 -3.4h-3.8zM224.4 315.7l1.9 -3.4h-3.8zM231.2 316.5l1.9 -3.4h-3.8zM238 317l1.9 -3.4h-3.8zM244.9 317.3l1.9 -3.4h-3.8zM251.7 317.5l1.9 -3.4h-3.8zM258.6 317.5l1.9 -3.4h-3.8zM265.4 317.8l1.9 -3.4h-3.8zM272.2 317.8l1.9 -3.4h-3.8zM279.1 317.8l1.9 -3.4h-3.8zM285.9 318.1l1.9 -3.4h-3.8zM292.8 318.1l1.9 -3.4h-3.8zM299.6 318.1l1.9 -3.4h-3.8zM306.5 318.1l1.9 -3.4h-3.8zM313.3 318.1l1.9 -3.4h-3.8zM320.1 318.1l1.9 -3.4h-3.8zM327 318.3l1.9 -3.4h-3.8zM333.8 318.3l1.9 -3.4h-3.8zM340.7 318.3l1.9 -3.4h-3.8zM347.5 318.3l1.9 -3.4h-3.8z" fill="#ff0000" stroke="#ff0000" stroke-width="0.4"/>
<polyline points="217.5,238.6 224.4,299.3 231.2,299.3 238,299.3 244.9,299.3 251.7,299.3 258.6,299.3 265.4,299.3 272.2,299.3 279.1,299.3 285.9,299.3 292.8,299.3 299.6,299.3 306.5,299.3 313.3,299.3 320.1,299.3 327,299.3 333.8,299.3 340.7,299.3 347.5,299.3" fill="none" stroke="#ff0000" stroke-width="0.7"/>
<path transform="scale(0.1)" d="M2175 2386h0m1300 607h0m-68 0h0m-69 0h0m-68 0h0m-69 0h0m-68 0h0m-68 0h0m-69 0h0m-68 0h0m-69 0h0m-68 0h0m-69 0h0m-68 0h0m-68 0h0m-69 0h0m-68 0h0m-69 0h0m-68 0h0m-68 0h0" stroke="#ff0000" stroke-width="33.0" stroke-linecap="round"/>
<polyline points="217.5,254.7 224.4,324.5 231.2,324.5 238,324.5 244.9,324.5 251.7,324.5 258.6,324.5 265.4,324.5 272.2,324.5 279.1,324.5 285.9,324.5 292.8,324.5 299.6,324.5 306.5,324.5 313.3,324.5 320.1,324.5 327,324.5 333.8,324.5 340.7,324.5 347.5,324.5" fill="none" stroke="#000000" stroke-width="0.7"/>
<path d="M217.5 256.6l1.9 -3.4h-3.8zM224.4 326.4l1.9 -3.4h-3.8zM231.2 326.4l1.9 -3.4h-3.8zM238 326.4l1.9 -3.4h-3.8zM244.9 326.4l1.9 -3.4h-3.8zM251.7 326.4l1.9 -3.4h-3.8zM258.6 326.4l1.9 -3.4h-3.8zM265.4 326.4l1.9 -3.4h-3.8zM272.2 326.4l1.9 -3.4h-3.8zM279.1 326.4l1.9 -3.4h-3.8zM285.9 326.4l1.9 -3.4h-3.8zM292.8 326.4l1.9 -3.4h-3.8zM299.6 326.4l1.9 -3.4h-3.8zM306.5 326.4l1.9 -3.4h-3.8zM313.3 326.4l1.9 -3.4h-3.8zM320.1 326.4l1.9 -3.4h-3.8zM327 326.4l1.9 -3.4h-3.8zM333.8 326.4l1.9 -3.4h-3.8zM340.7 326.4l1.9 -3.4h-3.8zM347.5 326.4l1.9 -3.4h-3.8z" fill="#000000" stroke="#000000" stroke-width="0.4"/>
<polyline points="217.5,276.2 224.4,324.5 231.2,324.5 238,324.5 244.9,324.5 251.7,324.5 258.6,324.5 265.4,324.5 272.2,324.5 279.1,324.5 285.9,324.5 292.8,324.5 299.6,324.5 306.5,324.5 313.3,324.5 320.1,324.5 327,324.5 333.8,324.5 340.7,324.5 347.5,324.5" fill="none" stroke="#00ffff" stroke-width="0.7"/>
<path transform="scale(0.1)" d="M2175 2762h0m69 483h0m68 0h0m68 0h0m69 0h0m68 0h0m69 0h0m68 0h0m68 0h0m69 0h0m68 0h0m69 0h0m68 0h0m69 0h0m68 0h0m68 0h0m69 0h0m68 0h0m69 0h0m68 0h0" stroke="#00ffff" stroke-width="35.0" stroke-linecap="round"/>
<polyline points="217.5,219.8 224.4,324.5 231.2,324.5 238,324.5 244.9,324.5 251.7,324.5 258.6,324.5 265.4,324.5 272.2,324.5 279.1,324.5 285.9,324.5 292.8,324.5 299.6,324.5 306.5,324.5 313.3,324.5 320.1,324.5 327,324.5 333.8,324.5 340.7,324.5 347.5,324.5" fill="none" stroke="#0000ff" stroke-width="2.2"/>
<path transform="scale(0.1)" d="M2175 2198h0m69 1047h0m68 0h0m68 0h0m69 0h0m68 0h0m69 0h0m68 0h0m68 0h0m69 0h0m68 0h0m69 0h0m68 0h0m69 0h0m68 0h0m68 0h0m69 0h0m68 0h0m69 0h0m68 0h0" stroke="#0000ff" stroke-width="53.0" stroke-linecap="round"/>
<polyline points="217.5,234.6 224.4,277.3 231.2,277.3 238,277.3 244.9,277.3 251.7,277.3 258.6,277.3 265.4,277.3 272.2,277.3 279.1,277.3 285.9,277.3 292.8,277.3 299.6,277.3 306.5,277.3 313.3,277.3 320.1,277.3 327,277.3 333.8,277.3 340.7,277.3 347.5,277.3" fill="none" stroke="#00ff00" stroke-width="0.8"/>
<path transform="scale(0.1)" d="M2175 2346h0m69 427h0m68 0h0m68 0h0m69 0h0m68 0h0m69 0h0m68 0h0m68 0h0m69 0h0m68 0h0m69 0h0m68 0h0m69 0h0m68 0h0m68 0h0m69 0h0m68 0h0m69 0h0m68 0h0" stroke="#00ff00" stroke-width="41.0" stroke-linecap="round"/><path transform="scale(0.1)" d="M2175 2346h0m69 427h0m68 0h0m68 0h0m69 0h0m68 0h0m69 0h0m68 0h0m68 0h0m69 0h0m68 0h0m69 0h0m68 0h0m69 0h0m68 0h0m68 0h0m69 0h0m68 0h0m69 0h0m68 0h0" stroke="#80ff80" stroke-width="31.0" stroke-linecap="round"/>
<polyline points="217.5,201 224.4,324.5 231.2,324.5 238,324.5 244.9,324.5 251.7,324.5 258.6,324.5 265.4,324.5 272.2,324.5 279.1,324.5 285.9,324.5 292.8,324.5 299.6,324.5 306.5,324.5 313.3,324.5 320.1,324.5 327,324.5 333.8,324.5 340.7,324.5 347.5,324.5" fill="none" stroke="#00ff00" stroke-width="0.7"/>
<path d="M217.5 202.9l1.9 -3.4h-3.8zM224.4 326.4l1.9 -3.4h-3.8zM231.2 326.4l1.9 -3.4h-3.8zM238 326.4l1.9 -3.4h-3.8zM244.9 326.4l1.9 -3.4h-3.8zM251.7 326.4l1.9 -3.4h-3.8zM258.6 326.4l1.9 -3.4h-3.8zM265.4 326.4l1.9 -3.4h-3.8zM272.2 326.4l1.9 -3.4h-3.8zM279.1 326.4l1.9 -3.4h-3.8zM285.9 326.4l1.9 -3.4h-3.8zM292.8 326.4l1.9 -3.4h-3.8zM299.6 326.4l1.9 -3.4h-3.8zM306.5 326.4l1.9 -3.4h-3.8zM313.3 326.4l1.9 -3.4h-3.8zM320.1 326.4l1.9 -3.4h-3.8zM327 326.4l1.9 -3.4h-3.8zM333.8 326.4l1.9 -3.4h-3.8zM340.7 326.4l1.9 -3.4h-3.8zM347.5 326.4l1.9 -3.4h-3.8z" fill="#00ff00" stroke="#00ff00" stroke-width="0.4"/>
<polyline points="217.5,265.5 224.4,294.4 231.2,294.4 238,294.4 244.9,294.4 251.7,294.4 258.6,294.4 265.4,294.4 272.2,294.4 279.1,294.4 285.9,294.4 292.8,294.4 299.6,294.4 306.5,294.4 313.3,294.4 320.1,294.4 327,294.4 333.8,294.4 340.7,294.4 347.5,294.4" fill="none" stroke="#00ff00" stroke-width="0.7"/>
<path transform="scale(0.1)" d="M2175 2655h0m1300 289h0m-68 0h0m-69 0h0m-68 0h0m-69 0h0m-68 0h0m-68 0h0m-69 0h0m-68 0h0m-69 0h0m-68 0h0m-69 0h0m-68 0h0m-68 0h0m-69 0h0m-68 0h0m-69 0h0m-68 0h0m-68 0h0" stroke="#00ff00" stroke-width="29.0" stroke-linecap="round"/>
<rect x="217.5" y="190.3" width="130.0" height="134.2" fill="none" stroke="#9a9a9a" stroke-width="0.6"/>
<path d="M217.5,324.5v-1.3M217.5,190.3v1.3M243.5,324.5v-1.3M243.5,190.3v1.3M269.5,324.5v-1.3M269.5,190.3v1.3M295.5,324.5v-1.3M295.5,190.3v1.3M321.5,324.5v-1.3M321.5,190.3v1.3M347.5,324.5v-1.3M347.5,190.3v1.3M217.5,324.5h1.3M347.5,324.5h-1.3M217.5,297.7h1.3M347.5,297.7h-1.3M217.5,270.8h1.3M347.5,270.8h-1.3M217.5,244h1.3M347.5,244h-1.3M217.5,217.1h1.3M347.5,217.1h-1.3M217.5,190.3h1.3M347.5,190.3h-1.3" stroke="#9a9a9a" stroke-width="0.5"/>
<text x="217.5" y="333.8" font-size="7.2" text-anchor="middle">0</text>
<text x="243.5" y="333.8" font-size="7.2" text-anchor="middle">2000</text>
<text x="269.5" y="333.8" font-size="7.2" text-anchor="middle">4000</text>
<text x="295.5" y="333.8" font-size="7.2" text-anchor="middle">6000</text>
<text x="321.5" y="333.8" font-size="7.2" text-anchor="middle">8000</text>
<text x="347.5" y="333.8" font-size="7.2" text-anchor="middle">10000</text>
<text x="215" y="327" font-size="7.2" text-anchor="end">0</text>
<text x="215" y="300.2" font-size="7.2" text-anchor="end">1</text>
<text x="215" y="273.3" font-size="7.2" text-anchor="end">2</text>
<text x="215" y="246.5" font-size="7.2" text-anchor="end">3</text>
<text x="215" y="219.6" font-size="7.2" text-anchor="end">4</text>
<text x="215" y="192.8" font-size="7.2" text-anchor="end">5</text>
<text x="219" y="189.8" font-size="7.6">×10</text><text x="231.3" y="186.4" font-size="5.6">10</text>
<text x="283" y="188.8" font-size="7.2" text-anchor="middle" font-weight="bold">F12</text>
<text x="283" y="342.8" font-size="7.2" text-anchor="middle" font-weight="bold">Iterations</text>
<text x="204.8" y="257.4" font-size="7.2" text-anchor="middle" font-weight="bold" transform="rotate(-90 204.8 257.4)">Best score obtained</text>
<rect x="296.8" y="194.4" width="47" height="106.4" fill="#ffffff" stroke="#9a9a9a" stroke-width="0.5"/>
<path d="M298.6,200.4H312.3" stroke="#0000ff" stroke-width="2.2"/>
<circle cx="305.4" cy="200.4" r="2.4" fill="#0000ff" stroke="#0000ff" stroke-width="0.5"/>
<text x="314.2" y="203" font-size="7.55">MACOA</text>
<path d="M298.6,209.1H312.3" stroke="#ff00ff" stroke-width="0.95"/>
<circle cx="305.4" cy="209.1" r="1.5" fill="#ff80ff" stroke="#ff00ff" stroke-width="0.5"/>
<text x="314.2" y="211.7" font-size="7.55">COA</text>
<path d="M298.6,217.8H312.3" stroke="#000000" stroke-width="0.95"/>
<circle cx="305.4" cy="217.8" r="0.9" fill="#000000"/>
<text x="314.2" y="220.4" font-size="7.55">SABO</text>
<path d="M298.6,226.4H312.3" stroke="#ff0000" stroke-width="0.95"/>
<circle cx="305.4" cy="226.4" r="1.5" fill="#ffb0b0" stroke="#ff0000" stroke-width="0.5"/>
<text x="314.2" y="229" font-size="7.55">WSO</text>
<path d="M298.6,235.1H312.3" stroke="#000000" stroke-width="0.95"/>
<path d="M305.4,233.3L307.2,236.6L303.6,236.6Z" fill="#808080" stroke="#000000" stroke-width="0.5"/>
<text x="314.2" y="237.7" font-size="7.55">SCSO</text>
<path d="M298.6,243.8H312.3" stroke="#ff0000" stroke-width="0.95"/>
<path d="M305.4,245.7L307.3,242.3L303.5,242.3Z" fill="#ff0000" stroke="#ff0000" stroke-width="0.4"/>
<text x="314.2" y="246.4" font-size="7.55">GJO</text>
<path d="M298.6,252.5H312.3" stroke="#ff0000" stroke-width="0.95"/>
<circle cx="305.4" cy="252.5" r="1.4" fill="#ff0000" stroke="#ff0000" stroke-width="0.4"/>
<text x="314.2" y="255.1" font-size="7.55">TSA</text>
<path d="M298.6,261.2H312.3" stroke="#00ff00" stroke-width="0.95"/>
<circle cx="305.4" cy="261.2" r="1.8" fill="#80ff80" stroke="#00ff00" stroke-width="0.5"/>
<text x="314.2" y="263.8" font-size="7.55">WOA</text>
<path d="M298.6,269.8H312.3" stroke="#000000" stroke-width="0.95"/>
<path d="M305.4,271.7L307.3,268.3L303.5,268.3Z" fill="#000000" stroke="#000000" stroke-width="0.4"/>
<text x="314.2" y="272.4" font-size="7.55">GWO</text>
<path d="M298.6,278.5H312.3" stroke="#00ff00" stroke-width="0.95"/>
<path d="M305.4,280.4L307.3,277L303.5,277Z" fill="#00ff00" stroke="#00ff00" stroke-width="0.4"/>
<text x="314.2" y="281.1" font-size="7.55">TLBO</text>
<path d="M298.6,287.2H312.3" stroke="#00ffff" stroke-width="0.95"/>
<circle cx="305.4" cy="287.2" r="1.5" fill="#00ffff" stroke="#00ffff" stroke-width="0.5"/>
<text x="314.2" y="289.8" font-size="7.55">GSA</text>
<path d="M298.6,295.9H312.3" stroke="#00ff00" stroke-width="0.95"/>
<circle cx="305.4" cy="295.9" r="1.2" fill="#00ff00" stroke="#00ff00" stroke-width="0.4"/>
<text x="314.2" y="298.5" font-size="7.55">PSO</text>
<path d="M243.5,368V503.3M269.5,368V503.3M295.5,368V503.3M321.5,368V503.3M217.5,480.8H347.5M217.5,458.2H347.5M217.5,435.6H347.5M217.5,413.1H347.5M217.5,390.6H347.5" stroke="#ebebeb" stroke-width="0.6" fill="none"/>
<polyline points="217.5,371.4 224.4,462.3 231.2,462.3 238,462.3 244.9,462.3 251.7,462.3 258.6,462.3 265.4,462.3 272.2,462.3 279.1,462.3 285.9,462.3 292.8,462.3 299.6,462.3 306.5,462.3 313.3,462.3 320.1,462.3 327,462.3 333.8,462.3 340.7,462.3 347.5,462.3" fill="none" stroke="#ff00ff" stroke-width="0.7"/>
<path transform="scale(0.1)" d="M2175 3714h0m1300 909h0m-68 0h0m-69 0h0m-68 0h0m-69 0h0m-68 0h0m-68 0h0m-69 0h0m-68 0h0m-69 0h0m-68 0h0m-69 0h0m-68 0h0m-68 0h0m-69 0h0m-68 0h0m-69 0h0m-68 0h0m-68 0h0" stroke="#ff00ff" stroke-width="35.0" stroke-linecap="round"/><path transform="scale(0.1)" d="M2175 3714h0m1300 909h0m-68 0h0m-69 0h0m-68 0h0m-69 0h0m-68 0h0m-68 0h0m-69 0h0m-68 0h0m-69 0h0m-68 0h0m-69 0h0m-68 0h0m-68 0h0m-69 0h0m-68 0h0m-69 0h0m-68 0h0m-68 0h0" stroke="#ff80ff" stroke-width="25.0" stroke-linecap="round"/>
<polyline points="217.5,374.8 224.4,503.3 231.2,503.3 238,503.3 244.9,503.3 251.7,503.3 258.6,503.3 265.4,503.3 272.2,503.3 279.1,503.3 285.9,503.3 292.8,503.3 299.6,503.3 306.5,503.3 313.3,503.3 320.1,503.3 327,503.3 333.8,503.3 340.7,503.3 347.5,503.3" fill="none" stroke="#000000" stroke-width="0.7"/>
<path transform="scale(0.1)" d="M2175 3748h0m1300 1285h0m-68 0h0m-69 0h0m-68 0h0m-69 0h0m-68 0h0m-68 0h0m-69 0h0m-68 0h0m-69 0h0m-68 0h0m-69 0h0m-68 0h0m-68 0h0m-69 0h0m-68 0h0m-69 0h0m-68 0h0m-68 0h0" stroke="#000000" stroke-width="18.0" stroke-linecap="round"/>
<polyline points="217.5,460.5 224.4,503.3 231.2,503.3 238,503.3 244.9,503.3 251.7,503.3 258.6,503.3 265.4,503.3 272.2,503.3 279.1,503.3 285.9,503.3 292.8,503.3 299.6,503.3 306.5,503.3 313.3,503.3 320.1,503.3 327,503.3 333.8,503.3 340.7,503.3 347.5,503.3" fill="none" stroke="#ff0000" stroke-width="0.7"/>
<path transform="scale(0.1)" d="M2175 4605h0m1300 428h0m-68 0h0m-69 0h0m-68 0h0m-69 0h0m-68 0h0m-68 0h0m-69 0h0m-68 0h0m-69 0h0m-68 0h0m-69 0h0m-68 0h0m-68 0h0m-69 0h0m-68 0h0m-69 0h0m-68 0h0m-68 0h0" stroke="#ff0000" stroke-width="35.0" stroke-linecap="round"/><path transform="scale(0.1)" d="M2175 4605h0m1300 428h0m-68 0h0m-69 0h0m-68 0h0m-69 0h0m-68 0h0m-68 0h0m-69 0h0m-68 0h0m-69 0h0m-68 0h0m-69 0h0m-68 0h0m-68 0h0m-69 0h0m-68 0h0m-69 0h0m-68 0h0m-68 0h0" stroke="#ffb0b0" stroke-width="25.0" stroke-linecap="round"/>
<polyline points="217.5,453.7 224.4,498.8 231.2,499.9 238,500.6 244.9,503.3 251.7,503.3 258.6,503.3 265.4,503.3 272.2,503.3 279.1,503.3 285.9,503.3 292.8,503.3 299.6,503.3 306.5,503.3 313.3,503.3 320.1,503.3 327,503.3 333.8,503.3 340.7,503.3 347.5,503.3" fill="none" stroke="#000000" stroke-width="0.7"/>
<path d="M217.5 451.9l1.8 3.2h-3.6zM224.4 497l1.8 3.2h-3.6zM231.2 498.1l1.8 3.2h-3.6zM238 498.8l1.8 3.2h-3.6zM244.9 501.5l1.8 3.2h-3.6zM251.7 501.5l1.8 3.2h-3.6zM258.6 501.5l1.8 3.2h-3.6zM265.4 501.5l1.8 3.2h-3.6zM272.2 501.5l1.8 3.2h-3.6zM279.1 501.5l1.8 3.2h-3.6zM285.9 501.5l1.8 3.2h-3.6zM292.8 501.5l1.8 3.2h-3.6zM299.6 501.5l1.8 3.2h-3.6zM306.5 501.5l1.8 3.2h-3.6zM313.3 501.5l1.8 3.2h-3.6zM320.1 501.5l1.8 3.2h-3.6zM327 501.5l1.8 3.2h-3.6zM333.8 501.5l1.8 3.2h-3.6zM340.7 501.5l1.8 3.2h-3.6zM347.5 501.5l1.8 3.2h-3.6z" fill="#808080" stroke="#000000" stroke-width="0.4"/>
<polyline points="217.5,391.9 224.4,503.3 231.2,503.3 238,503.3 244.9,503.3 251.7,503.3 258.6,503.3 265.4,503.3 272.2,503.3 279.1,503.3 285.9,503.3 292.8,503.3 299.6,503.3 306.5,503.3 313.3,503.3 320.1,503.3 327,503.3 333.8,503.3 340.7,503.3 347.5,503.3" fill="none" stroke="#ff0000" stroke-width="0.7"/>
<path d="M217.5 393.8l1.9 -3.4h-3.8zM224.4 505.2l1.9 -3.4h-3.8zM231.2 505.2l1.9 -3.4h-3.8zM238 505.2l1.9 -3.4h-3.8zM244.9 505.2l1.9 -3.4h-3.8zM251.7 505.2l1.9 -3.4h-3.8zM258.6 505.2l1.9 -3.4h-3.8zM265.4 505.2l1.9 -3.4h-3.8zM272.2 505.2l1.9 -3.4h-3.8zM279.1 505.2l1.9 -3.4h-3.8zM285.9 505.2l1.9 -3.4h-3.8zM292.8 505.2l1.9 -3.4h-3.8zM299.6 505.2l1.9 -3.4h-3.8zM306.5 505.2l1.9 -3.4h-3.8zM313.3 505.2l1.9 -3.4h-3.8zM320.1 505.2l1.9 -3.4h-3.8zM327 505.2l1.9 -3.4h-3.8zM333.8 505.2l1.9 -3.4h-3.8zM340.7 505.2l1.9 -3.4h-3.8zM347.5 505.2l1.9 -3.4h-3.8z" fill="#ff0000" stroke="#ff0000" stroke-width="0.4"/>
<polyline points="217.5,435.6 224.4,482.3 231.2,482.3 238,482.3 244.9,482.3 251.7,482.3 258.6,482.3 265.4,482.3 272.2,482.3 279.1,482.3 285.9,482.3 292.8,482.3 299.6,482.3 306.5,482.3 313.3,482.3 320.1,482.3 327,482.3 333.8,482.3 340.7,482.3 347.5,482.3" fill="none" stroke="#ff0000" stroke-width="0.7"/>
<path transform="scale(0.1)" d="M2175 4356h0m69 467h0m68 0h0m68 0h0m69 0h0m68 0h0m69 0h0m68 0h0m68 0h0m69 0h0m68 0h0m69 0h0m68 0h0m69 0h0m68 0h0m68 0h0m69 0h0m68 0h0m69 0h0m68 0h0" stroke="#ff0000" stroke-width="33.0" stroke-linecap="round"/>
<polyline points="217.5,449.2 224.4,503.3 231.2,503.3 238,503.3 244.9,503.3 251.7,503.3 258.6,503.3 265.4,503.3 272.2,503.3 279.1,503.3 285.9,503.3 292.8,503.3 299.6,503.3 306.5,503.3 313.3,503.3 320.1,503.3 327,503.3 333.8,503.3 340.7,503.3 347.5,503.3" fill="none" stroke="#000000" stroke-width="0.7"/>
<path d="M217.5 451.1l1.9 -3.4h-3.8zM224.4 505.2l1.9 -3.4h-3.8zM231.2 505.2l1.9 -3.4h-3.8zM238 505.2l1.9 -3.4h-3.8zM244.9 505.2l1.9 -3.4h-3.8zM251.7 505.2l1.9 -3.4h-3.8zM258.6 505.2l1.9 -3.4h-3.8zM265.4 505.2l1.9 -3.4h-3.8zM272.2 505.2l1.9 -3.4h-3.8zM279.1 505.2l1.9 -3.4h-3.8zM285.9 505.2l1.9 -3.4h-3.8zM292.8 505.2l1.9 -3.4h-3.8zM299.6 505.2l1.9 -3.4h-3.8zM306.5 505.2l1.9 -3.4h-3.8zM313.3 505.2l1.9 -3.4h-3.8zM320.1 505.2l1.9 -3.4h-3.8zM327 505.2l1.9 -3.4h-3.8zM333.8 505.2l1.9 -3.4h-3.8zM340.7 505.2l1.9 -3.4h-3.8zM347.5 505.2l1.9 -3.4h-3.8z" fill="#000000" stroke="#000000" stroke-width="0.4"/>
<polyline points="217.5,455.9 224.4,503.3 231.2,503.3 238,503.3 244.9,503.3 251.7,503.3 258.6,503.3 265.4,503.3 272.2,503.3 279.1,503.3 285.9,503.3 292.8,503.3 299.6,503.3 306.5,503.3 313.3,503.3 320.1,503.3 327,503.3 333.8,503.3 340.7,503.3 347.5,503.3" fill="none" stroke="#00ffff" stroke-width="0.7"/>
<path transform="scale(0.1)" d="M2175 4559h0m1300 474h0m-68 0h0m-69 0h0m-68 0h0m-69 0h0m-68 0h0m-68 0h0m-69 0h0m-68 0h0m-69 0h0m-68 0h0m-69 0h0m-68 0h0m-68 0h0m-69 0h0m-68 0h0m-69 0h0m-68 0h0m-68 0h0" stroke="#00ffff" stroke-width="35.0" stroke-linecap="round"/>
<polyline points="217.5,404.8 224.4,503.3 231.2,503.3 238,503.3 244.9,503.3 251.7,503.3 258.6,503.3 265.4,503.3 272.2,503.3 279.1,503.3 285.9,503.3 292.8,503.3 299.6,503.3 306.5,503.3 313.3,503.3 320.1,503.3 327,503.3 333.8,503.3 340.7,503.3 347.5,503.3" fill="none" stroke="#0000ff" stroke-width="2.2"/>
<path transform="scale(0.1)" d="M2175 4048h0m1300 985h0m-68 0h0m-69 0h0m-68 0h0m-69 0h0m-68 0h0m-68 0h0m-69 0h0m-68 0h0m-69 0h0m-68 0h0m-69 0h0m-68 0h0m-68 0h0m-69 0h0m-68 0h0m-69 0h0m-68 0h0m-68 0h0" stroke="#0000ff" stroke-width="53.0" stroke-linecap="round"/>
<polyline points="217.5,414.5 224.4,495 231.2,495 238,495 244.9,495 251.7,495 258.6,495 265.4,495 272.2,495 279.1,495 285.9,495 292.8,495 299.6,495 306.5,495 313.3,495 320.1,495 327,495 333.8,495 340.7,495 347.5,495" fill="none" stroke="#00ff00" stroke-width="0.8"/>
<path transform="scale(0.1)" d="M2175 4145h0m69 805h0m68 0h0m68 0h0m69 0h0m68 0h0m69 0h0m68 0h0m68 0h0m69 0h0m68 0h0m69 0h0m68 0h0m69 0h0m68 0h0m68 0h0m69 0h0m68 0h0m69 0h0m68 0h0" stroke="#00ff00" stroke-width="41.0" stroke-linecap="round"/><path transform="scale(0.1)" d="M2175 4145h0m69 805h0m68 0h0m68 0h0m69 0h0m68 0h0m69 0h0m68 0h0m68 0h0m69 0h0m68 0h0m69 0h0m68 0h0m69 0h0m68 0h0m68 0h0m69 0h0m68 0h0m69 0h0m68 0h0" stroke="#80ff80" stroke-width="31.0" stroke-linecap="round"/>
<polyline points="217.5,453.7 224.4,503.3 231.2,503.3 238,503.3 244.9,503.3 251.7,503.3 258.6,503.3 265.4,503.3 272.2,503.3 279.1,503.3 285.9,503.3 292.8,503.3 299.6,503.3 306.5,503.3 313.3,503.3 320.1,503.3 327,503.3 333.8,503.3 340.7,503.3 347.5,503.3" fill="none" stroke="#00ff00" stroke-width="0.7"/>
<path d="M217.5 455.6l1.9 -3.4h-3.8zM224.4 505.2l1.9 -3.4h-3.8zM231.2 505.2l1.9 -3.4h-3.8zM238 505.2l1.9 -3.4h-3.8zM244.9 505.2l1.9 -3.4h-3.8zM251.7 505.2l1.9 -3.4h-3.8zM258.6 505.2l1.9 -3.4h-3.8zM265.4 505.2l1.9 -3.4h-3.8zM272.2 505.2l1.9 -3.4h-3.8zM279.1 505.2l1.9 -3.4h-3.8zM285.9 505.2l1.9 -3.4h-3.8zM292.8 505.2l1.9 -3.4h-3.8zM299.6 505.2l1.9 -3.4h-3.8zM306.5 505.2l1.9 -3.4h-3.8zM313.3 505.2l1.9 -3.4h-3.8zM320.1 505.2l1.9 -3.4h-3.8zM327 505.2l1.9 -3.4h-3.8zM333.8 505.2l1.9 -3.4h-3.8zM340.7 505.2l1.9 -3.4h-3.8zM347.5 505.2l1.9 -3.4h-3.8z" fill="#00ff00" stroke="#00ff00" stroke-width="0.4"/>
<polyline points="217.5,481.7 224.4,503.3 231.2,503.3 238,503.3 244.9,503.3 251.7,503.3 258.6,503.3 265.4,503.3 272.2,503.3 279.1,503.3 285.9,503.3 292.8,503.3 299.6,503.3 306.5,503.3 313.3,503.3 320.1,503.3 327,503.3 333.8,503.3 340.7,503.3 347.5,503.3" fill="none" stroke="#00ff00" stroke-width="0.7"/>
<path transform="scale(0.1)" d="M2175 4817h0m1300 216h0m-68 0h0m-69 0h0m-68 0h0m-69 0h0m-68 0h0m-68 0h0m-69 0h0m-68 0h0m-69 0h0m-68 0h0m-69 0h0m-68 0h0m-68 0h0m-69 0h0m-68 0h0m-69 0h0m-68 0h0m-68 0h0" stroke="#00ff00" stroke-width="29.0" stroke-linecap="round"/>
<rect x="217.5" y="368" width="130.0" height="135.3" fill="none" stroke="#9a9a9a" stroke-width="0.6"/>
<path d="M217.5,503.3v-1.3M217.5,368v1.3M243.5,503.3v-1.3M243.5,368v1.3M269.5,503.3v-1.3M269.5,368v1.3M295.5,503.3v-1.3M295.5,368v1.3M321.5,503.3v-1.3M321.5,368v1.3M347.5,503.3v-1.3M347.5,368v1.3M217.5,503.3h1.3M347.5,503.3h-1.3M217.5,480.8h1.3M347.5,480.8h-1.3M217.5,458.2h1.3M347.5,458.2h-1.3M217.5,435.6h1.3M347.5,435.6h-1.3M217.5,413.1h1.3M347.5,413.1h-1.3M217.5,390.6h1.3M347.5,390.6h-1.3M217.5,368h1.3M347.5,368h-1.3" stroke="#9a9a9a" stroke-width="0.5"/>
<text x="217.5" y="512.6" font-size="7.2" text-anchor="middle">0</text>
<text x="243.5" y="512.6" font-size="7.2" text-anchor="middle">2000</text>
<text x="269.5" y="512.6" font-size="7.2" text-anchor="middle">4000</text>
<text x="295.5" y="512.6" font-size="7.2" text-anchor="middle">6000</text>
<text x="321.5" y="512.6" font-size="7.2" text-anchor="middle">8000</text>
<text x="347.5" y="512.6" font-size="7.2" text-anchor="middle">10000</text>
<text x="215" y="505.8" font-size="7.2" text-anchor="end">0</text>
<text x="215" y="483.2" font-size="7.2" text-anchor="end">1</text>
<text x="215" y="460.7" font-size="7.2" text-anchor="end">2</text>
<text x="215" y="438.1" font-size="7.2" text-anchor="end">3</text>
<text x="215" y="415.6" font-size="7.2" text-anchor="end">4</text>
<text x="215" y="393.1" font-size="7.2" text-anchor="end">5</text>
<text x="215" y="370.5" font-size="7.2" text-anchor="end">6</text>
<text x="219" y="367.5" font-size="7.6">×10</text><text x="231.3" y="364.1" font-size="5.6">10</text>
<text x="283" y="366.5" font-size="7.2" text-anchor="middle" font-weight="bold">F13</text>
<text x="283" y="521.6" font-size="7.2" text-anchor="middle" font-weight="bold">Iterations</text>
<text x="204.8" y="435.6" font-size="7.2" text-anchor="middle" font-weight="bold" transform="rotate(-90 204.8 435.6)">Best score obtained</text>
<rect x="296.8" y="372.1" width="47" height="106.4" fill="#ffffff" stroke="#9a9a9a" stroke-width="0.5"/>
<path d="M298.6,378.1H312.3" stroke="#0000ff" stroke-width="2.2"/>
<circle cx="305.4" cy="378.1" r="2.4" fill="#0000ff" stroke="#0000ff" stroke-width="0.5"/>
<text x="314.2" y="380.7" font-size="7.55">MACOA</text>
<path d="M298.6,386.8H312.3" stroke="#ff00ff" stroke-width="0.95"/>
<circle cx="305.4" cy="386.8" r="1.5" fill="#ff80ff" stroke="#ff00ff" stroke-width="0.5"/>
<text x="314.2" y="389.4" font-size="7.55">COA</text>
<path d="M298.6,395.5H312.3" stroke="#000000" stroke-width="0.95"/>
<circle cx="305.4" cy="395.5" r="0.9" fill="#000000"/>
<text x="314.2" y="398.1" font-size="7.55">SABO</text>
<path d="M298.6,404.1H312.3" stroke="#ff0000" stroke-width="0.95"/>
<circle cx="305.4" cy="404.1" r="1.5" fill="#ffb0b0" stroke="#ff0000" stroke-width="0.5"/>
<text x="314.2" y="406.7" font-size="7.55">WSO</text>
<path d="M298.6,412.8H312.3" stroke="#000000" stroke-width="0.95"/>
<path d="M305.4,411L307.2,414.3L303.6,414.3Z" fill="#808080" stroke="#000000" stroke-width="0.5"/>
<text x="314.2" y="415.4" font-size="7.55">SCSO</text>
<path d="M298.6,421.5H312.3" stroke="#ff0000" stroke-width="0.95"/>
<path d="M305.4,423.4L307.3,420L303.5,420Z" fill="#ff0000" stroke="#ff0000" stroke-width="0.4"/>
<text x="314.2" y="424.1" font-size="7.55">GJO</text>
<path d="M298.6,430.2H312.3" stroke="#ff0000" stroke-width="0.95"/>
<circle cx="305.4" cy="430.2" r="1.4" fill="#ff0000" stroke="#ff0000" stroke-width="0.4"/>
<text x="314.2" y="432.8" font-size="7.55">TSA</text>
<path d="M298.6,438.9H312.3" stroke="#00ff00" stroke-width="0.95"/>
<circle cx="305.4" cy="438.9" r="1.8" fill="#80ff80" stroke="#00ff00" stroke-width="0.5"/>
<text x="314.2" y="441.5" font-size="7.55">WOA</text>
<path d="M298.6,447.5H312.3" stroke="#000000" stroke-width="0.95"/>
<path d="M305.4,449.4L307.3,446L303.5,446Z" fill="#000000" stroke="#000000" stroke-width="0.4"/>
<text x="314.2" y="450.1" font-size="7.55">GWO</text>
<path d="M298.6,456.2H312.3" stroke="#00ff00" stroke-width="0.95"/>
<path d="M305.4,458.1L307.3,454.7L303.5,454.7Z" fill="#00ff00" stroke="#00ff00" stroke-width="0.4"/>
<text x="314.2" y="458.8" font-size="7.55">TLBO</text>
<path d="M298.6,464.9H312.3" stroke="#00ffff" stroke-width="0.95"/>
<circle cx="305.4" cy="464.9" r="1.5" fill="#00ffff" stroke="#00ffff" stroke-width="0.5"/>
<text x="314.2" y="467.5" font-size="7.55">GSA</text>
<path d="M298.6,473.6H312.3" stroke="#00ff00" stroke-width="0.95"/>
<circle cx="305.4" cy="473.6" r="1.2" fill="#00ff00" stroke="#00ff00" stroke-width="0.4"/>
<text x="314.2" y="476.2" font-size="7.55">PSO</text>
<path d="M243.5,545.6V680.5M269.5,545.6V680.5M295.5,545.6V680.5M321.5,545.6V680.5M217.5,661.2H347.5M217.5,642H347.5M217.5,622.7H347.5M217.5,603.4H347.5M217.5,584.1H347.5M217.5,564.9H347.5" stroke="#ebebeb" stroke-width="0.6" fill="none"/>
<polyline points="217.5,668.9 224.4,680.5 231.2,680.5 238,680.5 244.9,680.5 251.7,680.5 258.6,680.5 265.4,680.5 272.2,680.5 279.1,680.5 285.9,680.5 292.8,680.5 299.6,680.5 306.5,680.5 313.3,680.5 320.1,680.5 327,680.5 333.8,680.5 340.7,680.5 347.5,680.5" fill="none" stroke="#ff00ff" stroke-width="0.7"/>
<path transform="scale(0.1)" d="M2175 6689h0m1300 116h0m-68 0h0m-69 0h0m-68 0h0m-69 0h0m-68 0h0m-68 0h0m-69 0h0m-68 0h0m-69 0h0m-68 0h0m-69 0h0m-68 0h0m-68 0h0m-69 0h0m-68 0h0m-69 0h0m-68 0h0m-68 0h0" stroke="#ff00ff" stroke-width="35.0" stroke-linecap="round"/><path transform="scale(0.1)" d="M2175 6689h0m1300 116h0m-68 0h0m-69 0h0m-68 0h0m-69 0h0m-68 0h0m-68 0h0m-69 0h0m-68 0h0m-69 0h0m-68 0h0m-69 0h0m-68 0h0m-68 0h0m-69 0h0m-68 0h0m-69 0h0m-68 0h0m-68 0h0" stroke="#ff80ff" stroke-width="25.0" stroke-linecap="round"/>
<polyline points="217.5,561 224.4,680.5 231.2,680.5 238,680.5 244.9,680.5 251.7,680.5 258.6,680.5 265.4,680.5 272.2,680.5 279.1,680.5 285.9,680.5 292.8,680.5 299.6,680.5 306.5,680.5 313.3,680.5 320.1,680.5 327,680.5 333.8,680.5 340.7,680.5 347.5,680.5" fill="none" stroke="#000000" stroke-width="0.7"/>
<path transform="scale(0.1)" d="M2175 5610h0m1300 1195h0m-68 0h0m-69 0h0m-68 0h0m-69 0h0m-68 0h0m-68 0h0m-69 0h0m-68 0h0m-69 0h0m-68 0h0m-69 0h0m-68 0h0m-68 0h0m-69 0h0m-68 0h0m-69 0h0m-68 0h0m-68 0h0" stroke="#000000" stroke-width="18.0" stroke-linecap="round"/>
<polyline points="217.5,661.2 224.4,680.5 231.2,680.5 238,680.5 244.9,680.5 251.7,680.5 258.6,680.5 265.4,680.5 272.2,680.5 279.1,680.5 285.9,680.5 292.8,680.5 299.6,680.5 306.5,680.5 313.3,680.5 320.1,680.5 327,680.5 333.8,680.5 340.7,680.5 347.5,680.5" fill="none" stroke="#ff0000" stroke-width="0.7"/>
<path transform="scale(0.1)" d="M2175 6612h0m1300 193h0m-68 0h0m-69 0h0m-68 0h0m-69 0h0m-68 0h0m-68 0h0m-69 0h0m-68 0h0m-69 0h0m-68 0h0m-69 0h0m-68 0h0m-68 0h0m-69 0h0m-68 0h0m-69 0h0m-68 0h0m-68 0h0" stroke="#ff0000" stroke-width="35.0" stroke-linecap="round"/><path transform="scale(0.1)" d="M2175 6612h0m1300 193h0m-68 0h0m-69 0h0m-68 0h0m-69 0h0m-68 0h0m-68 0h0m-69 0h0m-68 0h0m-69 0h0m-68 0h0m-69 0h0m-68 0h0m-68 0h0m-69 0h0m-68 0h0m-69 0h0m-68 0h0m-68 0h0" stroke="#ffb0b0" stroke-width="25.0" stroke-linecap="round"/>
<polyline points="217.5,663.2 224.4,680.5 231.2,680.5 238,680.5 244.9,680.5 251.7,680.5 258.6,680.5 265.4,680.5 272.2,680.5 279.1,680.5 285.9,680.5 292.8,680.5 299.6,680.5 306.5,680.5 313.3,680.5 320.1,680.5 327,680.5 333.8,680.5 340.7,680.5 347.5,680.5" fill="none" stroke="#000000" stroke-width="0.7"/>
<path d="M217.5 661.4l1.8 3.2h-3.6zM224.4 678.7l1.8 3.2h-3.6zM231.2 678.7l1.8 3.2h-3.6zM238 678.7l1.8 3.2h-3.6zM244.9 678.7l1.8 3.2h-3.6zM251.7 678.7l1.8 3.2h-3.6zM258.6 678.7l1.8 3.2h-3.6zM265.4 678.7l1.8 3.2h-3.6zM272.2 678.7l1.8 3.2h-3.6zM279.1 678.7l1.8 3.2h-3.6zM285.9 678.7l1.8 3.2h-3.6zM292.8 678.7l1.8 3.2h-3.6zM299.6 678.7l1.8 3.2h-3.6zM306.5 678.7l1.8 3.2h-3.6zM313.3 678.7l1.8 3.2h-3.6zM320.1 678.7l1.8 3.2h-3.6zM327 678.7l1.8 3.2h-3.6zM333.8 678.7l1.8 3.2h-3.6zM340.7 678.7l1.8 3.2h-3.6zM347.5 678.7l1.8 3.2h-3.6z" fill="#808080" stroke="#000000" stroke-width="0.4"/>
<polyline points="217.5,629.2 224.4,680.5 231.2,680.5 238,680.5 244.9,680.5 251.7,680.5 258.6,680.5 265.4,680.5 272.2,680.5 279.1,680.5 285.9,680.5 292.8,680.5 299.6,680.5 306.5,680.5 313.3,680.5 320.1,680.5 327,680.5 333.8,680.5 340.7,680.5 347.5,680.5" fill="none" stroke="#ff0000" stroke-width="0.7"/>
<path d="M217.5 631.1l1.9 -3.4h-3.8zM224.4 682.4l1.9 -3.4h-3.8zM231.2 682.4l1.9 -3.4h-3.8zM238 682.4l1.9 -3.4h-3.8zM244.9 682.4l1.9 -3.4h-3.8zM251.7 682.4l1.9 -3.4h-3.8zM258.6 682.4l1.9 -3.4h-3.8zM265.4 682.4l1.9 -3.4h-3.8zM272.2 682.4l1.9 -3.4h-3.8zM279.1 682.4l1.9 -3.4h-3.8zM285.9 682.4l1.9 -3.4h-3.8zM292.8 682.4l1.9 -3.4h-3.8zM299.6 682.4l1.9 -3.4h-3.8zM306.5 682.4l1.9 -3.4h-3.8zM313.3 682.4l1.9 -3.4h-3.8zM320.1 682.4l1.9 -3.4h-3.8zM327 682.4l1.9 -3.4h-3.8zM333.8 682.4l1.9 -3.4h-3.8zM340.7 682.4l1.9 -3.4h-3.8zM347.5 682.4l1.9 -3.4h-3.8z" fill="#ff0000" stroke="#ff0000" stroke-width="0.4"/>
<polyline points="217.5,662 224.4,680.5 231.2,680.5 238,680.5 244.9,680.5 251.7,680.5 258.6,680.5 265.4,680.5 272.2,680.5 279.1,680.5 285.9,680.5 292.8,680.5 299.6,680.5 306.5,680.5 313.3,680.5 320.1,680.5 327,680.5 333.8,680.5 340.7,680.5 347.5,680.5" fill="none" stroke="#ff0000" stroke-width="0.7"/>
<path transform="scale(0.1)" d="M2175 6620h0m1300 185h0m-68 0h0m-69 0h0m-68 0h0m-69 0h0m-68 0h0m-68 0h0m-69 0h0m-68 0h0m-69 0h0m-68 0h0m-69 0h0m-68 0h0m-68 0h0m-69 0h0m-68 0h0m-69 0h0m-68 0h0m-68 0h0" stroke="#ff0000" stroke-width="33.0" stroke-linecap="round"/>
<polyline points="217.5,664.3 224.4,680.5 231.2,680.5 238,680.5 244.9,680.5 251.7,680.5 258.6,680.5 265.4,680.5 272.2,680.5 279.1,680.5 285.9,680.5 292.8,680.5 299.6,680.5 306.5,680.5 313.3,680.5 320.1,680.5 327,680.5 333.8,680.5 340.7,680.5 347.5,680.5" fill="none" stroke="#000000" stroke-width="0.7"/>
<path d="M217.5 666.2l1.9 -3.4h-3.8zM224.4 682.4l1.9 -3.4h-3.8zM231.2 682.4l1.9 -3.4h-3.8zM238 682.4l1.9 -3.4h-3.8zM244.9 682.4l1.9 -3.4h-3.8zM251.7 682.4l1.9 -3.4h-3.8zM258.6 682.4l1.9 -3.4h-3.8zM265.4 682.4l1.9 -3.4h-3.8zM272.2 682.4l1.9 -3.4h-3.8zM279.1 682.4l1.9 -3.4h-3.8zM285.9 682.4l1.9 -3.4h-3.8zM292.8 682.4l1.9 -3.4h-3.8zM299.6 682.4l1.9 -3.4h-3.8zM306.5 682.4l1.9 -3.4h-3.8zM313.3 682.4l1.9 -3.4h-3.8zM320.1 682.4l1.9 -3.4h-3.8zM327 682.4l1.9 -3.4h-3.8zM333.8 682.4l1.9 -3.4h-3.8zM340.7 682.4l1.9 -3.4h-3.8zM347.5 682.4l1.9 -3.4h-3.8z" fill="#000000" stroke="#000000" stroke-width="0.4"/>
<polyline points="217.5,673.6 224.4,680.5 231.2,680.5 238,680.5 244.9,680.5 251.7,680.5 258.6,680.5 265.4,680.5 272.2,680.5 279.1,680.5 285.9,680.5 292.8,680.5 299.6,680.5 306.5,680.5 313.3,680.5 320.1,680.5 327,680.5 333.8,680.5 340.7,680.5 347.5,680.5" fill="none" stroke="#00ffff" stroke-width="0.7"/>
<path transform="scale(0.1)" d="M2175 6736h0m1300 69h0m-68 0h0m-69 0h0m-68 0h0m-69 0h0m-68 0h0m-68 0h0m-69 0h0m-68 0h0m-69 0h0m-68 0h0m-69 0h0m-68 0h0m-68 0h0m-69 0h0m-68 0h0m-69 0h0m-68 0h0m-68 0h0" stroke="#00ffff" stroke-width="35.0" stroke-linecap="round"/>
<polyline points="217.5,553.7 224.4,680.5 231.2,680.5 238,680.5 244.9,680.5 251.7,680.5 258.6,680.5 265.4,680.5 272.2,680.5 279.1,680.5 285.9,680.5 292.8,680.5 299.6,680.5 306.5,680.5 313.3,680.5 320.1,680.5 327,680.5 333.8,680.5 340.7,680.5 347.5,680.5" fill="none" stroke="#0000ff" stroke-width="2.2"/>
<path transform="scale(0.1)" d="M2175 5537h0m1300 1268h0m-68 0h0m-69 0h0m-68 0h0m-69 0h0m-68 0h0m-68 0h0m-69 0h0m-68 0h0m-69 0h0m-68 0h0m-69 0h0m-68 0h0m-68 0h0m-69 0h0m-68 0h0m-69 0h0m-68 0h0m-68 0h0" stroke="#0000ff" stroke-width="53.0" stroke-linecap="round"/>
<polyline points="217.5,652.7 224.4,664.7 231.2,664.7 238,664.7 244.9,664.7 251.7,664.7 258.6,664.7 265.4,664.7 272.2,664.7 279.1,664.7 285.9,664.7 292.8,664.7 299.6,664.7 306.5,664.7 313.3,664.7 320.1,664.7 327,664.7 333.8,664.7 340.7,664.7 347.5,664.7" fill="none" stroke="#00ff00" stroke-width="0.8"/>
<path transform="scale(0.1)" d="M2175 6527h0m69 120h0m68 0h0m68 0h0m69 0h0m68 0h0m69 0h0m68 0h0m68 0h0m69 0h0m68 0h0m69 0h0m68 0h0m69 0h0m68 0h0m68 0h0m69 0h0m68 0h0m69 0h0m68 0h0" stroke="#00ff00" stroke-width="41.0" stroke-linecap="round"/><path transform="scale(0.1)" d="M2175 6527h0m69 120h0m68 0h0m68 0h0m69 0h0m68 0h0m69 0h0m68 0h0m68 0h0m69 0h0m68 0h0m69 0h0m68 0h0m69 0h0m68 0h0m68 0h0m69 0h0m68 0h0m69 0h0m68 0h0" stroke="#80ff80" stroke-width="31.0" stroke-linecap="round"/>
<polyline points="217.5,623.1 224.4,680.5 231.2,680.5 238,680.5 244.9,680.5 251.7,680.5 258.6,680.5 265.4,680.5 272.2,680.5 279.1,680.5 285.9,680.5 292.8,680.5 299.6,680.5 306.5,680.5 313.3,680.5 320.1,680.5 327,680.5 333.8,680.5 340.7,680.5 347.5,680.5" fill="none" stroke="#00ff00" stroke-width="0.7"/>
<path d="M217.5 625l1.9 -3.4h-3.8zM224.4 682.4l1.9 -3.4h-3.8zM231.2 682.4l1.9 -3.4h-3.8zM238 682.4l1.9 -3.4h-3.8zM244.9 682.4l1.9 -3.4h-3.8zM251.7 682.4l1.9 -3.4h-3.8zM258.6 682.4l1.9 -3.4h-3.8zM265.4 682.4l1.9 -3.4h-3.8zM272.2 682.4l1.9 -3.4h-3.8zM279.1 682.4l1.9 -3.4h-3.8zM285.9 682.4l1.9 -3.4h-3.8zM292.8 682.4l1.9 -3.4h-3.8zM299.6 682.4l1.9 -3.4h-3.8zM306.5 682.4l1.9 -3.4h-3.8zM313.3 682.4l1.9 -3.4h-3.8zM320.1 682.4l1.9 -3.4h-3.8zM327 682.4l1.9 -3.4h-3.8zM333.8 682.4l1.9 -3.4h-3.8zM340.7 682.4l1.9 -3.4h-3.8zM347.5 682.4l1.9 -3.4h-3.8z" fill="#00ff00" stroke="#00ff00" stroke-width="0.4"/>
<polyline points="217.5,568 224.4,680.5 231.2,680.5 238,680.5 244.9,680.5 251.7,680.5 258.6,680.5 265.4,680.5 272.2,680.5 279.1,680.5 285.9,680.5 292.8,680.5 299.6,680.5 306.5,680.5 313.3,680.5 320.1,680.5 327,680.5 333.8,680.5 340.7,680.5 347.5,680.5" fill="none" stroke="#00ff00" stroke-width="0.7"/>
<path transform="scale(0.1)" d="M2175 5680h0m1300 1125h0m-68 0h0m-69 0h0m-68 0h0m-69 0h0m-68 0h0m-68 0h0m-69 0h0m-68 0h0m-69 0h0m-68 0h0m-69 0h0m-68 0h0m-68 0h0m-69 0h0m-68 0h0m-69 0h0m-68 0h0m-68 0h0" stroke="#00ff00" stroke-width="29.0" stroke-linecap="round"/>
<rect x="217.5" y="545.6" width="130.0" height="134.9" fill="none" stroke="#9a9a9a" stroke-width="0.6"/>
<path d="M217.5,680.5v-1.3M217.5,545.6v1.3M243.5,680.5v-1.3M243.5,545.6v1.3M269.5,680.5v-1.3M269.5,545.6v1.3M295.5,680.5v-1.3M295.5,545.6v1.3M321.5,680.5v-1.3M321.5,545.6v1.3M347.5,680.5v-1.3M347.5,545.6v1.3M217.5,680.5h1.3M347.5,680.5h-1.3M217.5,661.2h1.3M347.5,661.2h-1.3M217.5,642h1.3M347.5,642h-1.3M217.5,622.7h1.3M347.5,622.7h-1.3M217.5,603.4h1.3M347.5,603.4h-1.3M217.5,584.1h1.3M347.5,584.1h-1.3M217.5,564.9h1.3M347.5,564.9h-1.3M217.5,545.6h1.3M347.5,545.6h-1.3" stroke="#9a9a9a" stroke-width="0.5"/>
<text x="217.5" y="689.8" font-size="7.2" text-anchor="middle">0</text>
<text x="243.5" y="689.8" font-size="7.2" text-anchor="middle">2000</text>
<text x="269.5" y="689.8" font-size="7.2" text-anchor="middle">4000</text>
<text x="295.5" y="689.8" font-size="7.2" text-anchor="middle">6000</text>
<text x="321.5" y="689.8" font-size="7.2" text-anchor="middle">8000</text>
<text x="347.5" y="689.8" font-size="7.2" text-anchor="middle">10000</text>
<text x="215" y="683" font-size="7.2" text-anchor="end">0</text>
<text x="215" y="663.7" font-size="7.2" text-anchor="end">0.5</text>
<text x="215" y="644.5" font-size="7.2" text-anchor="end">1</text>
<text x="215" y="625.2" font-size="7.2" text-anchor="end">1.5</text>
<text x="215" y="605.9" font-size="7.2" text-anchor="end">2</text>
<text x="215" y="586.6" font-size="7.2" text-anchor="end">2.5</text>
<text x="215" y="567.4" font-size="7.2" text-anchor="end">3</text>
<text x="215" y="548.1" font-size="7.2" text-anchor="end">3.5</text>
<text x="219" y="545.1" font-size="7.6">×10</text><text x="231.3" y="541.7" font-size="5.6">8</text>
<text x="283" y="544.1" font-size="7.2" text-anchor="middle" font-weight="bold">F14</text>
<text x="283" y="698.8" font-size="7.2" text-anchor="middle" font-weight="bold">Iterations</text>
<text x="204.8" y="613" font-size="7.2" text-anchor="middle" font-weight="bold" transform="rotate(-90 204.8 613)">Best score obtained</text>
<rect x="296.8" y="549.7" width="47" height="106.4" fill="#ffffff" stroke="#9a9a9a" stroke-width="0.5"/>
<path d="M298.6,555.7H312.3" stroke="#0000ff" stroke-width="2.2"/>
<circle cx="305.4" cy="555.7" r="2.4" fill="#0000ff" stroke="#0000ff" stroke-width="0.5"/>
<text x="314.2" y="558.3" font-size="7.55">MACOA</text>
<path d="M298.6,564.4H312.3" stroke="#ff00ff" stroke-width="0.95"/>
<circle cx="305.4" cy="564.4" r="1.5" fill="#ff80ff" stroke="#ff00ff" stroke-width="0.5"/>
<text x="314.2" y="567" font-size="7.55">COA</text>
<path d="M298.6,573.1H312.3" stroke="#000000" stroke-width="0.95"/>
<circle cx="305.4" cy="573.1" r="0.9" fill="#000000"/>
<text x="314.2" y="575.7" font-size="7.55">SABO</text>
<path d="M298.6,581.7H312.3" stroke="#ff0000" stroke-width="0.95"/>
<circle cx="305.4" cy="581.7" r="1.5" fill="#ffb0b0" stroke="#ff0000" stroke-width="0.5"/>
<text x="314.2" y="584.3" font-size="7.55">WSO</text>
<path d="M298.6,590.4H312.3" stroke="#000000" stroke-width="0.95"/>
<path d="M305.4,588.6L307.2,591.9L303.6,591.9Z" fill="#808080" stroke="#000000" stroke-width="0.5"/>
<text x="314.2" y="593" font-size="7.55">SCSO</text>
<path d="M298.6,599.1H312.3" stroke="#ff0000" stroke-width="0.95"/>
<path d="M305.4,601L307.3,597.6L303.5,597.6Z" fill="#ff0000" stroke="#ff0000" stroke-width="0.4"/>
<text x="314.2" y="601.7" font-size="7.55">GJO</text>
<path d="M298.6,607.8H312.3" stroke="#ff0000" stroke-width="0.95"/>
<circle cx="305.4" cy="607.8" r="1.4" fill="#ff0000" stroke="#ff0000" stroke-width="0.4"/>
<text x="314.2" y="610.4" font-size="7.55">TSA</text>
<path d="M298.6,616.5H312.3" stroke="#00ff00" stroke-width="0.95"/>
<circle cx="305.4" cy="616.5" r="1.8" fill="#80ff80" stroke="#00ff00" stroke-width="0.5"/>
<text x="314.2" y="619.1" font-size="7.55">WOA</text>
<path d="M298.6,625.1H312.3" stroke="#000000" stroke-width="0.95"/>
<path d="M305.4,627L307.3,623.6L303.5,623.6Z" fill="#000000" stroke="#000000" stroke-width="0.4"/>
<text x="314.2" y="627.7" font-size="7.55">GWO</text>
<path d="M298.6,633.8H312.3" stroke="#00ff00" stroke-width="0.95"/>
<path d="M305.4,635.7L307.3,632.3L303.5,632.3Z" fill="#00ff00" stroke="#00ff00" stroke-width="0.4"/>
<text x="314.2" y="636.4" font-size="7.55">TLBO</text>
<path d="M298.6,642.5H312.3" stroke="#00ffff" stroke-width="0.95"/>
<circle cx="305.4" cy="642.5" r="1.5" fill="#00ffff" stroke="#00ffff" stroke-width="0.5"/>
<text x="314.2" y="645.1" font-size="7.55">GSA</text>
<path d="M298.6,651.2H312.3" stroke="#00ff00" stroke-width="0.95"/>
<circle cx="305.4" cy="651.2" r="1.2" fill="#00ff00" stroke="#00ff00" stroke-width="0.4"/>
<text x="314.2" y="653.8" font-size="7.55">PSO</text>
<path d="M243.5,723.6V858.4M269.5,723.6V858.4M295.5,723.6V858.4M321.5,723.6V858.4M217.5,839.1H347.5M217.5,819.9H347.5M217.5,800.6H347.5M217.5,781.4H347.5M217.5,762.1H347.5M217.5,742.9H347.5" stroke="#ebebeb" stroke-width="0.6" fill="none"/>
<polyline points="217.5,829.5 224.4,842.7 231.2,842.7 238,842.7 244.9,842.7 251.7,842.7 258.6,842.7 265.4,842.7 272.2,842.7 279.1,842.7 285.9,842.7 292.8,842.7 299.6,842.7 306.5,842.7 313.3,842.7 320.1,842.7 327,842.7 333.8,842.7 340.7,842.7 347.5,842.7" fill="none" stroke="#ff00ff" stroke-width="0.7"/>
<path transform="scale(0.1)" d="M2175 8295h0m69 132h0m68 0h0m68 0h0m69 0h0m68 0h0m69 0h0m68 0h0m68 0h0m69 0h0m68 0h0m69 0h0m68 0h0m69 0h0m68 0h0m68 0h0m69 0h0m68 0h0m69 0h0m68 0h0" stroke="#ff00ff" stroke-width="35.0" stroke-linecap="round"/><path transform="scale(0.1)" d="M2175 8295h0m69 132h0m68 0h0m68 0h0m69 0h0m68 0h0m69 0h0m68 0h0m68 0h0m69 0h0m68 0h0m69 0h0m68 0h0m69 0h0m68 0h0m68 0h0m69 0h0m68 0h0m69 0h0m68 0h0" stroke="#ff80ff" stroke-width="25.0" stroke-linecap="round"/>
<polyline points="217.5,752.5 224.4,858.4 231.2,858.4 238,858.4 244.9,858.4 251.7,858.4 258.6,858.4 265.4,858.4 272.2,858.4 279.1,858.4 285.9,858.4 292.8,858.4 299.6,858.4 306.5,858.4 313.3,858.4 320.1,858.4 327,858.4 333.8,858.4 340.7,858.4 347.5,858.4" fill="none" stroke="#000000" stroke-width="0.7"/>
<path transform="scale(0.1)" d="M2175 7525h0m1300 1059h0m-68 0h0m-69 0h0m-68 0h0m-69 0h0m-68 0h0m-68 0h0m-69 0h0m-68 0h0m-69 0h0m-68 0h0m-69 0h0m-68 0h0m-68 0h0m-69 0h0m-68 0h0m-69 0h0m-68 0h0m-68 0h0" stroke="#000000" stroke-width="18.0" stroke-linecap="round"/>
<polyline points="217.5,819.9 224.4,858.4 231.2,858.4 238,858.4 244.9,858.4 251.7,858.4 258.6,858.4 265.4,858.4 272.2,858.4 279.1,858.4 285.9,858.4 292.8,858.4 299.6,858.4 306.5,858.4 313.3,858.4 320.1,858.4 327,858.4 333.8,858.4 340.7,858.4 347.5,858.4" fill="none" stroke="#ff0000" stroke-width="0.7"/>
<path transform="scale(0.1)" d="M2175 8199h0m1300 385h0m-68 0h0m-69 0h0m-68 0h0m-69 0h0m-68 0h0m-68 0h0m-69 0h0m-68 0h0m-69 0h0m-68 0h0m-69 0h0m-68 0h0m-68 0h0m-69 0h0m-68 0h0m-69 0h0m-68 0h0m-68 0h0" stroke="#ff0000" stroke-width="35.0" stroke-linecap="round"/><path transform="scale(0.1)" d="M2175 8199h0m1300 385h0m-68 0h0m-69 0h0m-68 0h0m-69 0h0m-68 0h0m-68 0h0m-69 0h0m-68 0h0m-69 0h0m-68 0h0m-69 0h0m-68 0h0m-68 0h0m-69 0h0m-68 0h0m-69 0h0m-68 0h0m-68 0h0" stroke="#ffb0b0" stroke-width="25.0" stroke-linecap="round"/>
<polyline points="217.5,730.3 224.4,858.4 231.2,858.4 238,858.4 244.9,858.4 251.7,858.4 258.6,858.4 265.4,858.4 272.2,858.4 279.1,858.4 285.9,858.4 292.8,858.4 299.6,858.4 306.5,858.4 313.3,858.4 320.1,858.4 327,858.4 333.8,858.4 340.7,858.4 347.5,858.4" fill="none" stroke="#000000" stroke-width="0.7"/>
<path d="M217.5 728.5l1.8 3.2h-3.6zM224.4 856.6l1.8 3.2h-3.6zM231.2 856.6l1.8 3.2h-3.6zM238 856.6l1.8 3.2h-3.6zM244.9 856.6l1.8 3.2h-3.6zM251.7 856.6l1.8 3.2h-3.6zM258.6 856.6l1.8 3.2h-3.6zM265.4 856.6l1.8 3.2h-3.6zM272.2 856.6l1.8 3.2h-3.6zM279.1 856.6l1.8 3.2h-3.6zM285.9 856.6l1.8 3.2h-3.6zM292.8 856.6l1.8 3.2h-3.6zM299.6 856.6l1.8 3.2h-3.6zM306.5 856.6l1.8 3.2h-3.6zM313.3 856.6l1.8 3.2h-3.6zM320.1 856.6l1.8 3.2h-3.6zM327 856.6l1.8 3.2h-3.6zM333.8 856.6l1.8 3.2h-3.6zM340.7 856.6l1.8 3.2h-3.6zM347.5 856.6l1.8 3.2h-3.6z" fill="#808080" stroke="#000000" stroke-width="0.4"/>
<polyline points="217.5,807.4 224.4,858.4 231.2,858.4 238,858.4 244.9,858.4 251.7,858.4 258.6,858.4 265.4,858.4 272.2,858.4 279.1,858.4 285.9,858.4 292.8,858.4 299.6,858.4 306.5,858.4 313.3,858.4 320.1,858.4 327,858.4 333.8,858.4 340.7,858.4 347.5,858.4" fill="none" stroke="#ff0000" stroke-width="0.7"/>
<path d="M217.5 809.3l1.9 -3.4h-3.8zM224.4 860.3l1.9 -3.4h-3.8zM231.2 860.3l1.9 -3.4h-3.8zM238 860.3l1.9 -3.4h-3.8zM244.9 860.3l1.9 -3.4h-3.8zM251.7 860.3l1.9 -3.4h-3.8zM258.6 860.3l1.9 -3.4h-3.8zM265.4 860.3l1.9 -3.4h-3.8zM272.2 860.3l1.9 -3.4h-3.8zM279.1 860.3l1.9 -3.4h-3.8zM285.9 860.3l1.9 -3.4h-3.8zM292.8 860.3l1.9 -3.4h-3.8zM299.6 860.3l1.9 -3.4h-3.8zM306.5 860.3l1.9 -3.4h-3.8zM313.3 860.3l1.9 -3.4h-3.8zM320.1 860.3l1.9 -3.4h-3.8zM327 860.3l1.9 -3.4h-3.8zM333.8 860.3l1.9 -3.4h-3.8zM340.7 860.3l1.9 -3.4h-3.8zM347.5 860.3l1.9 -3.4h-3.8z" fill="#ff0000" stroke="#ff0000" stroke-width="0.4"/>
<polyline points="217.5,819.9 224.4,858.4 231.2,858.4 238,858.4 244.9,858.4 251.7,858.4 258.6,858.4 265.4,858.4 272.2,858.4 279.1,858.4 285.9,858.4 292.8,858.4 299.6,858.4 306.5,858.4 313.3,858.4 320.1,858.4 327,858.4 333.8,858.4 340.7,858.4 347.5,858.4" fill="none" stroke="#ff0000" stroke-width="0.7"/>
<path transform="scale(0.1)" d="M2175 8199h0m1300 385h0m-68 0h0m-69 0h0m-68 0h0m-69 0h0m-68 0h0m-68 0h0m-69 0h0m-68 0h0m-69 0h0m-68 0h0m-69 0h0m-68 0h0m-68 0h0m-69 0h0m-68 0h0m-69 0h0m-68 0h0m-68 0h0" stroke="#ff0000" stroke-width="33.0" stroke-linecap="round"/>
<polyline points="217.5,792.9 224.4,858.4 231.2,858.4 238,858.4 244.9,858.4 251.7,858.4 258.6,858.4 265.4,858.4 272.2,858.4 279.1,858.4 285.9,858.4 292.8,858.4 299.6,858.4 306.5,858.4 313.3,858.4 320.1,858.4 327,858.4 333.8,858.4 340.7,858.4 347.5,858.4" fill="none" stroke="#000000" stroke-width="0.7"/>
<path d="M217.5 794.8l1.9 -3.4h-3.8zM224.4 860.3l1.9 -3.4h-3.8zM231.2 860.3l1.9 -3.4h-3.8zM238 860.3l1.9 -3.4h-3.8zM244.9 860.3l1.9 -3.4h-3.8zM251.7 860.3l1.9 -3.4h-3.8zM258.6 860.3l1.9 -3.4h-3.8zM265.4 860.3l1.9 -3.4h-3.8zM272.2 860.3l1.9 -3.4h-3.8zM279.1 860.3l1.9 -3.4h-3.8zM285.9 860.3l1.9 -3.4h-3.8zM292.8 860.3l1.9 -3.4h-3.8zM299.6 860.3l1.9 -3.4h-3.8zM306.5 860.3l1.9 -3.4h-3.8zM313.3 860.3l1.9 -3.4h-3.8zM320.1 860.3l1.9 -3.4h-3.8zM327 860.3l1.9 -3.4h-3.8zM333.8 860.3l1.9 -3.4h-3.8zM340.7 860.3l1.9 -3.4h-3.8zM347.5 860.3l1.9 -3.4h-3.8z" fill="#000000" stroke="#000000" stroke-width="0.4"/>
<polyline points="217.5,769.8 224.4,858.4 231.2,858.4 238,858.4 244.9,858.4 251.7,858.4 258.6,858.4 265.4,858.4 272.2,858.4 279.1,858.4 285.9,858.4 292.8,858.4 299.6,858.4 306.5,858.4 313.3,858.4 320.1,858.4 327,858.4 333.8,858.4 340.7,858.4 347.5,858.4" fill="none" stroke="#00ffff" stroke-width="0.7"/>
<path transform="scale(0.1)" d="M2175 7698h0m1300 886h0m-68 0h0m-69 0h0m-68 0h0m-69 0h0m-68 0h0m-68 0h0m-69 0h0m-68 0h0m-69 0h0m-68 0h0m-69 0h0m-68 0h0m-68 0h0m-69 0h0m-68 0h0m-69 0h0m-68 0h0m-68 0h0" stroke="#00ffff" stroke-width="35.0" stroke-linecap="round"/>
<polyline points="217.5,748.6 224.4,858.4 231.2,858.4 238,858.4 244.9,858.4 251.7,858.4 258.6,858.4 265.4,858.4 272.2,858.4 279.1,858.4 285.9,858.4 292.8,858.4 299.6,858.4 306.5,858.4 313.3,858.4 320.1,858.4 327,858.4 333.8,858.4 340.7,858.4 347.5,858.4" fill="none" stroke="#0000ff" stroke-width="2.2"/>
<path transform="scale(0.1)" d="M2175 7486h0m1300 1098h0m-68 0h0m-69 0h0m-68 0h0m-69 0h0m-68 0h0m-68 0h0m-69 0h0m-68 0h0m-69 0h0m-68 0h0m-69 0h0m-68 0h0m-68 0h0m-69 0h0m-68 0h0m-69 0h0m-68 0h0m-68 0h0" stroke="#0000ff" stroke-width="53.0" stroke-linecap="round"/>
<polyline points="217.5,796.8 224.4,853.1 231.2,853.1 238,853.1 244.9,853.1 251.7,853.1 258.6,853.1 265.4,853.1 272.2,853.1 279.1,853.1 285.9,853.1 292.8,853.1 299.6,853.1 306.5,853.1 313.3,853.1 320.1,853.1 327,853.1 333.8,853.1 340.7,853.1 347.5,853.1" fill="none" stroke="#00ff00" stroke-width="0.8"/>
<path transform="scale(0.1)" d="M2175 7968h0m69 563h0m68 0h0m68 0h0m69 0h0m68 0h0m69 0h0m68 0h0m68 0h0m69 0h0m68 0h0m69 0h0m68 0h0m69 0h0m68 0h0m68 0h0m69 0h0m68 0h0m69 0h0m68 0h0" stroke="#00ff00" stroke-width="41.0" stroke-linecap="round"/><path transform="scale(0.1)" d="M2175 7968h0m69 563h0m68 0h0m68 0h0m69 0h0m68 0h0m69 0h0m68 0h0m68 0h0m69 0h0m68 0h0m69 0h0m68 0h0m69 0h0m68 0h0m68 0h0m69 0h0m68 0h0m69 0h0m68 0h0" stroke="#80ff80" stroke-width="31.0" stroke-linecap="round"/>
<polyline points="217.5,757.3 224.4,858.4 231.2,858.4 238,858.4 244.9,858.4 251.7,858.4 258.6,858.4 265.4,858.4 272.2,858.4 279.1,858.4 285.9,858.4 292.8,858.4 299.6,858.4 306.5,858.4 313.3,858.4 320.1,858.4 327,858.4 333.8,858.4 340.7,858.4 347.5,858.4" fill="none" stroke="#00ff00" stroke-width="0.7"/>
<path d="M217.5 759.2l1.9 -3.4h-3.8zM224.4 860.3l1.9 -3.4h-3.8zM231.2 860.3l1.9 -3.4h-3.8zM238 860.3l1.9 -3.4h-3.8zM244.9 860.3l1.9 -3.4h-3.8zM251.7 860.3l1.9 -3.4h-3.8zM258.6 860.3l1.9 -3.4h-3.8zM265.4 860.3l1.9 -3.4h-3.8zM272.2 860.3l1.9 -3.4h-3.8zM279.1 860.3l1.9 -3.4h-3.8zM285.9 860.3l1.9 -3.4h-3.8zM292.8 860.3l1.9 -3.4h-3.8zM299.6 860.3l1.9 -3.4h-3.8zM306.5 860.3l1.9 -3.4h-3.8zM313.3 860.3l1.9 -3.4h-3.8zM320.1 860.3l1.9 -3.4h-3.8zM327 860.3l1.9 -3.4h-3.8zM333.8 860.3l1.9 -3.4h-3.8zM340.7 860.3l1.9 -3.4h-3.8zM347.5 860.3l1.9 -3.4h-3.8z" fill="#00ff00" stroke="#00ff00" stroke-width="0.4"/>
<polyline points="217.5,800.6 224.4,858.4 231.2,858.4 238,858.4 244.9,858.4 251.7,858.4 258.6,858.4 265.4,858.4 272.2,858.4 279.1,858.4 285.9,858.4 292.8,858.4 299.6,858.4 306.5,858.4 313.3,858.4 320.1,858.4 327,858.4 333.8,858.4 340.7,858.4 347.5,858.4" fill="none" stroke="#00ff00" stroke-width="0.7"/>
<path transform="scale(0.1)" d="M2175 8006h0m1300 578h0m-68 0h0m-69 0h0m-68 0h0m-69 0h0m-68 0h0m-68 0h0m-69 0h0m-68 0h0m-69 0h0m-68 0h0m-69 0h0m-68 0h0m-68 0h0m-69 0h0m-68 0h0m-69 0h0m-68 0h0m-68 0h0" stroke="#00ff00" stroke-width="29.0" stroke-linecap="round"/>
<rect x="217.5" y="723.6" width="130.0" height="134.8" fill="none" stroke="#9a9a9a" stroke-width="0.6"/>
<path d="M217.5,858.4v-1.3M217.5,723.6v1.3M243.5,858.4v-1.3M243.5,723.6v1.3M269.5,858.4v-1.3M269.5,723.6v1.3M295.5,858.4v-1.3M295.5,723.6v1.3M321.5,858.4v-1.3M321.5,723.6v1.3M347.5,858.4v-1.3M347.5,723.6v1.3M217.5,858.4h1.3M347.5,858.4h-1.3M217.5,839.1h1.3M347.5,839.1h-1.3M217.5,819.9h1.3M347.5,819.9h-1.3M217.5,800.6h1.3M347.5,800.6h-1.3M217.5,781.4h1.3M347.5,781.4h-1.3M217.5,762.1h1.3M347.5,762.1h-1.3M217.5,742.9h1.3M347.5,742.9h-1.3M217.5,723.6h1.3M347.5,723.6h-1.3" stroke="#9a9a9a" stroke-width="0.5"/>
<text x="217.5" y="867.7" font-size="7.2" text-anchor="middle">0</text>
<text x="243.5" y="867.7" font-size="7.2" text-anchor="middle">2000</text>
<text x="269.5" y="867.7" font-size="7.2" text-anchor="middle">4000</text>
<text x="295.5" y="867.7" font-size="7.2" text-anchor="middle">6000</text>
<text x="321.5" y="867.7" font-size="7.2" text-anchor="middle">8000</text>
<text x="347.5" y="867.7" font-size="7.2" text-anchor="middle">10000</text>
<text x="215" y="860.9" font-size="7.2" text-anchor="end">0</text>
<text x="215" y="841.6" font-size="7.2" text-anchor="end">2</text>
<text x="215" y="822.4" font-size="7.2" text-anchor="end">4</text>
<text x="215" y="803.1" font-size="7.2" text-anchor="end">6</text>
<text x="215" y="783.9" font-size="7.2" text-anchor="end">8</text>
<text x="215" y="764.6" font-size="7.2" text-anchor="end">10</text>
<text x="215" y="745.4" font-size="7.2" text-anchor="end">12</text>
<text x="215" y="726.1" font-size="7.2" text-anchor="end">14</text>
<text x="219" y="723.1" font-size="7.6">×10</text><text x="231.3" y="719.7" font-size="5.6">9</text>
<text x="283" y="722.1" font-size="7.2" text-anchor="middle" font-weight="bold">F15</text>
<text x="283" y="876.7" font-size="7.2" text-anchor="middle" font-weight="bold">Iterations</text>
<text x="204.8" y="791" font-size="7.2" text-anchor="middle" font-weight="bold" transform="rotate(-90 204.8 791)">Best score obtained</text>
<rect x="296.8" y="727.7" width="47" height="106.4" fill="#ffffff" stroke="#9a9a9a" stroke-width="0.5"/>
<path d="M298.6,733.7H312.3" stroke="#0000ff" stroke-width="2.2"/>
<circle cx="305.4" cy="733.7" r="2.4" fill="#0000ff" stroke="#0000ff" stroke-width="0.5"/>
<text x="314.2" y="736.3" font-size="7.55">MACOA</text>
<path d="M298.6,742.4H312.3" stroke="#ff00ff" stroke-width="0.95"/>
<circle cx="305.4" cy="742.4" r="1.5" fill="#ff80ff" stroke="#ff00ff" stroke-width="0.5"/>
<text x="314.2" y="745" font-size="7.55">COA</text>
<path d="M298.6,751.1H312.3" stroke="#000000" stroke-width="0.95"/>
<circle cx="305.4" cy="751.1" r="0.9" fill="#000000"/>
<text x="314.2" y="753.7" font-size="7.55">SABO</text>
<path d="M298.6,759.7H312.3" stroke="#ff0000" stroke-width="0.95"/>
<circle cx="305.4" cy="759.7" r="1.5" fill="#ffb0b0" stroke="#ff0000" stroke-width="0.5"/>
<text x="314.2" y="762.3" font-size="7.55">WSO</text>
<path d="M298.6,768.4H312.3" stroke="#000000" stroke-width="0.95"/>
<path d="M305.4,766.6L307.2,769.9L303.6,769.9Z" fill="#808080" stroke="#000000" stroke-width="0.5"/>
<text x="314.2" y="771" font-size="7.55">SCSO</text>
<path d="M298.6,777.1H312.3" stroke="#ff0000" stroke-width="0.95"/>
<path d="M305.4,779L307.3,775.6L303.5,775.6Z" fill="#ff0000" stroke="#ff0000" stroke-width="0.4"/>
<text x="314.2" y="779.7" font-size="7.55">GJO</text>
<path d="M298.6,785.8H312.3" stroke="#ff0000" stroke-width="0.95"/>
<circle cx="305.4" cy="785.8" r="1.4" fill="#ff0000" stroke="#ff0000" stroke-width="0.4"/>
<text x="314.2" y="788.4" font-size="7.55">TSA</text>
<path d="M298.6,794.5H312.3" stroke="#00ff00" stroke-width="0.95"/>
<circle cx="305.4" cy="794.5" r="1.8" fill="#80ff80" stroke="#00ff00" stroke-width="0.5"/>
<text x="314.2" y="797.1" font-size="7.55">WOA</text>
<path d="M298.6,803.1H312.3" stroke="#000000" stroke-width="0.95"/>
<path d="M305.4,805L307.3,801.6L303.5,801.6Z" fill="#000000" stroke="#000000" stroke-width="0.4"/>
<text x="314.2" y="805.7" font-size="7.55">GWO</text>
<path d="M298.6,811.8H312.3" stroke="#00ff00" stroke-width="0.95"/>
<path d="M305.4,813.7L307.3,810.3L303.5,810.3Z" fill="#00ff00" stroke="#00ff00" stroke-width="0.4"/>
<text x="314.2" y="814.4" font-size="7.55">TLBO</text>
<path d="M298.6,820.5H312.3" stroke="#00ffff" stroke-width="0.95"/>
<circle cx="305.4" cy="820.5" r="1.5" fill="#00ffff" stroke="#00ffff" stroke-width="0.5"/>
<text x="314.2" y="823.1" font-size="7.55">GSA</text>
<path d="M298.6,829.2H312.3" stroke="#00ff00" stroke-width="0.95"/>
<circle cx="305.4" cy="829.2" r="1.2" fill="#00ff00" stroke="#00ff00" stroke-width="0.4"/>
<text x="314.2" y="831.8" font-size="7.55">PSO</text>
<clipPath id="rc1"><rect x="419.0" y="12.3" width="123.0" height="132.3"/></clipPath>
<g clip-path="url(#rc1)" fill="none" stroke-width="0.7" opacity="0.9">
<path d="M468.2,129.8L467.5,129.7L467.4,129.7L466.7,129.6L465.9,129.5L465.1,129.4L464.4,129.2L463.6,129.1L462.8,128.9L462.7,128.9L462.1,128.7L461.3,128.5L460.5,128.3L459.7,128.1L459.6,128.1L459,127.8L458.2,127.6L457.4,127.3L457.2,127.2L456.7,127L455.9,126.7L455.2,126.4L455.1,126.4L454.4,126L453.6,125.7L453.4,125.6L452.8,125.3L452.1,124.9L451.9,124.8L451.3,124.4L450.5,123.9L450.5,123.9L449.8,123.5L449.2,123.1L449,122.9L448.2,122.4L448.1,122.3L447.4,121.8L447,121.4L446.7,121.2L446,120.6L445.9,120.5L445.1,119.8L445.1,119.8L444.4,119L444.3,119L443.6,118.2L443.5,118.1L442.8,117.3L442.8,117.3L442.2,116.5L442.1,116.4L441.5,115.7L441.3,115.3L441,114.8L440.5,114.2L440.4,114L439.9,113.2L439.8,112.9L439.5,112.4L439,111.5L439,111.4L438.6,110.7L438.3,109.9L438.2,109.7L437.9,109L437.6,108.2L437.4,107.7L437.3,107.4L437.1,106.6L436.9,105.7L436.7,105L436.6,104.9L436.5,104.1L436.3,103.3L436.2,102.4L436,101.6L435.9,100.8L435.9,100.5L435.9,99.9L435.8,99.1L435.8,98.3L435.7,97.5L435.7,96.6L435.7,95.8L435.8,95L435.8,94.2L435.9,93.3L435.9,92.8L435.9,92.5L436,91.7L436.1,90.9L436.3,90L436.4,89.2L436.6,88.4L436.7,87.8L436.7,87.5L436.9,86.7L437.1,85.9L437.3,85.1L437.4,84.7L437.6,84.2L437.8,83.4L438.1,82.6L438.2,82.2L438.4,81.8L438.7,80.9L439,80.1L439,80L439.3,79.3L439.6,78.5L439.8,78.1L440,77.6L440.3,76.8L440.5,76.4L440.7,76L441.1,75.1L441.3,74.8L441.5,74.3L442,73.5L442.1,73.3L442.4,72.7L442.8,72L442.9,71.8L443.4,71L443.6,70.7L443.9,70.2L444.4,69.4L444.4,69.4L445,68.5L445.1,68.3L445.5,67.7L445.9,67.2L446.1,66.9L446.7,66.2L446.8,66L447.4,65.2L447.4,65.2L448.1,64.4L448.2,64.2L448.8,63.6L449,63.3L449.5,62.7L449.8,62.5L450.3,61.9L450.5,61.6L451.1,61.1L451.3,60.9L451.9,60.3L452.1,60.1L452.8,59.4L452.8,59.4L453.6,58.7L453.7,58.6L454.4,58.1L454.7,57.8L455.1,57.4L455.8,57L455.9,56.9L456.7,56.3L456.9,56.1L457.4,55.8L458.2,55.3L458.2,55.3L459,54.8L459.5,54.5L459.7,54.4L460.5,53.9L461.1,53.6L461.3,53.5L462.1,53.2L462.8,52.8L462.9,52.8L463.6,52.5L464.4,52.2L465.1,52L465.1,52L465.9,51.7L466.7,51.5L467.4,51.3L468.2,51.2L468.2,51.2L469,51L469.7,50.9L470.5,50.8L471.3,50.7L472,50.7L472.8,50.7L473.6,50.7L474.4,50.7L475.1,50.8L475.9,50.8L476.7,50.9L477.4,51L478.1,51.2L478.2,51.2L479,51.4L479.7,51.6L480.5,51.8L481.2,52L481.3,52L482,52.3L482.8,52.6L483.4,52.8L483.6,52.9L484.3,53.3L485.1,53.6L485.2,53.6L485.9,54L486.6,54.4L486.7,54.5L487.4,54.9L488.1,55.3L488.2,55.4L489,55.9L489.3,56.1L489.7,56.4L490.5,57L490.5,57L491.3,57.6L491.5,57.8L492,58.2L492.5,58.6L492.8,58.8L493.5,59.4L493.6,59.5L494.3,60.3L494.3,60.3L495.1,61L495.2,61.1L495.9,61.8L496,61.9L496.6,62.6L496.7,62.7L497.4,63.5L497.5,63.6L498.2,64.4L498.2,64.4L498.8,65.2L498.9,65.4L499.5,66L499.7,66.4L500.1,66.9L500.5,67.4L500.7,67.7L501.3,68.5L501.3,68.5L501.8,69.4L502,69.7L502.3,70.2L502.8,70.9L502.8,71L503.3,71.8L503.6,72.2L503.8,72.7L504.3,73.5L504.3,73.6L504.7,74.3L505.1,75.1L505.1,75.1L505.5,76L505.9,76.7L505.9,76.8L506.3,77.6L506.6,78.5L506.6,78.5L507,79.3L507.3,80.1L507.4,80.4L507.6,80.9L507.9,81.8L508.2,82.6L508.2,82.6L508.4,83.4L508.7,84.2L508.9,85.1L508.9,85.3L509.1,85.9L509.3,86.7L509.5,87.5L509.7,88.4L509.7,88.6L509.8,89.2L510,90L510.1,90.9L510.2,91.7L510.3,92.5L510.4,93.3L510.4,94.2L510.5,95L510.5,95L510.5,95.8L510.5,96.6L510.5,97.5L510.5,98.3L510.5,98.4L510.4,99.1L510.4,99.9L510.3,100.8L510.2,101.6L510.1,102.4L509.9,103.3L509.8,104.1L509.7,104.4L509.6,104.9L509.4,105.7L509.1,106.6L508.9,107.2L508.9,107.4L508.6,108.2L508.3,109L508.2,109.4L508,109.9L507.6,110.7L507.4,111.1L507.2,111.5L506.8,112.4L506.6,112.6L506.3,113.2L505.9,113.9L505.8,114L505.3,114.8L505.1,115.1L504.7,115.7L504.3,116.2L504.1,116.5L503.6,117.1L503.4,117.3L502.8,118L502.7,118.1L502,118.9L501.9,119L501.3,119.6L501.1,119.8L500.5,120.4L500.2,120.6L499.7,121L499.2,121.4L498.9,121.7L498.2,122.3L498.2,122.3L497.4,122.8L497,123.1L496.6,123.3L495.9,123.9L495.8,123.9L495.1,124.3L494.4,124.8L494.3,124.8L493.6,125.2L492.8,125.6L492.8,125.6L492,126L491.3,126.3L491,126.4L490.5,126.6L489.7,127L489,127.2L489,127.3L488.2,127.5L487.4,127.8L486.6,128L486.6,128.1L485.9,128.3L485.1,128.5L484.3,128.7L483.6,128.9L483.5,128.9L482.8,129L482,129.2L481.3,129.3L480.5,129.5L479.7,129.6L479,129.7L478.7,129.7L478.2,129.8L477.4,129.9L476.7,129.9L475.9,130L475.1,130L474.4,130L473.6,130L472.8,130L472,130L471.3,130L470.5,130L469.7,129.9L469,129.9L468.2,129.8" stroke="#8f8ff0"/>
<path d="M439.7,144.6L439,144.2L438.2,143.8L438.1,143.8L437.4,143.4L436.7,143L436.6,142.9L435.9,142.6L435.2,142.1L435.1,142.1L434.4,141.6L433.8,141.3L433.6,141.1L432.8,140.6L432.6,140.5L432.1,140.1L431.4,139.6L431.3,139.5L430.5,139L430.3,138.8L429.8,138.4L429.3,138L429,137.7L428.3,137.2L428.2,137.1L427.5,136.4L427.4,136.3L426.7,135.7L426.5,135.5L425.9,134.9L425.7,134.7L425.1,134.1L424.9,133.9L424.4,133.2L424.2,133L423.6,132.3L423.5,132.2L422.8,131.4L422.8,131.4L422.2,130.5L422.1,130.4L421.6,129.7L421.3,129.3L421,128.9L420.5,128.1L420.5,128.1L420,127.2L419.8,126.9L419.5,126.4L419.1,125.6L419,125.5M419,80.7L419.2,80.1L419.6,79.3L419.8,78.7L419.9,78.5L420.2,77.6L420.5,76.8L420.5,76.8L420.9,76L421.3,75.1L421.3,75L421.6,74.3L422,73.5L422.1,73.3L422.4,72.7L422.8,71.8L422.8,71.7L423.2,71L423.6,70.2L423.6,70.1L424,69.4L424.4,68.6L424.4,68.5L424.9,67.7L425.1,67.2L425.3,66.9L425.8,66L425.9,65.8L426.3,65.2L426.7,64.5L426.7,64.4L427.2,63.6L427.5,63.2L427.7,62.7L428.2,61.9L428.2,61.9L428.7,61.1L429,60.7L429.3,60.3L429.8,59.5L429.8,59.4L430.4,58.6L430.5,58.3L430.9,57.8L431.3,57.2L431.5,57L432.1,56.1L432.1,56.1L432.7,55.3L432.8,55.1L433.3,54.5L433.6,54L433.9,53.6L434.4,53L434.5,52.8L435.1,52L435.2,52L435.8,51.2L435.9,51.1L436.5,50.3L436.7,50.1L437.2,49.5L437.4,49.2L437.9,48.7L438.2,48.3L438.7,47.9L439,47.5L439.4,47L439.8,46.6L440.2,46.2L440.5,45.8L441,45.4L441.3,45L441.8,44.5L442.1,44.3L442.6,43.7L442.8,43.5L443.5,42.9L443.6,42.8L444.3,42.1L444.4,42L445.1,41.4L445.3,41.2L445.9,40.7L446.2,40.4L446.7,40L447.2,39.6L447.4,39.4L448.2,38.8L448.2,38.8L449,38.2L449.3,37.9L449.8,37.6L450.4,37.1L450.5,37L451.3,36.5L451.6,36.3L452.1,36L452.8,35.5L452.9,35.5L453.6,35L454.2,34.6L454.4,34.5L455.1,34.1L455.7,33.8L455.9,33.7L456.7,33.3L457.2,33L457.4,32.9L458.2,32.5L459,32.2L459,32.1L459.7,31.8L460.5,31.5L461,31.3L461.3,31.2L462.1,30.9L462.8,30.7L463.4,30.5L463.6,30.4L464.4,30.2L465.1,30L465.9,29.8L466.7,29.7L466.7,29.7L467.4,29.5L468.2,29.4L469,29.3L469.7,29.2L470.5,29.1L471.3,29.1L472,29L472.8,29L473.6,29L474.4,29L475.1,29.1L475.9,29.1L476.7,29.2L477.4,29.3L478.2,29.4L479,29.5L479.6,29.7L479.7,29.7L480.5,29.9L481.3,30.1L482,30.3L482.8,30.5L482.8,30.5L483.6,30.7L484.3,31L485.1,31.3L485.2,31.3L485.9,31.6L486.6,31.9L487.2,32.1L487.4,32.2L488.2,32.6L489,33L489,33L489.7,33.3L490.5,33.8L490.6,33.8L491.3,34.2L492,34.6L492,34.6L492.8,35.1L493.4,35.5L493.6,35.6L494.3,36.1L494.6,36.3L495.1,36.6L495.8,37.1L495.9,37.2L496.6,37.7L496.9,37.9L497.4,38.3L498,38.8L498.2,38.9L498.9,39.5L499,39.6L499.7,40.2L500,40.4L500.5,40.8L501,41.2L501.3,41.5L501.9,42.1L502,42.2L502.8,42.9L502.8,42.9L503.6,43.6L503.6,43.7L504.3,44.4L504.5,44.5L505.1,45.2L505.3,45.4L505.9,46L506.1,46.2L506.6,46.8L506.8,47L507.4,47.7L507.6,47.9L508.2,48.5L508.3,48.7L508.9,49.4L509,49.5L509.7,50.3L509.7,50.3L510.4,51.2L510.5,51.3L511.1,52L511.2,52.2L511.7,52.8L512,53.2L512.3,53.6L512.8,54.2L513,54.5L513.6,55.3L513.6,55.3L514.2,56.1L514.3,56.3L514.8,57L515.1,57.4L515.3,57.8L515.9,58.6L515.9,58.6L516.4,59.4L516.6,59.7L517,60.3L517.4,60.9L517.5,61.1L518,61.9L518.2,62.2L518.5,62.7L518.9,63.4L519,63.6L519.5,64.4L519.7,64.7L520,65.2L520.4,66L520.5,66.1L520.9,66.9L521.2,67.5L521.4,67.7L521.8,68.5L522,68.9L522.2,69.4L522.6,70.2L522.8,70.5L523.1,71L523.5,71.8L523.5,72L523.9,72.7L524.2,73.5L524.3,73.7L524.6,74.3L525,75.1L525.1,75.4L525.3,76L525.7,76.8L525.9,77.2L526,77.6L526.4,78.5L526.6,79.1L526.7,79.3L527,80.1L527.3,80.9L527.4,81.2L527.6,81.8L527.9,82.6L528.2,83.4L528.2,83.4L528.4,84.2L528.7,85.1L528.9,85.8L529,85.9L529.2,86.7L529.4,87.5L529.7,88.4L529.7,88.5L529.9,89.2L530.1,90L530.3,90.9L530.5,91.7L530.5,91.8L530.6,92.5L530.8,93.3L530.9,94.2L531.1,95L531.2,95.8L531.2,95.9L531.4,96.6L531.5,97.5L531.6,98.3L531.7,99.1L531.7,99.9L531.8,100.8L531.9,101.6L531.9,102.4L531.9,103.3L532,104.1L532,104.9L532,105.7L532,106.6L531.9,107.4L531.9,108.2L531.8,109L531.8,109.9L531.7,110.7L531.6,111.5L531.5,112.4L531.3,113.2L531.2,113.7L531.2,114L531,114.8L530.8,115.7L530.6,116.5L530.5,117.2L530.4,117.3L530.2,118.1L529.9,119L529.7,119.7L529.7,119.8L529.4,120.6L529.1,121.4L528.9,121.8L528.7,122.3L528.4,123.1L528.2,123.6L528,123.9L527.6,124.8L527.4,125.2L527.2,125.6L526.7,126.4L526.6,126.6L526.2,127.2L525.9,127.9L525.7,128.1L525.2,128.9L525.1,129.1L524.6,129.7L524.3,130.2L524,130.5L523.5,131.2L523.4,131.4L522.8,132.2L522.8,132.2L522.1,133L522,133.1L521.3,133.9L521.2,133.9L520.5,134.7L520.5,134.7L519.7,135.5L519.7,135.5L518.9,136.2L518.8,136.3L518.2,136.9L517.9,137.2L517.4,137.6L516.9,138L516.6,138.2L515.9,138.8L515.9,138.8L515.1,139.4L514.8,139.6L514.3,140L513.6,140.5L513.6,140.5L512.8,141L512.4,141.3L512,141.5L511.2,142L511.1,142.1L510.5,142.5L509.7,142.9L509.7,142.9L508.9,143.3L508.2,143.8L508.1,143.8L507.4,144.1L506.6,144.5L506.5,144.6" stroke="#8f9cf0"/>
<path d="M542,137.1L542,137.2L541.5,138L541.2,138.4L541,138.8L540.5,139.6L540.4,139.6L539.9,140.5L539.7,140.7L539.3,141.3L538.9,141.7L538.6,142.1L538.2,142.7L538,142.9L537.4,143.6L537.3,143.8L536.6,144.5L536.5,144.6M419,54L419.2,53.6L419.8,52.8L419.8,52.8L420.3,52L420.5,51.7L420.9,51.2L421.3,50.6L421.5,50.3L422,49.5L422.1,49.5L422.6,48.7L422.8,48.4L423.2,47.9L423.6,47.3L423.8,47L424.4,46.3L424.4,46.2L425.1,45.4L425.1,45.3L425.7,44.5L425.9,44.3L426.3,43.7L426.7,43.3L427,42.9L427.5,42.3L427.6,42.1L428.2,41.3L428.3,41.2L429,40.4L429,40.4L429.7,39.6L429.8,39.5L430.4,38.8L430.5,38.6L431.1,37.9L431.3,37.7L431.8,37.1L432.1,36.8L432.6,36.3L432.8,36L433.3,35.5L433.6,35.1L434.1,34.6L434.4,34.3L434.9,33.8L435.1,33.5L435.7,33L435.9,32.7L436.5,32.1L436.7,32L437.3,31.3L437.4,31.2L438.2,30.5L438.2,30.5L439,29.7L439.1,29.7L439.8,29L440,28.8L440.5,28.3L440.9,28L441.3,27.6L441.8,27.2L442.1,27L442.8,26.4L442.8,26.3L443.6,25.7L443.8,25.5L444.4,25.1L444.8,24.7L445.1,24.5L445.9,23.9L445.9,23.9L446.7,23.3L447,23L447.4,22.8L448.2,22.2L448.2,22.2L449,21.7L449.4,21.4L449.8,21.2L450.5,20.7L450.7,20.6L451.3,20.2L452.1,19.8L452.1,19.7L452.8,19.3L453.5,18.9L453.6,18.9L454.4,18.5L455.1,18.1L455.1,18.1L455.9,17.7L456.7,17.3L456.8,17.3L457.4,17L458.2,16.7L458.7,16.4L459,16.3L459.7,16L460.5,15.8L460.9,15.6L461.3,15.5L462.1,15.2L462.8,15L463.6,14.8L463.6,14.8L464.4,14.6L465.1,14.4L465.9,14.2L466.7,14.1L467.4,14L467.5,14L468.2,13.8L469,13.7L469.7,13.7L470.5,13.6L471.3,13.5L472,13.5L472.8,13.5L473.6,13.5L474.4,13.5L475.1,13.6L475.9,13.6L476.7,13.7L477.4,13.8L478.2,13.9L478.8,14L479,14L479.7,14.1L480.5,14.3L481.3,14.4L482,14.6L482.6,14.8L482.8,14.8L483.6,15.1L484.3,15.3L485.1,15.5L485.3,15.6L485.9,15.8L486.6,16.1L487.4,16.4L487.5,16.4L488.2,16.7L489,17.1L489.4,17.3L489.7,17.4L490.5,17.8L491.1,18.1L491.3,18.2L492,18.6L492.7,18.9L492.8,19L493.6,19.4L494.2,19.7L494.3,19.8L495.1,20.3L495.5,20.6L495.9,20.8L496.6,21.3L496.8,21.4L497.4,21.8L498,22.2L498.2,22.3L498.9,22.9L499.2,23L499.7,23.4L500.3,23.9L500.5,24L501.3,24.6L501.4,24.7L502,25.2L502.4,25.5L502.8,25.8L503.4,26.4L503.6,26.5L504.3,27.1L504.4,27.2L505.1,27.8L505.4,28L505.9,28.5L506.3,28.8L506.6,29.2L507.2,29.7L507.4,29.9L508.1,30.5L508.2,30.6L508.9,31.3L508.9,31.3L509.7,32.1L509.7,32.1L510.5,32.9L510.6,33L511.2,33.7L511.4,33.8L512,34.5L512.1,34.6L512.8,35.3L512.9,35.5L513.6,36.1L513.7,36.3L514.3,37L514.4,37.1L515.1,37.9L515.1,37.9L515.9,38.8L515.9,38.8L516.6,39.6L516.6,39.7L517.3,40.4L517.4,40.6L517.9,41.2L518.2,41.5L518.6,42.1L518.9,42.5L519.3,42.9L519.7,43.5L519.9,43.7L520.5,44.5L520.5,44.5L521.2,45.4L521.2,45.5L521.8,46.2L522,46.5L522.4,47L522.8,47.5L523,47.9L523.5,48.6L523.6,48.7L524.2,49.5L524.3,49.7L524.8,50.3L525.1,50.8L525.3,51.2L525.9,51.9L525.9,52L526.5,52.8L526.6,53.1L527,53.6L527.4,54.2L527.6,54.5L528.1,55.3L528.2,55.4L528.6,56.1L528.9,56.6L529.1,57L529.6,57.8L529.7,57.9L530.1,58.6L530.5,59.1L530.6,59.4L531.1,60.3L531.2,60.4L531.6,61.1L532,61.8L532.1,61.9L532.6,62.7L532.8,63.1L533,63.6L533.5,64.4L533.5,64.5L533.9,65.2L534.3,65.9L534.4,66L534.8,66.9L535.1,67.4L535.3,67.7L535.7,68.5L535.9,68.8L536.1,69.4L536.5,70.2L536.6,70.4L536.9,71L537.3,71.8L537.4,72L537.7,72.7L538.1,73.5L538.2,73.6L538.5,74.3L538.9,75.1L538.9,75.3L539.2,76L539.6,76.8L539.7,77L540,77.6L540.3,78.5L540.5,78.8L540.6,79.3L541,80.1L541.2,80.7L541.3,80.9L541.6,81.8L541.9,82.6L542,82.7" stroke="#6fb5ee"/>
<path d="M419,41.8L419.4,41.2L419.8,40.7L420,40.4L420.5,39.7L420.6,39.6L421.3,38.8L421.3,38.7L421.9,37.9L422.1,37.7L422.6,37.1L422.8,36.8L423.2,36.3L423.6,35.8L423.9,35.5L424.4,34.9L424.6,34.6L425.1,33.9L425.3,33.8L425.9,33L426,33L426.7,32.1L426.7,32.1L427.4,31.3L427.5,31.2L428.1,30.5L428.2,30.4L428.9,29.7L429,29.5L429.6,28.8L429.8,28.7L430.4,28L430.5,27.8L431.1,27.2L431.3,27L431.9,26.4L432.1,26.2L432.7,25.5L432.8,25.4L433.5,24.7L433.6,24.6L434.4,23.9L434.4,23.9L435.1,23.1L435.2,23L435.9,22.4L436.1,22.2L436.7,21.7L437,21.4L437.4,21L437.9,20.6L438.2,20.3L438.8,19.7L439,19.6L439.7,18.9L439.8,18.9L440.5,18.2L440.7,18.1L441.3,17.6L441.7,17.3L442.1,17L442.7,16.4L442.8,16.4L443.6,15.8L443.8,15.6L444.4,15.2L444.9,14.8L445.1,14.6L445.9,14L446,14L446.7,13.5L447.2,13.1L447.4,13L448.2,12.5L448.5,12.3M497.8,12.3L498.2,12.6L498.9,13.1L499,13.1L499.7,13.6L500.2,14L500.5,14.2L501.3,14.7L501.3,14.8L502,15.3L502.4,15.6L502.8,15.9L503.5,16.4L503.6,16.5L504.3,17.1L504.5,17.3L505.1,17.7L505.5,18.1L505.9,18.4L506.5,18.9L506.6,19L507.4,19.7L507.4,19.7L508.2,20.4L508.4,20.6L508.9,21.1L509.3,21.4L509.7,21.8L510.2,22.2L510.5,22.5L511,23L511.2,23.3L511.9,23.9L512,24L512.7,24.7L512.8,24.8L513.5,25.5L513.6,25.6L514.3,26.4L514.3,26.4L515.1,27.2L515.1,27.2L515.9,28L515.9,28L516.6,28.8L516.6,28.8L517.4,29.7L517.4,29.7L518.1,30.5L518.2,30.5L518.9,31.3L518.9,31.4L519.6,32.1L519.7,32.3L520.3,33L520.5,33.2L521,33.8L521.2,34.1L521.7,34.6L522,35.1L522.3,35.5L522.8,36L523,36.3L523.5,37L523.7,37.1L524.3,37.9L524.3,37.9L525,38.8L525.1,38.9L525.6,39.6L525.9,39.9L526.2,40.4L526.6,40.9L526.9,41.2L527.4,42L527.5,42.1L528.1,42.9L528.2,43L528.7,43.7L528.9,44.1L529.3,44.5L529.7,45.1L529.9,45.4L530.4,46.2L530.5,46.2L531,47L531.2,47.3L531.6,47.9L532,48.5L532.2,48.7L532.7,49.5L532.8,49.6L533.3,50.3L533.5,50.8L533.8,51.2L534.3,51.9L534.3,52L534.9,52.8L535.1,53.1L535.4,53.6L535.9,54.3L535.9,54.5L536.4,55.3L536.6,55.6L537,56.1L537.4,56.8L537.5,57L538,57.8L538.2,58.1L538.5,58.6L538.9,59.4L538.9,59.4L539.4,60.3L539.7,60.7L539.9,61.1L540.4,61.9L540.5,62.1L540.8,62.7L541.2,63.4L541.3,63.6L541.8,64.4L542,64.8" stroke="#5fd0e8"/>
<path d="M419,30.3L419.5,29.7L419.8,29.4L420.2,28.8L420.5,28.4L420.9,28L421.3,27.5L421.6,27.2L422.1,26.6L422.3,26.4L422.8,25.7L423,25.5L423.6,24.8L423.7,24.7L424.4,23.9L424.4,23.9L425.1,23L425.2,23L425.9,22.2L425.9,22.2L426.6,21.4L426.7,21.4L427.4,20.6L427.5,20.5L428.2,19.7L428.2,19.7L429,18.9L429,18.9L429.8,18.1L429.8,18.1L430.5,17.3L430.6,17.3L431.3,16.5L431.4,16.4L432.1,15.8L432.2,15.6L432.8,15L433.1,14.8L433.6,14.3L433.9,14L434.4,13.5L434.8,13.1L435.1,12.8L435.7,12.3M510.5,12.3L511.2,13L511.4,13.1L512,13.7L512.3,14L512.8,14.4L513.2,14.8L513.6,15.2L514,15.6L514.3,15.9L514.8,16.4L515.1,16.7L515.7,17.3L515.9,17.5L516.5,18.1L516.6,18.2L517.3,18.9L517.4,19L518.1,19.7L518.2,19.9L518.8,20.6L518.9,20.7L519.6,21.4L519.7,21.5L520.3,22.2L520.5,22.4L521.1,23L521.2,23.2L521.8,23.9L522,24.1L522.5,24.7L522.8,25L523.3,25.5L523.5,25.9L524,26.4L524.3,26.8L524.7,27.2L525.1,27.7L525.4,28L525.9,28.6L526,28.8L526.6,29.5L526.7,29.7L527.4,30.5L527.4,30.5L528.1,31.3L528.2,31.5L528.7,32.1L528.9,32.4L529.4,33L529.7,33.4L530,33.8L530.5,34.4L530.6,34.6L531.2,35.4L531.3,35.5L531.9,36.3L532,36.4L532.5,37.1L532.8,37.5L533.1,37.9L533.5,38.5L533.7,38.8L534.3,39.6L534.3,39.6L534.9,40.4L535.1,40.6L535.5,41.2L535.9,41.7L536.1,42.1L536.6,42.8L536.7,42.9L537.3,43.7L537.4,43.9L537.8,44.5L538.2,45L538.4,45.4L538.9,46.2L539,46.2L539.5,47L539.7,47.3L540.1,47.9L540.5,48.5L540.6,48.7L541.2,49.5L541.2,49.6L541.7,50.3L542,50.8" stroke="#6fdfe0"/>
<path d="M419,20.5L419.6,19.7L419.8,19.6L420.3,18.9L420.5,18.7L421.1,18.1L421.3,17.8L421.8,17.3L422.1,16.9L422.5,16.4L422.8,16.1L423.3,15.6L423.6,15.2L424,14.8L424.4,14.4L424.8,14L425.1,13.6L425.6,13.1L425.9,12.7L426.3,12.3M519.9,12.3L520.5,12.9L520.7,13.1L521.2,13.7L521.5,14L522,14.6L522.2,14.8L522.8,15.4L523,15.6L523.5,16.3L523.7,16.4L524.3,17.1L524.4,17.3L525.1,18L525.2,18.1L525.9,18.9L525.9,18.9L526.6,19.7L526.6,19.8L527.3,20.6L527.4,20.7L528,21.4L528.2,21.6L528.7,22.2L528.9,22.5L529.4,23L529.7,23.4L530.1,23.9L530.5,24.4L530.7,24.7L531.2,25.3L531.4,25.5L532,26.3L532.1,26.4L532.7,27.2L532.8,27.3L533.4,28L533.5,28.2L534,28.8L534.3,29.2L534.7,29.7L535.1,30.2L535.3,30.5L535.9,31.2L535.9,31.3L536.5,32.1L536.6,32.2L537.2,33L537.4,33.3L537.8,33.8L538.2,34.3L538.4,34.6L538.9,35.4L539,35.5L539.6,36.3L539.7,36.4L540.2,37.1L540.5,37.5L540.8,37.9L541.2,38.6L541.4,38.8L542,39.6L542,39.6" stroke="#a0e0b0"/>
<path d="M527.7,12.3L528.2,12.8L528.4,13.1L528.9,13.7L529.1,14L529.7,14.6L529.8,14.8L530.5,15.5L530.5,15.6L531.2,16.4L531.2,16.4L531.9,17.3L532,17.4L532.6,18.1L532.8,18.3L533.3,18.9L533.5,19.2L534,19.7L534.3,20.2L534.6,20.6L535.1,21.1L535.3,21.4L535.9,22.1L535.9,22.2L536.6,23L536.6,23.1L537.3,23.9L537.4,24.1L537.9,24.7L538.2,25L538.5,25.5L538.9,26L539.2,26.4L539.7,27L539.8,27.2L540.4,28L540.5,28.1L541.1,28.8L541.2,29.1L541.7,29.7L542,30.1" stroke="#e8d890"/>
</g>
<path transform="scale(0.25)" d="M1676 62h0m19-9h0m17-3h0m8 0h0m42 19h0m17-20h0m10 0h0m5 2h0m18-2h0m28 9h0m6-9h0m13 7h0m7-7h0m8 0h0m2 5h0m2 13h0m6-18h0m2 11h0m27-11h0m25 0h0m36 0h0m36 22h0m1-17h0m9-5h0m5 0h0m21 3h0m84 13h0m8-15h0m30 8h0m-24 36h0m-36-14h0m0-5h0m-3 19h0m-105-3h0m-15-8h0m-26 2h0m-3 7h0m-11-5h0m-39-9h0m-7 7h0m-25-4h0m-39 10h0m-8 1h0m-16-17h0m-68 18h0m-3-7h0m-64 9h0m0 4h0m0 1h0m0 1h0m0-1h0m41 5h0m70 1h0m15 13h0m38-7h0m18-13h0m36 4h0m19 14h0m19-1h0m34-12h0m18 9h0m74 6h0m17-11h0m18 3h0m74-1h0m1-14h0m0 38h0m0 2h0m-42-7h0m-21 12h0m-106-21h0m-1 5h0m-6 14h0m-10 0h0m-37 3h0m-6-11h0m-1 6h0m-14-4h0m-41 9h0m-21-19h0m-3 7h0m-2 9h0m-25 4h0m-16-23h0m-40 20h0m-2-17h0m-22 15h0m-4-6h0m-24 0h0m-33 4h0m-15 1h0m0 13h0m56 4h0m21 13h0m28-3h0m75 3h0m20-5h0m2-12h0m2 4h0m0 9h0m2-17h0m2 21h0m11-13h0m2 2h0m1 0h0m10-12h0m0 14h0m8-11h0m10 20h0m4-7h0m13 7h0m15-22h0m5 12h0m2 8h0m27-12h0m14-9h0m3 11h0m25 0h0m19-4h0m8 16h0m16-14h0m42 8h0m33 6h0m16 24h0m0-15h0m-10 6h0m-31-2h0m-12-12h0m-9 8h0m-5 5h0m-20 4h0m-5-6h0m-62 7h0m-5-4h0m-7-5h0m-30-9h0m-3 10h0m0-2h0m-3-5h0m-11 0h0m-16 17h0m-12 2h0m-1-7h0m-6-3h0m-6-3h0m-9-2h0m-5-1h0m-2 10h0m-8-5h0m-3 2h0m-2 4h0m-2-3h0m-10-4h0m-1-2h0m-3 11h0m-11-19h0m-10 12h0m-2-10h0m-4 0h0m-7 8h0m0 3h0m-8-5h0m-2 12h0m-13 3h0m-14-16h0m-4 1h0m-6 4h0m-28 2h0m-29 7h0m-30-13h0m-25 8h0m23 28h0m9-8h0m33-7h0m9 1h0m7 17h0m4-22h0m4 4h0m16 7h0m30 11h0m16-4h0m5 1h0m5-3h0m14 5h0m9-4h0m1-6h0m2 1h0m4 0h0m0-12h0m1 18h0m7-3h0m2-10h0m10 9h0m2-6h0m0 1h0m3 2h0m1-7h0m5 13h0m1-8h0m0 5h0m2-7h0m1 6h0m2 8h0m0-1h0m2-12h0m0-1h0m4 1h0m5 1h0m1 7h0m7 3h0m5-12h0m0 14h0m4-17h0m0-3h0m9 4h0m1-5h0m15 18h0m2-18h0m7 0h0m10 8h0m26 14h0m13-7h0m13 2h0m12 0h0m1-8h0m27 2h0m7-12h0m42 4h0m8 10h0m13-9h0m-49 21h0m-18 20h0m-5-10h0m-43-3h0m-15-2h0m-1 16h0m-15-10h0m-2-9h0m-14 19h0m-5-2h0m0-4h0m-23 4h0m-5-19h0m-12 8h0m-3 2h0m-9-6h0m0 13h0m-1-19h0m-1 21h0m-2-12h0m-1-7h0m0 12h0m-4-6h0m0 12h0m-3-18h0m-3 18h0m-3-17h0m-1 7h0m-1 9h0m-4-4h0m-3-2h0m-1 9h0m-2 1h0m-1-19h0m-2 7h0m-1-1h0m-3-3h0m-4 1h0m-10 7h0m-1-8h0m0 15h0m-9-15h0m-3 16h0m-1-17h0m-8 2h0m-1-1h0m-28 16h0m-1-5h0m-16-10h0m-19 3h0m-6 12h0m-25-2h0m-55-16h0m-3 9h0m-13 4h0m62 7h0m14 14h0m4 5h0m14-10h0m26 5h0m2 1h0m1 0h0m6-6h0m0 10h0m1-12h0m2 4h0m3 7h0m5-18h0m0 4h0m3-4h0m2 9h0m6-10h0m1 0h0m5 16h0m3-2h0m10 8h0m5-22h0m1 19h0m2-7h0m4 2h0m2 8h0m0-19h0m0 16h0m3-3h0m0-5h0m4 4h0m1 4h0m3-6h0m1 1h0m1 1h0m1-9h0m0 1h0m3-1h0m6 11h0m2-3h0m2-3h0m2 8h0m2-1h0m1-16h0m0 13h0m0-8h0m2 8h0m0 2h0m1-15h0m0 11h0m1 7h0m1-12h0m3-3h0m2-5h0m3 18h0m5-10h0m1-2h0m2-6h0m7 13h0m3-3h0m28 6h0m2 6h0m1-19h0m5 10h0m1-10h0m2 16h0m1-13h0m6 5h0m20 5h0m17 5h0m7-10h0m16 0h0m15 8h0m19-17h0m3 13h0m75-9h0m4-2h0m1 19h0m19-18h0m-16 29h0m-13-1h0m-43 14h0m-5-6h0m-23-1h0m0-14h0m-16 8h0m-4 4h0m-6-4h0m-41 9h0m-1-19h0m-1 0h0m-4 3h0m-1 17h0m-4-2h0m-4-10h0m-10 9h0m-3-10h0m-20 7h0m-4 3h0m-11 2h0m-1-14h0m-3 0h0m-7 6h0m-4 12h0m-1-20h0m-1 0h0m0 20h0m0-19h0m-5 18h0m-2-1h0m-1-15h0m0 5h0m-2 9h0m0-5h0m-2-2h0m0-3h0m-1-7h0m-1 0h0m-1 14h0m0-6h0m-2-11h0m-1 13h0m-1-9h0m0 8h0m-1-5h0m0 12h0m-5-19h0m-1 20h0m-1 1h0m-1-20h0m-3 17h0m-4-7h0m-1-10h0m0 22h0m-1-17h0m-1 15h0m-2-20h0m-4 1h0m-2 0h0m0 19h0m-5-16h0m-2 4h0m-11-2h0m-3-2h0m-1 0h0m-1-3h0m-7 20h0m-2-22h0m-4 10h0m-2 3h0m-18-4h0m-3-7h0m-2-1h0m-15 14h0m-2 5h0m-7-14h0m-17 6h0m-3 7h0m-2 3h0m-28 0h0m-25-8h0m-39 20h0m1 11h0m9-1h0m34-8h0m19 2h0m16-9h0m11 13h0m5-15h0m3 9h0m21 5h0m12-14h0m3 14h0m2-14h0m15 11h0m1-14h0m3 9h0m4 14h0m6-22h0m0 19h0m1 3h0m1-21h0m2 4h0m1-2h0m3 11h0m1-5h0m2-7h0m1 0h0m0 5h0m8 7h0m2-8h0m0 3h0m1 7h0m1-5h0m2 4h0m0-13h0m1 16h0m1-12h0m0 3h0m1 7h0m2-7h0m1 7h0m0-3h0m3 1h0m2 2h0m1-7h0m1-7h0m0 20h0m1 0h0m2-12h0m1-1h0m1-9h0m1 2h0m1 0h0m1 19h0m0-9h0m1 7h0m2-8h0m4-5h0m0 13h0m0-4h0m1-12h0m0-1h0m2 14h0m6 3h0m0 0h0m0-3h0m2-14h0m3 19h0m0-20h0m2 7h0m0-5h0m1 9h0m1 10h0m0-2h0m2 2h0m1-4h0m1-19h0m3 2h0m2 10h0m3-10h0m4 2h0m2 19h0m2 0h0m8-10h0m7-13h0m7 18h0m2 2h0m1-8h0m7 0h0m7 5h0m4-1h0m12 6h0m0-7h0m10-9h0m1 5h0m1 3h0m14-12h0m63 6h0m4 10h0m1 2h0m86 4h0m-14 20h0m-19-8h0m-5-12h0m-20 20h0m-19-8h0m-4 8h0m-11-10h0m-1 6h0m-43-16h0m-20 18h0m-33-9h0m-8 0h0m-3-2h0m-2 13h0m-5-7h0m0-1h0m-4-11h0m-2 2h0m-7-3h0m-3 18h0m-5-13h0m-3 4h0m-5-6h0m-1 19h0m-3-22h0m-7 2h0m-1 1h0m-2 16h0m-1-9h0m-1 2h0m-4 3h0m-1 6h0m0-8h0m-1 2h0m-2-11h0m0 12h0m-1-11h0m0 3h0m-1 7h0m-2 6h0m-1 2h0m-3-4h0m-1-9h0m0 11h0m-3-4h0m0 6h0m0-1h0m0-10h0m0-7h0m-2 13h0m0 1h0m0-14h0m0 7h0m-1 7h0m0 4h0m-2-14h0m0 0h0m-2 8h0m-1-13h0m-1 13h0m0-3h0m-1-2h0m-3 0h0m0 3h0m-2 8h0m-1-9h0m-1-11h0m0 8h0m-1 4h0m-2-11h0m0 3h0m-1-3h0m-1 15h0m-1-12h0m0-4h0m-1 17h0m-1-20h0m0 2h0m-3-2h0m0 4h0m-1 16h0m-2-7h0m0-8h0m-1 12h0m-1 6h0m-1-16h0m-1 10h0m0-15h0m-1-2h0m-3 15h0m0-2h0m-2-3h0m-4 6h0m0-8h0m-3-4h0m-1 6h0m-1-5h0m-2 12h0m-1-6h0m0 9h0m-1-14h0m-1 4h0m-1 8h0m-3-8h0m-1 0h0m-3-4h0m-1 8h0m-2-6h0m-3 12h0m-2-5h0m-8 5h0m-3-14h0m-2-6h0m-5 22h0m-3-13h0m-5-5h0m-21 19h0m-5-20h0m-11 4h0m-5 13h0m-10-7h0m-3-9h0m-1 7h0m-32-1h0m-20 12h0m-5-4h0m-10-2h0m0 20h0m0-10h0m0 8h0m0 6h0m37-11h0m4-4h0m31 4h0m18-1h0m1 10h0m1-2h0m9-9h0m12 8h0m7 6h0m1-13h0m4-3h0m1 14h0m1 5h0m2 2h0m5-10h0m1-3h0m4-9h0m3 17h0m1-3h0m0 6h0m2 1h0m1-10h0m6 5h0m1-9h0m1-5h0m0 14h0m2 7h0m0 0h0m1-17h0m0 7h0m1-7h0m3 9h0m0-7h0m3 15h0m1-9h0m1 6h0m1-4h0m3-4h0m0-11h0m0 18h0m0-1h0m2 1h0m0-10h0m2-4h0m2 13h0m1-18h0m2 19h0m1-16h0m1 16h0m1-12h0m0 8h0m0 8h0m3-13h0m2-7h0m0-3h0m0 23h0m2-5h0m0 3h0m1-12h0m0-8h0m2 16h0m0 3h0m1-19h0m1 17h0m1-11h0m1-1h0m1 8h0m0 9h0m0-11h0m0 4h0m1 3h0m2-13h0m1 14h0m1 2h0m1 1h0m0-13h0m0 9h0m1-11h0m0 14h0m0-1h0m1-9h0m1 3h0m1-11h0m0 17h0m0 1h0m4-11h0m0-1h0m0 11h0m0-17h0m0 10h0m1 8h0m0-14h0m0 15h0m1-6h0m1-14h0m0 20h0m0 0h0m0-1h0m1-20h0m0 11h0m1 8h0m0-3h0m0 0h0m0 2h0m0-3h0m1-15h0m0 3h0m1 12h0m0 5h0m1-20h0m1-2h0m3 18h0m0 1h0m0 2h0m1-9h0m0-10h0m2 21h0m0-2h0m0-13h0m0 10h0m2 4h0m0-4h0m1-16h0m1 9h0m0-9h0m3 19h0m1-16h0m3 3h0m1 14h0m0-22h0m3 23h0m4-9h0m2 0h0m0 7h0m0 2h0m1-19h0m3 8h0m2-12h0m0 12h0m2 7h0m1-2h0m1-4h0m3 4h0m2-1h0m0-1h0m4-4h0m1-3h0m2 0h0m4-6h0m1 21h0m4-18h0m1 1h0m1 1h0m7 4h0m1-5h0m5 4h0m0 3h0m7 0h0m3 8h0m4-15h0m2-6h0m1 19h0m0-5h0m3-3h0m11-5h0m6 4h0m7-1h0m5 7h0m33-11h0m19-2h0m22 4h0m3 13h0m21 2h0m5-2h0m5 3h0m9-21h0m33 35h0m-5 6h0m-5-10h0m-17 9h0m-8-5h0m-22 4h0m-34-7h0m-6 7h0m-38-12h0m-12 6h0m-20 3h0m-10 6h0m-2-11h0m-2 0h0m0 4h0m-12-1h0m-5 10h0m-6-2h0m-3-8h0m-3 5h0m-1 6h0m-2-19h0m-1 5h0m-2 2h0m-1 2h0m0 7h0m-3-3h0m-2-11h0m-2 3h0m-5 5h0m-1-13h0m-1 9h0m-1 10h0m-1-3h0m-1-4h0m-3 1h0m0 1h0m-1-2h0m-1 4h0m-1-2h0m-2 7h0m-2-8h0m0-13h0m-1 8h0m-1 2h0m0 1h0m-1-7h0m0 1h0m0 15h0m-1-5h0m0 5h0m-1-4h0m0-4h0m0 5h0m0-7h0m-1 6h0m-1 2h0m-2-5h0m0-7h0m-1 8h0m-1 0h0m0 3h0m-1-14h0m0-3h0m0 3h0m0 4h0m-1 15h0m0-1h0m-1-5h0m0 2h0m0-3h0m0-2h0m-1 9h0m0-9h0m-1 3h0m0-16h0m0 15h0m0-7h0m0 5h0m-1 4h0m0-5h0m0 6h0m-1-16h0m0 16h0m-1 1h0m0-2h0m0-4h0m-2-1h0m0 5h0m-1 1h0m0-13h0m0-4h0m0 17h0m0-2h0m0-6h0m-1-10h0m0 15h0m0 5h0m0-2h0m-1-5h0m-1-11h0m0 14h0m0-10h0m0-3h0m0-3h0m0 10h0m-1-3h0m0 5h0m0-7h0m-1 3h0m0 2h0m-1-1h0m0 7h0m0-3h0m0-3h0m0 2h0m0 4h0m0-4h0m0 2h0m-1-9h0m0 1h0m0 6h0m0-10h0m0 17h0m0-8h0m0 3h0m-1 7h0m0-4h0m0-7h0m0 6h0m0-13h0m0 16h0m0-9h0m-1-1h0m0 3h0m0 8h0m0-6h0m0 7h0m0-18h0m0 1h0m0 6h0m0 12h0m0-22h0m-1 8h0m0 7h0m0 7h0m0-11h0m0 6h0m0-14h0m0-1h0m0-1h0m0 15h0m0 2h0m0 4h0m0-6h0m0 3h0m0-13h0m0 10h0m-1 1h0m0 3h0m0-4h0m0-10h0m-1 2h0m0 2h0m0 12h0m0-9h0m0 4h0m0 2h0m0-11h0m0 5h0m-1-9h0m0 14h0m0-11h0m0 0h0m0 4h0m0-9h0m0 13h0m0 2h0m0-17h0m0 19h0m0-9h0m0 11h0m-1-6h0m0 5h0m0-11h0m0 8h0m0-11h0m0 16h0m0-16h0m-1 4h0m0 1h0m0 8h0m0 2h0m0-15h0m0-2h0m0 18h0m0-10h0m0 2h0m0-12h0m-1 0h0m0 14h0m0-2h0m0 6h0m0-3h0m0-1h0m0 2h0m0-19h0m0 18h0m0 1h0m0-2h0m0 0h0m0 4h0m0-12h0m-1 5h0m0 5h0m0-5h0m0 8h0m0-16h0m0 4h0m-1-9h0m0 8h0m0 14h0m0-20h0m0 7h0m0-4h0m0 6h0m0 6h0m0-14h0m0 7h0m0 9h0m0-17h0m-1 10h0m0-7h0m0 15h0m0-4h0m0 2h0m0-7h0m0-8h0m0 9h0m0 5h0m0 4h0m-1-10h0m0 10h0m0-7h0m0-12h0m0 11h0m0-1h0m0-5h0m0 4h0m0 8h0m-1-9h0m0 12h0m0-5h0m0-1h0m0 3h0m0 0h0m0-4h0m0 4h0m-1-3h0m0-7h0m0 4h0m0-1h0m0 10h0m0-3h0m0-3h0m0-1h0m0 3h0m0-6h0m0 0h0m0 6h0m0-3h0m0 6h0m-1 1h0m0-3h0m0-14h0m0 12h0m0-12h0m0 1h0m0 10h0m0-13h0m0 9h0m0-2h0m-1 5h0m0-8h0m0 0h0m0 11h0m0 4h0m0-3h0m0-3h0m0-6h0m0-2h0m0 9h0m0-9h0m-1 10h0m0-10h0m0-3h0m0 8h0m0 0h0m0-8h0m0 14h0m0 3h0m0-9h0m0 6h0m0-13h0m0-3h0m-1 13h0m0-12h0m0 18h0m0-2h0m0-5h0m0-3h0m0 10h0m0-9h0m0 1h0m0-6h0m0 1h0m0 2h0m-1 6h0m0-2h0m0-8h0m0-1h0m0 13h0m0-9h0m0-5h0m0 10h0m0-6h0m0 0h0m-1-2h0m0 7h0m0-7h0m0 8h0m0-12h0m0 4h0m0 6h0m0 8h0m0-8h0m0 2h0m0 0h0m0-7h0m0 3h0m0 5h0m-1-13h0m0-3h0m0 17h0m0-4h0m0 0h0m0 4h0m0-11h0m0 2h0m-1 4h0m0 10h0m0-14h0m0 12h0m0-18h0m0 6h0m0-2h0m0-3h0m-1 12h0m0 3h0m0-6h0m0 4h0m0 1h0m0-1h0m0 4h0m0-10h0m0 9h0m0-3h0m0-1h0m0-3h0m0-5h0m-1-5h0m0 14h0m0-15h0m0 21h0m0-6h0m0-8h0m0 9h0m0 1h0m0 2h0m0-7h0m-1 0h0m0-4h0m0 8h0m0-3h0m0-14h0m0 20h0m0-1h0m0-18h0m0 18h0m0-12h0m0 5h0m-1-7h0m0-5h0m0 13h0m0-6h0m0 9h0m0 3h0m0-7h0m-1 1h0m0 7h0m0-2h0m0-10h0m0-3h0m0 2h0m0 12h0m0 2h0m0 1h0m0-7h0m0-12h0m-1 0h0m0 7h0m0 7h0m0 0h0m0-1h0m0 6h0m0-9h0m0 7h0m-1 1h0m0-7h0m0-3h0m0-2h0m0 2h0m0 6h0m0-8h0m0 3h0m0-9h0m0 4h0m-1 4h0m0 11h0m0 0h0m0-9h0m0 0h0m0 7h0m0-7h0m0-6h0m0 14h0m-1 0h0m0-8h0m0 2h0m0-5h0m0 3h0m0-1h0m0 3h0m0 1h0m0-4h0m-1-12h0m0 4h0m0-3h0m0 12h0m0 2h0m0 4h0m0-18h0m0 8h0m0 1h0m0 5h0m0 6h0m-1-9h0m0 0h0m0-7h0m0 8h0m0 0h0m0 7h0m0 1h0m0-4h0m0-1h0m0-5h0m-1 5h0m0-6h0m0-2h0m-1 1h0m0 2h0m-1 10h0m0-3h0m0-7h0m0 6h0m0-3h0m0 6h0m0 0h0m0-1h0m-1-10h0m0-5h0m0 7h0m0-4h0m0 4h0m0 2h0m0 3h0m-1 3h0m0-7h0m0-5h0m0 9h0m0-5h0m0-5h0m0 14h0m0-3h0m0 2h0m0 3h0m0-2h0m-1-7h0m0 2h0m0-12h0m0 15h0m0-1h0m0-9h0m0 5h0m0-3h0m0 9h0m0-7h0m-1-7h0m0-6h0m0 13h0m0 0h0m0 3h0m0 5h0m0-5h0m0 0h0m-1-13h0m0 16h0m0-1h0m0 3h0m0-7h0m-1 9h0m0-13h0m0 5h0m0 5h0m0-5h0m0-2h0m-1 8h0m0-5h0m0-3h0m0 10h0m0-7h0m0-7h0m0 1h0m-1 4h0m0 1h0m0-11h0m0 13h0m0 5h0m-1-1h0m-1-3h0m-1-4h0m0 0h0m-1-10h0m0 12h0m0 7h0m0-13h0m-2 6h0m-1-15h0m-2 17h0m0-2h0m-1-8h0m-1-3h0m-1 6h0m-1-7h0m-1 3h0m0 1h0m-1-6h0m-2 6h0m-1 8h0m-1-12h0m0 17h0m0-9h0m-2-10h0m0 7h0m0 13h0m-1-16h0m-1 6h0m-1 2h0m-1 4h0m0 5h0m-1-11h0m-2 8h0m-5 3h0m-6-5h0m-10-3h0m-1-7h0m-11 2h0m-7 12h0m0-13h0m-21 7h0m-28-9h0m-10-4h0m-47-2h0m0 20h0m10 20h0m8 3h0m9-2h0m22-9h0m64-3h0m2 1h0m1 7h0m9 9h0m1-15h0m4-5h0m14 5h0m1 6h0m5-2h0m2 10h0m1-10h0m0 4h0m0 1h0m1 1h0m0 3h0m0 0h0m1-1h0m0 2h0m0 1h0m1-5h0m0-18h0m1 18h0m0 1h0m1 4h0m1 0h0m0-1h0m1-9h0m0 9h0m0-7h0m0 5h0m1 2h0m0-5h0m0-5h0m0 3h0m0 4h0m1 4h0m0-2h0m0-8h0m1-10h0m0 9h0m0-8h0m0 15h0m0 2h0m0-7h0m1 1h0m0 2h0m0 6h0m0-1h0m0 1h0m0-9h0m0 0h0m1 8h0m0-3h0m0 4h0m0-7h0m0 2h0m1 0h0m0 0h0m0-1h0m0 6h0m0-5h0m0 2h0m1-16h0m0 15h0m0 3h0m0-13h0m1-7h0m0 19h0m0-4h0m0 5h0m0-6h0m0 3h0m1-18h0m0 14h0m0 6h0m0 2h0m0 0h0m0-4h0m0 1h0m0 2h0m0 0h0m1-12h0m0 10h0m0-5h0m1-15h0m0 22h0m1-10h0m0 1h0m0 4h0m0 1h0m0-9h0m0 14h0m1-16h0m0-5h0m0 1h0m0 19h0m0-1h0m0 1h0m1-2h0m0-17h0m0 6h0m0 14h0m0 0h0m0-12h0m1-2h0m0-9h0m0 4h0m0 6h0m0 7h0m1-14h0m0-3h0m0 2h0m0-1h0m0 1h0m0 19h0m0-1h0m0 2h0m0-2h0m1-18h0m0 2h0m0-1h0m0 4h0m0 10h0m0 1h0m1-12h0m1 17h0m0 0h0m0-4h0m0-19h0m0 2h0m0 10h0m0-4h0m1-6h0m1 0h0m0 12h0m1-10h0m0-1h0m1 17h0m0-16h0m0-4h0m0 17h0m0-4h0m1-4h0m0 13h0m0-6h0m1-16h0m0 0h0m1 1h0m0 4h0m0 2h0m1-7h0m0 12h0m0-8h0m0 9h0m1-12h0m0 9h0m0-6h0m0 10h0m0-7h0m0-7h0m1 8h0m0 2h0m0-10h0m0 0h0m0 1h0m1 9h0m1-9h0m0 5h0m0-3h0m1 7h0m0-9h0m0 14h0m0-13h0m0-2h0m1 19h0m0-5h0m0-10h0m0-1h0m0-2h0m1 10h0m0-6h0m0-3h0m0 19h0m0-17h0m0 9h0m0-5h0m1 0h0m0 9h0m0-15h0m0 1h0m0-2h0m0 2h0m1 3h0m0-3h0m0 3h0m0-1h0m1 13h0m0-14h0m0 11h0m1-11h0m0-2h0m1 2h0m0 0h0m0 2h0m0 15h0m1-20h0m0 1h0m0 4h0m0-5h0m1 8h0m0-8h0m0 0h0m0 15h0m1-14h0m0 3h0m0 8h0m1 6h0m0-17h0m0 1h0m1-1h0m0-1h0m0 7h0m0-4h0m1 6h0m0-10h0m0 5h0m0-5h0m0 3h0m0 5h0m1-5h0m0-3h0m0 1h0m0 0h0m1 5h0m0-1h0m0 16h0m0-19h0m0 10h0m0-12h0m1 7h0m0-4h0m0 8h0m1-8h0m0 15h0m0 2h0m0-11h0m0-6h0m0 0h0m0 9h0m1-8h0m0-1h0m0 4h0m1-7h0m0 4h0m0 4h0m1 12h0m0-13h0m0-4h0m0-1h0m0-2h0m0 6h0m0 7h0m0-11h0m0 5h0m0-1h0m1 8h0m0-3h0m0-5h0m1-3h0m1 3h0m0-2h0m0-3h0m0 8h0m1 3h0m0 10h0m0-13h0m0-3h0m0 8h0m0-10h0m1-1h0m0-3h0m1 2h0m1 12h0m0-2h0m0-5h0m1 1h0m0 6h0m1-10h0m0 3h0m0 14h0m0-3h0m0-13h0m0 0h0m0-3h0m2 19h0m0-20h0m0 0h0m1 11h0m0-10h0m0-1h0m1 6h0m1-5h0m1 10h0m0-2h0m1-9h0m1 19h0m1-13h0m0 8h0m0-8h0m0-7h0m0 10h0m0-3h0m1-2h0m1 2h0m0-2h0m2 14h0m0-11h0m0-6h0m1 9h0m0-4h0m1-2h0m0 3h0m4-5h0m1 0h0m2-1h0m1 2h0m1-2h0m1 18h0m1-20h0m0 21h0m1-5h0m0 2h0m2-13h0m3 8h0m1 7h0m0-16h0m0 1h0m1 1h0m1 1h0m3-5h0m3 9h0m0 4h0m1-6h0m1 4h0m1-1h0m8-9h0m2 7h0m1 13h0m2-22h0m2 11h0m1-7h0m3 10h0m2-12h0m0 19h0m1-10h0m1 0h0m1-10h0m1 13h0m5 7h0m1-16h0m12 15h0m1-14h0m20 15h0m11-15h0m22 13h0m8-2h0m19-12h0m20 17h0m27-20h0m31 24h0m-20 2h0m-36-3h0m-3 6h0m-11-4h0m-7 9h0m-4 10h0m-9-19h0m-2 2h0m-16 15h0m-29-20h0m-22 22h0m-11-12h0m-1-8h0m-1 3h0m-4 7h0m-1 5h0m-1 3h0m-17 0h0m-3-19h0m0 21h0m-2-17h0m0 8h0m0-12h0m-1 15h0m-4-2h0m-1-15h0m-3 5h0m-2 2h0m-1-4h0m-2 9h0m0-10h0m0 16h0m-1 2h0m-1-4h0m0 0h0m0-12h0m-1 2h0m0 17h0m-1-6h0m-1-7h0m0-2h0m-3 8h0m-5-8h0m-1-2h0m-1 5h0m-3-3h0m0 14h0m-1-14h0m-1 4h0m-3-6h0m-4 10h0m0-10h0m-1 2h0m-1 10h0m-1-18h0m-1 16h0m-1-13h0m-1 19h0m0-19h0m-1 17h0m-1-13h0m0 0h0m0-2h0m-1 14h0m-1 0h0m-5 1h0m-1-18h0m-4 1h0m0 3h0m-2-3h0m0 10h0m-1 2h0m-1-6h0m0 2h0m0 9h0m-1-6h0m-1-11h0m-3 3h0m0 13h0m-1-18h0m-1 18h0m-3 2h0m0-7h0m0-10h0m-3 2h0m-3-5h0m-1 1h0m-1 2h0m-1 9h0m0-10h0m0 5h0m-1 12h0m-1-6h0m0-12h0m0-1h0m0 22h0m-1-1h0m0-19h0m0 4h0m0 3h0m0-8h0m0 2h0m-1 4h0m0-7h0m0 6h0m0-5h0m0 6h0m-1-8h0m0 16h0m0-15h0m0 8h0m0-5h0m-1-1h0m0 6h0m0 0h0m-1 12h0m0-6h0m0 0h0m0-8h0m0-6h0m0 1h0m-1 4h0m0-3h0m0 4h0m0 8h0m0-12h0m0 11h0m-1-12h0m0 3h0m0 1h0m0-5h0m0 17h0m0-15h0m0 12h0m-1-8h0m0 3h0m0-8h0m-1 3h0m0-1h0m0-3h0m0 2h0m0 4h0m0 9h0m-1-1h0m0 2h0m0-5h0m0-11h0m0 1h0m0 14h0m0-10h0m0 6h0m0 11h0m-1-22h0m0 13h0m0-8h0m0-2h0m0 1h0m0 6h0m0-5h0m0-1h0m0-5h0m0 14h0m-1-9h0m0 0h0m0 15h0m0-10h0m0-5h0m0 15h0m0 2h0m-1-22h0m0 1h0m0 2h0m0 7h0m0 7h0m0 6h0m0-10h0m-1 8h0m0-7h0m0-5h0m0-1h0m0-3h0m0-1h0m0 10h0m0-2h0m0-9h0m0 16h0m-1-18h0m0 6h0m0-4h0m0 10h0m0-4h0m0 3h0m0-12h0m0 8h0m0-2h0m-1-3h0m0 7h0m0-4h0m0-2h0m0-4h0m0 14h0m0-14h0m0 21h0m0 0h0m0-19h0m-1 5h0m0-2h0m0 2h0m0-5h0m0 11h0m0 2h0m0-2h0m0-6h0m0-6h0m0 3h0m0 3h0m0-3h0m0 10h0m0-1h0m0-8h0m-1 4h0m0-7h0m0 10h0m0-8h0m0 6h0m0-8h0m0 18h0m0-8h0m-1 0h0m0-7h0m0 5h0m0-7h0m0 15h0m0 4h0m0-5h0m-1-17h0m0 7h0m0-6h0m0 13h0m0-2h0m0 3h0m0 0h0m-1-2h0m0 8h0m0-15h0m0-5h0m0 9h0m0 2h0m0 3h0m0-7h0m0-2h0m0 11h0m0 0h0m-1-4h0m0-3h0m0 5h0m0-10h0m0 1h0m0-5h0m0 8h0m0 14h0m-1-6h0m0-13h0m0 8h0m0-12h0m0 5h0m0 10h0m0-5h0m0 12h0m0-11h0m-1-4h0m0-6h0m0-1h0m0 8h0m0-1h0m0 13h0m0-17h0m0 13h0m0 6h0m-1-11h0m0 6h0m0 4h0m0-3h0m0 5h0m0-4h0m-1-18h0m0 12h0m0 0h0m0-6h0m-1-5h0m0-1h0m0 13h0m0 9h0m0 0h0m-1-2h0m0-6h0m-1 2h0m0-9h0m0-8h0m0 8h0m-1 13h0m-1-6h0m-1-4h0m0 11h0m-2-13h0m0 3h0m0 8h0m-2-12h0m-2 11h0m-1-5h0m-2 9h0m-2-4h0m-2 4h0m-7-6h0m-7-13h0m-2 19h0m0-9h0m-21-10h0m-3 19h0m-4-5h0m-23-10h0m-69-8h0m1 24h0m1 4h0m20 11h0m35 6h0m28-20h0m37 10h0m3 9h0m2-20h0m2 18h0m7-14h0m0 5h0m1 4h0m0-11h0m4 8h0m1-3h0m2-2h0m1 9h0m0 6h0m0-3h0m1-10h0m0 0h0m0 11h0m2 5h0m0-14h0m0 14h0m0-1h0m0-2h0m1-5h0m1 5h0m0-10h0m0-3h0m0 8h0m1 3h0m0 1h0m0-2h0m0-4h0m0 10h0m0-5h0m1 5h0m0-8h0m1-9h0m0 7h0m0-3h0m0-4h0m0-1h0m0-3h0m0 4h0m0 11h0m0 2h0m1 3h0m0-6h0m0 1h0m0-7h0m0 9h0m0 0h0m0-4h0m0-9h0m0 8h0m0 0h0m0 5h0m0-10h0m1 10h0m0-17h0m0 10h0m0 2h0m0-7h0m0 9h0m0-2h0m0 0h0m0 3h0m0-14h0m1 15h0m0-8h0m0-5h0m0 12h0m0-3h0m0-9h0m0 1h0m0 7h0m1 6h0m0-7h0m0-11h0m0 10h0m0-1h0m0 5h0m0-9h0m0-1h0m0 0h0m0 13h0m0-1h0m1-3h0m0-4h0m0-3h0m0 16h0m0-16h0m0-4h0m0 16h0m0-11h0m0-7h0m0 9h0m0 1h0m0-4h0m0-4h0m0 16h0m0-9h0m0 11h0m0-11h0m0 10h0m0-7h0m1 0h0m0 8h0m0-17h0m0 11h0m0 2h0m0 5h0m0-1h0m0-4h0m0 2h0m0-2h0m1-15h0m0 14h0m0-6h0m0-9h0m0 4h0m0 13h0m0 3h0m0-10h0m1 10h0m0 1h0m0-3h0m0-9h0m0-9h0m0 13h0m0-4h0m0-8h0m0 19h0m0-12h0m0 12h0m0-4h0m0 1h0m1 2h0m0-9h0m0-2h0m0-5h0m0 17h0m0-9h0m0-10h0m0 18h0m1 2h0m0-8h0m0 2h0m0-6h0m0 6h0m0 0h0m0 4h0m0-16h0m0 12h0m0-16h0m0 14h0m0 6h0m0-7h0m0-2h0m0 0h0m0 6h0m0-6h0m0 4h0m1-4h0m0 6h0m0-10h0m0 12h0m0 3h0m0-17h0m0 10h0m0-12h0m0 3h0m0 6h0m0 11h0m0-23h0m0 22h0m1-21h0m0 19h0m0-2h0m0-10h0m0 15h0m0-8h0m0 3h0m0 4h0m0-12h0m0 5h0m0-4h0m0 1h0m0 2h0m0 4h0m1-14h0m0 11h0m0-10h0m0 10h0m0-11h0m0 19h0m0-11h0m0-12h0m0 19h0m1-17h0m0 2h0m0 7h0m0-11h0m0 20h0m0-16h0m0 1h0m0 15h0m0-1h0m0-7h0m0 8h0m1-12h0m0-2h0m0 8h0m0-2h0m0-7h0m0 16h0m1-5h0m0-12h0m0 16h0m0-15h0m0 16h0m0 0h0m0-5h0m0 1h0m1-7h0m0 12h0m0-12h0m0-1h0m0 10h0m0-7h0m0-4h0m1-1h0m0 13h0m0-9h0m0 7h0m1-3h0m0-7h0m1 9h0m0 2h0m0-12h0m0-7h0m0 20h0m0-1h0m1-14h0m0 13h0m1-11h0m0 9h0m0-8h0m1-5h0m0 10h0m0-9h0m1 17h0m0-10h0m0 9h0m0-14h0m1-3h0m2 17h0m4 0h0m0-11h0m1-6h0m3 1h0m5 5h0m0 8h0m2-2h0m1 0h0m1 8h0m0-14h0m1 14h0m5-1h0m2-7h0m0 8h0m1-7h0m0 5h0m0-10h0m0 6h0m0 0h0m0 3h0m1 0h0m2 2h0m0-4h0m0-2h0m1-3h0m1-11h0m0 19h0m0-9h0m1 2h0m0 9h0m2-3h0m1-3h0m1-3h0m0 7h0m0-15h0m1 12h0m1 3h0m1-4h0m0 6h0m1-1h0m0-2h0m0-6h0m1-12h0m0 18h0m1-4h0m5-8h0m3 0h0m0 0h0m2 2h0m0 7h0m1-15h0m4 13h0m1-8h0m0 6h0m1-2h0m0 2h0m1 2h0m9 5h0m1-19h0m1 22h0m1-11h0m0 0h0m6-5h0m6 13h0m2-4h0m2-15h0m4 0h0m3 19h0m2 2h0m24-19h0m1 0h0m0 15h0m2-4h0m6 7h0m4-9h0m7-2h0m18 9h0m63-13h0m11-5h0m9 13h0m44-8h0m25-5h0m0 32h0m-58 14h0m-29-14h0m-12 9h0m-13-8h0m-29 7h0m-1-5h0m-17-6h0m0 2h0m-7 0h0m-9 3h0m-15-2h0m-8-8h0m-1 12h0m-1-7h0m-5-4h0m-8 8h0m0 2h0m-10-6h0m-5 4h0m-2-7h0m-3 19h0m-4-12h0m-6 2h0m-6-10h0m-1 18h0m-2-2h0m0-14h0m0-2h0m-6 17h0m-1-14h0m0 10h0m0 0h0m-1-4h0m-1 12h0m-1-16h0m0 16h0m-1-15h0m-1-2h0m0-5h0m-1 13h0m0 3h0m0 0h0m-1-5h0m0 6h0m0-3h0m0 1h0m0 0h0m0-10h0m0 15h0m-1-6h0m0 8h0m0-4h0m0-5h0m0-11h0m0 7h0m-1 0h0m0 10h0m0-12h0m0 5h0m0 5h0m-1 2h0m0-13h0m0 11h0m0-5h0m0-13h0m-1 22h0m0 1h0m0-11h0m0 10h0m0-19h0m0 2h0m-1 3h0m0-5h0m0 16h0m0-4h0m0-4h0m-1 12h0m0-2h0m0-1h0m0-10h0m0 11h0m0-15h0m0-1h0m-1 1h0m0 5h0m0 7h0m0-2h0m0-4h0m0-5h0m0-7h0m-1 10h0m0-4h0m0 17h0m0-1h0m0-14h0m0-2h0m0-4h0m0 17h0m0-4h0m-1-2h0m0-1h0m0 2h0m0 2h0m0-3h0m-1-7h0m0 12h0m0 2h0m0-12h0m0-7h0m-1 18h0m0 1h0m0-2h0m0 0h0m0-18h0m-1 20h0m0-8h0m0 4h0m0 3h0m0-4h0m0 0h0m0-3h0m0-12h0m0 6h0m0-2h0m0-3h0m0 1h0m-1 16h0m0 0h0m0 0h0m0-14h0m0 16h0m0 1h0m0-13h0m-1 13h0m0-5h0m0 1h0m0-11h0m0 16h0m0-11h0m0 1h0m0-12h0m0 12h0m-1-9h0m0 5h0m-1 9h0m0 0h0m0-8h0m0 10h0m-1-16h0m0 20h0m0-21h0m0-1h0m0 16h0m0-5h0m0-5h0m0 10h0m-1-5h0m-1-8h0m0 19h0m0-5h0m0-8h0m0-3h0m0-2h0m-1 9h0m0-1h0m0 7h0m0-4h0m0-14h0m0 11h0m-1 8h0m0-5h0m0-12h0m0-3h0m0 11h0m0 1h0m0 3h0m-1-16h0m0 18h0m0 5h0m0-23h0m0 16h0m-1-4h0m0 5h0m0 3h0m0-8h0m0 11h0m0-6h0m-1-5h0m0 5h0m0-1h0m0 7h0m0-12h0m0 4h0m0 6h0m0 2h0m0-10h0m-1-12h0m0 19h0m0 3h0m0-5h0m0-15h0m-1 10h0m0 8h0m0-12h0m0 1h0m0 5h0m0-3h0m0 6h0m-1-2h0m0 6h0m0-14h0m0 14h0m0-6h0m0-5h0m0 8h0m0-10h0m-1 11h0m0 3h0m0-6h0m0 5h0m-1 0h0m0-2h0m0-13h0m0 12h0m0-10h0m0 0h0m-1 7h0m0 0h0m-1 5h0m0 1h0m0-9h0m0 2h0m0-8h0m-1 2h0m0 4h0m0 7h0m0-14h0m0 15h0m0 1h0m0-11h0m0 12h0m-1-13h0m0 10h0m0-7h0m-1-8h0m0 12h0m0-4h0m0 8h0m0-1h0m0 0h0m0-5h0m-1 0h0m0 5h0m0-19h0m0 20h0m-1-3h0m0 5h0m-1-9h0m0 6h0m0-7h0m0-4h0m0 13h0m0-9h0m0-6h0m0 0h0m0 14h0m-1-9h0m0-4h0m0 5h0m0 8h0m-1-14h0m0 10h0m0 1h0m0 5h0m0-17h0m0 10h0m-1-4h0m0 10h0m0-21h0m0 16h0m0-1h0m0-2h0m0-6h0m0 12h0m0 3h0m-1-3h0m0 3h0m0-9h0m0 8h0m0-1h0m0-11h0m0-9h0m-1 17h0m0 2h0m0-1h0m0-13h0m0 13h0m-1-2h0m0-6h0m-1-9h0m0 21h0m0-7h0m0-14h0m-1-1h0m0 21h0m-1-13h0m0-6h0m0 20h0m0-10h0m-1-1h0m0 7h0m0-7h0m0-4h0m0 14h0m0-4h0m0-4h0m0-3h0m0 8h0m-1-19h0m0 20h0m0-7h0m0 6h0m0-4h0m-1 3h0m0 1h0m0 3h0m0-5h0m0 1h0m-1 3h0m0-6h0m-1 8h0m-1-8h0m0 3h0m0-8h0m0-7h0m0 9h0m0-11h0m0 18h0m0 4h0m0 0h0m0-4h0m-1-13h0m0 16h0m0-11h0m0 8h0m0 0h0m-1-5h0m0 2h0m0 5h0m0 0h0m0-16h0m0 12h0m0-13h0m0 7h0m0 10h0m-1-19h0m0 10h0m0-7h0m0 10h0m0-1h0m0 3h0m0-4h0m0 3h0m-1-9h0m0-7h0m0 4h0m0-3h0m0 0h0m0 3h0m0-1h0m0 9h0m0-2h0m0 6h0m0 1h0m0 2h0m-1-3h0m0 4h0m0 1h0m0-14h0m0 5h0m-1-10h0m0 10h0m0-1h0m0-9h0m0 11h0m0 8h0m0-5h0m0-5h0m0 12h0m-1-21h0m0-1h0m0 13h0m0 1h0m0-8h0m0-3h0m0-3h0m0 19h0m0 2h0m-1-14h0m0 1h0m0 5h0m0-9h0m0 13h0m0-16h0m0 8h0m0 0h0m-1-1h0m0 4h0m0-8h0m0-2h0m0 9h0m0-6h0m0-2h0m0 12h0m0 6h0m-1-4h0m0 1h0m0-8h0m0-8h0m0 6h0m0-2h0m0 14h0m0-1h0m0-5h0m0-4h0m-1-9h0m0 13h0m0-13h0m0 14h0m0-1h0m0-14h0m0 0h0m0 0h0m0 8h0m0 13h0m0 0h0m0-12h0m-1-4h0m0-5h0m0 2h0m0 6h0m0-8h0m0 19h0m0-11h0m0 8h0m0 5h0m-1-18h0m0 12h0m0-14h0m0 4h0m0 0h0m0-4h0m0 2h0m0-1h0m0 16h0m0-14h0m0 12h0m-1-16h0m0 3h0m0 4h0m0 15h0m0-23h0m0 8h0m0 13h0m0-13h0m0 7h0m0 3h0m0-7h0m-1-2h0m0-7h0m0 1h0m0-1h0m0 14h0m0 6h0m0-19h0m0-2h0m0 0h0m0 0h0m0 2h0m0 5h0m0 13h0m0-5h0m0-14h0m0 18h0m0-2h0m0-6h0m-1 7h0m0-11h0m0-8h0m0 0h0m0 16h0m0-8h0m0 5h0m0-1h0m0-10h0m0 2h0m-1 1h0m0 14h0m0-9h0m0 8h0m0-16h0m0 12h0m-1-3h0m0 4h0m0-12h0m0 16h0m0-5h0m0-5h0m-1 1h0m0-9h0m0-1h0m0 6h0m0 16h0m0-20h0m0 9h0m0 1h0m0 1h0m0 0h0m-1-12h0m0 13h0m0 2h0m0-6h0m0 2h0m0 9h0m0-8h0m0-10h0m0 20h0m0-21h0m-1-2h0m0 2h0m0 1h0m0 13h0m0-14h0m0 3h0m0-2h0m0 12h0m0-12h0m0 4h0m-1 3h0m0 5h0m0 4h0m-1-4h0m0-11h0m-1-3h0m-1 10h0m0 1h0m-1 6h0m-2-11h0m0 2h0m-1-3h0m0-5h0m0 1h0m-2 1h0m-8 19h0m-12-10h0m0 6h0m-9 1h0m-26-18h0m-7 20h0m-6 0h0m-19-2h0m-21-7h0m-2 9h0m-25-19h0m-6 15h0m-1 12h0m0 0h0m30 1h0m30-1h0m0 0h0m13-5h0m15 1h0m23 4h0m6 10h0m9-5h0m6 8h0m3-12h0m4 6h0m4-5h0m2-2h0m2-4h0m0 2h0m1 10h0m0-12h0m1 0h0m0 4h0m2-5h0m0 6h0m1-2h0m0 6h0m0-10h0m1 16h0m1-14h0m0 0h0m0 16h0m2-17h0m0 22h0m0-20h0m1-3h0m0 6h0m1-4h0m0 4h0m1 14h0m0-17h0m0 7h0m0-1h0m0 6h0m1 1h0m0-12h0m0 4h0m1 2h0m0-10h0m1 10h0m0-7h0m0 6h0m0 6h0m1-14h0m0 1h0m0-2h0m0 4h0m1 5h0m0-8h0m0 16h0m1-2h0m0-8h0m0 2h0m0-3h0m1-4h0m0 9h0m0-4h0m0 3h0m0 13h0m1-21h0m0 2h0m0-1h0m0 4h0m0 0h0m1-3h0m0-2h0m0 0h0m0 8h0m0 10h0m0-17h0m0-1h0m1 2h0m1 3h0m0 0h0m0-1h0m0 0h0m0-1h0m1 2h0m0-7h0m1 13h0m0-10h0m1 9h0m0-3h0m0-6h0m0 3h0m1 6h0m0 2h0m0-5h0m1 0h0m0 3h0m0 0h0m1-12h0m0 12h0m0-3h0m0 6h0m0-8h0m1 10h0m0-10h0m1-3h0m0 17h0m0-6h0m0 5h0m1-18h0m0 6h0m1 3h0m0-2h0m0 14h0m1-8h0m0 0h0m0-3h0m0-6h0m0 6h0m0-12h0m0 2h0m0 3h0m1-2h0m0 7h0m0 0h0m0-4h0m0 2h0m1-8h0m0 11h0m0 1h0m0-1h0m0-8h0m0 20h0m0-16h0m0 5h0m1-6h0m1 0h0m0 11h0m0-1h0m0-15h0m0 0h0m0 10h0m0-5h0m1 13h0m0-12h0m0 4h0m0-5h0m1 5h0m0-10h0m0 14h0m0 0h0m0-14h0m0 2h0m0-1h0m0 9h0m0-11h0m1 2h0m0 4h0m0-3h0m0-3h0m1 7h0m0 7h0m0-13h0m1-1h0m0 16h0m0 5h0m0-17h0m0-3h0m0 8h0m1 4h0m0-9h0m0-4h0m0 3h0m0 7h0m0-2h0m0 6h0m1-9h0m0-1h0m0 1h0m0 4h0m0-8h0m0 0h0m1 11h0m0-4h0m0-6h0m0-2h0m0 3h0m0 11h0m0-12h0m0 0h0m1 5h0m0 1h0m0-6h0m0 11h0m0-10h0m0 7h0m1-4h0m0-3h0m0 0h0m0 3h0m0 1h0m0-1h0m0-5h0m0 3h0m0 2h0m0 2h0m0-5h0m0 16h0m0-7h0m0-11h0m1 1h0m0 14h0m0-12h0m0 11h0m0-12h0m0-3h0m0 3h0m0 5h0m0-3h0m1 0h0m0 0h0m0 3h0m0-4h0m0 5h0m0-9h0m0 11h0m0 6h0m1-5h0m0-4h0m0 0h0m0 0h0m0-3h0m0 6h0m0-7h0m0 3h0m0-7h0m1 7h0m0-1h0m0 1h0m0-7h0m1 8h0m0-6h0m0-1h0m0 20h0m0-21h0m0 10h0m0-6h0m0 0h0m1 3h0m0 1h0m0 2h0m0 4h0m0 1h0m0-6h0m0-8h0m0 9h0m1 9h0m0-2h0m0-5h0m0-4h0m0 1h0m0-8h0m0 7h0m0-3h0m1 10h0m0-15h0m0 7h0m1 6h0m0-3h0m0-2h0m0 5h0m1-11h0m0 6h0m0-6h0m0 12h0m0 2h0m1-13h0m0 6h0m0-5h0m0 4h0m0-3h0m0 10h0m0-9h0m0 2h0m1-1h0m0-2h0m0-5h0m1 17h0m0 6h0m0-14h0m0-8h0m0 11h0m0-10h0m0 12h0m0-13h0m0 0h0m0 0h0m1 17h0m0-10h0m0-3h0m0-2h0m0-2h0m0 11h0m1-8h0m0 19h0m0-20h0m0-1h0m0 3h0m0 16h0m0-14h0m1 5h0m0-7h0m0 13h0m0-12h0m0 3h0m0-4h0m0 7h0m0-9h0m0-1h0m1 2h0m0 3h0m0 13h0m1-1h0m0-19h0m0 7h0m0-5h0m0 6h0m0 1h0m0-4h0m0-2h0m0 3h0m1 8h0m0-14h0m0 4h0m0-3h0m0 5h0m1-5h0m0 19h0m0-3h0m0-13h0m1 15h0m0-18h0m1 5h0m0 4h0m0-4h0m0-5h0m1 12h0m0-8h0m1-1h0m0-4h0m1 11h0m0-8h0m1 16h0m0-12h0m0 8h0m0 0h0m1-4h0m0 6h0m0-11h0m0-3h0m0-2h0m1 13h0m1 2h0m0-11h0m1 0h0m0 11h0m1-14h0m0 0h0m0 19h0m0-19h0m0 3h0m1 3h0m0-8h0m1 8h0m1 0h0m0 8h0m0-15h0m1 0h0m0 4h0m1 17h0m0-10h0m0 0h0m1-12h0m0 12h0m1-3h0m1-7h0m1-2h0m1 10h0m0 0h0m0-4h0m6 10h0m10-16h0m25 13h0m15-6h0m6 5h0m2 4h0m13 0h0m1-15h0m10 10h0m16-7h0m45 5h0m46 11h0m10-17h0m49 25h0m-120 5h0m-5-7h0m-8 7h0m-17-4h0m-31 3h0m-11 0h0m-12 6h0m-24 9h0m-2-13h0m-12 11h0m-2-16h0m-6 2h0m-4 4h0m-16-7h0m-1 19h0m-4-22h0m-2 14h0m-8-13h0m-1 20h0m-1-7h0m-1-14h0m0 15h0m-5 2h0m0-18h0m-1 21h0m-1-13h0m-1 1h0m0 12h0m-1-11h0m0-7h0m-2 14h0m0-5h0m-1-5h0m-1 16h0m0-17h0m0-6h0m-3 1h0m-1-1h0m-4 6h0m-2 5h0m-1 5h0m-1 4h0m-4-11h0m0-8h0m-2 21h0m-4-9h0m-17-12h0m-9 12h0m-4 0h0m-42-9h0m-27 11h0m-10-13h0m-3-2h0m-10 23h0m-1-3h0m-29-7h0m-9-8h0m-3 39h0m9-18h0m7 14h0m6-5h0m4 5h0m1-14h0m69 5h0m9-1h0m68 16h0m0-17h0m4 2h0m0 7h0m3 0h0m7-11h0m1 6h0m1 12h0m1 1h0m0-15h0m1 13h0m1-10h0m1-3h0m1 16h0m0-11h0m2 6h0m0-11h0m1 14h0m1-8h0m1 3h0m0-11h0m1 10h0m0-14h0m1 19h0m0 1h0m1-20h0m1 2h0m2 14h0m0-17h0m2 23h0m3-22h0m2 8h0m0 10h0m2-12h0m12 0h0m4 13h0m4-10h0m7-1h0m78 12h0m2-15h0m12 9h0m17 0h0m8-12h0m69 33h0m-40-3h0m-107 0h0m-3 0h0m-19 14h0m-1-7h0m-5-7h0m-29 14h0m-11-4h0m-6-6h0m-3 6h0m-1-19h0m-2 19h0m0-8h0m-1-7h0m-1 8h0m0-6h0m-1 8h0m0 2h0m-1-1h0m0 3h0m-1-3h0m-1-13h0m0 16h0m-3-5h0m0 5h0m-1-6h0m-1 4h0m0 2h0m0-16h0m0-2h0m-1 5h0m-1 2h0m-2 5h0m0-11h0m-1 21h0m-1-22h0m0 2h0m-1 6h0m-1 12h0m-3-6h0m-3 8h0m-11-7h0m-35-6h0m-9-4h0m-39 14h0m-2-1h0m-62-13h0m81 21h0m2 0h0m4 0h0m1-1h0m1 1h0m1 0h0m2 0h0m1 0h0m0 0h0m4 0h0m1 0h0m4 0h0m8 0h0m3 0h0m2 0h0m0 0h0m4 0h0m5 0h0m2 0h0m2 0h0m3 0h0m2 0h0m1 0h0m10 0h0m2 0h0m8 0h0m3 0h0m1 0h0m3 0h0m2 0h0m8 0h0m5 0h0m1 0h0m4 0h0m3 0h0m3 0h0m6-2h0m0 2h0m3 0h0m0 0h0m1 0h0m1 0h0m1 0h0m1 0h0m0 0h0m5 0h0m1 0h0m1 0h0m0 0h0m1 0h0m3 0h0m0 0h0m1 0h0m0 0h0m2-1h0m1 1h0m9 0h0m2 0h0m1 0h0m2 0h0m2 0h0m2 0h0m4 0h0m1 0h0m3 0h0m1 0h0m2 0h0m3 0h0m108 0h0" stroke="#0000ff" stroke-width="3.4" stroke-linecap="square" opacity="0.8"/>
<circle cx="468.2" cy="88.4" r="2.3" fill="#ff0000"/>
<rect x="419.0" y="12.3" width="123.0" height="132.3" fill="none" stroke="#9a9a9a" stroke-width="0.6"/>
<path d="M419,144.6v-1.3M419,12.3v1.3M419.0,144.6h1.3M542.0,144.6h-1.3M449.8,144.6v-1.3M449.8,12.3v1.3M419.0,111.5h1.3M542.0,111.5h-1.3M480.5,144.6v-1.3M480.5,12.3v1.3M419.0,78.5h1.3M542.0,78.5h-1.3M511.2,144.6v-1.3M511.2,12.3v1.3M419.0,45.4h1.3M542.0,45.4h-1.3M542,144.6v-1.3M542,12.3v1.3M419.0,12.3h1.3M542.0,12.3h-1.3" stroke="#9a9a9a" stroke-width="0.5"/>
<text x="419" y="155.1" font-size="7.4" text-anchor="middle">-100</text>
<text x="416.8" y="148" font-size="7.4" text-anchor="end">-100</text>
<text x="449.8" y="155.1" font-size="7.4" text-anchor="middle">-50</text>
<text x="416.8" y="114.9" font-size="7.4" text-anchor="end">-50</text>
<text x="480.5" y="155.1" font-size="7.4" text-anchor="middle">0</text>
<text x="416.8" y="81.9" font-size="7.4" text-anchor="end">0</text>
<text x="511.2" y="155.1" font-size="7.4" text-anchor="middle">50</text>
<text x="416.8" y="48.8" font-size="7.4" text-anchor="end">50</text>
<text x="542" y="155.1" font-size="7.4" text-anchor="middle">100</text>
<text x="416.8" y="15.7" font-size="7.4" text-anchor="end">100</text>
<text x="480.5" y="10.5" font-size="7.4" text-anchor="middle">Search history</text>
<text x="478.5" y="165" font-size="7.2" text-anchor="middle">x<tspan font-size="5" dy="1.5">1</tspan></text>
<text x="398.5" y="78.5" font-size="7.2" text-anchor="middle" transform="rotate(-90 398.5 78.5)">x<tspan font-size="5" dy="1.5">2</tspan></text>
<clipPath id="rc2"><rect x="419.0" y="190.3" width="123.0" height="132.3"/></clipPath>
<g clip-path="url(#rc2)" fill="none" stroke-width="0.7" opacity="0.9">
<path d="M419.0,196.9H542.0M419.0,244.5H542.0" stroke="#9898ee"/>
<path d="M419.0,259.8H542.0M419.0,269.7H542.0" stroke="#8fa8f0"/>
<path d="M419.0,278.3H542.0M419.0,286.2H542.0" stroke="#60c8ec"/>
<path d="M419.0,292.8H542.0M419.0,298.1H542.0" stroke="#50d8e0"/>
<path d="M419.0,304.1H542.0" stroke="#90dcb0"/>
<path d="M419.0,309.4H542.0M419.0,314.7H542.0M419.0,319.3H542.0" stroke="#f0d080"/>
</g>
<path transform="scale(0.25)" d="M2124 767h0m-10-1h0m-1-4h0m0 0h0m-1 4h0m-1-2h0m-394 25h0m316-20h0m18 1h0m13 9h0m46 1h0m1-6h0m0 6h0m0-11h0m0 0h0m0 4h0m0 7h0m0 0h0m1-7h0m0 4h0m0 8h0m0 3h0m0-12h0m0 9h0m0-13h0m0 15h0m0 2h0m0-1h0m0-13h0m1 9h0m0-10h0m0 0h0m0 16h0m0-14h0m0-4h0m0-3h0m0 13h0m1-1h0m0 7h0m0-11h0m0-8h0m1 10h0m0 22h0m0 1h0m0-4h0m-1 14h0m0-19h0m0 17h0m-1 1h0m0-4h0m0 5h0m0-16h0m0 4h0m0 3h0m0 6h0m0 2h0m0-19h0m0 6h0m0 17h0m-1-10h0m0 4h0m0-13h0m0 9h0m0-11h0m0 8h0m-1 9h0m0-1h0m-12 3h0m-16-18h0m-1 4h0m-4 15h0m-6-8h0m-14-4h0m-34 33h0m6-11h0m2-7h0m79 1h0m0 3h0m0 2h0m0 10h0m1-8h0m0-8h0m0 6h0m0 13h0m1-2h0m0 1h0m0-19h0m0 21h0m0-21h0m0 10h0m0 4h0m0-8h0m0 4h0m0 6h0m0-2h0m1 3h0m0 0h0m6-7h0m30 12h0m10-2h0m4-6h0m-6 16h0m-7-2h0m-19 17h0m-18 2h0m0-1h0m0-18h0m0 5h0m-1 0h0m0-9h0m0 19h0m0-13h0m0 3h0m0 8h0m0 4h0m0-19h0m0 15h0m0-12h0m-1 11h0m0 0h0m0-7h0m0 9h0m0-9h0m0-8h0m0 17h0m0-17h0m-1 2h0m-13-2h0m-5 18h0m-4-1h0m-8-15h0m-22 9h0m-337 12h0m75 9h0m235-3h0m23 5h0m43-10h0m13 19h0m0-13h0m0 13h0m1-19h0m0 6h0m0 9h0m0-5h0m0 1h0m0 4h0m0-1h0m1 7h0m0-8h0m0-9h0m0 10h0m0-8h0m1-2h0m0 13h0m0-9h0m0 4h0m32-3h0m-11 32h0m-20 1h0m-1-2h0m0-15h0m0 11h0m0 1h0m-1-7h0m0 13h0m0 2h0m0-22h0m0 4h0m0 3h0m0-7h0m-1 9h0m0 14h0m0-12h0m0 10h0m0-7h0m-1 4h0m0-8h0m-1 1h0m0-3h0m-129 8h0m-142 6h0m112 3h0m61 17h0m63-10h0m4 9h0m31-15h0m2 2h0m0 8h0m0 0h0m0-1h0m0 3h0m0 5h0m0-10h0m0 11h0m1-11h0m0 7h0m0-15h0m0 19h0m0-13h0m0-3h0m0 0h0m0 18h0m0-9h0m0-4h0m0 2h0m1 3h0m0 7h0m1-16h0m24-4h0m2-1h0m17 2h0m4 8h0m5 6h0m1 15h0m0-6h0m-1 13h0m-3 7h0m-19-11h0m-22-9h0m-8 4h0m-1-3h0m0 0h0m0 4h0m-1 7h0m0-8h0m0 10h0m0 7h0m0 1h0m0-7h0m0-3h0m0-13h0m0 17h0m0-12h0m0-4h0m-1 9h0m0 10h0m0-5h0m0-14h0m0 20h0m0-14h0m0 14h0m0 2h0m-1-18h0m0 17h0m0-13h0m0 4h0m0-2h0m0 2h0m-49 4h0m-30-13h0m-6 13h0m-198 3h0m-118 3h0m245 14h0m22 5h0m27 3h0m3-8h0m0 5h0m44-11h0m11 6h0m8 6h0m19-2h0m19-9h0m2 2h0m0 11h0m1-3h0m0 5h0m1-14h0m0-4h0m0-5h0m0 3h0m0 8h0m0 4h0m0 7h0m1 0h0m0-22h0m0 22h0m0-21h0m0 9h0m1 0h0m0 6h0m1-9h0m0 2h0m0 13h0m52-21h0m1 19h0m0 10h0m0-5h0m0 16h0m0-2h0m0-9h0m0 10h0m-1-7h0m-9-2h0m-5 10h0m-4 1h0m-13 4h0m-9-3h0m-2-13h0m-11 0h0m0 15h0m-1 2h0m0-9h0m0-4h0m0-8h0m0 8h0m0 11h0m0 0h0m-1-10h0m0 4h0m0-12h0m0 14h0m-6 6h0m-4-5h0m-17-11h0m-2 10h0m-2 3h0m-21-2h0m-34-15h0m-6 7h0m-65-6h0m0 12h0m-15-5h0m-7 11h0m-7-7h0m0-14h0m-235 40h0m152-14h0m20 8h0m89-7h0m32 11h0m35-7h0m3 3h0m9-2h0m21 12h0m1-6h0m1 2h0m5-3h0m7 8h0m3-1h0m1-16h0m24 17h0m0-13h0m5 11h0m0 3h0m4-18h0m2 4h0m5 6h0m0 5h0m1 1h0m1-19h0m0 15h0m0-4h0m0 3h0m0 6h0m1-18h0m0 3h0m0-3h0m0 9h0m0 1h0m1 7h0m0-15h0m0 5h0m1 5h0m0 0h0m1-1h0m3 7h0m0-22h0m29 9h0m6-5h0m8 6h0m6 12h0m0-1h0m0-14h0m0 28h0m0 5h0m-1 7h0m-11-1h0m-5-18h0m-3 7h0m-2 9h0m-5-8h0m-3-5h0m-3 1h0m-19 10h0m0-10h0m-1 4h0m-1-9h0m0-2h0m0-1h0m0 11h0m-1 11h0m0-17h0m-1 16h0m0-17h0m0 2h0m0 6h0m0-4h0m0 14h0m0-3h0m0 4h0m-1-17h0m0 9h0m0-7h0m0-5h0m0 15h0m0-5h0m-5-4h0m-5-2h0m-8-7h0m-9 14h0m-7-7h0m0 2h0m-2 7h0m-8-8h0m-10 0h0m-2 9h0m-7 5h0m-2-13h0m0-6h0m-4 5h0m-40-4h0m-6 4h0m-2 8h0m-65 22h0m3-1h0m8 9h0m10 1h0m7-15h0m21 0h0m9 8h0m38-8h0m5 1h0m11 9h0m1 1h0m7-13h0m15 3h0m2 2h0m4-1h0m1 11h0m1-21h0m2 8h0m5 11h0m3 3h0m6-10h0m1 4h0m1 6h0m3-15h0m6-2h0m2-1h0m2 17h0m0-17h0m2 13h0m4-11h0m1 2h0m1 9h0m0 5h0m1-19h0m0 2h0m0 14h0m0-7h0m0 3h0m0-5h0m0 13h0m1-13h0m0 3h0m0 0h0m0-9h0m0 7h0m0 2h0m0 5h0m0-15h0m0 15h0m1-2h0m0 6h0m0-12h0m0 2h0m0-8h0m1 15h0m0-19h0m1 23h0m0-4h0m3-1h0m0 0h0m4 0h0m0-16h0m4 5h0m1-5h0m3 0h0m2 6h0m2 1h0m7 9h0m0-9h0m1-3h0m8 11h0m5-7h0m7 3h0m2-1h0m1 7h0m2 12h0m0 9h0m-1 5h0m-1-12h0m-4 9h0m-13-15h0m-4 2h0m-1 7h0m-3 5h0m-6-9h0m-4 7h0m-1-3h0m-1 6h0m-1-13h0m-5-2h0m-2 4h0m-1 10h0m-1-8h0m0 13h0m-2-10h0m0 11h0m0-18h0m0 6h0m-1 11h0m0-2h0m0 2h0m0-13h0m-1-8h0m0 17h0m0-14h0m0 11h0m0-14h0m0 12h0m0-2h0m0-11h0m-1 3h0m0 17h0m0-16h0m0 0h0m0 5h0m0 5h0m0-2h0m0-1h0m0-1h0m0 4h0m0-1h0m0 5h0m0-6h0m0 4h0m0-10h0m-1-3h0m0 20h0m0-7h0m0-12h0m0 12h0m0-10h0m0 7h0m0-2h0m0-5h0m0 5h0m0 4h0m0 4h0m0-6h0m0 6h0m-1-9h0m0 9h0m0-14h0m0 4h0m0-9h0m0 8h0m0-2h0m0-1h0m0 18h0m0-15h0m0 3h0m0-5h0m-1 17h0m0-13h0m0 4h0m0 4h0m0-17h0m0 13h0m-1-7h0m0 16h0m-1-13h0m0 12h0m0-17h0m0 11h0m-1-5h0m0 6h0m0 5h0m-1-14h0m0 1h0m-3 6h0m-4-13h0m0-2h0m-2 2h0m-1 9h0m-2 2h0m-3-13h0m0 7h0m-2 16h0m-2-5h0m0-1h0m-2-17h0m-1 16h0m-2-2h0m-2 8h0m-1-17h0m-3 5h0m-1 7h0m-1-3h0m-1 8h0m-1 0h0m-1-7h0m-2-13h0m-2 15h0m-1-7h0m0-10h0m-13 6h0m-7 15h0m-27-8h0m-6 9h0m0-13h0m-14-4h0m0 9h0m-10-4h0m-7-2h0m-28 11h0m-63-4h0m35 31h0m1-7h0m0-5h0m9 2h0m16 11h0m10-21h0m22 17h0m39-7h0m2-12h0m10 9h0m4-8h0m3 4h0m7 8h0m1 7h0m4-14h0m2 17h0m0-13h0m2 0h0m1-1h0m2 9h0m4-10h0m2 9h0m0 2h0m0 4h0m1-16h0m3 7h0m2-8h0m7 9h0m1-10h0m1-1h0m1 6h0m0-9h0m0 13h0m3-6h0m1-4h0m3 3h0m1 12h0m2-9h0m2 5h0m0 5h0m1 2h0m1-6h0m1-13h0m2 12h0m0-2h0m2 5h0m2-10h0m2-3h0m0 6h0m1 3h0m0-9h0m1 4h0m0 1h0m0 13h0m0-2h0m1 1h0m0 1h0m0-3h0m0 2h0m0 1h0m1-9h0m0-9h0m0 16h0m0-13h0m0-3h0m0-3h0m0 12h0m0 2h0m0 5h0m1 0h0m0-13h0m0 14h0m0-5h0m0-14h0m0 1h0m0 5h0m0 12h0m0-5h0m0-8h0m0 14h0m0-18h0m0 10h0m1-11h0m0 5h0m0 14h0m0 0h0m0 1h0m0-7h0m0-15h0m0 7h0m0-7h0m0 9h0m0 1h0m0-1h0m0 11h0m0 1h0m0 0h0m0-14h0m1-6h0m0 6h0m0 3h0m0 11h0m0-8h0m0 8h0m0-10h0m0 10h0m0-8h0m0-2h0m0 3h0m0 8h0m0-17h0m0 10h0m1 0h0m0 0h0m0 0h0m0-11h0m0 15h0m0 1h0m0-20h0m1 18h0m0-19h0m0 3h0m0-3h0m0 5h0m0-3h0m0 15h0m1-15h0m0-2h0m0 20h0m0-7h0m0-10h0m1 9h0m0 3h0m1 0h0m0 4h0m0-6h0m1 6h0m0-1h0m0-3h0m1 2h0m0 6h0m0-9h0m1-13h0m0 21h0m0-4h0m3-15h0m3 7h0m0-5h0m1 7h0m1 3h0m1 5h0m1-7h0m0 7h0m1 2h0m3-11h0m3 3h0m3 9h0m1 0h0m3-19h0m1 15h0m0 0h0m1 1h0m2-3h0m3-10h0m4 0h0m5 5h0m0 1h0m6-12h0m0 10h0m0-6h0m0-2h0m0 36h0m0-10h0m0-4h0m-12 9h0m-4 7h0m0-6h0m-4 2h0m-6 6h0m-1-7h0m-3-1h0m0 10h0m0-8h0m0-13h0m-2 14h0m0 8h0m0-7h0m0-6h0m-1-3h0m0 8h0m-1 3h0m-2-16h0m0 2h0m0 9h0m0-10h0m0 2h0m-1 5h0m0 14h0m0-6h0m0-5h0m0 7h0m-1 3h0m0-3h0m0-7h0m0-1h0m-1-11h0m0 18h0m0-2h0m-1 0h0m0-4h0m0 1h0m0 2h0m-1-2h0m0 8h0m0-18h0m0 9h0m-1-9h0m0 6h0m-1 13h0m0-4h0m0 5h0m-1-1h0m-1-6h0m0-10h0m0 6h0m0 9h0m0-9h0m0 4h0m0 1h0m0-15h0m0 17h0m-1-19h0m0 8h0m0 4h0m0 10h0m0-16h0m0 4h0m0-7h0m-1 19h0m0-7h0m0-1h0m0 4h0m0-5h0m0 2h0m-1-13h0m0 12h0m0 0h0m0 5h0m0-11h0m0 15h0m-1-14h0m0 10h0m0 1h0m0 3h0m0-6h0m0 5h0m0-8h0m0-14h0m-1 12h0m0-8h0m0 19h0m0-3h0m0-14h0m0 11h0m0 4h0m0-17h0m-1 14h0m0-18h0m0 17h0m0-3h0m0-3h0m0-5h0m0 6h0m0-3h0m0-9h0m-1 11h0m0 1h0m0 10h0m0-11h0m0-8h0m0 17h0m0-1h0m0-9h0m0 6h0m0-4h0m0-11h0m0 9h0m0 1h0m0 9h0m-1-12h0m0-6h0m0 19h0m0-10h0m0 6h0m0 3h0m0 2h0m0-16h0m-1-5h0m0 10h0m0 4h0m0-3h0m0-11h0m0 7h0m0 12h0m0-7h0m0-7h0m0 6h0m0-8h0m-1 12h0m0 2h0m0 5h0m0-18h0m0 7h0m0-2h0m0 9h0m0-10h0m0-9h0m0 10h0m0 11h0m0-6h0m0 5h0m0-12h0m0 2h0m-1 5h0m0-6h0m0 5h0m0-7h0m0 0h0m0 1h0m0 8h0m0-7h0m0 12h0m0-18h0m0 1h0m0 19h0m0-6h0m0-13h0m-1 10h0m0-3h0m0 6h0m0-17h0m0 9h0m-1 14h0m0-19h0m0-1h0m0 12h0m0-14h0m0 6h0m-1 2h0m0 13h0m0 0h0m0 1h0m-1-9h0m0-8h0m0 5h0m0 6h0m0-14h0m0 5h0m0 6h0m-1 9h0m0-19h0m-1 11h0m-1 8h0m0-1h0m-2-15h0m0 3h0m0 8h0m-2-2h0m0 6h0m-1-9h0m0-5h0m0 2h0m0 4h0m-1-1h0m0-10h0m0 12h0m-2-4h0m0-7h0m0 17h0m0-7h0m-1 5h0m0-5h0m-1-11h0m-1 18h0m0-16h0m-1 10h0m0 4h0m-1-3h0m-1 4h0m-2-11h0m0-7h0m-1 17h0m0-8h0m0 11h0m-2-2h0m-1-16h0m-1 5h0m0-5h0m0 7h0m-1-8h0m0-1h0m-3 9h0m-2-1h0m-1 3h0m-1-4h0m-1-2h0m-1-3h0m0 2h0m-6 4h0m-5 10h0m0-14h0m-1 3h0m-2-2h0m0 12h0m-2-9h0m-1 4h0m0-10h0m-1 14h0m0 2h0m-1-8h0m-7 9h0m-1-1h0m-11-18h0m-1 13h0m-10 7h0m-2-18h0m-2-4h0m-2 15h0m-22 1h0m-17-7h0m-10 5h0m-11 1h0m-17 4h0m-2-5h0m-18 31h0m5 2h0m4-18h0m12 5h0m26-3h0m3 10h0m1 1h0m20-6h0m6-2h0m1-3h0m9 14h0m4-10h0m2 4h0m2-12h0m1 18h0m2-19h0m4 6h0m5 11h0m2-11h0m3 13h0m5-7h0m6 8h0m0-4h0m0-7h0m3 3h0m3-3h0m2-8h0m5 18h0m1-9h0m3 9h0m2-5h0m3-10h0m2 12h0m0-9h0m1 6h0m2-7h0m0 14h0m1 1h0m2-14h0m0 0h0m1-2h0m1-6h0m1 5h0m0 8h0m2-14h0m2 20h0m1-2h0m2 5h0m0-6h0m0 1h0m2 0h0m2-12h0m0-5h0m0 18h0m1-14h0m1 18h0m0-4h0m0-1h0m0-8h0m0-4h0m1 14h0m1-4h0m1 4h0m1-7h0m1-5h0m1 2h0m0 9h0m0-14h0m0 17h0m0-17h0m1 0h0m0-4h0m0 15h0m0 2h0m0-3h0m1-8h0m0-7h0m1 12h0m0-3h0m0 14h0m0-12h0m0 8h0m0-14h0m1-4h0m0-1h0m0 12h0m1-6h0m1 2h0m0-6h0m0 8h0m1 13h0m0-2h0m0-9h0m0 1h0m0-12h0m0 15h0m0-11h0m0 9h0m0 7h0m0 1h0m1-5h0m0 3h0m0-18h0m0-1h0m1 5h0m0 12h0m0-1h0m0-14h0m0 17h0m0-6h0m0 6h0m0-13h0m1 1h0m0 14h0m0-7h0m0-11h0m0 3h0m1 14h0m0-20h0m0 9h0m0-7h0m0 13h0m0 1h0m0 6h0m0-19h0m1 14h0m0-6h0m0 0h0m0-5h0m0-1h0m0 4h0m0-1h0m0 0h0m1 1h0m0 1h0m0 6h0m0 6h0m0-5h0m0 1h0m0-6h0m0 8h0m0-13h0m0-3h0m0 11h0m0-13h0m0 14h0m1 6h0m0-19h0m0 3h0m0-5h0m0 21h0m0-17h0m0-1h0m0-4h0m0 6h0m0 0h0m0 13h0m0-10h0m1 9h0m0-13h0m0 11h0m0-7h0m0-7h0m0 10h0m0 3h0m0-15h0m0 17h0m0-15h0m0 4h0m0-2h0m0 11h0m1-9h0m0 2h0m0 0h0m0-6h0m0 14h0m0-1h0m0-4h0m0 6h0m0-11h0m0-6h0m0 1h0m0 4h0m0 3h0m0 4h0m0 7h0m0 0h0m0-3h0m1-13h0m0 15h0m0-9h0m0 0h0m0-7h0m0 12h0m0-6h0m0-9h0m0 21h0m0-15h0m0 10h0m0-5h0m0 1h0m0-9h0m0-1h0m0 15h0m0-14h0m0 9h0m0-6h0m0 17h0m1-19h0m0 16h0m0 2h0m0-19h0m0 6h0m0-1h0m0-4h0m0 18h0m0-19h0m0 1h0m0 16h0m0-17h0m0 5h0m0 12h0m0 0h0m1-1h0m0-4h0m0-3h0m0 3h0m0-9h0m0-6h0m0 11h0m0 2h0m0 1h0m0 9h0m0-8h0m0-12h0m0 18h0m0-6h0m1-1h0m0 7h0m0-9h0m0-6h0m0-3h0m0 11h0m0-14h0m0 10h0m0-2h0m0 4h0m1 11h0m0-15h0m0 2h0m0 7h0m0 3h0m0-15h0m0 13h0m0-14h0m1 3h0m0-5h0m0 0h0m0 13h0m0-10h0m0 17h0m0-15h0m0 13h0m0-10h0m0-7h0m0 15h0m1-18h0m0 3h0m0 2h0m0 11h0m0 1h0m0 5h0m0-11h0m0 3h0m0-10h0m0 5h0m0-3h0m0-5h0m0 15h0m0-3h0m0 10h0m0-23h0m1 3h0m0 0h0m0 7h0m0 4h0m0-5h0m0 12h0m0-6h0m0 1h0m0 5h0m0-16h0m0-3h0m0 7h0m0 2h0m0 0h0m1-11h0m0 4h0m0 10h0m0-10h0m0 9h0m0-7h0m0 0h0m0 13h0m0-1h0m0-2h0m1 0h0m0 3h0m0-17h0m0 5h0m0-1h0m1 6h0m0 4h0m0-3h0m0 0h0m0 7h0m0-16h0m0 17h0m0-12h0m1 12h0m0-1h0m0-1h0m0-6h0m0 2h0m0-6h0m0 8h0m0-16h0m0 18h0m0-15h0m1 10h0m0-12h0m0 13h0m0 1h0m0 0h0m0-13h0m0-2h0m0 7h0m0 10h0m0 5h0m0-2h0m0 1h0m1-17h0m0 5h0m0-9h0m0-1h0m0 12h0m0 6h0m0 2h0m0-12h0m1 4h0m0 8h0m0 3h0m0-8h0m0-1h0m0 3h0m0 3h0m0-4h0m0 3h0m0-9h0m0 13h0m1-15h0m0 15h0m0-7h0m0-13h0m0 6h0m0 0h0m0-3h0m0 17h0m0-23h0m1 6h0m0 14h0m1-10h0m0 5h0m0 3h0m0 4h0m1-16h0m0-3h0m0 16h0m0 3h0m0-8h0m0-5h0m1-9h0m0 12h0m0-5h0m0 15h0m1-10h0m0 10h0m0-9h0m0 7h0m1-7h0m0 4h0m0-9h0m0 6h0m0-7h0m0 16h0m1-23h0m0 2h0m0-1h0m2 4h0m0 4h0m0 13h0m0-15h0m1 9h0m0-1h0m0 7h0m1-1h0m1-10h0m1 2h0m1-7h0m1 8h0m0 8h0m1-15h0m3 16h0m2-11h0m3-11h0m1-1h0m0 16h0m1-7h0m0 13h0m1-11h0m4 7h0m4 4h0m3-4h0m1-4h0m0 7h0m0-1h0m0-4h0m0-1h0m0 4h0m0 3h0m0-6h0m0-14h0m0 24h0m0 19h0m0-20h0m-12 7h0m-2 6h0m-2 9h0m-5-6h0m-1-7h0m-1-1h0m-1-8h0m0 5h0m-2 12h0m0-17h0m-1 10h0m0-6h0m0 2h0m0 5h0m0 8h0m0-4h0m-1-15h0m-1 11h0m-1 3h0m0-1h0m0 5h0m-1-12h0m-1-2h0m0 4h0m-1-8h0m0-1h0m0 11h0m0-7h0m-1 15h0m0-4h0m0-7h0m0 2h0m0-6h0m0 8h0m-1 10h0m0-22h0m0 13h0m0-10h0m-1 14h0m0 2h0m0 3h0m-1-18h0m0 19h0m0-15h0m0 1h0m-1-9h0m0 1h0m0 2h0m0 8h0m0 1h0m0 4h0m0 2h0m-1-3h0m0-13h0m0 4h0m0 15h0m0-9h0m-1-6h0m0-6h0m0 12h0m0-10h0m0-1h0m0 5h0m0 8h0m-1-5h0m0 1h0m0 4h0m0-3h0m0 7h0m-1-14h0m0 1h0m0 1h0m0-5h0m-1 20h0m0-2h0m0-12h0m0 4h0m0-8h0m0 12h0m0-8h0m-1-2h0m0-1h0m0 2h0m0 16h0m0-2h0m0-4h0m0-2h0m0-5h0m0-4h0m-1 15h0m0-2h0m0-12h0m0 4h0m0 8h0m0 2h0m-1 3h0m0-18h0m0 10h0m0-13h0m0 19h0m0-21h0m0 21h0m0-11h0m0 1h0m-1-4h0m0 16h0m0-11h0m0-12h0m0 21h0m0-12h0m-1-7h0m0 15h0m0-11h0m0 16h0m0-18h0m0 16h0m0 1h0m0 2h0m-1-13h0m0-6h0m0 6h0m0 1h0m0 4h0m0-14h0m0-1h0m0 6h0m0 15h0m0-4h0m0 1h0m-1-15h0m0-3h0m0 1h0m0 22h0m0-13h0m0-10h0m0 3h0m0 12h0m0-8h0m0-7h0m0 13h0m0 10h0m-1-22h0m0 16h0m0-6h0m0 11h0m0-11h0m0 4h0m0 8h0m0-13h0m0-1h0m0 10h0m0 1h0m0 2h0m-1-20h0m0 21h0m0-19h0m0 1h0m0 12h0m0 6h0m0-2h0m0-10h0m0-4h0m0 9h0m-1 2h0m0-17h0m0 8h0m0 5h0m0 1h0m0-13h0m0 2h0m0 5h0m0-1h0m0 4h0m0-9h0m0 4h0m0-1h0m0 7h0m0-2h0m0 7h0m0-4h0m0-6h0m0 1h0m-1 2h0m0-6h0m0 1h0m0 2h0m0 9h0m0-2h0m0-5h0m0 7h0m0-16h0m0 12h0m0 9h0m0-14h0m0-2h0m0 13h0m0-1h0m-1-6h0m0 9h0m0-21h0m0 2h0m0 9h0m0-6h0m0 7h0m0 9h0m0-8h0m0-13h0m0 17h0m0-16h0m0 22h0m0-15h0m0 10h0m0-4h0m0 8h0m0-9h0m-1-10h0m0 9h0m0 1h0m0 9h0m0-17h0m0 6h0m0-11h0m0 17h0m0-8h0m0-8h0m0 7h0m0 4h0m0 6h0m0-10h0m0 0h0m-1 5h0m0 7h0m0-12h0m0-7h0m0 9h0m0-3h0m0-4h0m0 13h0m0 6h0m0-3h0m0-9h0m0-5h0m0 11h0m0 7h0m-1-21h0m0 18h0m0 1h0m0 2h0m0-12h0m0-10h0m0 14h0m0 5h0m0-8h0m-1-6h0m0 15h0m0-1h0m0-5h0m0-7h0m0-1h0m0-4h0m0 3h0m0-1h0m0-2h0m0 20h0m0-20h0m0 12h0m0-1h0m0-11h0m0 4h0m-1 8h0m0-5h0m0 3h0m0-10h0m-1 4h0m0 16h0m0-19h0m0-4h0m0 6h0m0 12h0m0-13h0m0-3h0m0 13h0m0-11h0m-1-2h0m0 10h0m0 8h0m0-8h0m0-8h0m0-4h0m-1 3h0m0 15h0m0-11h0m0 1h0m0 13h0m0-10h0m0-3h0m-1-5h0m0 6h0m0-8h0m0 18h0m-1-6h0m0-3h0m0-1h0m0 11h0m0-12h0m0-6h0m-1 0h0m0 11h0m0-11h0m0 4h0m-1 13h0m0-9h0m0-6h0m0-4h0m0 7h0m-1 4h0m0 7h0m0-10h0m0 6h0m-1-11h0m0 4h0m0 4h0m0 6h0m-1-16h0m0 19h0m0-10h0m-1 0h0m0-4h0m0 3h0m0 7h0m0 7h0m0-2h0m-1-3h0m-1-15h0m0 1h0m-1-2h0m0 3h0m0 10h0m0-7h0m-1-1h0m-1 5h0m0 0h0m-2-3h0m0 2h0m-1-8h0m-1-2h0m0 17h0m-2-14h0m-1 9h0m0 5h0m-1-3h0m-3 3h0m0-12h0m-1 11h0m-1-15h0m-1 11h0m-2-5h0m-4 4h0m-3-8h0m-1-3h0m-2 21h0m-1-19h0m-2 19h0m-2-21h0m0 13h0m-4 9h0m-3-7h0m-2 6h0m-1-20h0m-6 1h0m-8 2h0m0 8h0m-24 8h0m-6 0h0m-8-17h0m-9 1h0m-11 16h0m0-7h0m-29 9h0m-8-23h0m-13 9h0m0 33h0m27-3h0m0 2h0m51-8h0m2 1h0m11 3h0m1-11h0m1 12h0m1 2h0m7-7h0m0-1h0m9-6h0m5-2h0m2 11h0m4 4h0m1-9h0m1-4h0m1 12h0m10-13h0m7 12h0m1-13h0m0 8h0m2 7h0m3-1h0m0 8h0m4-21h0m2 4h0m4-3h0m0 10h0m0-10h0m2 19h0m1-14h0m2 7h0m0 0h0m0 1h0m1 3h0m1-8h0m0-10h0m1 13h0m0-4h0m1 1h0m1 10h0m1-9h0m0 3h0m1-13h0m1 5h0m0 7h0m0 4h0m0-4h0m0-1h0m1 10h0m0-15h0m0 12h0m0 2h0m0-4h0m0-8h0m1 10h0m0-6h0m0 1h0m1 1h0m0-1h0m0 2h0m0 4h0m1-2h0m0-16h0m0 9h0m0 7h0m0-18h0m1 9h0m0-7h0m0-1h0m1 19h0m0-10h0m0 4h0m0 6h0m0 1h0m1 0h0m1-21h0m0 2h0m0 1h0m0 12h0m0-14h0m0 10h0m0-9h0m0-2h0m1 18h0m0-1h0m0 0h0m0 6h0m0-6h0m0-1h0m0-7h0m1 6h0m0 3h0m0-17h0m0 7h0m0-7h0m1 15h0m0 1h0m0-7h0m0-6h0m1-4h0m0 16h0m0-4h0m0-9h0m0 14h0m0-11h0m0 9h0m0-15h0m0 7h0m0-6h0m0 21h0m0-6h0m0-3h0m0 5h0m0 2h0m1 2h0m0 1h0m0-2h0m0-14h0m0-4h0m0 9h0m0 1h0m0 2h0m0-7h0m0-3h0m0 5h0m0-10h0m0 12h0m0 5h0m0-6h0m0 0h0m0 8h0m0 4h0m0-19h0m0 11h0m1-15h0m0 7h0m0-6h0m0-1h0m0 5h0m0-3h0m0 19h0m0-8h0m0 8h0m0 2h0m0 0h0m0-20h0m0 2h0m0 8h0m0-1h0m0 11h0m0-23h0m0 13h0m0-1h0m0 1h0m0-5h0m0-4h0m1 16h0m0-6h0m0-9h0m0 18h0m0-1h0m0-11h0m0 9h0m0-11h0m0 1h0m0 9h0m0-10h0m1 9h0m0-1h0m0-3h0m0 8h0m0-20h0m0-2h0m0 6h0m0-6h0m0 7h0m0 1h0m0 7h0m0 6h0m0-16h0m0 17h0m0-19h0m0 3h0m1-6h0m0 13h0m0-8h0m1-2h0m0 0h0m0 2h0m0 16h0m0-2h0m0-2h0m1-7h0m0 10h0m0 2h0m0-22h0m1 11h0m0-4h0m0 4h0m0-7h0m0-2h0m0 0h0m0 2h0m1-2h0m0 11h0m0-9h0m0 3h0m0-7h0m0 10h0m0-8h0m0 17h0m1-15h0m0 6h0m0-6h0m0 15h0m0-12h0m1 11h0m0-4h0m0-10h0m0-2h0m0-2h0m0 5h0m0 14h0m1-4h0m0 7h0m1 0h0m0-8h0m0-4h0m0-6h0m0-3h0m0 20h0m0-1h0m0-6h0m0 4h0m1 2h0m1-2h0m0-12h0m0-6h0m0 7h0m1-7h0m0 11h0m0 0h0m0 5h0m0-14h0m0 10h0m0-3h0m0 11h0m1 3h0m0 0h0m1-6h0m0-16h0m0 2h0m1 10h0m0 2h0m0-7h0m1 13h0m0 1h0m0 0h0m0-22h0m0 17h0m1-2h0m1-7h0m0 10h0m0-16h0m0 18h0m0 0h0m1-19h0m1 6h0m0-3h0m0-4h0m0 18h0m1-17h0m1 6h0m0 3h0m0 8h0m1 0h0m0 3h0m1-4h0m0-5h0m0 1h0m1-11h0m0 15h0m0 1h0m1-14h0m0 16h0m1-18h0m2 17h0m9-18h0m0 20h0m1-12h0m1-4h0m7-1h0m1-3h0m2 0h0m2 13h0m1 9h0m0-7h0m0-15h0m0 23h0m0 12h0m0 3h0m0 4h0m0-4h0m0 8h0m-1-15h0m-2 10h0m-3-18h0m-5 0h0m-2 8h0m-13-4h0m0 18h0m-2-5h0m-1-6h0m0 1h0m-2 2h0m-2-13h0m-3 5h0m-1-3h0m0 9h0m0-11h0m0 14h0m-2-8h0m0 13h0m-1-16h0m0 14h0m0-16h0m-2 1h0m0 5h0m0 4h0m0-10h0m0 16h0m-1-4h0m0-3h0m0 10h0m0-2h0m0 3h0m0-9h0m0-6h0m0-4h0m0 3h0m-1 3h0m0 1h0m0 2h0m0-12h0m0 6h0m-2 3h0m0 6h0m0-11h0m-2 3h0m0 0h0m0-4h0m0 7h0m0-4h0m0 11h0m0-11h0m0 9h0m0-12h0m0 14h0m-1-11h0m0-1h0m0 7h0m0 8h0m-1-10h0m0-7h0m0 12h0m-1-11h0m0 17h0m0-21h0m0 20h0m0 2h0m0-8h0m0-1h0m-1 6h0m0-1h0m0-7h0m0-1h0m0-1h0m0 12h0m0-3h0m0-15h0m0 17h0m0 2h0m-1-4h0m0-1h0m0-2h0m0-10h0m0 16h0m0-3h0m0-8h0m-1 1h0m0 12h0m0-8h0m0-6h0m0-7h0m0 5h0m0 10h0m0-7h0m0 10h0m0-11h0m0 2h0m0 5h0m0-8h0m0 1h0m0 4h0m0-7h0m0 16h0m0-20h0m0 8h0m-1-8h0m0 7h0m0 7h0m0 1h0m0-9h0m0-1h0m0 4h0m0 1h0m0-3h0m0-5h0m0 6h0m0 4h0m0-7h0m0-5h0m0 6h0m-1 6h0m0-10h0m0 16h0m0-20h0m0 9h0m0 11h0m0-14h0m0 7h0m-1 4h0m0-17h0m0 7h0m0 3h0m0-8h0m0 20h0m0-9h0m0-12h0m0 3h0m0 9h0m-1 3h0m0-9h0m0 1h0m0 12h0m0-2h0m0 2h0m-1-7h0m0 5h0m0 2h0m0-9h0m-1-11h0m0 12h0m0 6h0m0-13h0m0-1h0m0 1h0m-1 7h0m0 8h0m0-8h0m0-5h0m-2-6h0m0 9h0m0-10h0m0 10h0m-1-10h0m0 2h0m0 3h0m0 10h0m-2-9h0m0 2h0m-1-2h0m-2-6h0m-1 7h0m0-1h0m0 2h0m-1 8h0m0-14h0m0 2h0m-1-2h0m0-2h0m0 12h0m-1-3h0m0-4h0m0 4h0m-1 0h0m0-4h0m-4-5h0m0 19h0m-6-4h0m-1-6h0m-1 6h0m0 5h0m0-15h0m-6 16h0m-3-13h0m-15-1h0m-4 1h0m-5-7h0m-8 11h0m-5 7h0m-3-19h0m-37 4h0m-25-4h0m-17 1h0m-9 20h0m-5-9h0m-9-6h0m-2-6h0m-73 16h0m89 12h0m3 16h0m16-9h0m26-5h0m4-1h0m8-3h0m12 5h0m30 2h0m13-6h0m0 4h0m13 15h0m2-18h0m0 7h0m3-4h0m7-6h0m8 12h0m1-11h0m4 1h0m2-1h0m1 3h0m2 15h0m3-12h0m1 11h0m2-15h0m0 11h0m1-12h0m0 13h0m1 5h0m0-11h0m0 0h0m0-2h0m1 9h0m0-4h0m1-7h0m0-1h0m0 12h0m0 5h0m0-1h0m0 1h0m1-17h0m0 0h0m0 14h0m0-5h0m1 9h0m0-4h0m0-5h0m0-1h0m0 0h0m0 3h0m0 1h0m0 6h0m0-20h0m0-3h0m0 21h0m0-15h0m0-4h0m0 15h0m0-11h0m0 14h0m0-17h0m0 16h0m1-18h0m0-1h0m0 10h0m0 1h0m0-7h0m0-3h0m0 7h0m0-4h0m0 3h0m1-4h0m0 5h0m0 3h0m0 6h0m0-3h0m0 7h0m0-7h0m1 5h0m0-18h0m0 22h0m0-9h0m0-1h0m0-5h0m1-4h0m0 10h0m0-7h0m0 11h0m0-7h0m1 8h0m0-16h0m0-2h0m0 2h0m0 3h0m2 17h0m0-3h0m1-7h0m0-12h0m0 12h0m0-2h0m1 6h0m0-10h0m0 3h0m1-4h0m0 11h0m0-12h0m2-2h0m2 1h0m2-4h0m1 3h0m0 0h0m0 6h0m1 6h0m2 8h0m2-18h0m16-5h0m5 13h0m4-8h0m6 12h0m2-9h0m1 14h0m0-2h0m-1 22h0m-13 0h0m0 0h0m-2 0h0m-1 0h0m-4-12h0m0 12h0m-3-12h0m0 0h0m-13 4h0m-4 8h0m-1-2h0m-1 2h0m-1-14h0m0 14h0m-1-8h0m-1 8h0m-2-11h0m0-1h0m0 12h0m-2-4h0m0 4h0m-1-18h0m0 18h0m-1-7h0m0-11h0m0 7h0m-1-1h0m0 4h0m0-7h0m0 3h0m-1 9h0m0 1h0m0-7h0m0 5h0m0-3h0m0 5h0m0-12h0m0-2h0m0 5h0m0 2h0m0-5h0m0 7h0m0 4h0m-1-2h0m0-10h0m0 8h0m0 7h0m0-7h0m0-6h0m0 4h0m0-7h0m0 14h0m-1-8h0m0 6h0m0-9h0m0 4h0m0 0h0m0-7h0m0 6h0m0-7h0m-1 0h0m0 10h0m0-10h0m0 2h0m0 14h0m0-17h0m0 8h0m0 10h0m-1-2h0m0-6h0m-1 1h0m0-4h0m0 11h0m-1-6h0m-1 6h0m0-6h0m0 6h0m-2 0h0m-4 0h0m-4 0h0m-1-11h0m-1-4h0m0 15h0m-4-1h0m-1 1h0m-1 0h0m-5 0h0m-3 0h0m-1 0h0m-1 0h0m0 0h0m-4 0h0m-1 0h0m-1-13h0m-2-2h0m0 14h0m-2 1h0m-3-11h0m-1 11h0m0 0h0m-1 0h0m-3 0h0m-5 0h0m-2 0h0m-6-11h0m0 3h0m0 8h0m0 0h0m-5-9h0m0 9h0m-1 0h0m0 0h0m-2-18h0m0 18h0m0 0h0m-3 0h0m0 0h0m-1-3h0m-2 1h0m-2 0h0m-3 2h0m-7-1h0m-1-1h0m-1 2h0m-3-17h0m-1 16h0m-1 1h0m-1 0h0m-1-1h0m-2 1h0m0 0h0m-3-6h0m-2 6h0m-5 0h0m0 0h0m-1 0h0m-2 0h0m0 0h0m-2-1h0m-3 1h0m-4 0h0m0 0h0m-3 0h0m-1 0h0m-3 0h0m-3 0h0m-7 0h0m0 0h0m-6-1h0m0 1h0m-1 0h0m0 0h0m-1-1h0m-1 1h0m-7 0h0m-7-3h0m-1 3h0m0 0h0m-4 0h0m-3-2h0m-4 1h0m-6 1h0m-3 0h0m-1 0h0m0 0h0m-2 0h0m-6 0h0m-7 0h0m-1-1h0m-5 1h0m-1 0h0m-162-11h0" stroke="#0000ff" stroke-width="3.4" stroke-linecap="square" opacity="0.8"/>
<circle cx="527.2" cy="190.3" r="2.3" fill="#ff0000"/>
<rect x="419.0" y="190.3" width="123.0" height="132.3" fill="none" stroke="#9a9a9a" stroke-width="0.6"/>
<path d="M419,322.6v-1.3M419,190.3v1.3M419.0,322.6h1.3M542.0,322.6h-1.3M449.8,322.6v-1.3M449.8,190.3v1.3M419.0,289.5h1.3M542.0,289.5h-1.3M480.5,322.6v-1.3M480.5,190.3v1.3M419.0,256.5h1.3M542.0,256.5h-1.3M511.2,322.6v-1.3M511.2,190.3v1.3M419.0,223.4h1.3M542.0,223.4h-1.3M542,322.6v-1.3M542,190.3v1.3M419.0,190.3h1.3M542.0,190.3h-1.3" stroke="#9a9a9a" stroke-width="0.5"/>
<text x="419" y="333.1" font-size="7.4" text-anchor="middle">-100</text>
<text x="416.8" y="326" font-size="7.4" text-anchor="end">-100</text>
<text x="449.8" y="333.1" font-size="7.4" text-anchor="middle">-50</text>
<text x="416.8" y="292.9" font-size="7.4" text-anchor="end">-50</text>
<text x="480.5" y="333.1" font-size="7.4" text-anchor="middle">0</text>
<text x="416.8" y="259.9" font-size="7.4" text-anchor="end">0</text>
<text x="511.2" y="333.1" font-size="7.4" text-anchor="middle">50</text>
<text x="416.8" y="226.8" font-size="7.4" text-anchor="end">50</text>
<text x="542" y="333.1" font-size="7.4" text-anchor="middle">100</text>
<text x="416.8" y="193.7" font-size="7.4" text-anchor="end">100</text>
<text x="480.5" y="188.5" font-size="7.4" text-anchor="middle">Search history</text>
<text x="478.5" y="343" font-size="7.2" text-anchor="middle">x<tspan font-size="5" dy="1.5">1</tspan></text>
<text x="398.5" y="256.5" font-size="7.2" text-anchor="middle" transform="rotate(-90 398.5 256.5)">x<tspan font-size="5" dy="1.5">2</tspan></text>
<clipPath id="rc3"><rect x="419.0" y="368" width="123.0" height="132.3"/></clipPath>
<g clip-path="url(#rc3)" fill="none" stroke-width="0.7" opacity="0.9">
<path d="M476.3,368L476.7,368.2L477.4,368.8L477.5,368.8L478.2,369.3L478.7,369.7L479,369.8L479.7,370.4L479.8,370.5L480.5,371L480.9,371.3L481.3,371.6L482,372.1L482,372.2L482.8,372.8L483,373L483.6,373.4L484,373.8L484.3,374.1L484.9,374.6L485.1,374.8L485.8,375.4L485.9,375.5L486.6,376.2L486.7,376.3L487.4,376.9L487.6,377.1L488.2,377.7L488.4,377.9L489,378.5L489.2,378.7L489.7,379.3L490,379.6L490.5,380.2L490.7,380.4L491.3,381.1L491.4,381.2L492,382L492.1,382.1L492.8,382.9L492.8,382.9L493.4,383.7L493.6,383.9L494.1,384.5L494.3,384.9L494.7,385.4L495.1,386L495.3,386.2L495.8,387L495.9,387.1L496.4,387.8L496.6,388.3L496.9,388.7L497.4,389.5L497.4,389.5L497.9,390.3L498.2,390.8L498.4,391.2L498.8,392L498.9,392.2L499.3,392.8L499.7,393.6L499.7,393.6L500.1,394.5L500.5,395.2L500.5,395.3L500.9,396.1L501.3,396.9L501.3,396.9L501.6,397.8L501.9,398.6L502,398.8L502.3,399.4L502.6,400.2L502.8,400.9L502.9,401.1L503.1,401.9L503.4,402.7L503.6,403.3L503.6,403.6L503.9,404.4L504.1,405.2L504.3,406L504.3,406.2L504.5,406.9L504.7,407.7L504.8,408.5L505,409.3L505.1,410.1L505.1,410.2L505.2,411L505.4,411.8L505.5,412.7L505.5,413.5L505.6,414.3L505.7,415.1L505.7,416L505.8,416.8L505.8,417.6L505.8,418.4L505.8,419.3L505.8,420.1L505.7,420.9L505.7,421.7L505.6,422.6L505.6,423.4L505.5,424.2L505.4,425.1L505.3,425.9L505.2,426.7L505.1,427.1L505,427.5L504.9,428.4L504.7,429.2L504.6,430L504.4,430.8L504.3,431L504.2,431.7L503.9,432.5L503.7,433.3L503.6,433.9L503.5,434.1L503.2,435L502.9,435.8L502.8,436.2L502.7,436.6L502.4,437.5L502,438.3L502,438.3L501.7,439.1L501.4,439.9L501.3,440.2L501,440.8L500.6,441.6L500.5,441.9L500.2,442.4L499.8,443.2L499.7,443.4L499.4,444.1L498.9,444.9L498.9,444.9L498.5,445.7L498.2,446.2L498,446.6L497.5,447.4L497.4,447.5L497,448.2L496.6,448.7L496.4,449L495.9,449.9L495.9,449.9L495.3,450.7L495.1,451L494.7,451.5L494.3,452L494.1,452.3L493.6,453L493.5,453.2L492.8,454L492.8,454L492.1,454.8L492,454.9L491.4,455.6L491.3,455.8L490.7,456.5L490.5,456.7L489.9,457.3L489.7,457.5L489.1,458.1L489,458.3L488.3,459L488.2,459.1L487.5,459.8L487.4,459.8L486.6,460.6L486.6,460.6L485.9,461.3L485.7,461.4L485.1,461.9L484.8,462.3L484.3,462.6L483.8,463.1L483.6,463.3L482.8,463.9L482.8,463.9L482,464.5L481.7,464.7L481.3,465.1L480.6,465.6L480.5,465.7L479.7,466.2L479.5,466.4L479,466.8L478.3,467.2L478.2,467.3L477.4,467.8L477,468.1L476.7,468.3L475.9,468.8L475.7,468.9L475.1,469.3L474.4,469.7L474.4,469.7L473.6,470.2L472.9,470.5L472.8,470.6L472,471L471.4,471.4L471.3,471.4L470.5,471.8L469.9,472.2L469.7,472.2L469,472.6L468.2,473L468.2,473L467.4,473.4L466.7,473.7L466.4,473.8L465.9,474L465.1,474.4L464.4,474.7L464.4,474.7L463.6,475L462.8,475.3L462.4,475.5L462.1,475.6L461.3,475.9L460.5,476.2L460.1,476.3L459.7,476.5L459,476.7L458.2,477L457.6,477.1L457.4,477.2L456.7,477.4L455.9,477.7L455.1,477.9L454.8,478L454.4,478.1L453.6,478.3L452.8,478.5L452.1,478.7L451.6,478.8L451.3,478.9L450.5,479.1L449.8,479.2L449,479.4L448.2,479.5L447.7,479.6L447.4,479.7L446.7,479.8L445.9,480L445.1,480.1L444.4,480.2L443.6,480.3L442.8,480.4L442.5,480.5L442.1,480.5L441.3,480.6L440.5,480.7L439.8,480.8L439,480.8L438.2,480.9L437.4,480.9L436.7,481L435.9,481L435.1,481.1L434.4,481.1L433.6,481.1L432.8,481.1L432.1,481.2L431.3,481.2L430.5,481.2L429.8,481.1L429,481.1L428.2,481.1L427.5,481.1L426.7,481L425.9,481L425.1,481L424.4,480.9L423.6,480.8L422.8,480.8L422.1,480.7L421.3,480.6L420.5,480.5L420,480.5L419.8,480.4L419,480.3" stroke="#9090ee"/>
<path d="M510.9,368L511.2,368.4L511.6,368.8L512,369.3L512.3,369.7L512.8,370.3L513,370.5L513.6,371.2L513.6,371.3L514.3,372.1L514.3,372.2L514.9,373L515.1,373.2L515.5,373.8L515.9,374.2L516.2,374.6L516.6,375.3L516.7,375.4L517.3,376.3L517.4,376.4L517.9,377.1L518.2,377.5L518.4,377.9L518.9,378.7L519,378.7L519.5,379.6L519.7,379.9L520,380.4L520.5,381.2L520.5,381.2L521,382.1L521.2,382.6L521.4,382.9L521.9,383.7L522,384L522.3,384.5L522.7,385.4L522.8,385.4L523.2,386.2L523.5,387L523.6,387L524,387.8L524.3,388.6L524.3,388.7L524.7,389.5L525.1,390.3L525.1,390.4L525.4,391.2L525.7,392L525.9,392.3L526.1,392.8L526.4,393.6L526.6,394.3L526.7,394.5L527,395.3L527.2,396.1L527.4,396.6L527.5,396.9L527.8,397.8L528,398.6L528.2,399.1L528.3,399.4L528.5,400.2L528.7,401.1L528.9,401.9L528.9,402L529.1,402.7L529.3,403.6L529.5,404.4L529.6,405.2L529.7,405.6L529.8,406L529.9,406.9L530.1,407.7L530.2,408.5L530.3,409.3L530.4,410.2L530.5,410.6L530.5,411L530.6,411.8L530.7,412.7L530.8,413.5L530.8,414.3L530.9,415.1L530.9,416L530.9,416.8L530.9,417.6L531,418.4L531,419.3L530.9,420.1L530.9,420.9L530.9,421.7L530.9,422.6L530.8,423.4L530.8,424.2L530.7,425.1L530.6,425.9L530.5,426.7L530.5,427.2L530.4,427.5L530.3,428.4L530.2,429.2L530.1,430L529.9,430.8L529.8,431.7L529.7,432.2L529.6,432.5L529.5,433.3L529.3,434.1L529.1,435L528.9,435.7L528.9,435.8L528.7,436.6L528.5,437.5L528.3,438.3L528.2,438.6L528,439.1L527.8,439.9L527.5,440.8L527.4,441.1L527.2,441.6L527,442.4L526.7,443.2L526.6,443.4L526.4,444.1L526.1,444.9L525.9,445.4L525.7,445.7L525.4,446.6L525.1,447.3L525,447.4L524.7,448.2L524.3,449L524.3,449L523.9,449.9L523.5,450.6L523.5,450.7L523.1,451.5L522.8,452.2L522.7,452.3L522.3,453.2L522,453.6L521.8,454L521.3,454.8L521.2,455L520.9,455.6L520.5,456.3L520.4,456.5L519.9,457.3L519.7,457.6L519.4,458.1L518.9,458.8L518.8,459L518.3,459.8L518.2,460L517.7,460.6L517.4,461.1L517.2,461.4L516.6,462.2L516.6,462.3L516,463.1L515.9,463.2L515.3,463.9L515.1,464.3L514.7,464.7L514.3,465.2L514.1,465.6L513.6,466.2L513.4,466.4L512.8,467.1L512.7,467.2L512,468L512,468.1L511.3,468.9L511.2,468.9L510.5,469.7L510.5,469.7L509.8,470.5L509.7,470.6L509,471.4L508.9,471.4L508.2,472.2L508.2,472.2L507.4,472.9L507.3,473L506.6,473.7L506.5,473.8L505.9,474.4L505.6,474.7L505.1,475.1L504.7,475.5L504.3,475.8L503.8,476.3L503.6,476.5L502.9,477.1L502.8,477.2L502,477.9L501.9,478L501.3,478.5L500.9,478.8L500.5,479.1L499.9,479.6L499.7,479.7L498.9,480.3L498.8,480.5L498.2,480.9L497.7,481.3L497.4,481.5L496.6,482.1L496.6,482.1L495.9,482.6L495.4,482.9L495.1,483.1L494.3,483.7L494.2,483.8L493.6,484.2L493,484.6L492.8,484.7L492,485.2L491.7,485.4L491.3,485.7L490.5,486.2L490.4,486.2L489.7,486.6L489,487.1L489,487.1L488.2,487.5L487.6,487.9L487.4,488L486.6,488.4L486.1,488.7L485.9,488.8L485.1,489.3L484.5,489.6L484.3,489.7L483.6,490.1L482.9,490.4L482.8,490.4L482,490.8L481.3,491.2L481.3,491.2L480.5,491.6L479.7,491.9L479.5,492L479,492.3L478.2,492.6L477.7,492.9L477.4,493L476.7,493.3L475.9,493.6L475.7,493.7L475.1,493.9L474.4,494.2L473.7,494.5L473.6,494.5L472.8,494.8L472,495.1L471.5,495.3L471.3,495.4L470.5,495.7L469.7,496L469.1,496.2L469,496.2L468.2,496.5L467.4,496.7L466.7,497L466.6,497L465.9,497.2L465.1,497.4L464.4,497.7L463.8,497.8L463.6,497.9L462.8,498.1L462.1,498.3L461.3,498.5L460.8,498.6L460.5,498.7L459.7,498.9L459,499.1L458.2,499.3L457.4,499.4L457.3,499.5L456.7,499.6L455.9,499.8L455.1,499.9L454.4,500.1L453.6,500.2L453.2,500.3" stroke="#8f9ff0"/>
<path d="M542,433.1L542,433.3L541.8,434.1L541.6,435L541.5,435.8L541.3,436.6L541.2,436.9L541.1,437.5L540.9,438.3L540.7,439.1L540.5,439.9L540.5,440L540.2,440.8L540,441.6L539.8,442.4L539.7,442.6L539.5,443.2L539.2,444.1L539,444.9L538.9,445L538.7,445.7L538.4,446.6L538.2,447.1L538.1,447.4L537.8,448.2L537.4,449L537.4,449.1L537.1,449.9L536.7,450.7L536.6,451L536.4,451.5L536,452.3L535.9,452.7L535.6,453.2L535.3,454L535.1,454.4L534.9,454.8L534.4,455.6L534.3,455.9L534,456.5L533.6,457.3L533.5,457.4L533.1,458.1L532.8,458.8L532.7,459L532.2,459.8L532,460.2L531.7,460.6L531.3,461.4L531.2,461.5L530.7,462.3L530.5,462.7L530.2,463.1L529.7,463.9L529.7,463.9L529.2,464.7L528.9,465.1L528.6,465.6L528.2,466.2L528,466.4L527.5,467.2L527.4,467.3L526.9,468.1L526.6,468.4L526.3,468.9L525.9,469.4L525.6,469.7L525.1,470.4L525,470.5L524.3,471.4L524.3,471.4L523.7,472.2L523.5,472.3L523,473L522.8,473.2L522.3,473.8L522,474.1L521.6,474.7L521.2,475L520.8,475.5L520.5,475.9L520.1,476.3L519.7,476.7L519.3,477.1L518.9,477.5L518.5,478L518.2,478.3L517.7,478.8L517.4,479.1L516.9,479.6L516.6,479.9L516,480.5L515.9,480.6L515.2,481.3L515.1,481.4L514.3,482.1L514.3,482.1L513.6,482.8L513.4,482.9L512.8,483.5L512.5,483.8L512,484.1L511.5,484.6L511.2,484.8L510.5,485.4L510.5,485.5L509.7,486.1L509.5,486.2L508.9,486.7L508.5,487.1L508.2,487.3L507.4,487.9L507.4,487.9L506.6,488.5L506.4,488.7L505.9,489.1L505.2,489.6L505.1,489.7L504.3,490.2L504.1,490.4L503.6,490.8L502.9,491.2L502.8,491.3L502,491.8L501.7,492L501.3,492.3L500.5,492.8L500.5,492.9L499.7,493.3L499.2,493.7L498.9,493.8L498.2,494.3L497.9,494.5L497.4,494.8L496.6,495.3L496.5,495.3L495.9,495.7L495.1,496.2L495.1,496.2L494.3,496.6L493.6,497L493.6,497L492.8,497.4L492.1,497.8L492,497.9L491.3,498.3L490.5,498.6L490.5,498.7L489.7,499.1L489,499.5L488.9,499.5L488.2,499.8L487.4,500.2L487.2,500.3M525.6,368L525.9,368.3L526.3,368.8L526.6,369.3L526.9,369.7L527.4,370.4L527.4,370.5L528,371.3L528.2,371.5L528.6,372.1L528.9,372.7L529.1,373L529.7,373.8L529.7,373.8L530.2,374.6L530.5,375.1L530.7,375.4L531.2,376.3L531.2,376.3L531.7,377.1L532,377.7L532.2,377.9L532.6,378.7L532.8,379L533.1,379.6L533.5,380.4L533.5,380.5L533.9,381.2L534.3,382L534.4,382.1L534.8,382.9L535.1,383.5L535.2,383.7L535.6,384.5L535.9,385.2L535.9,385.4L536.3,386.2L536.6,386.9L536.7,387L537,387.8L537.3,388.7L537.4,388.8L537.7,389.5L538,390.3L538.2,390.8L538.3,391.2L538.6,392L538.9,392.8L538.9,393L539.1,393.6L539.4,394.5L539.7,395.3L539.7,395.4L539.9,396.1L540.2,396.9L540.4,397.8L540.5,398.1L540.6,398.6L540.8,399.4L541,400.2L541.2,401.1L541.2,401.2L541.4,401.9L541.6,402.7L541.7,403.6L541.9,404.4L542,404.9" stroke="#50c8e8"/>
<path d="M542,463.6L541.8,463.9L541.4,464.7L541.2,465L540.9,465.6L540.5,466.2L540.4,466.4L539.9,467.2L539.7,467.5L539.3,468.1L538.9,468.7L538.8,468.9L538.2,469.7L538.2,469.8L537.7,470.5L537.4,470.9L537.1,471.4L536.6,472L536.5,472.2L535.9,473L535.9,473.1L535.3,473.8L535.1,474.1L534.7,474.7L534.3,475.1L534,475.5L533.5,476.1L533.4,476.3L532.8,477.1L532.7,477.1L532,478L532,478L531.3,478.8L531.2,478.9L530.6,479.6L530.5,479.8L529.9,480.5L529.7,480.7L529.2,481.3L528.9,481.5L528.4,482.1L528.2,482.4L527.6,482.9L527.4,483.2L526.9,483.8L526.6,484L526,484.6L525.9,484.8L525.2,485.4L525.1,485.5L524.4,486.2L524.3,486.3L523.5,487L523.5,487.1L522.8,487.8L522.6,487.9L522,488.5L521.7,488.7L521.2,489.2L520.8,489.6L520.5,489.9L519.9,490.4L519.7,490.5L518.9,491.2L518.9,491.2L518.2,491.8L517.9,492L517.4,492.5L516.9,492.9L516.6,493.1L515.9,493.7L515.9,493.7L515.1,494.3L514.8,494.5L514.3,494.9L513.8,495.3L513.6,495.5L512.8,496.1L512.7,496.2L512,496.6L511.5,497L511.2,497.2L510.5,497.7L510.4,497.8L509.7,498.3L509.2,498.6L508.9,498.8L508.2,499.3L507.9,499.5L507.4,499.8L506.7,500.3M538.1,368L538.2,368.1L538.6,368.8L538.9,369.3L539.1,369.7L539.7,370.5L539.7,370.5L540.2,371.3L540.5,371.8L540.7,372.1L541.2,373L541.2,373.1L541.6,373.8L542,374.4" stroke="#40d0e0"/>
<path d="M542,480.5L541.4,481.3L541.2,481.5L540.7,482.1L540.5,482.4L540,482.9L539.7,483.4L539.3,483.8L538.9,484.3L538.6,484.6L538.2,485.1L537.9,485.4L537.4,486L537.2,486.2L536.6,486.9L536.4,487.1L535.9,487.7L535.6,487.9L535.1,488.5L534.9,488.7L534.3,489.3L534.1,489.6L533.5,490.1L533.2,490.4L532.8,490.9L532.4,491.2L532,491.6L531.6,492L531.2,492.3L530.7,492.9L530.5,493.1L529.8,493.7L529.7,493.8L528.9,494.5L528.9,494.5L528.2,495.2L528,495.3L527.4,495.9L527.1,496.2L526.6,496.5L526.1,497L525.9,497.2L525.1,497.8L525.1,497.8L524.3,498.5L524.1,498.6L523.5,499.1L523.1,499.5L522.8,499.7L522,500.3" stroke="#70dcc0"/>
<path d="M542,493.7L542,493.7L541.2,494.5L541.2,494.5L540.5,495.3L540.4,495.3L539.7,496L539.6,496.2L538.9,496.8L538.7,497L538.2,497.5L537.8,497.8L537.4,498.2L537,498.6L536.6,499L536.1,499.5L535.9,499.7L535.2,500.3" stroke="#e8dc90"/>
</g>
<path transform="scale(0.25)" d="M2167 1472h0m-3 0h0m0 1h0m-5-1h0m-4 0h0m0 0h0m0 0h0m0 0h0m-1 0h0m0 1h0m-1 0h0m-1-1h0m-2 1h0m-3-1h0m0 0h0m-1 1h0m-1-1h0m-1 1h0m-2 0h0m-1 0h0m-1-1h0m0 0h0m-1 0h0m0 0h0m0 0h0m-2 0h0m-1 0h0m-3 0h0m-2 1h0m-4 0h0m0-1h0m0 0h0m0 1h0m-1-1h0m0 0h0m0 0h0m-1 0h0m-1 0h0m0 0h0m0 0h0m-2 0h0m0 0h0m0 0h0m-1 1h0m-3-1h0m0 2h0m-2-1h0m-2-1h0m0 1h0m-2-1h0m-1 3h0m-1-3h0m0 0h0m-2 0h0m-1 0h0m0 1h0m0-1h0m-4 1h0m-1-1h0m-2 0h0m-2 1h0m-1 1h0m-1-2h0m0 1h0m-2 6h0m-3-5h0m-4-2h0m0 0h0m-5 0h0m0 0h0m-1 0h0m-1 0h0m0 0h0m-1 0h0m-2 1h0m-5-1h0m0 0h0m-2 0h0m-2 1h0m-1-1h0m0 0h0m-1 0h0m0 0h0m-2 1h0m-1-1h0m-2 1h0m-1 0h0m0-1h0m-1 1h0m-3-1h0m0 0h0m-1 1h0m-2 0h0m-3-1h0m-4 1h0m0 1h0m-1 0h0m-1-2h0m0 0h0m-2 2h0m-3-2h0m0 2h0m0-1h0m-1-1h0m-1 10h0m-1-10h0m0 5h0m-1-4h0m0 0h0m-5 14h0m-1-15h0m0 0h0m0 6h0m-1-1h0m0-4h0m0 13h0m0-8h0m-1-6h0m0 0h0m0 12h0m-1 0h0m-1-12h0m0 2h0m-1 0h0m0 5h0m-1-2h0m0 2h0m0-5h0m-1-2h0m0 4h0m-1 10h0m-1-14h0m0 3h0m0 0h0m-1 7h0m0 5h0m0-13h0m0 7h0m-1 1h0m0-8h0m0-2h0m0 4h0m0 0h0m0 9h0m0-12h0m0 8h0m-1 4h0m0-4h0m0-8h0m0 11h0m0-10h0m0 6h0m-1-4h0m0-1h0m0 9h0m0-5h0m0-6h0m0 14h0m0-3h0m-1-5h0m0 6h0m0-12h0m0 3h0m0 9h0m-1-5h0m0-2h0m0 1h0m0-6h0m0 9h0m0-4h0m0 3h0m-1-1h0m0 1h0m0-1h0m0-3h0m0 5h0m0-9h0m0 11h0m-1-1h0m0-2h0m0-4h0m0-4h0m0 11h0m-1-11h0m0-1h0m-1 0h0m0 0h0m0 10h0m0 3h0m0-10h0m-1 4h0m-1-1h0m-1-4h0m0-2h0m-1 8h0m-2 2h0m-3-10h0m0 10h0m0-2h0m-1-6h0m0-2h0m0 0h0m-1 0h0m-1 0h0m0 5h0m-3-3h0m0-1h0m-1-1h0m0 0h0m-2 1h0m-1-1h0m0 13h0m-2-5h0m0-5h0m-3-1h0m0-1h0m-1-1h0m0 0h0m0 0h0m-1 0h0m0 1h0m0 0h0m-2 0h0m-2-1h0m-1 0h0m0 2h0m0-2h0m-5 0h0m0 0h0m-1 1h0m0-1h0m0 0h0m-2 0h0m-1 13h0m-2-13h0m-2 2h0m-1-2h0m-1 0h0m-1 0h0m-4 0h0m0 0h0m0 10h0m-1-9h0m-1 0h0m0-1h0m-2 1h0m0 0h0m0 0h0m0-1h0m0 0h0m-2 0h0m-1 1h0m-7-1h0m-3 1h0m0-1h0m0 0h0m-2 0h0m0 2h0m-1-2h0m0 0h0m-1 1h0m0-1h0m0 0h0m-1 1h0m-1-1h0m-1 0h0m-2 0h0m-2 0h0m0 0h0m-3 0h0m-1 0h0m0 0h0m-2 0h0m-1 0h0m-1 0h0m-1 0h0m-1 0h0m0 0h0m-1 0h0m-1 0h0m-1 0h0m0 0h0m-2 0h0m0 0h0m-3 1h0m-3-1h0m-2 1h0m0 0h0m-2 0h0m-2-1h0m-1 0h0m0 0h0m-5 1h0m0-1h0m-1 0h0m0 0h0m-5 1h0m-2-1h0m-1 0h0m-1 0h0m-1 2h0m-1-1h0m-5 0h0m-4-1h0m-2 0h0m-1 0h0m-2 1h0m-1-1h0m-2 0h0m-1 1h0m-2-1h0m-2 0h0m-4 2h0m-1-2h0m-2 0h0m-1 0h0m-9 0h0m-1 0h0m0 0h0m-2 2h0m0-2h0m-1 0h0m0 1h0m-3-1h0m-2 0h0m0 0h0m-1 0h0m-3 0h0m0 0h0m-1 1h0m-1-1h0m-3 3h0m0-1h0m0-2h0m0 0h0m0 0h0m-3 0h0m0 4h0m-1-3h0m-2 0h0m-4-1h0m-1 0h0m0 0h0m0 0h0m0 0h0m-1 0h0m0 0h0m-1 0h0m0 0h0m-1 0h0m-1 1h0m-1 0h0m-4 0h0m-2 0h0m-4-1h0m0 0h0m-1 1h0m-2-1h0m-3 1h0m-3-1h0m-3 0h0m-1 0h0m-3 0h0m0 0h0m-2 1h0m-2-1h0m-2 0h0m-1 0h0m-2 0h0m0 7h0m-1-6h0m0-1h0m0 0h0m-1 0h0m-1 1h0m-1 1h0m-1-2h0m0 0h0m-5 0h0m-2 0h0m-1 0h0m-2 0h0m-3 0h0m-1 0h0m-1 0h0m-1 0h0m-4 0h0m0 0h0m-3 1h0m0 0h0m-2-1h0m-1 0h0m0 0h0m-1 0h0m-2 0h0m-2 0h0m-1 1h0m-3 1h0m-1-2h0m-1 0h0m-1 0h0m0 0h0m-2 1h0m0 0h0m-2-1h0m-1 0h0m-2 0h0m-1 0h0m-1 1h0m-2 0h0m-2-1h0m0 0h0m0 0h0m-5 0h0m-1 0h0m0 13h0m-1-13h0m0 5h0m-2-4h0m0 0h0m-1-1h0m-3 0h0m-2 0h0m0 1h0m-1 0h0m-4-1h0m-1 0h0m-2 0h0m0 12h0m-2-12h0m0 15h0m-2-15h0m-2 0h0m-4 0h0m-1 0h0m0 1h0m-1-1h0m-2 0h0m-3 0h0m0 0h0m-2 0h0m-1 0h0m-1 0h0m-2 3h0m0 2h0m0 3h0m0-8h0m0 27h0m0 10h0m1-12h0m0 8h0m24 4h0m36-2h0m20-6h0m4 7h0m4-15h0m1 15h0m1-10h0m2 1h0m6 8h0m14 4h0m23-5h0m4-12h0m1-1h0m21 15h0m11-17h0m8 17h0m7-3h0m25-11h0m3 2h0m12 0h0m1 7h0m11-11h0m28 5h0m3 4h0m3-2h0m16 2h0m9-10h0m0-3h0m26 11h0m3 9h0m5-18h0m2-1h0m0-1h0m2 6h0m0 4h0m1 3h0m0-7h0m0 6h0m1-2h0m0 10h0m0-12h0m0 12h0m0-10h0m0 11h0m0-6h0m1-12h0m0 9h0m0 0h0m0 9h0m0-5h0m0-12h0m0 12h0m0-14h0m0 10h0m0-6h0m0 6h0m0 2h0m0 7h0m0-16h0m0 14h0m0-9h0m1 1h0m0-4h0m0 7h0m0 4h0m0-16h0m0 10h0m0-10h0m0 13h0m0 5h0m0-19h0m0 1h0m1 3h0m0 1h0m0-3h0m0-1h0m1-2h0m2 7h0m3-5h0m0 10h0m3-6h0m1-3h0m2 17h0m2 0h0m3-15h0m7-2h0m11 16h0m44-3h0m38-9h0m13 16h0m20-13h0m-102 27h0m-2 8h0m-3-15h0m-15 17h0m-26-5h0m-1-1h0m-1-12h0m-1 1h0m0 15h0m0-16h0m0 12h0m0 1h0m-1 3h0m0-11h0m0-1h0m0 14h0m0-15h0m-1-7h0m0 4h0m0-2h0m0 12h0m0-2h0m0-4h0m0 11h0m0-8h0m0 8h0m-1-7h0m0-2h0m0 8h0m0-15h0m0 1h0m-1 10h0m0-4h0m0 6h0m-1-7h0m-10-5h0m-13 2h0m-2 7h0m-51-8h0m-8 11h0m-39 3h0m-18 1h0m-1-13h0m-22 3h0m-7 3h0m-3-10h0m-14 7h0m0-6h0m-4 1h0m-8-2h0m-63-1h0m-14 17h0m-13 1h0m0-5h0m-45 7h0m-1-22h0m0 2h0m0 12h0m0 4h0m0 11h0m0 17h0m0-22h0m29 14h0m2-15h0m13 5h0m29 10h0m4 2h0m2 1h0m8-5h0m11 10h0m25-23h0m5 0h0m4 12h0m0 9h0m9-9h0m0 7h0m7-7h0m6-6h0m10 11h0m9-12h0m35 1h0m9-2h0m3 15h0m3-15h0m94 8h0m18 8h0m1 0h0m1-8h0m1-8h0m0 0h0m0 11h0m0-1h0m0-1h0m0-2h0m0-2h0m1-5h0m0 7h0m0-6h0m0 9h0m0-14h0m0 8h0m0 10h0m0 0h0m0 0h0m1-17h0m0 8h0m0 6h0m0-4h0m0-11h0m0 13h0m0 8h0m0 1h0m1-17h0m0 8h0m0 5h0m0-3h0m0-11h0m0 7h0m0 0h0m0 1h0m1-9h0m1 20h0m11-3h0m5-13h0m16 12h0m4-18h0m45 13h0m10-4h0m51-8h0m-94 23h0m-12 20h0m-3-14h0m-6-6h0m-16 8h0m-12 4h0m-1-3h0m0 4h0m0-12h0m-1 15h0m0-14h0m0 2h0m0 4h0m0-3h0m0 13h0m0-15h0m0 9h0m0-3h0m0-7h0m0 5h0m0 12h0m0 3h0m-1-18h0m0 6h0m0-6h0m0 4h0m0 5h0m0-11h0m0 6h0m-1 4h0m0 1h0m0-6h0m0-3h0m0 13h0m0-1h0m-1-6h0m0 11h0m0 1h0m-1-10h0m-19-6h0m0 5h0m-27-6h0m-8 13h0m-35-5h0m-7 2h0m-10 1h0m-19-15h0m-2 21h0m-1-9h0m-12-1h0m-8 8h0m-5-15h0m-1 2h0m0-6h0m0 15h0m-9 6h0m-14-19h0m-41 9h0m-12-12h0m-27 2h0m-3 9h0m-4 9h0m-15-11h0m-7-7h0m-18 0h0m-11 14h0m-3 6h0m-17-12h0m0 5h0m-1 5h0m0-13h0m0-3h0m0-1h0m0 38h0m0-16h0m0 16h0m1 2h0m0-8h0m5 5h0m30-17h0m8 17h0m4-14h0m15 5h0m6 11h0m0 4h0m3 0h0m3-10h0m6 0h0m21-7h0m5 3h0m7 13h0m15-21h0m6 20h0m8-12h0m3-8h0m13 12h0m4-8h0m24 2h0m1 15h0m2-18h0m7-3h0m6 15h0m26 0h0m2-5h0m0-9h0m10 11h0m8-8h0m2 7h0m1 7h0m4 2h0m3-17h0m22 18h0m10-4h0m10-7h0m20-6h0m3 5h0m11 11h0m1-5h0m2 3h0m0-6h0m0-12h0m0 1h0m0 2h0m0 18h0m0-5h0m0-10h0m0-1h0m1 5h0m0 12h0m0 0h0m0-3h0m0-7h0m0 6h0m0 0h0m1-3h0m0-13h0m0 13h0m1-4h0m0 4h0m0-15h0m0 19h0m0 0h0m0-12h0m1-5h0m0 17h0m39 1h0m7-3h0m87 12h0m-20-1h0m-32 17h0m-26-19h0m-6 12h0m-35-14h0m-2 19h0m-2-11h0m-1-8h0m-9 10h0m0-6h0m0 0h0m-1 5h0m0 9h0m0-5h0m0-3h0m-1 7h0m0 0h0m0-3h0m0-8h0m0 16h0m0-5h0m0-14h0m0 19h0m0-1h0m-1-6h0m0-1h0m0 3h0m0 5h0m0-9h0m0-1h0m0-10h0m0 19h0m-1-8h0m0 2h0m0 0h0m0-16h0m0 5h0m0 0h0m-1-4h0m0 10h0m0 9h0m-6-6h0m-2-2h0m-21-8h0m-12 12h0m-28 5h0m-16-13h0m-5-1h0m-1 11h0m-7-6h0m-10 7h0m-4-5h0m-7-7h0m-6-7h0m-7 19h0m-4-3h0m0-6h0m-5-3h0m-14 8h0m-5-13h0m0 6h0m-2 1h0m-3 13h0m-2-17h0m-2 17h0m-1-5h0m-5-10h0m-4 6h0m-10 1h0m-3 8h0m-2-11h0m-9-11h0m-2 8h0m-16 15h0m-2-2h0m-19-8h0m-9-9h0m-14 17h0m-9-20h0m-8-1h0m-21 5h0m-9 8h0m-1-5h0m-23-5h0m-1 10h0m0 1h0m0 15h0m0 5h0m0 11h0m0-18h0m0-1h0m1 4h0m0 3h0m8 5h0m22 3h0m20-5h0m6 3h0m2-5h0m3 9h0m8-6h0m9 9h0m21 1h0m2-12h0m8 9h0m17-2h0m3-1h0m12 2h0m2-14h0m1 6h0m2 0h0m0 0h0m10-3h0m2 0h0m2 11h0m4-8h0m4 2h0m3-3h0m4 3h0m3-9h0m11 11h0m8-11h0m10 14h0m1-13h0m30 14h0m20-18h0m2 2h0m4 16h0m1-2h0m17-5h0m0-12h0m0 3h0m1 8h0m1 3h0m9-7h0m22 15h0m10-17h0m10 0h0m1 11h0m0 3h0m0-14h0m1 0h0m0 4h0m0 3h0m0-5h0m0 11h0m0 4h0m0-15h0m1-1h0m0 0h0m0 9h0m0-5h0m0-4h0m0 8h0m1-8h0m0 16h0m0-6h0m0 7h0m0-11h0m0-10h0m0 13h0m1 3h0m0-10h0m0 5h0m0-9h0m1-4h0m0 14h0m0 5h0m2-17h0m6 14h0m119-3h0m-114 27h0m-12-13h0m-1 14h0m0-5h0m0 0h0m-1-12h0m0 13h0m0-8h0m0 4h0m-1 3h0m0 3h0m0-10h0m0 13h0m0-15h0m0-2h0m0 3h0m0-1h0m0 10h0m0 6h0m0-2h0m-1-13h0m0 13h0m0-6h0m0 10h0m0-19h0m0 7h0m0 6h0m0 4h0m0-15h0m0 4h0m-1 3h0m0-9h0m0 14h0m0-9h0m-1 9h0m-20-2h0m-26-12h0m-22 21h0m-10-9h0m-3-10h0m-1 11h0m-3-11h0m-5 6h0m-7 11h0m-6-1h0m-7-12h0m-12 3h0m-11-11h0m-5 18h0m-8-4h0m0-6h0m-19-4h0m-4-1h0m-11 18h0m-1-4h0m-1-15h0m-13 14h0m-12-10h0m0 7h0m-5-8h0m-2 14h0m-9-11h0m-6 2h0m-1-1h0m-2 0h0m-3 9h0m-5 2h0m-18-18h0m-13 16h0m-20 0h0m-20 4h0m-26-18h0m0 14h0m0 19h0m0-6h0m0 13h0m0-17h0m0 6h0m1-4h0m4 3h0m30 9h0m11-17h0m14 7h0m9-4h0m5-2h0m4 8h0m4-4h0m15 7h0m0 0h0m13 7h0m9-11h0m1-4h0m0 7h0m8-7h0m9 2h0m4 5h0m2 10h0m1-14h0m2-2h0m0 17h0m7-20h0m2 0h0m1 11h0m10 8h0m1-1h0m4 1h0m13-14h0m1 2h0m5 10h0m10-7h0m0 7h0m9-19h0m1 16h0m16 6h0m2 1h0m1-13h0m1-7h0m3 4h0m18-4h0m5 0h0m6 0h0m7 1h0m1 16h0m14-7h0m24 4h0m20-13h0m0 13h0m1 3h0m8-6h0m0 3h0m0-9h0m0 0h0m1 6h0m0 7h0m0-18h0m0 2h0m0 9h0m1-6h0m0-6h0m0 3h0m0 15h0m0 0h0m0-13h0m1 6h0m0-3h0m0 0h0m0-9h0m0 13h0m0-13h0m0 7h0m1 13h0m0-9h0m0 4h0m0 6h0m1-14h0m31-6h0m3 13h0m12-11h0m102 10h0m-25 25h0m-7-9h0m-6 0h0m-8 2h0m-14-1h0m-22 1h0m-4-1h0m-4 5h0m-3 8h0m-26-9h0m-11 8h0m-16-8h0m-3 4h0m0-12h0m0 5h0m0-2h0m0 1h0m-1-4h0m0 4h0m0-1h0m0 11h0m0-7h0m0-10h0m0 17h0m0 1h0m0-5h0m-1 8h0m0-11h0m0-7h0m0 20h0m0-4h0m0-3h0m0-5h0m-1 12h0m0-10h0m0-4h0m0 9h0m0-7h0m-1-5h0m0 10h0m-8-10h0m-31-1h0m-11 8h0m-1-3h0m-3-5h0m-20 13h0m-1-4h0m-4-4h0m-32 13h0m-3 0h0m-14-7h0m-8-12h0m-2 15h0m0-4h0m-7 1h0m-3-5h0m0 2h0m-4-3h0m-6 13h0m-9-18h0m-7-3h0m-6 15h0m-4-16h0m0 3h0m-7 14h0m-17 4h0m-6-5h0m-11-1h0m-6-14h0m-2 5h0m-4 11h0m-5-3h0m-5-4h0m-10 6h0m-13-7h0m-11-5h0m-12-1h0m-3 18h0m-1-9h0m-7-6h0m-33 2h0m0 2h0m0 8h0m0-2h0m0 20h0m0 4h0m0-4h0m4-11h0m34 8h0m14 6h0m7-3h0m33-2h0m2 11h0m8-1h0m3-8h0m14 7h0m12-12h0m10-5h0m12-1h0m21-1h0m0 2h0m3 4h0m5 2h0m2 2h0m23 2h0m1 10h0m2-15h0m1 3h0m5 6h0m0-13h0m6 1h0m2 11h0m1-8h0m1 5h0m0 1h0m0-12h0m0 15h0m1 3h0m1 1h0m0 0h0m1-3h0m3-11h0m0 10h0m3-7h0m7-5h0m3 3h0m2-5h0m24 1h0m18 19h0m4-7h0m43-9h0m2-6h0m0 8h0m0 6h0m0-2h0m0-12h0m0 13h0m1-1h0m0-2h0m0-4h0m0 2h0m0 3h0m1-9h0m0-2h0m0 2h0m0 18h0m0-5h0m0-12h0m0 10h0m0-7h0m0 1h0m0 3h0m0 4h0m1-12h0m0 5h0m0 0h0m0-8h0m0 3h0m0 14h0m0-8h0m0-3h0m0-3h0m3 17h0m0-18h0m13 8h0m18 8h0m17-16h0m80 0h0m2 32h0m-38-7h0m-27 11h0m-1 5h0m-2 3h0m-49-4h0m-3-14h0m-10 16h0m-2-16h0m-1 11h0m0-1h0m0 7h0m0-5h0m-1-2h0m0-9h0m0 13h0m0-4h0m0-3h0m0-2h0m0 11h0m0-11h0m0 4h0m-1 2h0m0-11h0m0 19h0m0-17h0m0 12h0m0-18h0m0 22h0m0-6h0m0-13h0m0 13h0m0-4h0m-1 1h0m-2 0h0m-1 4h0m-21-17h0m-55 4h0m-7 12h0m-10-13h0m-16-2h0m0 5h0m-3-5h0m-11 3h0m-26 17h0m-4-9h0m-6-9h0m-1 17h0m-7-15h0m-10-5h0m-21 10h0m-1 0h0m-8 0h0m-4-1h0m-1 0h0m-4-6h0m-1 16h0m-18-5h0m-22-14h0m-39 18h0m-16-16h0m-22 20h0m0-21h0m-1 10h0m0 11h0m0-21h0m0 41h0m0-11h0m0 3h0m0-3h0m0 5h0m0-10h0m0 12h0m0 4h0m0-17h0m0 16h0m0-15h0m14-1h0m24-1h0m27 14h0m1-3h0m3 4h0m10 6h0m6-12h0m22 8h0m10 4h0m6-21h0m15 16h0m9 1h0m25-11h0m5 10h0m13 6h0m1-5h0m1-9h0m12 4h0m4-6h0m4 10h0m6-9h0m3 6h0m24-13h0m27 2h0m38 11h0m16-5h0m11 6h0m1-4h0m1 2h0m0 2h0m1-14h0m0 21h0m0-19h0m1 1h0m0 0h0m43 5h0m7-4h0m74 6h0m11 32h0m-13 0h0m-33-9h0m-7 4h0m-52-9h0m-20 0h0m-10 10h0m0 3h0m-1-17h0m0 2h0m0 19h0m-1-9h0m-1 7h0m0-16h0m-18-1h0m-31 18h0m-25-10h0m-24-8h0m-5-2h0m-40 18h0m-3-14h0m-1 11h0m-2 2h0m-8 4h0m-15-20h0m-12 1h0m0 19h0m-12-4h0m-19 4h0m-3-15h0m-17 17h0m0-21h0m-6 14h0m-4 4h0m-10-14h0m-3-2h0m-4 15h0m-76-2h0m0 1h0m0 2h0m0-16h0m0-1h0m0 22h0m0 9h0m0-1h0m1 4h0m14 8h0m21-2h0m14-3h0m63 6h0m3-18h0m0-2h0m7 14h0m26-9h0m14 2h0m9-8h0m70-1h0m26 19h0m11-17h0m27-1h0m33 17h0m0 4h0m1 0h0m0-8h0m0 8h0m0-5h0m1-16h0m0 22h0m19 0h0m10-13h0m114 13h0m-36 10h0m-16 10h0m-7 1h0m-15-16h0m-25 2h0m-36 16h0m-7-13h0m-2 14h0m-1 0h0m0-13h0m0 1h0m-1 4h0m-7-5h0m-47 12h0m-7 1h0m-10-17h0m-10 6h0m-28-12h0m-6 2h0m-34-1h0m-12 12h0m-8-3h0m-3-7h0m-6 7h0m-52 1h0m-16-8h0m-1 14h0m-10-5h0m-5-4h0m-32 2h0m-4 10h0m-40-18h0m0 11h0m0-4h0m0-2h0m0 30h0m0 7h0m37-13h0m50 15h0m27-11h0m56-5h0m12 17h0m5-19h0m22 1h0m22 16h0m0-4h0m23-11h0m15-6h0m62 18h0m7 3h0m0-10h0m1-8h0m0 17h0m0-15h0m0-5h0m1 6h0m0 1h0m0 5h0m0 9h0m1-10h0m2 2h0m127 6h0m18-8h0m-34 29h0m-58-4h0m-21-9h0m-10 0h0m-24-2h0m-1 16h0m0 2h0m0-12h0m0 6h0m0 7h0m0-6h0m0 5h0m0 4h0m0-18h0m0 12h0m-1-10h0m0 7h0m0 1h0m0 5h0m-1-14h0m-32 5h0m-15 3h0m-13-12h0m-17 20h0m-7-4h0m-27-6h0m-90 1h0m-1 8h0m-4-9h0m-26-10h0m-96 15h0m-10-12h0m0 16h0m0 24h0m0-21h0m25 23h0m74-18h0m11 3h0m84-4h0m48 11h0m67-11h0m12 4h0m17-2h0m0 9h0m1 7h0m0-4h0m1-13h0m0 3h0m0 12h0m0-14h0m0 14h0m147 17h0m-60-9h0m-10 9h0m-59-3h0m-4 5h0m-1-14h0m-12 14h0m0 6h0m-1-19h0m0 6h0m0-8h0m0 11h0m0 4h0m-1-6h0m0-3h0m0 2h0m0-1h0m-1 5h0m-14-4h0m-9-2h0m-7 15h0m-112-7h0m-10 2h0m-49 4h0m-68-11h0m-68 12h0m-1-18h0m0 4h0m0 8h0m0-14h0m0 41h0m0 4h0m1-17h0m0-2h0m0 3h0m14-4h0m11 20h0m15-5h0m9 4h0m36-7h0m37-3h0m3-5h0m9 2h0m33 10h0m67-17h0m104 14h0m0 1h0m0 5h0m1-8h0m6 0h0m11-12h0m14 12h0m1-6h0m86-6h0m15 32h0m0 0h0m-5-2h0m-14 2h0m-1-1h0m-4 0h0m-22 1h0m-7 0h0m-3 0h0m-2 0h0m-20 0h0m-5 0h0m-11 0h0m-1 0h0m-7 0h0m-6 0h0m-1-1h0m-23-4h0m-1 4h0m0-1h0m-1 2h0m0-6h0m0-1h0m0 3h0m-1 4h0m-1 0h0m-3 0h0m-15 0h0m-7 0h0m-7 0h0m-1 0h0m-14-1h0m-7 1h0m-24 0h0m-6 0h0m-9 0h0m-16 0h0m-21 0h0m-13-1h0m-6 1h0m-13 0h0m-2 0h0m-8 0h0m-2 0h0m-17 0h0m-19 0h0m-9 0h0m-49-1h0m-5 1h0m-11 0h0m-3-1h0m-1 1h0m-4 0h0m0 0h0m-19-1h0" stroke="#0000ff" stroke-width="3.4" stroke-linecap="square" opacity="0.8"/>
<circle cx="503.3" cy="444.1" r="2.3" fill="#ff0000"/>
<rect x="419.0" y="368" width="123.0" height="132.3" fill="none" stroke="#9a9a9a" stroke-width="0.6"/>
<path d="M419,500.3v-1.3M419,368v1.3M419.0,500.3h1.3M542.0,500.3h-1.3M449.8,500.3v-1.3M449.8,368v1.3M419.0,467.2h1.3M542.0,467.2h-1.3M480.5,500.3v-1.3M480.5,368v1.3M419.0,434.1h1.3M542.0,434.1h-1.3M511.2,500.3v-1.3M511.2,368v1.3M419.0,401.1h1.3M542.0,401.1h-1.3M542,500.3v-1.3M542,368v1.3M419.0,368h1.3M542.0,368h-1.3" stroke="#9a9a9a" stroke-width="0.5"/>
<text x="419" y="510.8" font-size="7.4" text-anchor="middle">-100</text>
<text x="416.8" y="503.7" font-size="7.4" text-anchor="end">-100</text>
<text x="449.8" y="510.8" font-size="7.4" text-anchor="middle">-50</text>
<text x="416.8" y="470.6" font-size="7.4" text-anchor="end">-50</text>
<text x="480.5" y="510.8" font-size="7.4" text-anchor="middle">0</text>
<text x="416.8" y="437.5" font-size="7.4" text-anchor="end">0</text>
<text x="511.2" y="510.8" font-size="7.4" text-anchor="middle">50</text>
<text x="416.8" y="404.5" font-size="7.4" text-anchor="end">50</text>
<text x="542" y="510.8" font-size="7.4" text-anchor="middle">100</text>
<text x="416.8" y="371.4" font-size="7.4" text-anchor="end">100</text>
<text x="480.5" y="366.2" font-size="7.4" text-anchor="middle">Search history</text>
<text x="478.5" y="520.7" font-size="7.2" text-anchor="middle">x<tspan font-size="5" dy="1.5">1</tspan></text>
<text x="398.5" y="434.1" font-size="7.2" text-anchor="middle" transform="rotate(-90 398.5 434.1)">x<tspan font-size="5" dy="1.5">2</tspan></text>
<clipPath id="rc4"><rect x="419.0" y="545.6" width="123.0" height="132.3"/></clipPath>
<g clip-path="url(#rc4)" fill="none" stroke-width="0.7" opacity="0.9">
<path d="M423.9,545.6V677.9M426.4,545.6V677.9M430.7,545.6V677.9M436.8,545.6V677.9M439.9,545.6V677.9M442.4,545.6V677.9M446.1,545.6V677.9" stroke="#a8a0f0"/>
<path d="M451,545.6V677.9M455.9,545.6V677.9M462.1,545.6V677.9M465.1,545.6V677.9M468.2,545.6V677.9M473.7,545.6V677.9" stroke="#70d4ec"/>
<path d="M475.6,545.6V677.9M476.8,545.6V677.9M478,545.6V677.9M479.3,545.6V677.9M480.5,545.6V677.9" stroke="#80e0e8"/>
<path d="M483,545.6V677.9M487.9,545.6V677.9M493.4,545.6V677.9M498.9,545.6V677.9M503.9,545.6V677.9M508.8,545.6V677.9M513.7,545.6V677.9M518.6,545.6V677.9M523.5,545.6V677.9M528.5,545.6V677.9M533.4,545.6V677.9M538.3,545.6V677.9" stroke="#f2e4a0"/>
<path d="M485.4,545.6V677.9M490.3,545.6V677.9M495.9,545.6V677.9M501.4,545.6V677.9M506.3,545.6V677.9M511.2,545.6V677.9M516.2,545.6V677.9M521.1,545.6V677.9M526,545.6V677.9M530.9,545.6V677.9M535.9,545.6V677.9M540.8,545.6V677.9" stroke="#f8f0c8"/>
</g>
<path transform="scale(0.25)" d="M1683 2187h0m11 28h0m27 10h0m11-16h0m82 29h0m-2 15h0m-37-11h0m-88-1h0m18 28h0m416 23h0m-9 6h0m-15 4h0m-1-6h0m-84-4h0m-6-2h0m-7 11h0m-19-3h0m-13 4h0m-36 1h0m-15-11h0m-14-3h0m-51 4h0m-32-10h0m-12 20h0m-29-1h0m-43-20h0m-37 17h0m79 6h0m24 1h0m88-2h0m4 0h0m12 10h0m21 11h0m2-21h0m37 9h0m2-4h0m33 18h0m2-1h0m46-9h0m18 6h0m52-13h0m25 6h0m15 0h0m-15 18h0m-24 6h0m-57-8h0m-25 2h0m-1-6h0m-30 7h0m-35 9h0m0-7h0m-20-8h0m-10 19h0m-78-4h0m-104 25h0m64 1h0m12-13h0m24 8h0m22-4h0m7-9h0m17 12h0m7-12h0m29 1h0m18 8h0m14 12h0m14-1h0m11 1h0m31-3h0m3-18h0m24 23h0m7-23h0m31 12h0m5 2h0m22 3h0m25 3h0m-23 25h0m-6-2h0m-43-12h0m-19 5h0m-27-3h0m-7-3h0m-8-6h0m-8 3h0m-14 8h0m-16-1h0m-35-1h0m-37-3h0m-40 15h0m-12-14h0m-10 2h0m-125 2h0m61 29h0m125-6h0m41 3h0m100 3h0m12-15h0m87 3h0m1 14h0m7 20h0m-2-2h0m-146-4h0m-8-1h0m-1 14h0m-14-18h0m-56 4h0m-31 8h0m-42 5h0m-8-19h0m-16-1h0m-112 20h0m125 17h0m47 1h0m43 6h0m56-3h0m11 4h0m23-2h0m34 4h0m63 0h0m-7 22h0m-24-2h0m-48-18h0m-7 13h0m-7 3h0m-24-15h0m-37 16h0m-29-12h0m-66-4h0m-102 6h0m-82-6h0m19 28h0m56 16h0m6-6h0m56-13h0m21 8h0m61 9h0m27-6h0m0 1h0m22-3h0m7-12h0m12 1h0m8-1h0m97 10h0m2-4h0m84 40h0m-58-8h0m-19 1h0m-10-4h0m-11 5h0m-9 1h0m-7 0h0m-7-8h0m-14-1h0m-6 1h0m-3 7h0m-12-4h0m-15-1h0m-24 4h0m-11 4h0m-15 0h0m-7 3h0m-24-2h0m-12-2h0m-2-6h0m-63 3h0m-18-7h0m-48-7h0m-71 43h0m171-8h0m6 7h0m76-10h0m15 7h0m0 6h0m15-3h0m0-5h0m13-4h0m2 2h0m1-3h0m9 3h0m0 10h0m1-1h0m21 1h0m1-16h0m0 7h0m1 1h0m14-5h0m14 9h0m3-9h0m20 11h0m3-10h0m2-8h0m8 21h0m62 0h0m-22 24h0m-13-6h0m-5 3h0m-21-9h0m-1-8h0m-7 18h0m-7-20h0m-17 16h0m-2-11h0m-3-3h0m-6 3h0m-4 14h0m-24-16h0m-2 15h0m-2-2h0m-8-3h0m-20 0h0m-2 4h0m-37-16h0m-11 15h0m0-12h0m-16 18h0m-2-23h0m0 8h0m-13 6h0m-9-12h0m-9 2h0m-1 14h0m-25 5h0m-3-18h0m-35-4h0m-81 21h0m-38 0h0m16 11h0m17 11h0m34-7h0m93-6h0m12 4h0m14 9h0m3-7h0m2 10h0m22-10h0m35 9h0m18-2h0m10 0h0m4-14h0m5 15h0m2-14h0m1-7h0m8 15h0m0 4h0m8-9h0m9-6h0m2 2h0m1-6h0m10 1h0m3 12h0m6-12h0m4 15h0m15-2h0m24 0h0m6 1h0m15 3h0m0-15h0m10 8h0m10 6h0m8-4h0m20-1h0m12-8h0m2 12h0m-12 25h0m-22-4h0m-1-1h0m-18-1h0m-1-9h0m0 15h0m-38 3h0m0-19h0m-16 15h0m-3-15h0m0-1h0m-2 22h0m-4-18h0m-4-4h0m-6 8h0m-1-1h0m0-2h0m-3-1h0m-3 19h0m0-20h0m-1 10h0m-3-13h0m0 9h0m-7 14h0m-2-16h0m-1-5h0m-8 12h0m-8 6h0m-5-1h0m-11-5h0m-6-1h0m-8-3h0m0 9h0m0-12h0m-3 6h0m-10 0h0m-5 6h0m-9-12h0m-10-1h0m-3 10h0m-6-15h0m-5 10h0m-86-5h0m-36 2h0m-10 15h0m-83-21h0m154 42h0m21-5h0m13-3h0m3 0h0m12-1h0m14 2h0m15-1h0m6-3h0m21 4h0m15 3h0m2 6h0m0-3h0m5-9h0m1 3h0m0-8h0m3 11h0m1-4h0m1 4h0m4 3h0m3-13h0m2-5h0m1 18h0m9-13h0m2 3h0m1-8h0m3 12h0m1 9h0m0-14h0m1-1h0m3 0h0m1 9h0m2 0h0m3-13h0m6-1h0m1 9h0m10 12h0m4 0h0m3-17h0m0 16h0m4-3h0m4-10h0m5 6h0m10-3h0m1-5h0m2 0h0m1 7h0m3 5h0m5-8h0m5 11h0m2-17h0m11-4h0m1 3h0m5 11h0m7-14h0m18 15h0m1 7h0m2-6h0m20 2h0m6-12h0m0 29h0m-2 0h0m-28-3h0m-5 1h0m-5 12h0m-2-7h0m-3-8h0m-3 13h0m-1-15h0m-1 6h0m-1-11h0m-1 14h0m0 1h0m-1-5h0m0 0h0m-2 1h0m-2-1h0m-9 12h0m-2 1h0m-3-3h0m-1-12h0m-2 0h0m-1 11h0m0-4h0m0-10h0m-6 8h0m-1 1h0m-3 8h0m-2-11h0m0-1h0m-2 3h0m-1 8h0m-2 2h0m-2-18h0m0 17h0m-1-3h0m0-18h0m-5 6h0m-1 15h0m-1-14h0m-3 13h0m-1-17h0m-1 5h0m-1 6h0m-1 5h0m-4-1h0m0-17h0m-2 14h0m0 0h0m0 1h0m-3 1h0m0-2h0m0 6h0m0-2h0m0-15h0m-1 8h0m0 8h0m-1-17h0m0 1h0m-1 18h0m-1-2h0m-4-3h0m0 0h0m0 2h0m0 1h0m-1-7h0m-1 6h0m0-8h0m-2 1h0m-2 8h0m0 1h0m0-21h0m-1 10h0m-1 9h0m-2-1h0m-2-9h0m0 13h0m0-8h0m-4 5h0m0-10h0m-1 6h0m0-9h0m0 15h0m-1-4h0m-1-4h0m-1-5h0m0-5h0m-1 15h0m-1-10h0m0-6h0m-3 20h0m-1-10h0m-1-6h0m0 10h0m-1 6h0m-1-3h0m0 1h0m0-14h0m-2 6h0m-1-1h0m-1 11h0m0-6h0m-1-1h0m-1 5h0m-2-18h0m-3 11h0m-4-1h0m-1 7h0m0-6h0m-1 9h0m0-13h0m-1 11h0m0-8h0m-2 6h0m-1-1h0m-1-2h0m0-14h0m0 15h0m-1-4h0m0 2h0m-1 7h0m0-7h0m-2 0h0m0-3h0m-1-10h0m0 21h0m-1-8h0m-1 8h0m0-4h0m-1-1h0m0-5h0m-3-2h0m-1 6h0m0 6h0m-2-21h0m0 8h0m-1 9h0m0-9h0m-2-8h0m-3 19h0m-2-2h0m-1-3h0m-3-14h0m-3 0h0m-1 9h0m-1-3h0m-7 9h0m0-3h0m-1 8h0m-3-13h0m-1 4h0m-1-9h0m-4 6h0m0 12h0m-7-22h0m-6 23h0m-2-6h0m-1 5h0m-7-22h0m-7 7h0m-1 2h0m-5-8h0m-10 10h0m-5 2h0m-1 9h0m-26-4h0m-182-13h0m-7 41h0m0 1h0m7-1h0m3 1h0m2-1h0m2 1h0m0-1h0m4 1h0m7 0h0m0-1h0m2 0h0m1 0h0m0 1h0m4 0h0m5-1h0m2 1h0m1-22h0m1 21h0m0 1h0m6-1h0m1 1h0m1 0h0m1 0h0m4-1h0m4 1h0m0-1h0m1 1h0m1 0h0m2 0h0m1 0h0m0 0h0m1 0h0m1-1h0m1 0h0m6 0h0m1 1h0m1 0h0m6-1h0m0 0h0m1 1h0m2-1h0m0 0h0m2 1h0m2 0h0m2-1h0m0 1h0m6-1h0m0 1h0m2 0h0m0 0h0m5 0h0m1-1h0m3 1h0m6 0h0m4 0h0m2-2h0m3 2h0m3 0h0m4 0h0m0-1h0m1 0h0m1 1h0m1 0h0m6 0h0m3 0h0m1 0h0m0-1h0m3 1h0m0 0h0m1 0h0m0 0h0m7-1h0m2 1h0m3-1h0m1 1h0m1 0h0m0 0h0m5 0h0m2-1h0m1-1h0m6 2h0m3-22h0m2 22h0m6 0h0m2 0h0m3-1h0m2-15h0m4 16h0m2-1h0m1-2h0m0-19h0m1 22h0m0 0h0m1-1h0m2 1h0m3-1h0m8 1h0m7 0h0m3-1h0m0 0h0m1 0h0m5 1h0m0-17h0m2 17h0m4-8h0m1 8h0m2 0h0m4-1h0m0 1h0m2 0h0m2-2h0m0 2h0m1-2h0m1 1h0m1-2h0m3-4h0m1 6h0m2 0h0m0-1h0m1-7h0m0 9h0m3-1h0m0 1h0m1-5h0m1 3h0m1-19h0m2 17h0m3 1h0m0-14h0m2 1h0m0 9h0m1-14h0m1 10h0m1 5h0m0-16h0m1 21h0m1 1h0m1 0h0m0 0h0m0-13h0m1 7h0m0-10h0m2 16h0m0-8h0m0 7h0m1 1h0m0-10h0m1 10h0m0 0h0m0-13h0m0 7h0m2 6h0m0-20h0m1 20h0m0-16h0m0-7h0m0 11h0m1 10h0m1-1h0m0 1h0m0-4h0m0-11h0m1 7h0m2 0h0m1 10h0m0 0h0m0-7h0m1 5h0m0-9h0m0 2h0m0 1h0m1-12h0m0 1h0m0 2h0m1 2h0m0 12h0m0-6h0m0 5h0m1-6h0m0 5h0m1 5h0m0-7h0m0-6h0m1-5h0m1 17h0m0-3h0m1 3h0m0-3h0m0-6h0m0 1h0m0 1h0m1 7h0m0-7h0m0-13h0m0 18h0m0-13h0m1 15h0m0-18h0m1 2h0m0 17h0m0-4h0m1-7h0m0 1h0m0 5h0m1 4h0m0-4h0m0-4h0m1 0h0m0-12h0m0 21h0m1-14h0m1 13h0m0-7h0m0 6h0m0-6h0m0 6h0m1 2h0m0 0h0m0 0h0m0 0h0m0-1h0m0-6h0m0-1h0m0 7h0m0-19h0m1 10h0m0 1h0m0 0h0m0 8h0m0-11h0m1-7h0m0 8h0m1 11h0m0-6h0m0-11h0m0 7h0m0 7h0m0-15h0m1 18h0m0 0h0m0-3h0m0-20h0m0 21h0m1-8h0m0 4h0m0 3h0m0-14h0m0 2h0m1 3h0m0-4h0m0 11h0m0 3h0m0 0h0m0-15h0m1 15h0m0 0h0m0-1h0m1 2h0m0-8h0m0 6h0m0-14h0m1 9h0m0 3h0m0-3h0m0-1h0m1 5h0m0-11h0m0 13h0m1-6h0m0-15h0m0 16h0m0-9h0m0 8h0m1-14h0m0 10h0m0 4h0m1 4h0m0-7h0m1 11h0m0 0h0m0-10h0m0-5h0m0-4h0m1 17h0m0-13h0m0 6h0m0 0h0m0-6h0m0 5h0m0 8h0m0-20h0m0 2h0m1 19h0m0-11h0m0 7h0m0-11h0m0 8h0m0-4h0m0-9h0m0 15h0m1 1h0m0-3h0m0-7h0m0-5h0m0 13h0m0-1h0m1 7h0m0-9h0m0 7h0m0 1h0m0-2h0m0 2h0m0-7h0m0-2h0m0 8h0m0 2h0m1 1h0m0-6h0m0 6h0m0-14h0m0 3h0m0 8h0m0-12h0m0 7h0m0 6h0m1 1h0m0-14h0m0 7h0m0 2h0m0-7h0m0 8h0m0-1h0m0-8h0m1 6h0m0-6h0m0 10h0m0-9h0m1 0h0m0-6h0m0 19h0m0-7h0m0 4h0m0-2h0m0-1h0m0-3h0m0-8h0m1 17h0m0-17h0m0 9h0m0-13h0m0 13h0m1 4h0m0-10h0m0 3h0m0 2h0m0 7h0m1-7h0m0 8h0m0-13h0m1 14h0m0 0h0m0-8h0m0 0h0m0-15h0m0 20h0m0-7h0m0 8h0m0-2h0m0-2h0m0-4h0m0 10h0m0-16h0m0 11h0m1-7h0m0 10h0m0-4h0m0-11h0m0 13h0m0-9h0m1 13h0m0 0h0m0-6h0m0-11h0m0 0h0m0 2h0m0 11h0m0-3h0m1 6h0m0-6h0m0 6h0m0-13h0m0 11h0m0 0h0m0 1h0m0-18h0m0 16h0m0 1h0m0-15h0m1 18h0m0-14h0m0 3h0m0-4h0m0 5h0m0-10h0m0 19h0m0 1h0m0-10h0m0 2h0m1 8h0m0-17h0m0 13h0m0-12h0m0 9h0m0 5h0m0-9h0m0 2h0m0 1h0m1 8h0m0-11h0m0-1h0m0-6h0m0-1h0m0 12h0m0 4h0m1 2h0m0-7h0m0-1h0m0-14h0m0 21h0m0-7h0m1 9h0m0 0h0m0-10h0m0 5h0m0-15h0m0 11h0m0-13h0m0 15h0m0-7h0m0 3h0m1 10h0m0 1h0m0-14h0m0 8h0m0-13h0m0 15h0m0-7h0m0 2h0m0-11h0m0 9h0m0 10h0m1 0h0m0-15h0m0 6h0m1 3h0m0-10h0m0 3h0m0 6h0m0-7h0m0 15h0m0-6h0m0 5h0m0-3h0m0 0h0m1-15h0m0 13h0m0-6h0m0 9h0m0-15h0m0 18h0m0-15h0m0 9h0m0-6h0m1 9h0m0-1h0m0-1h0m0 2h0m0-12h0m0 1h0m0 10h0m0-4h0m0 0h0m0 4h0m0-5h0m0 4h0m0-11h0m0 14h0m0 2h0m0-11h0m1 2h0m0 8h0m0-13h0m0 4h0m0-2h0m0 6h0m1-15h0m0 6h0m0 6h0m0-1h0m0-10h0m0 18h0m0-7h0m0 3h0m0 5h0m1-13h0m0 8h0m0 3h0m0-10h0m0-2h0m0 9h0m0-2h0m0-9h0m0 8h0m0-3h0m0-7h0m0 9h0m1 10h0m0-7h0m0-2h0m0 9h0m0-11h0m0-3h0m0 2h0m0 10h0m0-4h0m0 4h0m1-17h0m0 19h0m0-16h0m0 8h0m0-1h0m0 7h0m0-12h0m0-4h0m0 17h0m0-10h0m0 4h0m0 2h0m0 1h0m1 4h0m0-13h0m0 5h0m0 0h0m0-2h0m0 4h0m0 1h0m0 5h0m0-5h0m1-15h0m0 8h0m0 2h0m0-4h0m0-1h0m0 0h0m0-8h0m0 22h0m1-1h0m0 2h0m0-7h0m0 2h0m0-13h0m0 9h0m0 9h0m0-10h0m0-9h0m0 8h0m1 10h0m0-6h0m0-5h0m0 12h0m0-5h0m0 2h0m0-15h0m0 13h0m0 4h0m0-1h0m0-9h0m0-2h0m1 2h0m0 10h0m0-22h0m0 2h0m0 20h0m0-10h0m0-3h0m1 0h0m0-2h0m0 8h0m0 5h0m0 1h0m0-7h0m0 4h0m0-10h0m0 9h0m0-15h0m0 12h0m1 1h0m0-5h0m0 6h0m0 2h0m0-9h0m0-4h0m1 2h0m0 2h0m0 7h0m0 2h0m0-4h0m0 9h0m0-9h0m0-6h0m0 3h0m0 4h0m0 6h0m1-7h0m0-12h0m0 18h0m0 1h0m0 0h0m0-2h0m0 1h0m0-1h0m0-9h0m1 12h0m0 1h0m0-9h0m0-13h0m0 10h0m0-8h0m0 19h0m0-10h0m0 11h0m0 0h0m0 0h0m0-16h0m0-5h0m1 21h0m0-17h0m0 16h0m0-18h0m0 9h0m0 9h0m0-1h0m0-3h0m0-3h0m0-13h0m1 7h0m0 14h0m0-15h0m0 10h0m0 0h0m0 3h0m0-21h0m0 21h0m0 0h0m0-10h0m0 11h0m1 1h0m0-12h0m0 12h0m0-14h0m0 9h0m0-6h0m0 7h0m0-9h0m0-2h0m0 8h0m0 4h0m0-2h0m1 5h0m0-11h0m0 0h0m0 5h0m0 3h0m1 3h0m0-7h0m0 3h0m0-15h0m0 6h0m0 8h0m0-1h0m0-1h0m0 1h0m0-6h0m0 9h0m0-11h0m0 13h0m1-19h0m0 18h0m0-1h0m0 1h0m0-19h0m0 18h0m0-3h0m0-12h0m1 18h0m0-21h0m0 5h0m0 13h0m0-10h0m0-6h0m1 6h0m0 5h0m0-6h0m0 8h0m0-5h0m1 10h0m0 1h0m0-16h0m0 5h0m0 10h0m0-13h0m0 7h0m0 4h0m0 0h0m0-7h0m0 2h0m0-8h0m0 13h0m1 0h0m0-1h0m0-7h0m0 8h0m0 3h0m0-4h0m0-8h0m0 2h0m0-3h0m0 7h0m1 6h0m0-3h0m0-3h0m0 5h0m0-8h0m0 8h0m0-8h0m1 4h0m0 4h0m0 0h0m0-6h0m0 0h0m0 3h0m0-15h0m0 6h0m1 12h0m0-5h0m0 0h0m0-3h0m0-8h0m0-6h0m0 23h0m0-1h0m0-4h0m0-4h0m0 3h0m1 3h0m0 0h0m0-6h0m0 5h0m0-3h0m0-10h0m0-2h0m0 15h0m0-3h0m0-15h0m1 2h0m0 6h0m0 13h0m0-3h0m0-5h0m0-7h0m0 9h0m0 5h0m1 1h0m0 1h0m0-7h0m0-8h0m0 0h0m0-1h0m0 16h0m0 0h0m0-2h0m0-5h0m0-9h0m0-3h0m1 19h0m0-19h0m0 12h0m0-4h0m0-1h0m1 4h0m0-3h0m0 5h0m0-7h0m0 11h0m0-18h0m0 20h0m0-14h0m0-8h0m1 5h0m0 14h0m0-12h0m0 14h0m0-2h0m0 0h0m0-1h0m0 4h0m0-1h0m1-2h0m0-11h0m0 2h0m0 4h0m0 2h0m0 1h0m0-4h0m0 8h0m1-15h0m0 6h0m0 7h0m0-13h0m0 15h0m1-4h0m0-2h0m0 1h0m0-16h0m0 18h0m0-4h0m0 5h0m0-8h0m1 11h0m0-8h0m0-3h0m0 0h0m0 3h0m0-13h0m0 11h0m0 5h0m1 4h0m0-1h0m0-16h0m0 14h0m0 2h0m0-12h0m0-7h0m0 10h0m0 7h0m0-19h0m1 18h0m0-3h0m0 0h0m0 6h0m0 0h0m0-9h0m1 11h0m0-11h0m0-4h0m0 1h0m0 8h0m0-4h0m0-12h0m0 14h0m1 8h0m0-1h0m0-1h0m0-1h0m0-2h0m0-4h0m0-14h0m0 13h0m0-8h0m0 10h0m1-2h0m0-10h0m0 10h0m0-4h0m0 3h0m0-3h0m0 3h0m1 9h0m0-5h0m0 6h0m0-1h0m0-8h0m0-12h0m1 5h0m0 6h0m0-3h0m0-7h0m0 16h0m0-6h0m0 8h0m0-6h0m0-4h0m1 2h0m0-2h0m0 8h0m0-2h0m1 4h0m0 2h0m0-3h0m0-1h0m0-2h0m0-14h0m0 9h0m0 11h0m0-7h0m1-7h0m0 1h0m0-1h0m0 9h0m0-3h0m0-14h0m0 21h0m0-11h0m0-2h0m0 12h0m0-19h0m1 21h0m0 1h0m0-4h0m0-6h0m1-2h0m0 1h0m0 4h0m0 1h0m0-5h0m0 2h0m0 1h0m1 8h0m0-13h0m0 12h0m0-1h0m1 1h0m0-17h0m0 17h0m0 1h0m0-4h0m0 3h0m0-2h0m0-2h0m1 2h0m0-5h0m0 4h0m0-13h0m0 6h0m0 6h0m0-2h0m0-3h0m1-8h0m0 4h0m0 2h0m0 4h0m0 5h0m0 0h0m1-2h0m0-8h0m0 10h0m0-8h0m0 6h0m0-15h0m1 18h0m0-7h0m0 0h0m0 0h0m0-1h0m0 2h0m0-5h0m0-6h0m1 19h0m0-18h0m1-2h0m0 9h0m0 6h0m0-14h0m0 3h0m0 5h0m0 7h0m1-6h0m0-10h0m0 10h0m0 7h0m0 0h0m1 2h0m0-3h0m0-6h0m0-5h0m0 4h0m0 4h0m0-5h0m0-1h0m1 8h0m0 0h0m0-4h0m0 3h0m1-10h0m0 9h0m0-14h0m1 14h0m0-3h0m0 0h0m0 10h0m1-11h0m0 4h0m1 6h0m0-2h0m0 2h0m0-14h0m0 8h0m0 2h0m0-7h0m0 1h0m1 8h0m0-7h0m0 0h0m1 5h0m0-9h0m0 12h0m0-5h0m0 1h0m0 3h0m0-8h0m0 5h0m0 5h0m1 0h0m0-4h0m0 0h0m0-1h0m0 2h0m0 0h0m1-4h0m0-5h0m0 2h0m0-3h0m0 3h0m0 11h0m0-3h0m1 3h0m0-1h0m0 1h0m0-4h0m0-12h0m0 15h0m0 0h0m0-4h0m0 2h0m1-16h0m0 2h0m0-5h0m1 14h0m0 8h0m0-16h0m0 6h0m0 5h0m0-18h0m1 18h0m0-7h0m0 8h0m0-2h0m0 4h0m1-14h0m0 15h0m0-6h0m0 7h0m0-6h0m0-13h0m1 19h0m0 0h0m0 0h0m0-5h0m0 3h0m0-6h0m0-13h0m0 11h0m1 10h0m0 0h0m0-13h0m0 5h0m1 3h0m0 4h0m0-22h0m0 9h0m1 10h0m0-16h0m0 13h0m0-10h0m0-2h0m0 12h0m1 2h0m0 5h0m0-7h0m0-5h0m0 9h0m1 2h0m0-3h0m0 3h0m0-12h0m1 9h0m0 1h0m0-3h0m0-5h0m0 3h0m2-10h0m0 13h0m0-2h0m0 4h0m0-4h0m0 5h0m0-1h0m1-2h0m1-5h0m0-4h0m0 14h0m1-19h0m0 10h0m0-5h0m1 13h0m0 1h0m0-12h0m0 6h0m2-14h0m0 15h0m0-10h0m2 10h0m0-14h0m0 18h0m0-6h0m0-4h0m0 9h0m1-2h0m0 2h0m0-15h0m0-1h0m1 5h0m1 12h0m0 1h0m1-16h0m1 14h0m1-21h0m1 9h0m0-8h0m2 6h0m1 15h0m0 1h0m2-5h0m0 2h0m0-13h0m0 6h0m1 10h0m2-16h0m1 16h0m0-2h0m0-1h0m0-6h0m1-13h0m1 21h0m2 1h0m0-17h0m2 13h0m2 4h0m1 0h0m2-13h0m2 10h0m1 3h0m0 0h0m1-6h0m1 6h0m1-18h0m0-4h0m1 22h0m3-5h0m1-4h0m3 9h0m0-1h0m1 1h0m7-9h0m2 9h0m1 0h0m4-9h0m-5 10h0m-5 0h0m-11 0h0m-1 0h0m0 0h0m-3 0h0m-2 0h0m-1 0h0m-2 0h0m0 0h0m0 0h0m-2 0h0m-3 0h0m-2 0h0m-4 0h0m-3 0h0m-3 0h0m-3 0h0m-3 0h0m-1 0h0m-5 0h0m-1 0h0m-1 0h0m-1 0h0m-1 0h0m-1 0h0m-7 0h0m-3 0h0m0 0h0m-3 0h0m0 0h0m-4 0h0m-3 0h0m-1 0h0m-1 0h0m-1 0h0m0 0h0m-1 0h0m-1 0h0m-2 0h0m-2 0h0m-3 0h0m-1 0h0m-7 0h0m-5 0h0m-4 0h0m-1 0h0m-3 0h0m-8 0h0m0 0h0m-4 0h0m-2 0h0m0 0h0m0 0h0m-6 0h0m-3 0h0m-1 0h0m-5 0h0m-2 0h0m-3 0h0m-5 0h0m0 0h0m-4 0h0m-3 0h0m-1 0h0m-3 0h0m-2 0h0m-1 0h0m-1 0h0m0 0h0m-4 0h0m0 0h0m-1 0h0m0 0h0m-5 0h0m-1 0h0m-2 0h0m0 0h0m-1 0h0m-5 0h0m0 0h0m-1 0h0m-9 0h0m-2 0h0m-5 0h0m-6 0h0m0 0h0m-1 0h0m-4 0h0m0 0h0m-1 0h0m-1 0h0m-1 0h0m-10 0h0m-2 0h0m-1 0h0m-1 0h0m-2 0h0m-4 0h0m-3 0h0m-3 0h0m-2 0h0m-1 0h0m-4 0h0m-4 0h0m-3 0h0m-6 0h0m-5 0h0m-3 0h0m0 0h0m-1 0h0m0 0h0m-4 0h0m-3 0h0m-4 0h0m0 0h0m-1 0h0m-1 0h0m0 0h0m-2 0h0m-2 0h0m-1 0h0m-1 0h0m-5 0h0m-2 0h0m0 0h0m-1 0h0m-5 0h0m-2 0h0m-3 0h0m0 0h0m-5 0h0m-3 0h0m-2 0h0m0 0h0m-2 0h0m0 0h0m-2 0h0m-2 0h0m0 0h0m-1 0h0m0 0h0m-1 0h0m-2 0h0m0 0h0m0 0h0m-1 0h0m-7 0h0m-5 0h0m-1 0h0m-1 0h0m-10 0h0m-4 0h0m-1 0h0m-3 0h0m-1 0h0m-3 0h0m-3 0h0m0 0h0m-2 0h0m-2 0h0m-3 0h0m-1 0h0m-7 0h0m-2 0h0m-1 0h0m-4 0h0m-2 0h0m-2 0h0m-1 0h0m-5 0h0m-2 0h0m-2 0h0m-2 0h0m-1 0h0m-2 0h0m0 0h0m-1 0h0m-3 0h0m-4 0h0m-4 0h0m-4 0h0m-5 0h0m-4 0h0m-9 0h0m-1 0h0m-1 0h0m-7 0h0m-1 0h0m-5 0h0m-3 0h0m-3 0h0m-1 0h0m-2 0h0m-5 0h0m-2 0h0m-1 0h0m-3 0h0m-4 0h0" stroke="#0000ff" stroke-width="3.4" stroke-linecap="square" opacity="0.8"/>
<circle cx="419" cy="677.9" r="2.3" fill="#ff0000"/>
<rect x="419.0" y="545.6" width="123.0" height="132.3" fill="none" stroke="#9a9a9a" stroke-width="0.6"/>
<path d="M419,677.9v-1.3M419,545.6v1.3M419.0,677.9h1.3M542.0,677.9h-1.3M449.8,677.9v-1.3M449.8,545.6v1.3M419.0,644.8h1.3M542.0,644.8h-1.3M480.5,677.9v-1.3M480.5,545.6v1.3M419.0,611.8h1.3M542.0,611.8h-1.3M511.2,677.9v-1.3M511.2,545.6v1.3M419.0,578.7h1.3M542.0,578.7h-1.3M542,677.9v-1.3M542,545.6v1.3M419.0,545.6h1.3M542.0,545.6h-1.3" stroke="#9a9a9a" stroke-width="0.5"/>
<text x="419" y="688.4" font-size="7.4" text-anchor="middle">-100</text>
<text x="416.8" y="681.3" font-size="7.4" text-anchor="end">-100</text>
<text x="449.8" y="688.4" font-size="7.4" text-anchor="middle">-50</text>
<text x="416.8" y="648.2" font-size="7.4" text-anchor="end">-50</text>
<text x="480.5" y="688.4" font-size="7.4" text-anchor="middle">0</text>
<text x="416.8" y="615.1" font-size="7.4" text-anchor="end">0</text>
<text x="511.2" y="688.4" font-size="7.4" text-anchor="middle">50</text>
<text x="416.8" y="582.1" font-size="7.4" text-anchor="end">50</text>
<text x="542" y="688.4" font-size="7.4" text-anchor="middle">100</text>
<text x="416.8" y="549" font-size="7.4" text-anchor="end">100</text>
<text x="480.5" y="543.8" font-size="7.4" text-anchor="middle">Search history</text>
<text x="478.5" y="698.3" font-size="7.2" text-anchor="middle">x<tspan font-size="5" dy="1.5">1</tspan></text>
<text x="398.5" y="611.8" font-size="7.2" text-anchor="middle" transform="rotate(-90 398.5 611.8)">x<tspan font-size="5" dy="1.5">2</tspan></text>
<clipPath id="rc5"><rect x="419.0" y="723.6" width="123.0" height="132.3"/></clipPath>
<g clip-path="url(#rc5)" fill="none" stroke-width="0.7" opacity="0.9">
<path d="M419.0,765.5H542.0M419.0,805H542.0" stroke="#9898ee"/>
<path d="M419.0,756.4H542.0M419.0,813.2H542.0M419.0,819.8H542.0" stroke="#88a8f0"/>
<path d="M419.0,749.2H542.0M419.0,744.2H542.0M419.0,823.8H542.0M419.0,828H542.0M419.0,832.9H542.0" stroke="#60d0ea"/>
<path d="M419.0,740.3H542.0M419.0,736H542.0M419.0,837.2H542.0M419.0,842.7H542.0" stroke="#70dcd0"/>
<path d="M419.0,731.7H542.0M419.0,727.8H542.0M419.0,847.6H542.0M419.0,851.9H542.0" stroke="#c8e0a0"/>
<path d="M419.0,724.3H542.0" stroke="#f0d890"/>
</g>
<path transform="scale(0.25)" d="M1708 2897h0m110 0h0m22 1h0m23-1h0m19 1h0m1-2h0m0 4h0m0 2h0m1-1h0m0-6h0m0 1h0m0 5h0m0 2h0m1-1h0m0-1h0m0-5h0m1 2h0m1-2h0m0 4h0m0-5h0m108 6h0m18 0h0m50 2h0m1 22h0m-4-9h0m-25-7h0m-37 5h0m-20 7h0m-70 3h0m-15-13h0m-6-2h0m0 10h0m0 1h0m0 0h0m-1-13h0m0 1h0m0 11h0m0 8h0m0-23h0m0 14h0m0-6h0m0 12h0m0-4h0m-1-4h0m0 8h0m0-5h0m0-2h0m0-6h0m0 15h0m0-10h0m0 10h0m0-8h0m0-13h0m0 18h0m0 1h0m0-13h0m0 9h0m0-13h0m-1-3h0m0 13h0m0-13h0m0 1h0m0 0h0m-1 0h0m0 19h0m-1-17h0m0 5h0m0 5h0m-33 3h0m-7-14h0m-11 20h0m-9-22h0m0 9h0m-19-5h0m-112 36h0m113-5h0m34 11h0m21-19h0m9 5h0m7 7h0m2 5h0m1-1h0m0-13h0m2 10h0m2-4h0m0 10h0m1-13h0m0-6h0m0 7h0m0 11h0m0-14h0m1 3h0m0 13h0m0-1h0m0-19h0m0 8h0m0 6h0m0-6h0m0-5h0m0 1h0m0 14h0m0 2h0m1-17h0m0 0h0m0 10h0m0-7h0m0 5h0m0-14h0m0 1h0m0 19h0m0-5h0m0-3h0m0-10h0m0 15h0m1 4h0m0-20h0m0 19h0m0-6h0m0-4h0m0 6h0m1-7h0m0-5h0m0-2h0m0 11h0m0-11h0m0 20h0m1-5h0m0 4h0m0-3h0m1 1h0m8 4h0m112-12h0m18-4h0m105 7h0m-87 12h0m-20 19h0m-36-15h0m-19 8h0m-62-9h0m0 4h0m-3 6h0m0 3h0m-4-11h0m-1-6h0m-2 14h0m-2 5h0m0-19h0m0 13h0m0 3h0m-1-3h0m-1-3h0m0-11h0m-1 14h0m0 5h0m0-2h0m-1 2h0m0-11h0m0 10h0m0-18h0m0 20h0m0-9h0m-1-2h0m0 14h0m0-12h0m0 6h0m-1-5h0m0 9h0m0-10h0m0 8h0m-1 4h0m0-23h0m0 5h0m0 8h0m0-4h0m-1 12h0m0 2h0m0-7h0m0-3h0m0-2h0m0 7h0m0-1h0m0 1h0m0-2h0m0-9h0m0 13h0m-1-8h0m0 8h0m0-16h0m0 17h0m0-20h0m0 21h0m0-1h0m0-3h0m0-16h0m0 16h0m-1-1h0m0 4h0m0-6h0m0-8h0m0 9h0m0-1h0m0 8h0m0 0h0m-1-12h0m0-6h0m0 11h0m0-8h0m0 13h0m0-17h0m0 3h0m0 11h0m0-13h0m0-4h0m0-1h0m0 22h0m0-6h0m0 7h0m0-12h0m0-11h0m0 21h0m0-19h0m0 0h0m0 5h0m0 6h0m0 2h0m0 8h0m0 0h0m0-1h0m0-10h0m0-6h0m-1 8h0m0-9h0m0 13h0m0-6h0m0 11h0m0-7h0m0 4h0m0-15h0m0 6h0m-1 7h0m0-1h0m0-6h0m0-5h0m0 8h0m0-14h0m-1 0h0m0 4h0m0 15h0m0-4h0m0-2h0m0 6h0m-1-3h0m0-7h0m0 12h0m0-12h0m0-3h0m-1 16h0m0-2h0m0-1h0m0-19h0m0 11h0m-1 2h0m-1 10h0m0-1h0m0-4h0m0-7h0m-1 10h0m0-12h0m0 12h0m0 0h0m-1 1h0m0-21h0m0 9h0m-1 7h0m-1-8h0m-1 5h0m-1 9h0m-1-7h0m0 2h0m-1-9h0m0-9h0m-1 15h0m-1 7h0m-3 1h0m-3-2h0m-4-3h0m-12 4h0m-36-19h0m-8 19h0m-124 25h0m97-22h0m60 9h0m13-10h0m4 6h0m5 0h0m3-1h0m0 3h0m2-3h0m1 2h0m1 5h0m1 5h0m1-8h0m1 7h0m1 1h0m0-5h0m0 8h0m0-8h0m0 6h0m0-11h0m1 1h0m1 7h0m0 4h0m1 2h0m0-7h0m1 6h0m0-4h0m0-1h0m1 1h0m0 4h0m0-1h0m0 2h0m1-1h0m0-3h0m0-3h0m0-10h0m0 4h0m0-6h0m0 11h0m0-12h0m1 18h0m0-1h0m0-11h0m1 7h0m0-2h0m0-6h0m0 16h0m1-3h0m0 3h0m0-5h0m0-14h0m0 13h0m0-15h0m1 14h0m0 6h0m0-5h0m0 0h0m0-16h0m0 7h0m0 11h0m0-1h0m1-14h0m0 4h0m0 6h0m0-10h0m1 14h0m0 5h0m0 0h0m0 1h0m0-10h0m0 5h0m1-3h0m0-3h0m0 11h0m0-22h0m0 5h0m1 3h0m0 14h0m0-5h0m0 3h0m1-19h0m0 6h0m0 15h0m0-19h0m0 11h0m0-4h0m0 7h0m0-8h0m0 7h0m0-13h0m0 13h0m0-16h0m1 0h0m0 22h0m0-19h0m0-2h0m0 7h0m0 6h0m0 1h0m0 3h0m0-8h0m0 5h0m0 0h0m0-16h0m1 18h0m0-18h0m0 13h0m0 2h0m0 3h0m0-6h0m0-9h0m0 16h0m0-7h0m0 11h0m0-2h0m0-20h0m0 10h0m0-5h0m0-2h0m0 7h0m0-6h0m0-2h0m0 13h0m0-5h0m1-9h0m0 4h0m0-2h0m0 15h0m0 3h0m0-10h0m0 8h0m0-19h0m0 9h0m0-5h0m0 7h0m0-7h0m0 12h0m0-13h0m0 2h0m0 13h0m0-7h0m0-3h0m0 10h0m0-19h0m0 13h0m0-9h0m0 16h0m0-19h0m1 4h0m0 8h0m0-6h0m0-3h0m0 17h0m0-3h0m0 2h0m0-15h0m0 10h0m0-4h0m1 10h0m0-3h0m0-12h0m0-2h0m0 12h0m0-14h0m0 17h0m0 0h0m0-5h0m0-8h0m0 14h0m0-1h0m0-7h0m1-10h0m0 1h0m0 13h0m0 3h0m0-13h0m1-4h0m0 12h0m0-12h0m0 6h0m0 13h0m0-14h0m0 10h0m0-2h0m1-1h0m0-3h0m0-9h0m0 12h0m1-12h0m0 11h0m0-5h0m0-2h0m1 2h0m0 4h0m0-5h0m0 4h0m1 10h0m0-21h0m0 10h0m0 6h0m1-8h0m0-4h0m0 0h0m0 14h0m2 1h0m0-6h0m1 7h0m0 2h0m1-14h0m0-1h0m0-6h0m1 20h0m0-16h0m1 5h0m0 10h0m0-3h0m1-6h0m0 11h0m2-4h0m1-5h0m2 1h0m1 4h0m2-9h0m6-5h0m4 11h0m61-4h0m50 4h0m27-2h0m107 5h0m-120 7h0m-12 6h0m-61 10h0m-65-2h0m-2-12h0m-1-2h0m0 8h0m-1 6h0m-1-11h0m0 14h0m0-15h0m0 1h0m-1 7h0m0-6h0m-1 14h0m-1-4h0m0-6h0m0 4h0m0-6h0m-1-6h0m0 1h0m0 18h0m0-4h0m0-9h0m0 8h0m-1 0h0m0-10h0m0 3h0m0-7h0m0 13h0m-1-7h0m0-7h0m0 11h0m0-4h0m-1-1h0m0-2h0m0 8h0m-1 9h0m0-13h0m0 15h0m0-19h0m0 16h0m0-13h0m-1-6h0m0 12h0m0-13h0m0 15h0m0-7h0m0 7h0m0-14h0m0 5h0m-1-4h0m0 16h0m0-14h0m0 0h0m0 10h0m0 1h0m0-3h0m0 4h0m0 3h0m0-18h0m-1 22h0m0-20h0m0-3h0m0 23h0m0-17h0m0 5h0m0-9h0m0 19h0m0-2h0m0-19h0m0 12h0m0-10h0m0 3h0m-1 6h0m0 3h0m0 6h0m0-4h0m0-14h0m0 19h0m0-19h0m-1 5h0m0 8h0m0 6h0m0-16h0m0 17h0m0-13h0m0 10h0m0-10h0m-1 2h0m0-9h0m0 5h0m0-1h0m0 3h0m0-9h0m0 22h0m0-3h0m0 3h0m0-7h0m0-13h0m0 1h0m-1 6h0m0 9h0m0-15h0m0 5h0m0-6h0m0 14h0m0-13h0m0 13h0m0-6h0m0 1h0m0-2h0m-1-2h0m0 13h0m0-14h0m0 0h0m0-4h0m0 9h0m0-11h0m0 15h0m0-3h0m0 10h0m0 1h0m0-15h0m0-1h0m0-6h0m0 11h0m0-10h0m0 0h0m0 7h0m0 14h0m0-1h0m0-17h0m0-5h0m0 20h0m0-12h0m0 0h0m0-6h0m-1 9h0m0 3h0m0-8h0m0 12h0m0-18h0m0 10h0m0-6h0m0 1h0m0-3h0m0 8h0m0 12h0m0-20h0m0 20h0m0-22h0m0 14h0m0 9h0m-1-4h0m0-19h0m0 14h0m0-13h0m0 8h0m0 14h0m0-9h0m0-10h0m0 14h0m0-17h0m0 22h0m0-17h0m0-6h0m0 7h0m0 4h0m0 10h0m0-3h0m0 5h0m0-14h0m0 4h0m-1-11h0m0 4h0m0 16h0m0-2h0m0-12h0m0-1h0m0-1h0m0 5h0m0-11h0m0 1h0m0 9h0m0-9h0m0 18h0m0-5h0m0-6h0m0-1h0m0-6h0m-1 4h0m0 4h0m0 10h0m0-4h0m0-1h0m0-5h0m0 8h0m-1-5h0m0 10h0m0-8h0m0-14h0m0 15h0m0-9h0m-1-2h0m0 1h0m0 2h0m0-1h0m0 2h0m0 10h0m-1-15h0m0 1h0m0-3h0m0 14h0m0-5h0m0 3h0m0 3h0m-1-4h0m0 6h0m0-2h0m0 1h0m0-1h0m-1-12h0m0 16h0m0-4h0m0-1h0m0-4h0m0-5h0m0 12h0m-1-16h0m0 13h0m0-9h0m0 16h0m0-21h0m0 16h0m0-10h0m0 6h0m0 1h0m0 7h0m0-10h0m-1-3h0m0-8h0m-1 17h0m0-17h0m0 20h0m-1-4h0m0-6h0m0 10h0m0-5h0m0-14h0m-1 8h0m0 7h0m0-4h0m0-1h0m0 7h0m-1 3h0m0-3h0m0 0h0m0-11h0m0 13h0m0-17h0m-1-3h0m0 12h0m-1-11h0m-1 1h0m-2-2h0m-1 20h0m-3-8h0m-2 11h0m-1-21h0m-6 4h0m-24 9h0m-10 7h0m-37-11h0m16 31h0m23-9h0m31 6h0m6-2h0m5-12h0m0 0h0m3 3h0m1 0h0m1 18h0m1-1h0m2-4h0m2-6h0m0 12h0m2-14h0m0-7h0m0 5h0m0-3h0m1 6h0m1 0h0m0-10h0m0 9h0m0-8h0m1 11h0m0-4h0m0-4h0m0 19h0m0 0h0m1-9h0m0-11h0m0-3h0m0 21h0m0-16h0m0 16h0m0-2h0m0 0h0m1-14h0m0-5h0m0 4h0m1 5h0m0 10h0m0-2h0m0-15h0m1 3h0m0 14h0m0 1h0m0-10h0m0-9h0m1 11h0m0-11h0m0 20h0m0 2h0m0-7h0m0-2h0m0 6h0m0-14h0m0-1h0m0 17h0m0-12h0m0-2h0m1-4h0m0 18h0m0-17h0m0-2h0m0 7h0m0 7h0m0-13h0m0 18h0m0-20h0m0 15h0m0-4h0m0 3h0m1 4h0m0 0h0m0-14h0m0 15h0m0-2h0m0-4h0m0 2h0m0 2h0m0 4h0m0-19h0m0 4h0m0 3h0m0 9h0m0-17h0m0 7h0m0 7h0m1-10h0m0-2h0m0 16h0m0-19h0m0 8h0m0 2h0m0-5h0m0 14h0m0-11h0m0-5h0m0 6h0m0-10h0m0 6h0m0 9h0m0-9h0m0 10h0m0 0h0m1-2h0m0-15h0m0 19h0m0-4h0m0 2h0m0-13h0m1 3h0m0-6h0m0 12h0m0 0h0m0-3h0m0 8h0m0 3h0m1-4h0m0-1h0m0-3h0m0-8h0m1-3h0m0 12h0m0-7h0m0 13h0m0 1h0m1-14h0m0 0h0m0-4h0m0 6h0m1 4h0m0-12h0m0 11h0m1-10h0m0 5h0m0 5h0m0-5h0m0 14h0m2-1h0m0-4h0m1 2h0m0-18h0m0 2h0m0 12h0m0-3h0m1-5h0m0 9h0m1-7h0m0 5h0m0-11h0m0 17h0m0 4h0m1-19h0m1-3h0m0 16h0m1-13h0m0 12h0m0-12h0m1 7h0m0-10h0m0 22h0m1-18h0m0 14h0m6-1h0m2 4h0m10-10h0m21 3h0m105-15h0m22 3h0m85 1h0m-76 24h0m-40-3h0m-37 17h0m-78-17h0m-8 18h0m-4 4h0m0-7h0m-2 7h0m-1-11h0m-3-8h0m-1-2h0m0 8h0m-1-1h0m-1 11h0m-1-18h0m0 2h0m-2-2h0m-1 6h0m-3-8h0m0 14h0m-1-14h0m-1 17h0m-1 0h0m-1 1h0m0-16h0m0 9h0m-1-3h0m0-1h0m0 12h0m0-4h0m-1-6h0m-1-9h0m0 16h0m0 7h0m0-22h0m-1 21h0m0-1h0m0-5h0m0 2h0m-1-6h0m0-3h0m0 3h0m0-9h0m0-3h0m-1 14h0m0-8h0m0 4h0m0-2h0m0 7h0m0-13h0m0 13h0m0 2h0m0 0h0m0 6h0m0-20h0m-1 4h0m0 5h0m0-8h0m0 12h0m0-5h0m0 5h0m0-12h0m0 15h0m0-18h0m0 8h0m0 4h0m0-6h0m0 7h0m0-12h0m0 13h0m0-4h0m0-2h0m-1 11h0m0 3h0m0-3h0m0-10h0m-1-8h0m-1 11h0m0-5h0m0 12h0m0 0h0m-1 1h0m0-14h0m-1 3h0m-1 9h0m-1-16h0m0 0h0m0 19h0m-1-18h0m-1 5h0m0 3h0m-1-6h0m-1 10h0m0-6h0m0 8h0m-3-13h0m0 0h0m-1 6h0m0-1h0m-1 2h0m-3-5h0m0 5h0m-4-8h0m-2 8h0m0 2h0m-2-13h0m-7 9h0m-6-8h0m-3 40h0m6 1h0m2-4h0m5-4h0m7-8h0m0-3h0m1 17h0m2-10h0m2 1h0m2 5h0m0-13h0m0 3h0m0 13h0m3 2h0m1-4h0m0 8h0m1-21h0m0-1h0m1 11h0m0 8h0m1-17h0m2 19h0m1-1h0m0-10h0m1 10h0m0-19h0m1 4h0m1-4h0m1 5h0m0 7h0m0-8h0m1 0h0m0 1h0m0 15h0m1-18h0m0 15h0m0-4h0m0-8h0m0-3h0m0 2h0m0 18h0m0-16h0m0 13h0m1-15h0m0 6h0m0 4h0m0-1h0m0-6h0m0 1h0m0-3h0m1 15h0m0-11h0m0-8h0m0 6h0m0 13h0m0 0h0m0-4h0m1-7h0m1-9h0m1 15h0m2-8h0m0 10h0m1-6h0m1-2h0m1 5h0m2-2h0m1-8h0m2 7h0m1 9h0m0-17h0m3 3h0m0 7h0m4 9h0m1-16h0m0 6h0m1-9h0m1 19h0m2-23h0m17 8h0m8-4h0m3 6h0m53 12h0m47 3h0m-7 20h0m-4-13h0m-84 7h0m-7-11h0m-11-2h0m-8 9h0m-1 6h0m0-14h0m-5 9h0m-3 9h0m0 1h0m-6-4h0m-3-3h0m0-1h0m0-12h0m-1-1h0m-1 3h0m-2 12h0m0 5h0m-1-12h0m-1-8h0m0 13h0m-1-14h0m-2 8h0m-2 13h0m-1-6h0m-1-10h0m0 1h0m-1-1h0m0 9h0m0 5h0m0-19h0m0 22h0m0 0h0m-1-8h0m0-11h0m0 2h0m0 11h0m0-12h0m0 1h0m0 12h0m0-15h0m0 2h0m0-1h0m-1 1h0m0 18h0m0-3h0m0-18h0m0 20h0m0-8h0m0-4h0m0 1h0m0 11h0m-1-11h0m0 5h0m0 1h0m0-15h0m0 20h0m0-3h0m0-10h0m0 15h0m0-2h0m0-10h0m-1-11h0m0 4h0m0 19h0m0-23h0m0 9h0m0 4h0m0 5h0m0-5h0m0 8h0m0-14h0m-2 0h0m-2-5h0m-1 8h0m0 5h0m-1-6h0m0-4h0m-1 11h0m-1-16h0m-2 11h0m-1-5h0m-1 17h0m-2-9h0m-5-14h0m0 22h0m0-3h0m-1-18h0m-9 18h0m-1-4h0m-2-5h0m-7 2h0m-2-7h0m-1 1h0m-2 6h0m0 0h0m-3-11h0m-8 7h0m-29 9h0m-7-3h0m25 28h0m2-16h0m16 5h0m5 13h0m0-6h0m1 4h0m2 5h0m5-16h0m0-7h0m0 20h0m4-1h0m1 2h0m1-11h0m0-5h0m1 18h0m4-15h0m4 13h0m0-18h0m3 19h0m2-12h0m0 1h0m2-7h0m5 19h0m1-5h0m2-2h0m2 4h0m0 0h0m1-18h0m1 15h0m0 1h0m0-10h0m1 8h0m0-12h0m0-4h0m0 12h0m0-10h0m0 6h0m0-3h0m0 3h0m0-2h0m0 5h0m1 4h0m0-9h0m0 10h0m0-8h0m0 5h0m0 9h0m0-4h0m0-7h0m1-8h0m0 6h0m0 8h0m0-5h0m0 6h0m0 1h0m1-6h0m0 9h0m0-3h0m0-7h0m0 9h0m0-8h0m0 4h0m0 1h0m0 0h0m1 5h0m0-5h0m0-4h0m1 0h0m0-11h0m1 2h0m0-3h0m0 2h0m1 11h0m3 6h0m0-13h0m1-1h0m4 7h0m1 0h0m1 8h0m3-10h0m1 9h0m3-9h0m1-7h0m7-3h0m1 4h0m1 2h0m5-7h0m9 0h0m6 3h0m2 7h0m9 11h0m46-8h0m42 3h0m-94 18h0m0-3h0m-2-4h0m-9 0h0m-4 0h0m-1 0h0m0 11h0m-2 4h0m-1-18h0m-10 3h0m-3 10h0m-4-9h0m-3 2h0m0 6h0m-4-1h0m0-11h0m-1 10h0m-2 9h0m0-15h0m-3 8h0m0 9h0m-1-1h0m-1-6h0m-3-4h0m0-7h0m0-1h0m-1 16h0m0-2h0m0 5h0m-1-3h0m0-13h0m0 11h0m0-14h0m0 13h0m0-3h0m0-3h0m0-1h0m0 14h0m0-1h0m-1-6h0m0 6h0m0-21h0m0 13h0m0-11h0m0 4h0m0 3h0m0 3h0m-1-11h0m0 10h0m0-9h0m0 12h0m0-5h0m0 9h0m0 2h0m0-18h0m0 15h0m-1-10h0m0 4h0m0 1h0m0-9h0m0-1h0m0 7h0m-1 4h0m0-3h0m0-5h0m-1 1h0m-3-3h0m0 16h0m-2-9h0m-1-4h0m-2 13h0m-2-1h0m-2-6h0m0-10h0m-4 6h0m-1 4h0m-2 10h0m0-3h0m-3-10h0m0 13h0m-3-5h0m-4-1h0m-2 1h0m-4-11h0m-4 6h0m-2-10h0m-20-1h0m-2 15h0m-139 16h0m114 9h0m16 1h0m6-4h0m20-5h0m2 4h0m3 3h0m5-6h0m1-6h0m0 7h0m5-8h0m2-4h0m1 14h0m5 7h0m1-13h0m1 4h0m0 7h0m1-10h0m0 1h0m1 2h0m2-7h0m5 1h0m1 10h0m1-16h0m6 17h0m0-12h0m2-1h0m1-2h0m1 12h0m0 3h0m1-12h0m0 11h0m1-15h0m0 20h0m0-6h0m0-4h0m0 9h0m0-16h0m0 0h0m0 12h0m0-5h0m0-10h0m1 5h0m0 4h0m0 9h0m0-6h0m0-11h0m0 17h0m0-15h0m0 15h0m0-4h0m0-11h0m1 2h0m0 17h0m0-11h0m0 2h0m0-12h0m0 4h0m0 15h0m0-19h0m0 13h0m0-6h0m1 14h0m0-2h0m0-9h0m0-2h0m0 2h0m0 10h0m0-16h0m0 6h0m1 8h0m0-4h0m1 6h0m0-2h0m1 0h0m0-20h0m0 12h0m1 0h0m0 0h0m6 1h0m3-11h0m4 6h0m1-3h0m0 4h0m1 4h0m3 8h0m5-2h0m5-9h0m1-1h0m5-5h0m4 5h0m3 3h0m3 8h0m17-18h0m5 14h0m37-4h0m94-2h0m-106 26h0m-31 0h0m-7-6h0m-9 0h0m-4 8h0m-9-10h0m-2-1h0m-1 2h0m-1 1h0m-4 1h0m-7-1h0m-3 13h0m-3 3h0m-2-18h0m-3 18h0m-6-12h0m-1 7h0m0 5h0m-1-11h0m-1 10h0m0-17h0m0 3h0m0-5h0m0 21h0m-1-18h0m0 8h0m0-3h0m0-3h0m0-5h0m0 7h0m0 6h0m0-4h0m-1-8h0m0 7h0m0-1h0m0 10h0m0 0h0m0-19h0m0 15h0m-1-6h0m0 5h0m0 3h0m0 3h0m0-9h0m0 10h0m0-15h0m0-2h0m0 2h0m-1 11h0m0-16h0m0 10h0m0 7h0m0-16h0m-1 13h0m0 6h0m-1-4h0m0-3h0m-6-3h0m-1 2h0m0-13h0m-5 22h0m-3-8h0m-3-4h0m0 8h0m0-16h0m-3 17h0m-2-10h0m-9 10h0m-3-15h0m-2 8h0m-4-6h0m-1 2h0m-3-4h0m-2-1h0m-1 15h0m-5-16h0m-9-1h0m-1 8h0m-3 5h0m-33-13h0m-4-1h0m-16 13h0m-16-4h0m46 16h0m5 18h0m5-1h0m12-5h0m18-11h0m21 6h0m6-2h0m15-2h0m8 3h0m0 0h0m2-2h0m0 4h0m0-7h0m1 0h0m0 4h0m0-2h0m0-2h0m0-2h0m0 1h0m0-1h0m1 4h0m0-4h0m0 1h0m0 2h0m0 6h0m0 6h0m1-8h0m0-3h0m0-3h0m0 5h0m0-4h0m3 6h0m25 11h0m2-7h0m6 9h0m4-13h0m53 12h0m2-8h0m66-7h0m17 18h0m79-8h0m-174 30h0m-29-3h0m-11-5h0m-13-13h0m-2 13h0m-2-5h0m-5 9h0m-24-4h0m-7 5h0m-6-3h0m-21-13h0m-4 0h0m-3 10h0m-7 2h0m-56 2h0m-76-3h0m-22 25h0m146-1h0m23-6h0m3 11h0m6-6h0m5 10h0m5-21h0m12 11h0m2 8h0m3-5h0m13-4h0m11-8h0m1 12h0m5-13h0m2 9h0m14-2h0m3 12h0m7-13h0m11 14h0m85-16h0m35 12h0m37-13h0m-129 28h0m-96 14h0m-15-22h0m-4 16h0m-13-11h0m0 16h0m-10 0h0m-1-18h0m-13 10h0m-109 8h0m42 17h0m58-15h0m1 5h0m1 4h0m14 3h0m25 7h0m16-19h0m15 11h0m12-2h0m15 3h0m12-10h0m2 20h0m12-18h0m1 16h0m29-4h0m24 6h0m-8 24h0m-22-1h0m-3-21h0m-14 17h0m-16-14h0m-9-1h0m-1 19h0m-9-20h0m-16 2h0m0 6h0m-11 5h0m-4-14h0m-8 22h0m-2-17h0m-5 8h0m-7 9h0m-76-16h0m-5 18h0m6 19h0m13-8h0m10-9h0m8 5h0m2 13h0m32-16h0m4 12h0m1 3h0m1-17h0m14 11h0m10-5h0m3 13h0m16-5h0m1-4h0m6 6h0m4-5h0m1 1h0m23-12h0m143 2h0m78 22h0m-136 4h0m-39-2h0m-45-1h0m-1 9h0m-2 8h0m-19 3h0m-12-5h0m-7-3h0m-2-13h0m-4 9h0m-7 4h0m-7-5h0m-25-6h0m-3 10h0m-15-3h0m-3-8h0m-3 20h0m-91 10h0m16 6h0m0 0h0m5 1h0m3-1h0m0 1h0m1 0h0m3 0h0m1-1h0m9 1h0m2-1h0m22 0h0m2 1h0m2-2h0m4 1h0m15 1h0m4-8h0m11 8h0m1-1h0m4 1h0m2 0h0m5-10h0m0 10h0m3-11h0m1 11h0m12-1h0m8-3h0m0 3h0m6-1h0m1-14h0m2 14h0m3 0h0m3 2h0m1 0h0m1-4h0m1 3h0m0 0h0m1 0h0m14 0h0m8 1h0m1-1h0m3 1h0m1 0h0m1-8h0m0-4h0m1 11h0m6 1h0m8-1h0m4 0h0m4-4h0m13 5h0m10-2h0m3-6h0m23-3h0m42-4h0" stroke="#0000ff" stroke-width="3.4" stroke-linecap="square" opacity="0.8"/>
<circle cx="471.3" cy="742.1" r="2.3" fill="#ff0000"/>
<rect x="419.0" y="723.6" width="123.0" height="132.3" fill="none" stroke="#9a9a9a" stroke-width="0.6"/>
<path d="M419,855.9v-1.3M419,723.6v1.3M419.0,855.9h1.3M542.0,855.9h-1.3M449.8,855.9v-1.3M449.8,723.6v1.3M419.0,822.8h1.3M542.0,822.8h-1.3M480.5,855.9v-1.3M480.5,723.6v1.3M419.0,789.8h1.3M542.0,789.8h-1.3M511.2,855.9v-1.3M511.2,723.6v1.3M419.0,756.7h1.3M542.0,756.7h-1.3M542,855.9v-1.3M542,723.6v1.3M419.0,723.6h1.3M542.0,723.6h-1.3" stroke="#9a9a9a" stroke-width="0.5"/>
<text x="419" y="866.4" font-size="7.4" text-anchor="middle">-100</text>
<text x="416.8" y="859.3" font-size="7.4" text-anchor="end">-100</text>
<text x="449.8" y="866.4" font-size="7.4" text-anchor="middle">-50</text>
<text x="416.8" y="826.2" font-size="7.4" text-anchor="end">-50</text>
<text x="480.5" y="866.4" font-size="7.4" text-anchor="middle">0</text>
<text x="416.8" y="793.1" font-size="7.4" text-anchor="end">0</text>
<text x="511.2" y="866.4" font-size="7.4" text-anchor="middle">50</text>
<text x="416.8" y="760.1" font-size="7.4" text-anchor="end">50</text>
<text x="542" y="866.4" font-size="7.4" text-anchor="middle">100</text>
<text x="416.8" y="727" font-size="7.4" text-anchor="end">100</text>
<text x="480.5" y="721.8" font-size="7.4" text-anchor="middle">Search history</text>
<text x="478.5" y="876.3" font-size="7.2" text-anchor="middle">x<tspan font-size="5" dy="1.5">1</tspan></text>
<text x="398.5" y="789.8" font-size="7.2" text-anchor="middle" transform="rotate(-90 398.5 789.8)">x<tspan font-size="5" dy="1.5">2</tspan></text>
</svg></body></html>
